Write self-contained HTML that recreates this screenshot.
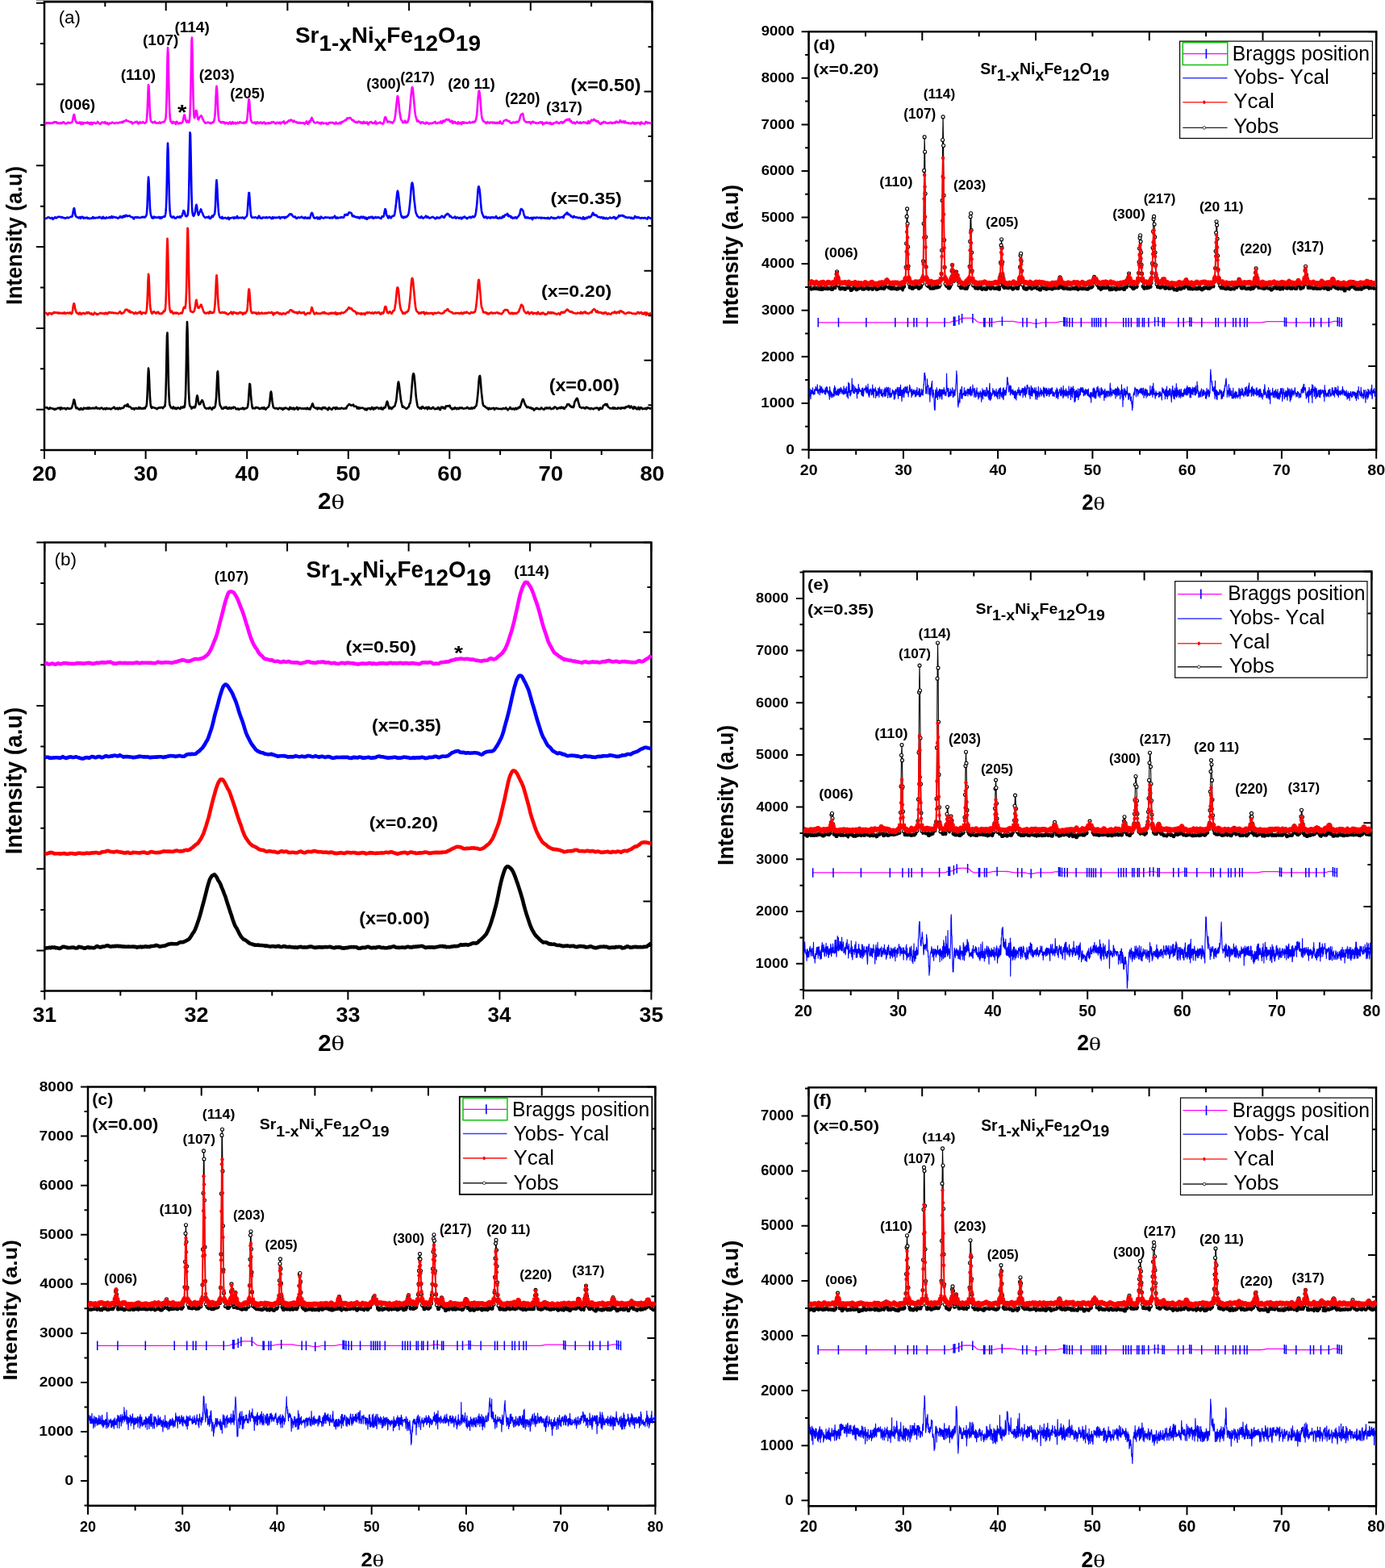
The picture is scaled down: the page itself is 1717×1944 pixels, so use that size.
<!DOCTYPE html>
<html><head><meta charset="utf-8"><title>XRD</title><style>html,body{margin:0;padding:0;background:#fff;overflow:hidden}svg{display:block}</style></head><body>
<svg width="1717" height="1944" viewBox="0 0 1717 1944">
<rect width="1717" height="1944" fill="#fff"/>
<path fill="none" stroke="#000" stroke-width="2.0" d="M45 3.7H55M50 54.1H55M45 104.5H55M50 154.9H55M45 205.3H55M50 255.7H55M45 306.1H55M50 356.5H55M45 406.9H55M50 457.3H55M45 507.7H55M50 558.1H55M55 557.9V568.9M117.8 557.9V563.9M180.6 557.9V568.9M243.4 557.9V563.9M306.2 557.9V568.9M369 557.9V563.9M431.8 557.9V568.9M494.5 557.9V563.9M557.3 557.9V568.9M620.1 557.9V563.9M682.9 557.9V568.9M745.7 557.9V563.9M808.5 557.9V568.9M55 2.3V13.3M130.3 2.3V8.3M205.7 2.3V13.3M281.1 2.3V8.3M356.4 2.3V13.3M431.8 2.3V8.3M507.1 2.3V13.3M582.5 2.3V8.3M657.8 2.3V13.3M733.1 2.3V8.3M808.5 2.3V13.3M798.5 2.3H808.5M803.5 57.9H808.5M798.5 113.4H808.5M803.5 169H808.5M798.5 224.5H808.5M803.5 280.1H808.5M798.5 335.7H808.5M803.5 391.2H808.5M798.5 446.8H808.5M803.5 502.3H808.5M798.5 557.9H808.5"/>
<path fill="none" stroke="#000" stroke-width="2.5" stroke-linecap="square" d="M55 2.3H808.5V557.9H55Z"/>
<rect x="45" y="0" width="764" height="1.2" fill="#9a9a9a"/>
<path fill="none" stroke="#ff00ff" stroke-width="2.6" stroke-linejoin="round" d="M56 152.9l.5.7.5-.2.5-.9.5-.5.5.3.5.3.5.2.5-.4.5-.3.5.7.5.3.5-.3.5-.3.5-.1.5.5.5.1.5-.4.5-.1.5.1.5-.9.5-.2.5.6.5-.4.5-.7.5.3.5.3.5-.4.5.1.5 1 .5.6.5-.5.5-.3.5.6.5.2.5-.2.5.3.5.2.5-.8.5-.4.5.5.5.5.5-.2.5-.9.5-.4.5-.2.5 0 .5.9.5.4.5 0 .5.7.5.2.5-.3.5-.1.5-.4.5-.6.5.5.5-.2.5-.7.5.3.5.5.5.1.5-.3.5-.1.5-.1.5-.3.5-.1.5-.6.5-1.8.5-2.5.5-2.4.5-2.1.5-.3.5 2.2.5 3.4.5 2 .5.7.5 1.3.5.8.5-.5.5.1.5.4.5-.3.5.6.5.1.5-1 .5-.4.5.2.5 1 .5 1.4.5-.5.5-1.7.5 0 .5 1.3.5.6.5-.8.5-.7.5.2.5.1.5-.4.5 0 .5.5.5.1.5-.3.5-.5.5-.4.5.7.5.8.5-.7.5-.3.5 1 .5.8.5.1.5-.9.5-1.2.5.1.5 1.7.5.5.5-1.5.5-.6.5.4.5-.3.5-.1.5.2.5.6.5.4.5-.1.5-.2.5-.3.5-.7.5-1 .5.4.5 1 .5.2.5.3.5.5.5.3.5 0 .5-.3.5-.8.5-.7.5-.1.5 0 .5-.2.5.3.5.5.5.2.5-.7.5-.6.5.7.5 1 .5.4.5-.4.5-.8.5.3.5 1.2.5.4.5.3.5-.3.5-1.3.5-.1.5.4.5.1.5-.1.5-.2.5-.6.5-.6.5.1.5.3.5.2.5.2.5.5.5.3.5-.3.5-.2.5-.3.5-.3.5-.1.5.2.5.3.5.2.5-.4.5-.3.5.3.5-.3.5-.4.5.2.5.2.5 0 .5-.4.5-.6.5.5.5.7.5-.6.5-1 .5-.4.5.1.5.2.5-.7.5-.1.5-.2.5-.8.5.5.5.7.5 0 .5.1.5.3.5.1.5.1.5.3.5.2.5.1.5.4.5-.2.5-.2.5 1.2.5 1.1.5-.4.5-.6.5 0 .5-.2.5-.1.5-.4.5-.6.5.4.5.1.5-.4.5-.4.5 0 .5.8.5 1.4.5.5.5-.4.5-.2.5-1 .5-.7.5.7.5.5.5-.2.5.2.5 0 .5-1 .5-.4.5.5.5.3.5.2.5.8.5.1.5-.8.5-.2.5 0 .5-1.1.5-3.3.5-7.4.5-11.7.5-14 .5-9.4.5 1.9.5 11.1.5 13.5.5 9.7.5 5.9.5 3 .5.7.5.5.5.1.5 0 .5.9.5-.2.5-.5.5.3.5-.4.5-.8.5.6.5 1 .5.3.5-.2.5 0 .5 0 .5.1.5.3.5-.1.5-.2.5-.3.5-.8.5.4.5 1 .5-.3.5-.5.5-.1.5-.2.5-.1.5-.2.5-.4.5-.1.5.3.5-.8.5-1.3.5-.6.5-2.1.5-7.1.5-15.7.5-24 .5-26.6.5-14 .5 8.5.5 22.5.5 24.2.5 17.5.5 10.5.5 5.6.5 2.5.5.9.5-.2.5.9.5 1 .5-1.2.5-.8.5.6.5.5.5.4.5-.4.5-.4.5 1.1.5 1.3.5-1.2.5-2 .5.2.5.7.5.5.5.5.5.7.5 0 .5-.5.5-.5.5-.2.5.4.5.4.5-.5.5-.5.5 0 .5-1.1.5-2.2.5-2.6.5-2.2.5-1.6.5.5.5 3 .5 2.6.5 1.4.5 1.3.5.5.5-.9.5-1.1.5.5.5 1.1.5.5.5-.4.5-2.6.5-6.4.5-11.9.5-21.4.5-31.2.5-27.1.5-4.1.5 17.2.5 27.7.5 26.4.5 17.3.5 8.4.5 2.7.5-.9.5-2.8.5-3.3.5-2.2.5-.1.5 1.6.5 3.7.5 3.8.5 1.8.5.4.5-.6.5-1.6.5-1.2.5-.4.5-.3.5-.5.5-.4.5.7.5 2.1.5 1.2.5.2.5 1.2.5 1.4.5.6.5.5.5.9.5.7.5-.2.5-.2.5-.3.5-.2.5.2.5-.2.5-.4.5.3.5.3.5.3.5-.3.5 0 .5.9.5.3.5-.2.5-.5.5-.8.5-.5.5.2.5.3.5-1 .5-1.6.5-2.1.5-4.5.5-8.2.5-11.8.5-11.3.5-4.5.5 3.2.5 9 .5 12.4.5 9.7.5 5.2.5 3.2.5 1 .5.2.5.1.5.4.5 1.1.5.1.5-.8.5-.4.5-.2.5.8.5.3.5-.7.5.1.5 1 .5.8.5-.1.5-1 .5-.3.5.4.5-.1.5.2.5 1 .5.3.5-.8.5-.4.5-.4.5-.7.5.1.5.9.5 1.3.5-.2.5-.9.5-1 .5-.5.5 1.4.5.8.5-.7.5.2.5-.2.5-.6.5.9.5.6.5-.6.5-.3.5-.2.5-.7.5.6.5.4.5-.5.5.3.5-.7.5-.8.5.4.5.4.5.1.5.1.5.4.5-.1.5-.2.5-.2.5.3.5.6.5-.3.5-1 .5-.1.5.9.5 0 .5-1.1.5-1.5.5-3.2.5-5.1.5-6.8.5-6.9.5-4.5.5 1 .5 6 .5 7.5.5 6.3.5 4.2.5 1.9.5 1 .5.7.5.4.5-.1.5-.1.5.4.5-.3.5-.6.5.1.5 1 .5.9.5 0 .5-.8.5-1.2.5-.2.5.3.5.4.5.8.5 0 .5-.2.5-.2.5-.7.5-.3.5.4.5.7.5.4.5.3.5-.4.5-1 .5 0 .5.2.5-.5.5.5.5 1.2.5.5.5-.3.5-.7.5-.1.5.3.5-.3.5.3.5.3.5-.8.5-.4.5.4.5.5.5 0 .5-.1.5-.5.5-.9.5.1.5.5.5-.4.5-.5.5 0 .5.4.5.3.5.1.5.9.5.6.5-.2.5 0 .5-.6.5-.8.5-.1.5.3.5.2.5.2.5.6.5-.5.5-.9.5 1.1.5.6.5-.6.5-.5.5-.5.5-.2.5.1.5 0 .5-.9.5-.3.5 2 .5 1 .5-.7.5-.4.5-.2.5-.4.5.5.5-.3.5-1.1.5-.3.5-.5.5-.6.5.9.5-.1.5-1.2.5 0 .5-.3.5-.2.5.7.5 0 .5.4.5 1 .5.6.5-.6.5-1.1.5.4.5 1.2.5.2.5-.1.5 0 .5 0 .5.6.5.7.5-.4.5-.2.5.6.5.1.5-.7.5 0 .5.5.5.4.5-.1.5-.4.5 0 .5.1.5.1.5-.2.5-.3.5.3.5 1 .5.4.5-.8.5-.1.5-.1.5-1.6.5-.7.5.8.5 1.5.5 1.1.5-.2.5-.6.5-1.2.5-1.8.5.1.5 1.1.5-1.1.5-2 .5-1.4.5-.8.5 1.3.5 1.6.5.3.5 1 .5 1.3.5.5.5.1.5.1.5.4.5 0 .5-.6.5-.1.5-.1.5-.4.5.3.5.7.5 0 .5.1.5.6.5-.6.5-.3.5 1.3.5.3.5-1.2.5-.6.5.1.5-.1.5.6.5.8.5-.2.5-.4.5 0 .5 0 .5.4.5 0 .5-.6.5.6.5.9.5-.7.5-.3.5.5.5-.8.5-.7.5.2.5-.3.5.1.5.4.5-.2.5-.4.5-.1.5.5.5.5.5-.6.5.3.5.8.5-.1.5.3.5.1.5-1.3.5-.6.5.8.5.7.5 0 .5-.1.5.4.5-.3.5-.6.5.3.5-.2.5-.8.5.5.5 1 .5-.7.5-1.5.5.1.5.3.5-.4.5-.7.5-.2.5.2.5-.5.5-.7.5-.4.5-.2.5.3.5-.6.5-1.2.5-.8.5.3.5.4.5-.3.5-.4.5-.3.5.1.5-.1.5.2.5 1.1.5.1.5.4.5 1.3.5.3.5-.1.5-.3.5.2.5 1.3.5.8.5 0 .5.2.5-.4.5 0 .5.8.5.4.5-.1.5-.6.5-.8.5-.3.5.2.5.2.5.3.5.7.5-.5.5.3.5 1.2.5-.7.5-.5.5 1.3.5 0 .5-1.4.5-.7.5.8.5.9.5-.3.5-.5.5.7.5.2.5-.9.5-.4.5.7.5 1.6.5.6.5-.9.5-.6.5-.7.5-.7.5.1.5-.2.5-.3.5.5.5.6.5.7.5.2.5-.5.5-.4.5.3.5.4.5-.1.5-1.3.5-1 .5 1.5.5 1.7.5-.4.5-.6.5.3.5.1.5-.4.5-.4.5.1.5-.1.5-.6.5-.1.5.8.5.7.5 0 .5-.2.5.5.5.4.5-.8.5-.6.5-1.1.5-2.7.5-2.5.5-.9.5.2.5.8.5 1.6.5 1.4.5 1.2.5 1.3.5-.2.5-.6.5 0 .5-.2.5.2.5.6.5.3.5.1.5-.5.5.3.5.8.5.4.5-.5.5-.9.5-.8.5-.6.5-1.3.5-2.4.5-3.1.5-4 .5-5.1.5-4.8.5-4.6.5-4.2.5-1.5.5 1.7.5 3.7.5 4.8.5 5.4.5 4.4.5 3.2.5 2.9.5 2.3.5 1.4.5.5.5.5.5 1.3.5 1 .5 0 .5-.1.5-.1.5-1.3.5-.9.5.6.5 1 .5 1 .5-.2.5-.9.5.5.5-.3.5-1.9.5-1.5.5-2.1.5-4.2.5-5.1.5-5.6.5-6.1.5-5.6.5-5.2.5-4 .5-2 .5.7.5 3.5.5 4.9.5 5.6.5 5.7.5 5.7.5 4.8.5 3.7.5 2.2.5 1.2.5 1.9.5 2 .5.6.5-.9.5-.3.5.8.5.8.5 0 .5.3.5 1 .5.6.5-.6.5-.7.5.1.5-.2.5-.1.5.8.5.1.5 0 .5.8.5.2.5 0 .5.1.5-.8.5-1 .5.3.5.6.5-.4.5.1.5.7.5.7.5.1.5-.6.5-.4.5.2.5-.1.5 0 .5.4.5-.4.5-.4.5.4.5-.1.5-.5.5-.6.5 0 .5-.1.5-.5.5.6.5 1.4.5-.1.5-.1.5.2.5-.3.5-.5.5-.4.5.1.5.4.5.2.5-.3.5-1.2.5-.5.5.8.5 1.2.5.2.5-.9.5-1.7.5-.6.5.8.5.4.5-.2.5-.1.5-.9.5-1.2.5-.3.5.1.5-.2.5.4.5.5.5-.5.5-.4.5.1.5.8.5 1.3.5.6.5.2.5.4.5-.2.5-1.4.5.4.5 2.6.5.5.5-1.3.5-1.1.5.6.5.5.5-.9.5.6.5 1.2.5.1.5-.1.5.4.5.2.5-1.4.5-.7.5 1.2.5.7.5-.2.5-.2.5-.8.5-.1.5 1.4.5.8.5-.6.5-1.3.5-1 .5.1.5.7.5.7.5-.3.5-.7.5.3.5.4.5-.1.5-.1.5.1.5.3.5 0 .5-.4.5-.2.5.2.5-.6.5-.6.5.7.5.7.5.1.5-.3.5-.3.5.1.5-.2.5-.8.5.1.5.6.5-.7.5-.2.5.4.5-.4.5-.9.5-1.4.5-2.5.5-3.3.5-4.9.5-7.1.5-7 .5-6 .5-4.4.5-.7.5 1.9.5 3.4.5 5.6.5 7.2.5 6.6.5 5.4.5 3.4.5 1.7.5 1.3.5 1.1.5.2.5 0 .5.6.5.4.5 0 .5.6.5.9.5.2.5-.6.5-.9.5-.4.5.5.5.4.5-.1.5.2.5.6.5-.4.5-.8.5-.1.5.3.5 0 .5-.2.5.4.5.6.5-.4.5-.6.5.1.5.6.5.6.5 0 .5-.8.5-.2.5.9.5.2.5-.3.5-.4.5-.6.5.2.5.7.5.3.5-1.2.5-1.3.5.8.5 1.4.5.4.5.3.5.3.5-.4.5-.8.5-1.3.5-1.3.5.1.5-.2.5-.7.5 0 .5-.1.5-.4.5.1.5.5.5.5.5.5.5.1.5-.3.5.2.5.2.5.8.5 1 .5.1.5-.1.5.5.5.2.5-.5.5-.3.5-.5.5.1.5.3.5-.1.5.5.5 0 .5-.7.5 0 .5-.3.5-.6.5.2.5.6.5 0 .5-.5.5-.6.5-.9.5-1.1.5-1.7.5-2.2.5-1.5.5-1 .5-.3.5-.2.5-.5.5-.1.5 1.3.5 3 .5 2.8.5 1.4.5.7.5.3.5.4.5.6.5.1.5-.2.5.3.5-.1.5 0 .5.2.5-.1.5-.4.5.1.5.2.5.8.5 1 .5-.7.5-.9.5-.2.5-.6.5-.3.5 1 .5.5.5-.5.5 0 .5.1.5.4.5.6.5.2.5-.3.5-.2.5.2.5-.1.5.2.5.1.5-.7.5-.3.5.3.5-.4.5-.4.5.5.5.7.5-.6.5-.6.5 1.5.5 1.6.5-.5.5-1.3.5-.1.5.5.5.1.5-.7.5-.4.5.7.5-.1.5-.9.5.2.5.6.5.2.5.3.5.2.5-.3.5-.8.5-.3.5 1 .5 1.2.5 0 .5-1 .5-.2.5.9.5.1.5-.6.5-.5.5-.4.5 0 .5-.2.5-.1.5.2.5-.7.5-.7.5.6.5.9.5 0 .5-.1.5.5.5.4.5-.3.5-.7.5-.1.5-.2.5-.6.5-.2.5.3.5.8.5.7.5-.7.5-.9.5.2.5.1.5-1.1.5-.9.5-.4.5-.2.5.2.5-.4.5-.9.5.4.5.7.5-.5.5-.3.5-.5.5-.1.5 1.7.5 1.4.5-.5.5-.3.5 1 .5 1.1.5.6.5.1.5-.4.5-.5.5-.1.5.8.5.6.5.3.5-.2.5-.7.5-.5.5-.7.5-.3.5.8.5.4.5-.1.5.5.5.3.5-.4.5-.8.5-.2.5 1.1.5.4.5-.5.5-.4.5 0 .5.1.5-.6.5-.2.5.5.5-.2.5 0 .5.5.5-.2.5-.1.5.9.5.5.5 0 .5-.3.5-1.8.5-1 .5 1.4.5 1.4.5-.5.5-1.2.5-.4.5-.6.5-1.2.5-.4.5.6.5.3.5-.4.5-.1.5-.8.5-.4.5 1 .5 0 .5.6.5.8.5-.7.5 0 .5 1.2.5.1.5-.6.5.1.5 1.1.5.8.5.1.5.6.5.8.5.2.5-.1.5-.8.5-.9.5.6.5.2.5-.8.5-.8.5-.5.5.5.5.4.5-.2.5-.1.5.6.5.5.5-.1.5.2.5.4.5-.2.5-.4.5-.3.5.2.5.3.5-.2.5-.5.5-.3.5.2.5.6.5.7.5-.2.5-.8.5.2.5.1.5 0 .5-.6.5-.2.5 1 .5-.2.5-1.3.5-.6.5.3.5.1.5.4.5.8.5 0 .5-.5.5.1.5-.3.5-1.6.5-.7.5.9.5 1 .5.6.5-.1.5-.2.5-.3.5-.7.5.1.5.9.5 1 .5-.9.5-1 .5 1.1.5.6.5 0 .5.1.5.2.5.4.5-.4.5-.1.5.7.5 0 .5-.3.5 0 .5.2.5.5.5-.2.5-.4.5-.3.5-.8.5-.1.5.8.5.7.5.4.5-.7.5-.7.5.6.5.7.5 0 .5-.8.5-.4.5.4.5 0 .5-.4.5-.2.5.3.5.3.5.8.5.8.5-.9.5-1.4.5-.5.5.5.5.8.5.2.5-.1.5.1.5.2.5.4.5.1.5-.6.5-.9.5-1 .5-.1.5.4.5.3.5.9.5.4.5-.6.5-.5.5.2.5.2.5 0 .5.4.5.2.5.1.5 0"/>
<path fill="none" stroke="#0000ff" stroke-width="2.6" stroke-linejoin="round" d="M56 270.1l.5.5.5.4.5-.3.5-.2.5-.4.5-.5.5-.2.5 0 .5.2.5-.1.5.4.5.6.5.1.5.1.5 0 .5-.3.5-.5.5.8.5 1.1.5-.3.5-.6.5-.2.5-.5.5-.9.5 0 .5.9.5.3.5-.6.5-.3.5.1.5-.3.5-.6.5 0 .5.2.5-.3.5 0 .5.3.5.2.5.5.5 0 .5-.2.5-.4.5.3.5.7.5.1.5-.3.5.2.5.1.5.3.5.3.5-.5.5-.1.5 0 .5-.6.5-.2.5.6.5.2.5-.2.5-.1.5-.3.5-.2.5-.3.5-.4.5 0 .5-.2.5.2.5-.3.5-2 .5-2.8.5-2.8.5-2.3.5-.3.5 2.4.5 3.7.5 2.6.5 1 .5.6.5.5.5.1.5.1.5.6.5.3.5-.4.5.6.5-.2.5-1.1.5.6.5 1.3.5-.5.5-1.3.5-.3.5 0 .5 0 .5.9.5 1.1.5-.4.5-.7.5.1.5.6.5-.2.5-.2.5.2.5-.6.5 0 .5 1 .5.3.5-.6.5 0 .5.6.5.1.5 0 .5-.1.5-.4.5.1.5 0 .5 0 .5-.4.5-1.2.5.2.5 1.4.5-.2.5-.6.5.4.5.3.5-.4.5 0 .5-.1.5-.2.5.3.5.1.5-.7.5.1.5.2.5-.9.5-.1.5 1 .5.2.5-.1.5-.2.5.5.5.8.5-1 .5-1 .5-.2.5.9.5 1 .5-.2.5-.4.5.2.5.5.5-.7.5-.7.5.5.5.2.5.1.5 0 .5-.1.5-.3.5-.8.5 0 .5 1 .5.2.5-.3.5-.8.5-.9.5.8.5 1.1.5-.4.5-.7.5-.2.5.2.5.4.5.2.5 0 .5-.3.5 0 .5.5.5.2.5.3.5.5.5-.3.5-.7.5 0 .5.1.5-.9.5-.8.5.6.5.6.5 0 .5.4.5-.6.5-1 .5.7.5.5.5-1.3.5-.8.5.8.5.6.5-.7.5-1 .5-.2.5.4.5.8.5.2.5-.4.5-.1.5 0 .5 0 .5-.3.5.3.5.7.5.3.5.5.5 0 .5 0 .5.2.5 0 .5.5.5 1.3.5.2.5-1.4.5-.5.5 0 .5-.3.5.2.5-.1.5.5.5.1.5-.9.5.4.5.4.5-.3.5.4.5.1.5 0 .5-.1.5-.4.5.1.5-.2.5-.5.5.2.5.4.5-.1.5-.6.5-.1.5.7.5.2.5-.5.5-.6.5-.8.5-.9.5-2.6.5-7.3.5-13.3.5-15.9.5-8.2.5 4.2.5 10.7.5 12.8.5 10.8.5 5.8.5 2.3.5 1.6.5 1.9.5.6.5-1 .5.2.5 1.2.5-.4.5-1.5.5.3.5.5.5-.5.5.4.5.6.5-.1.5-.4.5-.1.5.1.5.3.5-.1.5-.8.5.2.5 1.2.5.5.5-.7.5-.9.5.2.5 1 .5-.5.5-1 .5-.1.5.1.5-.5.5-.2.5.6.5-.5.5-2.1.5-3.3.5-6.5.5-14.5.5-24.8.5-27.3.5-12.2.5 8.7.5 20.6.5 23.4.5 18.4.5 10.9.5 5.3.5 2.8.5 1.1.5-.4.5.2.5 1.3.5-.2.5-.8.5-.3.5 0 .5.8.5.8.5.5.5.1.5-.2.5-.3.5-.8.5-.4.5-.1.5-.3.5.2.5.5.5.3.5-.6.5-.8.5.9.5.4.5-1.3.5-.3.5-.2.5-1.3.5-1.5.5-2 .5-1.9.5.3.5 1 .5 1.2.5 2.3.5 1.8.5.4.5.2.5-.1.5-.5.5-.6.5-2.3.5-6 .5-12.8.5-24.4.5-33 .5-24.2.5 1.7.5 21.5.5 28.6.5 25 .5 15.2.5 6.9.5 2.8.5 1.1.5.6.5-.4.5-1.1.5-1.6.5-2.7.5-3.5.5-3.4.5-1.3.5 1.9.5 3.9.5 3.2.5 2.4.5 1.5.5-.9.5-1.8.5-.9.5-.8.5-1.7.5-1.2.5.7.5 2 .5 1.3.5.6.5 1.6.5 1.5.5.7.5.5.5.7.5.7.5.2.5.1.5-.4.5-.4.5-.1.5.1.5.5.5.3.5-1.2.5-.5.5 1.3.5 1.2.5.2.5-.1.5-.5.5-1 .5-.9.5-.9.5.7.5.5.5-1.3.5-1 .5-.2.5-.7.5-3.1.5-7.4.5-12.5.5-13.4.5-5.8.5 4.8.5 9.6.5 10.1.5 9 .5 6.3.5 3.3.5 1.7.5 1.1.5.5.5 0 .5.6.5.2.5-1.4.5-.3.5 1.3.5.8.5-.3.5-.3.5-.2.5-.1.5-.2.5.3.5.2.5.2.5.5.5-.3.5-.7.5-.3.5-.3.5 1.3.5 1.2.5-.8.5-.8.5 0 .5 0 .5-.2.5 0 .5-.3.5-.2.5.3.5-.5.5.1.5 1.2.5-.6.5-.8.5.8.5.2.5-.1.5-.1.5-1.3.5-.9.5 1.2.5 1.2.5 0 .5-.6.5 0 .5.3.5-.2.5-.1.5 0 .5.1.5.4.5-.4.5-.3.5-.1.5 0 .5.7.5.7.5.1.5-.7.5-.6.5-.3.5-.8.5-.2.5-.5.5-3 .5-6.2.5-7.4.5-6.9.5-5.4.5 0 .5 6.1.5 8.7.5 7.4.5 4.5.5 2.6.5 1 .5.5.5.2.5-.3.5-.1.5-.2.5.1.5.3.5-.2.5-.2.5 0 .5.1.5.4.5.5.5-.1.5.2.5-.4.5-1.7.5-.7.5.4.5 1.2.5 1.1.5.1.5-.4.5 0 .5.7.5-.2.5-1 .5-.2.5.4.5-.1.5-.1.5.4.5-.1.5 0 .5.3.5-.8.5-.3.5.8.5.3.5-.3.5-.1.5-.1.5-.5.5-.1.5.5.5-.1.5.3.5.5.5.7.5.1.5-1.4.5-.5.5 1 .5.5.5-.9.5-.4.5.5.5-.2.5.1.5.4.5-.5.5-.1.5.4.5 0 .5-.2.5-.4.5-.1.5-.5.5.4.5 1.4.5.3.5-.6.5-.7.5-.1.5-.2.5-.2.5.5.5-.1.5-.4.5 0 .5 1 .5.4.5-.7.5-.9.5.2.5.5.5-.4.5-.4.5-.6.5-.4.5-.2.5-1.1.5-.2.5-.4.5-.7.5.5.5.4.5-.5.5-.1.5.9.5.9.5.5.5.7.5.4.5.2.5.1.5-.6.5 0 .5.9.5.8.5.6.5-.1.5-.6.5-.4.5-.2.5-.2.5.3.5.4.5-.3.5-.2.5.1.5-.1.5-.6.5-.3.5.7.5.5.5.2.5-.4.5 0 .5 1.1.5 0 .5-1.2.5-.4.5.7.5.4.5-.3.5.4.5.3.5-.8.5-.2.5.8.5-.1.5 0 .5.4.5-1.2.5-1.9.5-1.6.5-1.7.5-.5.5.3.5 1 .5 1.7.5 1.7.5 1.1.5.6.5.2.5 0 .5-.3.5-.3.5.2.5-.1.5-.7.5 1.3.5.8.5-1.1.5-.4.5-.3.5.6.5 1.3.5-.4.5-1.5.5-1 .5.4.5.9.5.1.5 0 .5.3.5.2.5 0 .5-.7.5-.3.5.1.5-.4.5.5.5.2.5-.4.5 0 .5.1.5.2.5-.3.5 0 .5.5.5.3.5.2.5-.4.5-.5.5.7.5 0 .5-.7.5.3.5.5.5-.9.5-.3.5.2.5-.8.5-.9.5.7.5 1.4.5.8.5-.1.5-.6.5-.4.5.7.5.3.5-.4.5 0 .5-.2.5 0 .5-.3.5-.2.5.5.5-.4.5-.4.5.2.5.3.5 0 .5 0 .5.1.5-.7.5-1.7.5-1.2.5.4.5.2.5-.8.5-.2.5.5.5.5.5 0 .5-1.2.5-1.3.5-.7.5-.2.5.5.5.2.5-.4.5.3.5.3.5.7.5 1.9.5 1.4.5-.3.5-.3.5-.1.5.5.5 1 .5-.2.5-.2.5.4.5.3.5.2.5-.2.5-.4.5.6.5.6.5-.8.5.1.5 1.1.5.2.5-.8.5-1 .5 0 .5-.1.5 0 .5 1.2.5.2.5-1.2.5-.4.5.6.5.1.5.4.5 1.3.5-.2.5-1.1.5.5.5 1.5.5 0 .5-1.3.5-.1.5.1.5-1 .5.2.5.7.5-.5.5-.7.5-.3.5.5.5.5.5-.6.5-.5.5 1 .5 1.1.5-.5.5-.6.5.2.5.3.5-.6.5-.6.5.5.5.6.5-.2.5-.3.5.3.5-.5.5-.3.5.8.5.1.5-.2.5.3.5.6.5.3.5-.1.5-1 .5-1.5.5-.2.5.6.5-.1.5-.3.5-1.6.5-3.1.5-2.8.5-1.7.5.4.5 2.2.5 3.2.5 2.1.5.5.5 1 .5 1.6.5.2.5-1.3.5-1.3.5.4.5.8.5.6.5.7.5-.3.5-.9.5-.8.5-.4.5 0 .5 0 .5-.1.5-.4.5-1 .5-2.4.5-3.7.5-3.8.5-4 .5-5 .5-5.4.5-4 .5-1.4.5 1.7.5 3.5.5 4.2.5 5.1.5 5.3.5 3.9.5 2.8.5 2.4.5 1.9.5 1.7.5.3.5-1 .5.4.5 1.3.5-.2.5-.8.5-.5.5.1.5.6.5-.4.5-.4.5.4.5-.6.5-.9.5-.2.5-.9.5-1.8.5-2.6.5-3.7.5-4.6.5-5.2.5-5.9.5-6.4.5-5.8.5-3.1.5-.7.5 1.1.5 2.9.5 4.6.5 6.7.5 6 .5 4 .5 4.1.5 4.2.5 3.2.5 1.4.5.7.5 1.7.5.7.5.2.5.8.5.4.5.4.5 0 .5-.2.5.6.5-.1.5-1.1.5-.7.5.7.5.7.5.5.5.5.5-.3.5-.4.5-.2.5-.5.5 0 .5-.6.5-1 .5.6.5 1.3.5.2.5-.6.5-.4.5.5.5.9.5-.2.5.1.5.5.5-.4.5-.2.5 0 .5-.6.5 0 .5-.2.5-.3.5.4.5.5.5.3.5.1.5.3.5.8.5.2.5-.5.5-.5.5-.9.5-.2.5.6.5.4.5-.5.5 0 .5.7.5-.7.5-.1.5.3.5-.9.5-.7.5-.5.5-.2.5.3.5 1 .5.4.5-.1.5.5.5-.3.5-1.3.5-1 .5-.7.5-.2.5.1.5-.6.5-.9.5.1.5.4.5.3.5.5.5.9.5 1.3.5 0 .5-.7.5.6.5.9.5.2.5.4.5.3.5-.1.5-.1.5.1.5-.3.5-.9.5-.3.5.9.5 1.2.5 0 .5-.4.5-.3.5-.5.5.1.5.5.5.3.5.4.5-.3.5-.5.5-.2.5 0 .5.6.5 1.1.5-.1.5-1.4.5 0 .5.2.5-.8.5-.2.5-.4.5-.2.5 1 .5.4.5-.2.5.2.5.7.5.6.5-.4.5-.7.5-.3.5-.1.5-.2.5-.3.5-.4.5.2.5.8.5.4.5-.5.5-.5.5-.6.5-.4.5.7.5.4.5 0 .5-.2.5-.8.5-1 .5-1.6.5-2.4.5-3.5.5-4.2.5-5.5.5-7.2.5-6.6.5-4.3.5-.9.5 1.6.5 2.1.5 4.2.5 6.4.5 6.2.5 5.5.5 4.3.5 2.4.5 1.4.5 1.1.5 1.3.5 1 .5 1 .5.2.5-.9.5 0 .5.6.5-.1.5-.7.5.9.5 1 .5-.4.5-.4.5-.4.5-.1.5.7.5.2.5-.1.5.4.5-.6.5-.8.5.3.5.3.5-.1.5-.4.5.2.5.7.5-.1.5-.4.5 0 .5.2.5-.6.5-1 .5.4.5 1.1.5.9.5 0 .5-.3.5.4.5-.1.5-.6.5-.5.5.2.5.6.5-.4.5-.2.5.7.5-.5.5-1.6.5-.5.5.6.5.8.5-.3.5-1.7.5-.7.5.2.5-.2.5-.3.5.1.5-.8.5-.7.5 1.1.5 2 .5.3.5-1.1.5.2.5.5.5-.1.5 1.6.5.3.5-1 .5.7.5 1.1.5.3.5-.3.5-.6.5.3.5.4.5-.3.5-.7.5-.4.5.5.5.8.5.3.5-.7.5-1 .5-.3.5-.1.5-1.1.5-1 .5-.1.5-1.4.5-3.2.5-1.9.5-.8.5-.1.5.8.5.4.5.5.5 1 .5 2.1.5 2.4.5 1 .5 1.1.5 1.7.5.1.5-.8.5-.2.5.7.5.5.5-.5.5-.4.5.4.5.6.5.1.5.1.5-.2.5-.4.5.5.5-.1.5-.6.5 1.3.5 1.1.5-1.1.5-1.1.5-.4.5.2.5.3.5.2.5-.4.5-.2.5.6.5-.3.5-.5.5.1.5.1.5.3.5.1.5 0 .5-.1.5-.2.5-.1.5 0 .5.8.5.1.5-.8.5 0 .5.4.5-.1.5.2.5.2.5-.4.5-.1.5.6.5.2.5-.4.5-.2.5.2.5.6.5-.1.5-.9.5-.2.5.4.5.7.5.3.5-.6.5 0 .5-.1.5-1 .5-.3.5.4.5.4.5.1.5.3.5.4.5-.7.5 0 .5.8.5-.1.5-.4.5.1.5.2.5-.2.5-.3.5-.5.5-.4.5-.5.5-.1.5.7.5.8.5-.1.5-.4.5-.3.5-.1.5-.1.5 0 .5 0 .5-.5.5.9.5.5.5-1.6.5-1.4.5-.7.5-.5.5-.3.5.1.5-.7.5-1.2.5-.3.5.4.5 1.2.5 1 .5-.2.5-.3.5.7.5.4.5.1.5 1.3.5.3.5-.4.5.7.5 0 .5.6.5.5.5-1.2.5-.7.5.4.5.5.5.5.5.1.5-.1.5.1.5 0 .5.1.5.4.5-.2.5.2.5.4.5-.4.5-.1.5 0 .5.3.5.5.5.4.5-.2.5-.1.5.8.5-.7.5-1.6.5.4.5 1.8.5.2.5-1 .5.2.5.1.5-.7.5-.5.5.3.5.3.5-.6.5-.5.5 0 .5-.7.5.2.5 1 .5-.3.5-.7.5-.1.5-.2.5-1.4.5-1.2.5-.6.5-1.4.5.5.5 2.1.5.3.5-.8.5.1.5.8.5.4.5-.4.5-.1.5.8.5.9.5.4.5.3.5.2.5-.3.5 0 .5 0 .5.3.5.8.5-.4.5-.5.5.1.5.2.5.7.5.7.5-.4.5-.9.5.5.5.9.5-.2.5.3.5-.2.5-.9.5.5.5.6.5.1.5.2.5-.6.5-.4.5-.1.5-.2.5-.5.5-.1.5.8.5.1.5-.2.5.2.5-.2.5-.1.5-.5.5-.7.5.6.5.7.5-.9.5.3.5 1.5.5.5.5-.7.5-.8.5-.3.5.1.5-.3.5-1.1.5-1 .5-.5.5.4.5.7.5-.4.5-.5.5.2.5.1.5 0 .5-.7.5.3.5 1.2.5-.1.5-.4.5.2.5.4.5.9.5.2.5-.3.5.1.5.5.5.1.5-.4.5.3.5.2.5-.6.5.2.5.2.5-.3.5.4.5.7.5-.3.5-.6.5.2.5.6.5.6.5-.1.5.1.5-.4.5-1.6.5-1.1.5.5.5.6.5-.2.5.6.5.5.5-.8.5-.1.5.8.5 0 .5-.5.5.5.5.6.5-.2.5.2.5.3.5-.3.5-.6.5.1.5.2.5 0 .5.1.5.3.5-.2.5-.5.5 0 .5.4.5.4.5.2.5-.1.5.4.5.4.5-.9.5-1.5.5-.1.5.8.5.1.5 0 .5.4.5.6.5-.3.5-1"/>
<path fill="none" stroke="#ff0000" stroke-width="2.6" stroke-linejoin="round" d="M56 388.6l.5-.6.5-.2.5.6.5.3.5.7.5 1 .5-.1.5-.9.5-1.2.5-.1.5.7.5-.1.5-.4.5 0 .5.8.5.7.5-.9.5-.6.5.3.5-.2.5-1 .5-.5.5.7.5.4.5-.3.5-.3.5.1.5.4.5-.1.5-.5.5.5.5.7.5-.4.5-.6.5.3.5.8.5-.2.5-.5.5.3.5.2.5.2.5 0 .5-.7.5-.2.5.6.5.4.5-.8.5-.6.5.4.5 1.1.5.2.5-.7.5-.3.5.1.5-.1.5-.3.5.2.5.5.5 0 .5-.3.5-.6.5-.1.5.5.5 1 .5.3.5-.6.5-1 .5-2.6.5-3.6.5-3.3.5-1.8.5.2.5 2.2.5 3.1.5 2.2.5 1.5.5 1.4.5.9.5.5.5.2.5-.3.5.4.5.9.5-.1.5-1.1.5-.6.5.3.5.7.5 1 .5.2.5-.9.5-.7.5 0 .5 0 .5-.4.5.1.5.8.5.4.5-.1.5-.5.5 0 .5-.2.5-1.2.5.2.5 1.1.5-.3.5-1 .5 0 .5.3.5.8.5.8.5.1.5.2.5-.7.5-.3.5 1 .5.5.5.2.5.2.5-.3.5-1 .5-1.4.5.1.5.9.5.3.5-.1.5 0 .5.8.5.5.5-.4.5-.4.5 0 .5 0 .5-.5.5-.4.5.1.5-.3.5-.4.5.4.5.5.5-.2.5-.1.5.4.5 0 .5-.4.5.3.5.6.5-.4.5-1 .5-.2.5.2.5.7.5.8.5-.9.5-.5.5.5.5-.8.5-.7.5.4.5.3.5-.3.5-.3.5.3.5.7.5-.1.5-.4.5-.2.5.4.5.4.5-.2.5-.2.5.4.5.1.5-.2.5-.1.5.2.5.2.5.1.5.2.5.1.5-.2.5-.5.5-.5.5-.4.5-.9.5-.1.5 1.1.5 1 .5.7.5 0 .5-.5.5-.7.5 0 .5.2.5-.6.5-.7.5-.9.5-1 .5-.9.5-.1.5.4.5-.2.5-.2.5.2.5.4.5 1.2.5.8.5-.5.5-.8.5.6.5 1.7.5 0 .5-.4.5.3.5-.4.5.1.5.6.5-.1.5.6.5 1 .5-.3.5-.4.5-.5.5-.7.5.4.5.9.5.3.5-.3.5-.2.5.1.5-.6.5-.6.5.5.5.2.5-1 .5-.7.5.8.5 1.9.5.6.5-1.3.5-.5.5.6.5-.1.5-.5.5-.1.5.2.5.4.5.5.5.1.5-.7.5-1.7.5-3.2.5-7.5.5-12.7.5-14.4.5-8.8.5 2.3.5 10.5.5 13.6.5 10.7.5 5.6.5 2.5.5 1.6.5 1.8.5.4.5-.6.5-.4.5-.8.5-.8.5.1.5.8.5.4.5.1.5.8.5.3.5-.8.5-.8.5.4.5.2.5-.9.5.2.5 1.7.5.2.5-.4.5.6.5.1.5-.6.5-.2.5.4.5 0 .5-.8.5-.5.5-.7.5-1.2.5.3.5.1.5-.9.5-2.5.5-6.7.5-15.3.5-25.3.5-27.2.5-12.4.5 9.1.5 21.8.5 23.8.5 18.6.5 10.3.5 3.9.5 2.3.5 1.6.5-.1.5-1.2.5-.3.5 1.4.5 1.1.5.7.5.5.5-.7.5-.7.5-.2.5.1.5.5.5.4.5-.3.5-.7.5.3.5.5.5-.3.5.5.5.7.5-.4.5-.2.5.1.5-.4.5-.6.5.1.5.4.5.2.5-.8.5-1.8.5-2.1.5-1.6.5-1.2.5-.2.5.9.5.3.5-2.1.5-5.7.5-11.9.5-23 .5-32.4.5-24.1.5 1.3.5 20.6.5 27.7.5 24.1.5 16 .5 8.7.5 3.9.5 1.1.5-.2.5.1.5.8.5.2.5-.1.5-.1.5-.4.5-.6.5-1.1.5-1.9.5-2.8.5-3.6.5-3.5.5-1.2.5 2.5.5 3.3.5 2.6.5 1.5.5.2.5-.2.5-.2.5-1 .5-1 .5-.9.5-.9.5.1.5 1.3.5 1.9.5 1.3.5 1.4.5 1.4.5 1.3.5 1 .5.1.5.8.5.2.5-.7.5.4.5.4.5-.4.5-.5.5-.1.5-.1.5.5.5.7.5-1 .5-1.4.5-.1.5 1 .5.8.5-.6.5-.3.5.9.5.2.5-.6.5-.3.5.1.5-1.6.5-3.5.5-4.7.5-7.9.5-11.2.5-11.3.5-6 .5 4 .5 10.6.5 10.9.5 8.7.5 5.9.5 3.2.5 2.2.5 1 .5 0 .5.3.5 0 .5-.2.5-.4.5-.5.5.2.5.6.5.3.5-.4.5-.4.5-.1.5.6.5.8.5-.1.5-.3.5.7.5.6.5.1.5.2.5-.1.5-.5.5-.3.5-.3.5-.4.5 0 .5-.4.5-1 .5.6.5 1.5.5.6.5-.1.5-1.3.5-1.2.5.7.5.5.5-.2.5 0 .5-.3.5.5.5.9.5-.1.5-.8.5.2.5.7.5 0 .5-.7.5-.6.5-.2.5-.4.5.2.5 1 .5.1.5-.6.5.1.5 1.2.5.8.5-.4.5-.9.5-.8.5.2.5.7.5.2.5-.9.5-.9.5-.4.5-.6.5-1.9.5-5.1.5-7.9.5-7.9.5-4.7.5.5.5 4.8.5 7.7.5 7.9.5 4.9.5 2.2.5 1.3.5.4.5-.1.5 0 .5-.3.5-.6.5.1.5.5.5.4.5 0 .5-.5.5-.2.5 1.1.5.8.5-.3.5-.5.5-.5.5-.7.5.6.5 1.1.5-.4.5-.4.5.3.5.2.5-.4.5-.8.5.2.5.7.5.3.5 0 .5-.3.5-.1.5.5.5-.3.5-.9.5 0 .5.5.5.5.5 0 .5-.6.5-.3.5-.4.5-.1.5.5.5.1.5-.1.5 0 .5.2.5-.4.5-.7.5.1.5.9.5 1 .5 1.1.5.4.5-1.3.5-1.1.5.5.5.4.5-.5.5-.6.5.2.5 0 .5-.8.5.5.5.4.5-.6.5.3.5.9.5.6.5-.4.5-.5.5.3.5.3.5.8.5.1.5-.9.5-.2.5-.4.5-.3.5.7.5.2.5.1.5.3.5 0 .5-.5.5-.9.5-.3.5-.2.5-.5.5.1.5.4.5-.2.5-.7.5-1.2.5-.8.5-.2.5-.2.5.2.5.1.5.8.5 1.1.5 0 .5-.7.5.4.5 1.1.5.2.5 0 .5.1.5-.4.5.7.5.4.5-1.1.5.5.5 1.1.5-.4.5-.7.5-.6.5-.5.5.5.5.9.5.2.5.1.5.2.5-.4.5-.6.5.3.5.3.5-.1.5-.7.5-.1.5 1.3.5 1.3.5.5.5-.2.5-.3.5-.6.5-.6.5-.3.5-.3.5.2.5-.1.5 0 .5.8.5.1.5-.9.5-.9.5-1.5.5-2.7.5-1.8.5.8.5 2.2.5 1.3.5.9.5 1.7.5 1 .5.5.5-.2.5-.9.5-.3.5-.4.5-.1.5.5.5.9.5.1.5-.6.5.1.5 0 .5 0 .5.3.5.1.5 0 .5-.6.5-.4.5.2.5-.7.5-.2.5.7.5.3.5-.6.5-.8.5.4.5 1.2.5.1.5-.5.5.3.5.5.5 0 .5-.2.5.3.5.1.5.4.5-.4.5-1 .5 0 .5.7.5-.1.5-.9.5.1.5.9.5-.2.5-.9.5 0 .5.4.5-.1.5.5.5.5.5-1.1.5-.7.5 1.4.5 1.2.5 0 .5-1 .5-.7.5.7.5.4.5-.3.5-.5.5-.4.5.5.5.7.5-.5.5-1 .5-.3.5.5.5.1.5.1.5.2.5-.3.5-.7.5-.4.5-.1.5-.1.5-.4.5-1 .5-.7.5.2.5-.5.5-1.1.5-.4.5-.9.5-.9.5.9.5.6.5-.6.5.2.5.6.5-.3.5.1.5 1.1.5 1.1.5.4.5-.1.5.3.5.6.5.1.5-.2.5.6.5.9.5 1.1.5 1 .5-.6.5-1.1.5.2.5.5.5.2.5.1.5-.1.5-.1.5.7.5.4.5-1 .5-.4.5.8.5.5.5 0 .5-.2.5-.7.5-.2.5.5.5.5.5.6.5-.8.5-1.2.5.1.5-.5.5-.5.5.9.5.3.5-.5.5-.5.5.1.5.2.5-.2.5.5.5.5.5 0 .5.1.5-.4.5-.7.5.1.5.9.5.6.5-.4.5-.4.5-.4.5-.7.5.1.5.6.5.3.5 0 .5-.3.5-.4.5.3.5.1.5-.8.5 0 .5 1.2.5 1 .5.3.5.2.5-.4.5-1 .5-.7.5.1.5.8.5.1.5-.9.5-1.4.5-2.3.5-2.5.5-1.5.5 0 .5.5.5 1.8.5 2.8.5 2.2.5.4.5.2.5.4.5-.6.5-1.1.5-.4.5.1.5.7.5.6.5.9.5.4.5-1 .5-.7.5-.9.5-1.2.5 0 .5 0 .5-1 .5-2.6.5-3.1.5-3.2.5-5 .5-5.9.5-4.9.5-2.8.5-.3.5 1.2.5 2.7.5 5.1.5 5.4.5 4.8.5 3.8.5 2.6.5 2 .5.9.5.6.5 1.2.5 1.6.5.6.5-.5.5-.6.5 0 .5.9.5.3.5-.8.5-.8.5-.5.5.3.5 0 .5-1 .5-.3.5-.1.5-1.4.5-2.4.5-3.8.5-4.4.5-4.9.5-6.1.5-6.6.5-6.3.5-4 .5-.9.5.5.5 2.9.5 5.3.5 5.2.5 5.4.5 6 .5 5.3.5 4.1.5 3.1.5 1.9.5 1 .5.7.5.3.5.2.5.6.5.9.5.6.5-.5.5-.7.5.2.5.5.5-.1.5-1 .5-.3.5.5.5.4.5-.3.5-.9.5 0 .5 1.5.5 1.3.5-.1.5-.8.5-.4.5-.7.5.1.5 1.2.5.2.5-.8.5.1.5.5.5-.1.5-.4.5.1.5-.1.5-.4.5.2.5.5.5-.6.5.1.5 1.3.5.4.5-.8.5-.4.5-.5.5-.5.5.5.5.4.5 0 .5-.1.5-.3.5-.3.5-.3.5.3.5-.1.5-.4.5.5.5.3.5.2.5.2.5 0 .5.3.5 0 .5-.3.5-.1.5-.6.5 0 .5.3.5-.7.5-1.4.5-.7.5.1.5.1.5-.3.5-.5.5-.7.5-.7.5-.3.5.8.5 1.3.5.5.5.2.5.3.5.2.5.4.5.3.5.1.5 0 .5-.1.5.9.5.7.5-.2.5.1.5.1.5 0 .5.2.5-.4.5-.6.5.3.5.3.5-.2.5-.1.5 0 .5.2.5-.2.5.1.5.8.5 0 .5-.8.5-.1.5-.2.5-.5.5 1.3.5.5.5-.8.5.4.5.2.5-1 .5-1 .5.3.5.6.5 0 .5 0 .5-.7.5-.7.5.6.5.7.5 0 .5.1.5.2.5.7.5.2.5-.4.5.1.5-.6.5-1.1.5.1.5.4.5 0 .5.4.5 0 .5-.8.5-.2.5.2.5-.3.5-.9.5-1.9.5-2.6.5-3.6.5-4.8.5-5.5.5-6.7.5-7.1.5-4.9.5-2.1.5 1.3.5 5.1.5 5.8.5 5.4.5 6.7.5 6.1.5 3.4.5 1.3.5 1 .5 2 .5 2.2.5.3.5-.4.5.6.5 0 .5-.4.5.1.5.8.5.5.5-.7.5.1.5 1.3.5-.1.5-.5.5.8.5-.4.5-.8.5.2.5-.3.5-.2.5-.6.5-.1.5 1.2.5.3.5-.3.5 0 .5-.2.5-.4.5 0 .5.5.5.1.5-.4.5-.2.5-.2.5-.3.5.1.5.6.5.5.5-.5.5-.2.5.6.5.4.5-.1.5.2.5.4.5-.6.5.1.5.2.5-1.1.5-.5.5-.7.5-1.4.5-.2.5-.1.5-1 .5.1.5.4.5-.2.5-.1.5-.1.5.2.5.6.5.9.5 1 .5.9.5.9.5-.1.5.2.5.5.5-.8.5-.7.5 0 .5.1.5.8.5.7.5-.4.5-.8.5 0 .5.7.5.1.5-.8.5 0 .5.5.5-.1.5-.2.5-.5.5-.8.5-.2.5-.2.5-1.4.5-1.5.5-1.3.5-.8.5-1.3.5-2.2.5-.5.5.8.5.3.5.4.5 1.3.5 2.5.5 2.1.5.9.5.5.5.7.5.6.5.5.5.2.5-.3.5-.6.5-.7.5-.3.5 1.1.5 1 .5.4.5.3.5-1 .5-.7.5 0 .5.1.5-.2.5-.4.5.9.5 1.2.5-.1.5-.6.5-.6.5.2.5.5.5-.3.5-.3.5.2.5.4.5.7.5-.3.5-1.6.5-.6.5.9.5.9.5.6.5-.1.5-.1.5.5.5-.8.5-.9.5.8.5.4.5-.8.5-.7.5.4.5.5.5.2.5.6.5.6.5.2.5-.4.5-.4.5.3.5-.2.5-.4.5-.7.5-1.3.5-.1.5.9.5.4.5.4.5 0 .5-1.2.5-.2.5 1.1.5.4.5-.4.5-.6.5-.3.5.4.5.4.5.6.5.2.5-.4.5 0 .5.3.5.5.5.4.5-.3.5-.2.5-.3.5-.5.5-.1.5.6.5.6.5.6.5-.5.5-1.4.5-.9.5-.4.5-.2.5.4.5.9.5-.1.5-1.1.5.1.5.5.5 0 .5-.8.5-1.1.5-.5.5-.1.5-.4.5-.9.5.1.5.7.5.1.5.4.5.9.5.5.5.2.5 0 .5.2.5-.4.5-.3.5.7.5.8.5-.2.5.2.5.7.5-.2.5 0 .5.3.5-.1.5.4.5.2.5 0 .5 0 .5-.8.5-.3.5.2.5.1.5.3.5 0 .5 0 .5.4.5-.7.5-1.2.5.6.5 1.1.5.1.5-.7.5-.3.5.7.5-.1.5-1.2.5-.2.5.1.5-.4.5 1 .5.8.5-.3.5-.2.5.1.5.5.5.6.5 0 .5-.4.5-.2.5-.5.5-.4.5-.1.5-.7.5.1.5.6.5-1.1.5-1.5.5-.4.5-.3.5-.6.5-.2.5.2.5.3.5.9.5 1.1.5 1.1.5.2.5-1.3.5-.4.5.7.5 1 .5.8.5-.2.5-.5.5-.1.5.3.5.4.5-.1.5-.3.5.6.5.7.5-.3.5-.4.5.7.5.5.5-.8.5-1 .5-.2.5.5.5-.3.5.2.5 1.2.5.6.5 0 .5.2.5-.6.5-.7.5.5.5.1.5.3.5.4.5 0 .5-.1.5-.7.5-.8.5-.2.5-.2.5-.2.5.4.5.3.5-.7.5-1.1.5.3.5 1.2.5.4.5.2.5-.3.5-.7.5-.6.5-.2.5.5.5.6.5.4.5-1.1.5-1.4.5-.1.5 0 .5-.1.5.9.5.4.5-.3.5.6.5.2.5-.3.5 1.2.5.6.5-.1.5.2.5 0 .5.1.5-.4.5-.6.5.2.5 0 .5-.4.5-.4.5-.1.5.6.5.3.5-.5.5.1.5 0 .5 0 .5.6.5.2.5.4.5-.1.5-.2.5.1.5.4.5 0 .5-.6.5.3.5.5.5-.1.5 0 .5-.6.5-1.1.5-.4.5-.1.5.1.5.7.5.9.5-.2.5-.7.5-.3.5-.1.5-.3.5.8.5 1.4.5-.4.5-.7.5.8.5.4.5-.9.5-.6.5-.6.5.3.5 2.2.5.8.5-2 .5-.9.5 1.4.5.5.5-.1.5-.1.5-.6.5 0 .5.1.5-.2.5-.1.5 0 .5.1"/>
<path fill="none" stroke="#000000" stroke-width="2.6" stroke-linejoin="round" d="M56 505.9l.5-.6.5.2.5-.2.5-.3.5.4.5.9.5 0 .5.1.5.8.5-.1.5-1.2.5-.6.5.8.5.2.5 0 .5.2.5-.3.5.2.5.6.5-.2.5-.2.5.8.5.6.5-.2.5-.8.5-.2.5.4.5-.2.5-.4.5-.3.5-.3.5-.3.5.2.5.4.5-.4.5-.4.5 1 .5 1.2.5-.6.5-1.7.5.1.5 1.1.5.1.5-.3.5-.1.5-.2.5 0 .5.4.5-.4.5.3.5 1.1.5-.1.5-.7.5-.5.5-.4.5 0 .5.6.5.5.5-.3.5 0 .5.2.5-.3.5-.2.5.2.5-.2.5-.7.5-1.7.5-1.9.5-1.4.5-2.5.5-2.6.5 0 .5 1.8.5 2.5.5 3.1.5 2.3.5 1.1.5-.2.5-.7.5.4.5.6.5.7.5.3.5-.4.5.3.5.6.5-1.1.5-.8.5.2.5.2.5 1 .5.5.5-.2.5-.2.5-1 .5-.9.5.2.5.7.5.1.5-.2.5-.5.5 0 .5.7.5.3.5-.5.5-1 .5.4.5 1 .5-.7.5-.7.5.6.5.5.5-.1.5.2.5-.2.5-.5.5-.1.5-.1.5.5.5.5.5-.5.5-.5.5.1.5.5.5-.4.5-1.2.5.1.5 1.3.5.4.5-.1.5.1.5-.3.5-.1.5.4.5.4.5-.1.5-.6.5-.4.5.1.5-.3.5.1.5.6.5.5.5.5.5 0 .5-.5.5-.5.5-.1.5.5.5.7.5-.5.5-1 .5.1.5.6.5-.3.5.1.5.5.5-.1.5-.5.5.1.5.4.5.4.5.2.5-.7.5-.2.5-.1.5-.6.5 0 .5-.3.5-.6.5-.3.5.6.5 1.4.5.5.5-.2.5 0 .5-.4.5-.8.5.1.5.9.5.6.5-.3.5-.9.5-.6.5.2.5 1 .5.3.5-.4.5-.5.5-.4.5.2.5.1.5-.4.5 0 .5-.6.5-1.3.5-.8.5.1.5-.2.5-.2.5.6.5.4.5-.9.5-1.6.5.1.5 2 .5 1.1.5-.3.5.1.5.1.5.4.5.7.5.2.5.8.5.6.5-.1.5-.2.5-.5.5.2.5.8.5.6.5-1 .5-.5.5.3.5-.6.5-.1.5.5.5.5.5 0 .5-.1.5-.6.5-1.1.5.2.5 1.5.5-.2.5-1 .5.4.5.3.5 0 .5.7.5-.4.5-.4.5.6.5-.6.5-.5.5.5.5.4.5-.5.5-1.3.5-.7.5-.5.5-3.6.5-8.1.5-11.9.5-14.4.5-8.9.5 3.2.5 10.5.5 12.7.5 10.2.5 6.5.5 3.7.5 1.7.5.7.5-.3.5-.8.5.4.5.3.5-.2.5.2.5.2.5.3.5.2.5-.2.5.1.5.6.5.5.5 0 .5-.8.5-.6.5.1.5-.3.5-.3.5.4.5.1.5-.3.5-.3.5 0 .5 0 .5.2.5.8.5 0 .5-.8.5-.8.5-.3.5-.1.5-1 .5-4.4.5-10.8.5-19.9.5-28.2.5-23.5.5-3.8.5 15.4.5 25.4.5 23.1.5 14.5.5 7.9.5 3.5.5.7.5 1.2.5 1.3.5-.2.5.2.5.6.5.4.5-.8.5-1.3.5.7.5 1 .5.2.5.5.5-.6.5-.7.5 1 .5.5.5-.7.5-.5.5-.4.5 0 .5.6.5.3.5 0 .5.5.5.1.5-1.6.5-.8.5.9.5 0 .5-.3.5.5.5-.9.5-.8.5.5.5.6.5-1.2.5-4.7.5-8.6.5-16.9.5-28.6.5-31.2.5-14.7.5 10 .5 25.9.5 29 .5 20.7.5 11.2.5 5.5.5 2 .5.4.5.4.5 1.4.5 1.1.5-.9.5-1 .5.1.5.5.5-.1.5-1.1.5.1.5 1 .5-.6.5-1.8.5-3.2.5-4.2.5-3.5.5-1.6.5 1.4.5 3.5.5 2.9.5 2.2.5 1 .5-.5.5.1.5-.4.5-1.8.5-1 .5-.7.5-1 .5.5.5 1.3.5 1.1.5 2 .5 2 .5 1.2.5 1.1.5.5.5.2.5.5.5.1.5-.3.5 0 .5 0 .5-.3.5.5.5.2.5-1 .5-.6.5.2.5.6.5.5.5.7.5.7.5-.3.5-1.1.5-1.1.5-.2.5.7.5.1.5-.8.5-.7.5-1.9.5-3.7.5-5.3.5-9.1.5-12.7.5-10.1.5-1.2.5 7.3.5 11.4.5 10.7.5 7.4.5 3.9.5 1.7.5.9.5.6.5 1.1.5 1.2.5.4.5-.3.5-.2.5 0 .5-.9.5-.7.5.7.5.1.5-.7.5-.3.5-.2.5 1.1.5 1 .5 0 .5.3.5-.3.5-1.2.5-.2.5 1.2.5.1.5-1 .5.4.5.7.5-.3.5-.6.5-.7.5.4.5.7.5-.7.5-.7.5.3.5.2.5.1.5.7.5 1.1.5.2.5-.3.5.3.5-.3.5-.5.5.5.5.8.5 0 .5-.7.5-.4.5.1.5-.1.5-.2.5.5.5 0 .5-1 .5-.5.5.3.5.9.5.7.5-.3.5-.8.5-.1.5.3.5-.2.5-.3.5-.2.5-.5.5-1 .5-2.7.5-5.2.5-7.2.5-8 .5-5.3.5.4.5 5.8.5 7.4.5 5.8.5 4.7.5 3.9.5 2.1.5.4.5-.2.5-.4.5 0 .5.5.5.2.5-.3.5-.8.5-.6.5.3.5.3.5.1.5.2.5-.3.5.4.5.8.5.3.5.1.5-.1.5-.8.5-.1.5.4.5-.4.5-.6.5.2.5 1 .5.2.5-1.3.5-.4.5.9.5.8.5.7.5.2.5-.9.5-.8.5-.2.5-.5.5-.6.5 0 .5-.4.5-1.7.5-2.1.5-3.3.5-5.7.5-4.7.5-1.3.5 2 .5 4.7.5 4.7.5 3.7.5 2.8.5 1.6.5.7.5.1.5.3.5.4.5-.3.5-.1.5.2.5-.4.5.5.5.7.5.1.5-.1.5-.7.5-.5.5 0 .5 0 .5-.1.5.4.5.6.5 0 .5-.7.5.7.5 1.2.5-.4.5-.8.5-.9.5.1.5.6.5-.8.5-.4.5.4.5.1.5.2.5.6.5.3.5-.2.5.2.5.7.5-.2.5-1.4.5-1.2.5.7.5 1 .5-.4.5-.5.5.7.5.8.5-.4.5-.8.5-.4.5.8.5 1.3.5-.5.5-.8.5.2.5 0 .5-1 .5-.8.5.8.5 1.5.5.7.5-1 .5-1 .5 0 .5-.1.5.1.5.5.5.1.5 0 .5.4.5-.1.5-.4.5-.1.5.4.5.3.5-.2.5-.4.5.1.5-.1.5.2.5.8.5 0 .5-1.1.5-.6.5.9.5.5.5.2.5-.1.5-.8.5.5.5.6.5-1.2.5-1.5.5-.8.5-1.2.5-1.6.5-.8.5 1.1.5 2.1.5 1.2.5.2.5.4.5.3.5.1.5.6.5-.2.5-.5.5.9.5.8.5-.8.5-1 .5.4.5.4.5-.5.5.3.5.8.5-.5.5-.2.5 1 .5.5.5-1 .5-1.4.5-.3.5.3.5 0 .5.8.5 0 .5-1 .5.5.5.8.5-.1.5.3.5.5.5.8.5.5.5-1.3.5-1.4.5-.5.5.4.5.9.5.4.5-.1.5.3.5.6.5.1.5-.7.5-.9.5-.6.5-.3.5.3.5.3.5-.4.5.7.5 1.1.5-.9.5-1.3.5.1.5 1 .5.6.5 0 .5.1.5-.5.5-.4.5.4.5.5.5.1.5-.6.5-.6.5-.1.5.3.5.2.5.2.5.3.5.2.5-.1.5-.4.5.1.5-.3.5-.3.5.6.5-.5.5-1.4.5-1.1.5-.6.5-.3.5-.6.5-.7.5-.3.5.3.5.6.5.2.5.4.5.2.5-.3.5 0 .5-.1.5-.4.5-.2.5 1 .5 1.2.5 0 .5-.2.5.1.5.1.5-.1.5.6.5 1.4.5.6.5-.9.5-.6.5 1.1.5.7.5-1 .5-.4.5.7.5.2.5-.4.5 0 .5 0 .5-.3.5.1.5.5.5-.1.5.2.5.7.5.6.5.4.5-.6.5-.7.5.7.5 1.1.5-.6.5-1.1.5-.4.5.1.5.1.5-.4.5-.1.5.9.5.6.5 0 .5-.4.5-1.2.5-1 .5.6.5.9.5.7.5.7.5-1 .5-1.2.5.2.5.6.5.3.5-.7.5-1 .5.2.5.1.5-.3.5.6.5.8.5.4.5-.4.5-.5.5.1.5.5.5.1.5-1.3.5.2.5 1.9.5.1.5-.4.5.1.5-1.3.5-.8.5.5.5.1.5-.5.5-1.1.5-1.7.5-1.7.5-2.1.5-1 .5 1.2.5 2.1.5 2.1.5 2.2.5 1.4.5-.9.5-.9.5.3.5.6.5 1 .5.5.5-.5.5-1.1.5-.7.5 0 .5-.6.5-.5.5 0 .5-.7.5-2 .5-1.7.5-1.5.5-3.8.5-4.9.5-4.7.5-5.2.5-4.5.5-1.4.5 2 .5 3.4.5 4.4.5 4.5.5 3.7.5 4.2.5 3.1.5 1.9.5 2.4.5 1.6.5-.2.5-.5.5.6.5.7.5.1.5.3.5.5.5.3.5.2.5.3.5-.7.5-.7.5 0 .5-.7.5-.3.5-.8.5-2.4.5-1.2.5-.2.5-2.8.5-4.7.5-5.2.5-6.3.5-6.6.5-5.8.5-4 .5-1.4.5.5.5 2.5.5 4.5.5 5.2.5 6.1.5 6.7.5 4.8.5 3.4.5 3.3.5 2.7.5 1.5.5.6.5.3.5.2.5.8.5.4.5-.6.5-.7.5.6.5.7.5-.9.5-1.7.5.1.5 1.2.5.3.5.3.5.5.5 0 .5-.7.5-.2.5.5.5-.2.5-1 .5.8.5 1.7.5-.5.5-1.4.5-.7.5.3.5.9.5.7.5 0 .5-.4.5.5.5.2.5-.6.5-.8.5-.6.5 0 .5.5.5.8.5.6.5.4.5-.1.5-.1.5-.1.5-.7.5 0 .5.7.5-.7.5-1.2.5.1.5.7.5 1.2.5.7.5.4.5-.3.5-1.8.5-1.3.5.5.5.2.5-.9.5.7.5.9.5-.4.5-.5.5.4.5 1.1.5-.3.5-2 .5-1 .5.3.5.1.5-.4.5-.2.5.1.5.4.5.1.5-.7.5-.4.5 1.3.5 1.6.5.3.5.1.5.7.5.7.5 0 .5-1.1.5-.1.5.8.5-.1.5-1 .5-.7.5.3.5.4.5.6.5.7.5-.4.5-1.1.5 0 .5.9.5.5.5-.3.5-.7.5-.7.5 0 .5.4.5.4.5-.2.5-.6.5.1.5.5.5.4.5.5.5-.2.5-.2.5-.1.5-.3.5.2.5 0 .5 0 .5-.5.5-.9.5 0 .5.9.5.3.5-.1.5.8.5-.5.5-.3.5.8.5 0 .5-.9.5-.5.5 1 .5.3.5-.7.5-.4.5-.2.5.5.5.2.5-.7.5-1 .5-.7.5 0 .5-.9.5-2.5.5-3.8.5-4.5.5-4.8.5-6.2.5-7.3.5-5.2.5-2.1.5-.5.5 3.1.5 6.2.5 6.8.5 5.4.5 4.2.5 4.5.5 4 .5 2.1.5.9.5.4.5-.1.5.3.5.7.5.6.5.1.5.4.5.4.5-.3.5.5.5.9.5.5.5-.5.5-1.2.5.4.5.8.5.1.5-.5.5-.2.5.4.5-.4.5-.4.5.1.5-.2.5-.1.5 1.2.5 1 .5-.7.5-1 .5-.1.5-.1.5-.2.5.5.5.3.5-.1.5 0 .5 0 .5.3.5.2.5-.2.5-.1.5 0 .5.1.5.2.5 0 .5.1.5-.3.5-.8.5-.1.5.6.5.2.5-.2.5.1.5-.4.5-.8.5.1.5.9.5.6.5.8.5.4.5-.6.5-.5.5-.3.5-.5.5-1.1.5-.4.5 1.3.5.8.5-.4.5.1.5.6.5-.1.5-.5.5-.3.5.5.5.7.5 0 .5-1 .5-.5.5-.3.5.6.5 1 .5-.8.5-.8.5.2.5.2.5-.8.5-.8.5.5.5.2.5-1 .5-1.4.5-1.8.5-1.6.5-1.5.5-1.6.5-1.2.5-.3.5.8.5 1.4.5 1.5.5 1.7.5 1.3.5.6.5.8.5.9.5.7.5.6.5-.4.5-.3.5.1.5.3.5.6.5.1.5.3.5-.1.5-.7.5.5.5 1.1.5.3.5-.5.5-.3.5.8.5.8.5.8.5-.4.5-.9.5-.1.5-.6.5-.6.5.9.5-.2.5-.9.5.4.5.6.5.4.5-.2.5 0 .5.2.5 0 .5 0 .5-.9.5-.9.5.3.5.7.5.3.5.5.5.3.5 0 .5.1.5-.3.5-.9.5-.8.5.2.5.6.5-.4.5-.6.5.1.5.6.5.3.5-.4.5-.2.5-.1.5-.6.5.7.5 1.1.5.2.5 0 .5-.2.5-.2.5-.3.5-.2.5.5.5-.3.5-1.2.5-.6.5-.1.5.2.5.4.5.4.5.7.5.9.5-.1.5-1 .5-.1.5.3.5-.3.5-.7.5 0 .5.9.5.1.5-.9.5-.6.5.5.5.7.5-.4.5-.5.5.6.5.9.5.4.5-.4.5-1 .5-.6.5-.3.5-.4.5-.9.5-1.5.5-.7.5.2.5.2.5-.4.5.2.5 1.5.5.5.5-.5.5.7.5 1 .5.2.5-.1.5-.5.5.2.5.8.5-.1.5-1.7.5-3 .5-2.1.5-.9.5-.6.5-1 .5-1 .5-.7.5-.2.5.9.5 1.9.5 2.1.5 1.4.5 1.8.5 2 .5.9.5.1.5.1.5.4.5.6.5-.1.5-.5.5-.2.5 0 .5.1.5.6.5.4.5-.3.5.3.5.1.5-1.3.5-.4.5.7.5-.2.5 0 .5.8.5.3.5-.4.5.1.5.7.5.5.5 0 .5-.9.5-.4.5.5.5.2.5 0 .5.3.5.5.5-.5.5-.4.5-.2.5-.1.5-.2.5-.3.5.2.5-.3.5 0 .5.5.5-.3.5.3.5 1.3.5.8.5-.7.5-1.2.5-.8.5.2.5.9.5.3.5-.1.5-.3.5-.9.5-1.5.5-1.3.5-.4.5-.1.5-.2.5-.7.5-.5.5.6.5.8.5-.7.5-.6.5 1.2.5 1.5.5.9.5.4.5.3.5.1.5.6.5.4.5-.2.5 0 .5.3.5 0 .5-.1.5-.5.5-.7.5.6.5 1 .5-.2.5-1 .5 0 .5.8.5.3.5-.1.5-.1.5.1.5 0 .5-1 .5-.1.5.7.5.1.5-.1.5-.5.5.2.5.9.5-.6.5-.9.5.3.5.4.5 0 .5-.2.5-.4.5.2.5.7.5 0 .5-.6.5-1.2.5-.1.5.6.5-.5.5-.5.5.3.5 0 .5-.6.5-.6.5.8.5 1.5.5.2.5-1.1.5-.7.5-.3.5.8.5.8.5.5.5.9.5.2.5-1.2.5-1.2.5.7.5 1.1.5-.6.5-.7.5 1 .5 1.3.5.2.5-.3.5.1.5-.6.5-1.7.5.5.5 2.1.5.1.5-.9.5-.9.5-.7.5.5.5.3.5.3.5 1 .5.1.5-.5.5.1.5-.2.5-.3.5.6.5.3.5-1.1.5 0 .5 1.1.5-.4.5-1.4.5-.1.5.5.5-.1.5 0 .5.3.5.5.5-.1.5-.4.5.4.5.1"/>
<text x="73.7" y="135.5" font-family="'Liberation Sans',Arial,sans-serif" font-weight="bold" font-size="18.83" textLength="44.5" lengthAdjust="spacingAndGlyphs" fill="#000">(006)</text>
<text x="149.8" y="99" font-family="'Liberation Sans',Arial,sans-serif" font-weight="bold" font-size="18.83" textLength="43.2" lengthAdjust="spacingAndGlyphs" fill="#000">(110)</text>
<text x="177" y="55.8" font-family="'Liberation Sans',Arial,sans-serif" font-weight="bold" font-size="18.94" textLength="44.4" lengthAdjust="spacingAndGlyphs" fill="#000">(107)</text>
<text x="216.4" y="39.5" font-family="'Liberation Sans',Arial,sans-serif" font-weight="bold" font-size="17.66" textLength="43.4" lengthAdjust="spacingAndGlyphs" fill="#000">(114)</text>
<text x="246.8" y="99" font-family="'Liberation Sans',Arial,sans-serif" font-weight="bold" font-size="18.83" textLength="44.0" lengthAdjust="spacingAndGlyphs" fill="#000">(203)</text>
<text x="285.2" y="121.9" font-family="'Liberation Sans',Arial,sans-serif" font-weight="bold" font-size="18.40" textLength="42.8" lengthAdjust="spacingAndGlyphs" fill="#000">(205)</text>
<text x="454.3" y="110" font-family="'Liberation Sans',Arial,sans-serif" font-weight="bold" font-size="19.15" textLength="42.5" lengthAdjust="spacingAndGlyphs" fill="#000">(300)</text>
<text x="496.3" y="102" font-family="'Liberation Sans',Arial,sans-serif" font-weight="bold" font-size="19.15" textLength="42.5" lengthAdjust="spacingAndGlyphs" fill="#000">(217)</text>
<text x="555.2" y="110" font-family="'Liberation Sans',Arial,sans-serif" font-weight="bold" font-size="19.15" textLength="58.6" lengthAdjust="spacingAndGlyphs" fill="#000">(20 11)</text>
<text x="626" y="129.4" font-family="'Liberation Sans',Arial,sans-serif" font-weight="bold" font-size="19.79" textLength="43.5" lengthAdjust="spacingAndGlyphs" fill="#000">(220)</text>
<text x="677" y="138.6" font-family="'Liberation Sans',Arial,sans-serif" font-weight="bold" font-size="19.26" textLength="44.8" lengthAdjust="spacingAndGlyphs" fill="#000">(317)</text>
<text x="220" y="147.6" font-family="'Liberation Sans',Arial,sans-serif" font-weight="bold" font-size="26.05" textLength="11.4" lengthAdjust="spacingAndGlyphs" fill="#000">*</text>
<text x="707.5" y="113.1" font-family="'Liberation Sans',Arial,sans-serif" font-weight="bold" font-size="22.02" textLength="87.1" lengthAdjust="spacingAndGlyphs" fill="#000">(x=0.50)</text>
<text x="682.6" y="252.9" font-family="'Liberation Sans',Arial,sans-serif" font-weight="bold" font-size="20.53" textLength="88.3" lengthAdjust="spacingAndGlyphs" fill="#000">(x=0.35)</text>
<text x="671.1" y="367.9" font-family="'Liberation Sans',Arial,sans-serif" font-weight="bold" font-size="20.53" textLength="87.2" lengthAdjust="spacingAndGlyphs" fill="#000">(x=0.20)</text>
<text x="680.7" y="484.5" font-family="'Liberation Sans',Arial,sans-serif" font-weight="bold" font-size="21.28" textLength="87.3" lengthAdjust="spacingAndGlyphs" fill="#000">(x=0.00)</text>
<text x="72.7" y="29.2" font-family="'Liberation Sans',Arial,sans-serif" font-weight="normal" font-size="21.70" textLength="27.3" lengthAdjust="spacingAndGlyphs" fill="#000">(a)</text>
<text x="365.9" y="53.3" font-family="'Liberation Sans',Arial,sans-serif" font-weight="bold" font-size="27.86" textLength="230.1" lengthAdjust="spacingAndGlyphs">Sr<tspan dy="9.5">1-x</tspan><tspan dy="-9.5">Ni</tspan><tspan dy="9.5">x</tspan><tspan dy="-9.5">Fe</tspan><tspan dy="9.5">12</tspan><tspan dy="-9.5">O</tspan><tspan dy="9.5">19</tspan></text>
<text x="39.9" y="595.6" font-family="'Liberation Sans',Arial,sans-serif" font-weight="bold" font-size="26.48" textLength="30.4" lengthAdjust="spacingAndGlyphs" fill="#000">20</text>
<text x="165.7" y="595.6" font-family="'Liberation Sans',Arial,sans-serif" font-weight="bold" font-size="26.48" textLength="30.1" lengthAdjust="spacingAndGlyphs" fill="#000">30</text>
<text x="291.6" y="595.6" font-family="'Liberation Sans',Arial,sans-serif" font-weight="bold" font-size="26.48" textLength="29.8" lengthAdjust="spacingAndGlyphs" fill="#000">40</text>
<text x="416.6" y="595.6" font-family="'Liberation Sans',Arial,sans-serif" font-weight="bold" font-size="26.48" textLength="30.4" lengthAdjust="spacingAndGlyphs" fill="#000">50</text>
<text x="542.2" y="595.6" font-family="'Liberation Sans',Arial,sans-serif" font-weight="bold" font-size="26.48" textLength="30.4" lengthAdjust="spacingAndGlyphs" fill="#000">60</text>
<text x="667.5" y="595.6" font-family="'Liberation Sans',Arial,sans-serif" font-weight="bold" font-size="26.48" textLength="30.7" lengthAdjust="spacingAndGlyphs" fill="#000">70</text>
<text x="793.4" y="595.6" font-family="'Liberation Sans',Arial,sans-serif" font-weight="bold" font-size="26.48" textLength="30.4" lengthAdjust="spacingAndGlyphs" fill="#000">80</text>
<text x="394.1" y="631" font-family="'Liberation Sans',Arial,sans-serif" font-weight="bold" font-size="29.14" textLength="16.5" lengthAdjust="spacingAndGlyphs" fill="#000">2</text><text x="410.3" y="630.7" font-family="'Liberation Serif','Times New Roman',serif" font-weight="normal" font-size="25.86" textLength="17.1" lengthAdjust="spacingAndGlyphs" fill="#000">θ</text>
<text transform="translate(26.6,377.9) rotate(-90)" font-family="'Liberation Sans',Arial,sans-serif" font-weight="bold" font-size="28.29" textLength="171.9" lengthAdjust="spacingAndGlyphs">Intensity (a.u)</text>
<path fill="none" stroke="#000" stroke-width="2.0" d="M45.3 672.5H55.3M50.3 723.1H55.3M45.3 773.7H55.3M50.3 824.3H55.3M45.3 874.9H55.3M50.3 925.5H55.3M45.3 976.1H55.3M50.3 1026.7H55.3M45.3 1077.3H55.3M50.3 1127.9H55.3M45.3 1178.5H55.3M50.3 1229.1H55.3M55.3 1228.6V1239.6M149.3 1228.6V1234.6M243.3 1228.6V1239.6M337.3 1228.6V1234.6M431.4 1228.6V1239.6M525.4 1228.6V1234.6M619.4 1228.6V1239.6M713.4 1228.6V1234.6M807.4 1228.6V1239.6M55.3 672.5V683.5M130.5 672.5V678.5M205.7 672.5V683.5M280.9 672.5V678.5M356.1 672.5V683.5M431.4 672.5V678.5M506.6 672.5V683.5M581.8 672.5V678.5M657 672.5V683.5M732.2 672.5V678.5M807.4 672.5V683.5M797.4 672.5H807.4M802.4 728.1H807.4M797.4 783.7H807.4M802.4 839.3H807.4M797.4 894.9H807.4M802.4 950.5H807.4M797.4 1006.2H807.4M802.4 1061.8H807.4M797.4 1117.4H807.4M802.4 1173H807.4M797.4 1228.6H807.4"/>
<path fill="none" stroke="#000" stroke-width="2.5" stroke-linecap="square" d="M55.3 672.5H807.4V1228.6H55.3Z"/>
<path fill="none" stroke="#ff00ff" stroke-width="4.6" stroke-linejoin="round" d="M55.3 822.3l1.5 0 1.5.3 1.5.8 1.5.1 1.5-.3 1.5-.6 1.5.2 1.5.6 1.5.3 1.5-.6 1.5-.7 1.6.4 1.5.4 1.5-.3 1.5-.5 1.5-.4 1.5.3 1.5-.1 1.5.2 1.5.3 1.5.1 1.5.1 1.5-.1 1.5.3 1.5-.4 1.5-.2 1.5-.5 1.5.4 1.5-.3 1.5.3 1.5 0 1.5.3 1.5-.3 1.5-.1 1.5-.3 1.6-.1 1.5.2 1.5-.1 1.5.8 1.5.1 1.5-.3 1.5-.4 1.5-.6 1.5.5 1.5-.2 1.5-.4 1.5-.2 1.5-.2 1.5.7 1.5-.5 1.5.2 1.5-.7 1.5.2 1.5-.4 1.5.8 1.5.3 1.5 1.1 1.5-.2 1.5.1 1.6-.4 1.5-.4 1.5-.2 1.5.2 1.5.1 1.5.2 1.5-.4 1.5.4 1.5-.1 1.5 0 1.5 0 1.5.2 1.5-.2 1.5.2 1.5-.4 1.5-.1 1.5-.6 1.5.7 1.5.2 1.5.1 1.5-.6 1.5.2 1.5-.1 1.5 0 1.6 0 1.5 0 1.5.2 1.5-.2 1.5.2 1.5.1 1.5.3 1.5 0 1.5-.4 1.5-1 1.5 0 1.5.3 1.5.6 1.5-.2 1.5-.1 1.5-.3 1.5-.1 1.5.1 1.5.1 1.5.1 1.5.4 1.5.1 1.5-.7 1.5-.3 1.6-.3 1.5-.2 1.5-.7 1.5-.5 1.5-.2 1.5-.6 1.5-.2 1.5.3 1.5.7 1.5.3 1.5.1 1.5.1 1.5-.5 1.5-.3 1.5-1 1.5-.3 1.5-.6 1.5 0 1.5.2 1.5-.1 1.5-.3 1.5-.4 1.5-.4 1.6-.6 1.5-1.1 1.5-1.1 1.5-1.2 1.5-1.8 1.5-2.2 1.5-2.9 1.5-3.3 1.5-3.6 1.5-3.8 1.5-3.8 1.5-4.2 1.5-5.5 1.5-6.2 1.5-5.7 1.5-5.7 1.5-5.9 1.5-6 1.5-5.7 1.5-4.8 1.5-4.2 1.5-2.8 1.5-.3 1.5-.4 1.6.8 1.5.9 1.5 2.3 1.5 2.4 1.5 3.1 1.5 3.7 1.5 4.1 1.5 3.6 1.5 3.6 1.5 4.4 1.5 4.8 1.5 5 1.5 4.3 1.5 5.4 1.5 5 1.5 4.3 1.5 3.6 1.5 3.6 1.5 2.7 1.5 2.4 1.5 1.9 1.5 3.1 1.5 2 1.5 1.7 1.6 1.1 1.5 1.7 1.5 1.7 1.5.7 1.5-.1 1.5.7 1.5.4 1.5.5 1.5-.4 1.5.7 1.5.8 1.5.3 1.5-.2 1.5 0 1.5.2 1.5.9 1.5 0 1.5-.3 1.5-.8 1.5.6 1.5.3 1.5-.2 1.5-.5 1.5.2 1.6 1.1 1.5-.1 1.5.3 1.5-.1 1.5.1 1.5-.2 1.5.3 1.5.7 1.5.3 1.5-.5 1.5-.3 1.5-.4 1.5-.3 1.5-.7 1.5-.1 1.5-.1 1.5 1.1 1.5 0 1.5.5 1.5-.3 1.5.2 1.5.1 1.5-1 1.5.2 1.6-.1 1.5 0 1.5-.4 1.5.1 1.5.8 1.5.1 1.5-.3 1.5 0 1.5.7 1.5.3 1.5.2 1.5-.4 1.5-.1 1.5.6 1.5.3 1.5.2 1.5-.4 1.5-.5 1.5-.4 1.5.3 1.5.4 1.5 0 1.5-.7 1.5 0 1.6.2 1.5.4 1.5-.1 1.5.2 1.5.2 1.5.3 1.5.2 1.5.4 1.5-.1 1.5-.4 1.5-.4 1.5-.1 1.5.1 1.5.1 1.5.2 1.5-.1 1.5-.7 1.5 0 1.5.3 1.5.7 1.5-.8 1.5.6 1.5 0 1.6.3 1.5-.6 1.5-.2 1.5 0 1.5 0 1.5-.3 1.5.4 1.5.1 1.5.3 1.5-.3 1.5-.7 1.5.1 1.5-.1 1.5.6 1.5-.2 1.5-.2 1.5.4 1.5-.3 1.5.1 1.5-.6 1.5.3 1.5.5 1.5 0 1.5-.5 1.6.1 1.5-.1 1.5.8 1.5-.4 1.5.1 1.5-.5 1.5.1 1.5.5 1.5.1 1.5.1 1.5.4 1.5 0 1.5-.7 1.5-1 1.5-.3 1.5.1 1.5.1 1.5 0 1.5.3 1.5-.6 1.5 0 1.5.4 1.5 1.1 1.5.5 1.6-.5 1.5.2 1.5-.1 1.5-.1 1.5-1 1.5-.3 1.5-.3 1.5 0 1.5-.4 1.5 0 1.5-.2 1.5 0 1.5-.9 1.5-.6 1.5-.4 1.5-.3 1.5-.3 1.5-.8 1.5.1 1.5-.1 1.5-.4 1.5-.1 1.5.1 1.5.3 1.6.1 1.5-.1 1.5-.1 1.5.1 1.5.3 1.5.4 1.5-.2 1.5.1 1.5.3 1.5.5 1.5.3 1.5.2 1.5.4 1.5.2 1.5.2 1.5-.4 1.5-.4 1.5-.2 1.5 0 1.5 0 1.5-1.2 1.5-1 1.5-.2 1.5.4 1.6.8 1.5-.4 1.5-.7 1.5-1.2 1.5-1.6 1.5-.9 1.5-1.6 1.5-1 1.5-2.2 1.5-2.1 1.5-2.6 1.5-3.5 1.5-3.9 1.5-4.7 1.5-4.8 1.5-4.7 1.5-5.6 1.5-5.7 1.5-6.8 1.5-6.5 1.5-6.8 1.5-7.1 1.5-6.2 1.6-5.1 1.5-4.2 1.5-3.2 1.5-2.4 1.5-.1 1.5.3 1.5 2.3 1.5 2.2 1.5 2.7 1.5 3.3 1.5 4.1 1.5 4.6 1.5 4 1.5 4.4 1.5 4.8 1.5 5.3 1.5 5.8 1.5 5.8 1.5 5.1 1.5 4.6 1.5 4.4 1.5 4.6 1.5 4.6 1.5 3.5 1.6 2.7 1.5 2.8 1.5 2.8 1.5 2.5 1.5 1 1.5 1.2 1.5 1 1.5 1.6 1.5.5 1.5 1.3 1.5.7 1.5 1.2 1.5-.2 1.5.3 1.5.6 1.5.2 1.5.4 1.5 0 1.5.5 1.5.3 1.5-.1 1.5.7 1.5.1 1.5.3 1.6.3 1.5.2 1.5.5 1.5-.9 1.5-.3 1.5-.1 1.5.7 1.5.2 1.5.1 1.5-.6 1.5.2 1.5-.6 1.5.5 1.5-.2 1.5.2 1.5-.1 1.5.6 1.5-.2 1.5-.4 1.5-.5 1.5-.2 1.5.3 1.5-.8 1.5-.2 1.6-.6 1.5.6 1.5.6 1.5.5 1.5-.1 1.5-.3 1.5-.3 1.5.3 1.5.6 1.5.2 1.5-.3 1.5-.5 1.5.1 1.5-.2 1.5.5 1.5-.1 1.5.3 1.5.1 1.5.2 1.5.2 1.5-.1 1.5.1 1.5.1 1.5-.7 1.6-.8 1.5-.5 1.5.4 1.5.7 1.5-.4 1.5-.6 1.5-1.5 1.5-.7 1.5-.9 1.5-.9 1.5-1.5 1.5-1.3"/>
<path fill="none" stroke="#0000ff" stroke-width="4.6" stroke-linejoin="round" d="M55.3 939.6l1.5-.9 1.5.1 1.5 0 1.5.8 1.5 0 1.5.1 1.5-.3 1.5.1 1.5-.2 1.5 0 1.5-.1 1.6.5 1.5-.1 1.5-.6 1.5-.9 1.5 1 1.5.4 1.5.5 1.5-.9 1.5-.2 1.5-.6 1.5.3 1.5.4 1.5 0 1.5-.4 1.5-.3 1.5.6 1.5.4 1.5.5 1.5.4 1.5.2 1.5.1 1.5-.8 1.5-.5 1.5-.1 1.6.5 1.5.1 1.5-1 1.5-.6 1.5.1 1.5.7 1.5.3 1.5-.4 1.5-.8 1.5.1 1.5.3 1.5.8 1.5-.3 1.5-.6 1.5-1 1.5.1 1.5.5 1.5.1 1.5-.3 1.5-.4 1.5.1 1.5-.7 1.5-.1 1.5.4 1.6.4 1.5-.1 1.5-1.1 1.5.9 1.5.5 1.5 1 1.5-.3 1.5-.3 1.5.1 1.5.1 1.5.2 1.5.1 1.5.2 1.5.6 1.5-.4 1.5 0 1.5-.6 1.5.1 1.5-.8 1.5.3 1.5.1 1.5.4 1.5 0 1.5-.1 1.6.2 1.5-.2 1.5.6 1.5.2 1.5-.2 1.5 0 1.5-.4 1.5.3 1.5-.4 1.5.2 1.5-.4 1.5.1 1.5 0 1.5.3 1.5.4 1.5-.6 1.5.1 1.5-.8 1.5-.1 1.5-.4 1.5-.1 1.5.1 1.5 0 1.5.3 1.6.4 1.5-.4 1.5-.1 1.5-.5 1.5.4 1.5.3 1.5.2 1.5-.2 1.5-.8 1.5-1.3 1.5-.1 1.5-.5 1.5.4 1.5-.5 1.5.1 1.5.1 1.5-.3 1.5-.5 1.5-1.5 1.5-1.1 1.5-1.2 1.5-1.8 1.5-1.1 1.6-2.4 1.5-2.2 1.5-2.8 1.5-2.3 1.5-3.4 1.5-4.7 1.5-4.2 1.5-4.8 1.5-5.8 1.5-6.8 1.5-5.4 1.5-5.3 1.5-5.6 1.5-5.9 1.5-5.2 1.5-4.6 1.5-4.2 1.5-2.2 1.5-1.2 1.5.6 1.5 1.4 1.5 2.3 1.5 2.4 1.5 2.3 1.6 3.1 1.5 3.7 1.5 3.4 1.5 3.9 1.5 4.6 1.5 5.3 1.5 4.5 1.5 4.2 1.5 3.9 1.5 4.7 1.5 5 1.5 4.7 1.5 3.7 1.5 2.8 1.5 3 1.5 2.9 1.5 2.4 1.5 1.9 1.5 2 1.5 2.1 1.5 1.3 1.5.8 1.5.8 1.5.5 1.6.6 1.5.1 1.5.9 1.5.5 1.5.2 1.5.4 1.5-.1 1.5 0 1.5-.5 1.5.8 1.5.1 1.5.9 1.5.2 1.5.8 1.5 0 1.5-.3 1.5-.1 1.5 0 1.5-.2 1.5.5 1.5 0 1.5.9 1.5-.1 1.5.2 1.6-.4 1.5.3 1.5-.2 1.5-.4 1.5-.7 1.5.5 1.5.4 1.5.3 1.5-.3 1.5-.4 1.5.3 1.5.4 1.5 0 1.5-.9 1.5-.3 1.5 0 1.5.4 1.5.4 1.5.3 1.5-.2 1.5-.7 1.5.3 1.5.5 1.5.6 1.6-.4 1.5-.4 1.5-.1 1.5.6 1.5.5 1.5-.3 1.5-.5 1.5-.1 1.5.5 1.5.5 1.5.8 1.5.1 1.5-.4 1.5-.5 1.5-.1 1.5.1 1.5 0 1.5 0 1.5-.2 1.5.1 1.5-.1 1.5.1 1.5 0 1.5 0 1.6.8 1.5 0 1.5.2 1.5-.8 1.5-.2 1.5.2 1.5 0 1.5.4 1.5-.9 1.5.2 1.5.1 1.5.7 1.5-.1 1.5.1 1.5-.4 1.5-.2 1.5-.3 1.5.6 1.5.4 1.5-.1 1.5-.2 1.5 0 1.5-.4 1.6-.9 1.5-.4 1.5-.1 1.5.7 1.5-.1 1.5.2 1.5.3 1.5.4 1.5.2 1.5.4 1.5-.2 1.5-.1 1.5-.1 1.5-.2 1.5-.4 1.5 0 1.5.5 1.5.6 1.5-.2 1.5.2 1.5-.4 1.5-.2 1.5-.6 1.5.2 1.6.1 1.5.2 1.5.1 1.5.8 1.5-.2 1.5 0 1.5-.6 1.5.7 1.5-.5 1.5 0 1.5-.1 1.5.2 1.5-.5 1.5-.2 1.5.3 1.5.4 1.5.6 1.5-.4 1.5-.1 1.5-.9 1.5.3 1.5-.1 1.5-.1 1.5-.7 1.6-.3 1.5.2 1.5.8 1.5.4 1.5-.6 1.5-.6 1.5-.4 1.5.2 1.5-.1 1.5-.1 1.5-.3 1.5-.7 1.5-1.5 1.5-.9 1.5-1.2 1.5-.3 1.5-.7 1.5-.5 1.5-.3 1.5-.2 1.5 1.3 1.5.6 1.5 0 1.5 0 1.6.2 1.5.6 1.5-.3 1.5 0 1.5.1 1.5.3 1.5-.3 1.5 0 1.5-.3 1.5.1 1.5.2 1.5.3 1.5.4 1.5.9 1.5.4 1.5-.3 1.5-1.6 1.5-.7 1.5-.6 1.5-.4 1.5-.1 1.5-.3 1.5 0 1.5-.2 1.6-.9 1.5-1.5 1.5-2.5 1.5-2.1 1.5-2.6 1.5-3 1.5-2.8 1.5-3.5 1.5-4.6 1.5-5.6 1.5-5.5 1.5-5.4 1.5-5.7 1.5-6.1 1.5-6.5 1.5-7 1.5-6.4 1.5-6.4 1.5-5 1.5-5.1 1.5-2.8 1.5-2.4 1.5-.3 1.6.6 1.5 2 1.5 3.2 1.5 2.7 1.5 3.1 1.5 3.2 1.5 3.8 1.5 5.2 1.5 5.2 1.5 5.5 1.5 4.7 1.5 5 1.5 5.5 1.5 5.2 1.5 4.8 1.5 4.6 1.5 4.9 1.5 4.2 1.5 3.2 1.5 2.4 1.5 3.3 1.5 2.5 1.5 2.3 1.5 1.2 1.6 1.3 1.5 2.3 1.5 1.6 1.5.8 1.5.9 1.5.8 1.5.7 1.5-.9 1.5.3 1.5.5 1.5 1.1 1.5-.2 1.5.8 1.5.7 1.5.6 1.5-.2 1.5-.3 1.5.1 1.5-.2 1.5.4 1.5-.2 1.5.7 1.5-.3 1.5.5 1.6.3 1.5.7 1.5-.3 1.5-.5 1.5-.6 1.5 0 1.5.6 1.5-.2 1.5.2 1.5.1 1.5.6 1.5 0 1.5.2 1.5.1 1.5-.6 1.5-.3 1.5-.3 1.5.3 1.5-.4 1.5-.2 1.5-.1 1.5 0 1.5 0 1.5-.1 1.6-.4 1.5-.5 1.5.2 1.5.2 1.5.6 1.5 0 1.5.6 1.5 0 1.5.1 1.5-.7 1.5-.1 1.5-.8 1.5.1 1.5-.2 1.5-.2 1.5-1.1 1.5 0 1.5 0 1.5.4 1.5-1.1 1.5-.8 1.5-.6 1.5-.5 1.5-.4 1.6-.8 1.5-1.1 1.5-.9 1.5-.8 1.5-.3 1.5-1.1 1.5-.2 1.5 0 1.5.4 1.5.3 1.5.2 1.5.5"/>
<path fill="none" stroke="#ff0000" stroke-width="4.6" stroke-linejoin="round" d="M55.3 1058.5l1.5-.1 1.5 0 1.5-.6 1.5-.5 1.5-.4 1.5.2 1.5.4 1.5.9 1.5-.2 1.5.1 1.5-.1 1.6.1 1.5.5 1.5-.6 1.5 0 1.5-.3 1.5.5 1.5.2 1.5.1 1.5-.2 1.5-.5 1.5 0 1.5 0 1.5.5 1.5.1 1.5 0 1.5-.6 1.5-.4 1.5.1 1.5.2 1.5.4 1.5-.2 1.5.1 1.5-.5 1.5-.1 1.6.3 1.5 0 1.5-.1 1.5-.6 1.5.3 1.5-.4 1.5-.1 1.5 0 1.5.7 1.5 0 1.5-.2 1.5-1.2 1.5.1 1.5-.4 1.5 0 1.5-.9 1.5-.4 1.5.4 1.5.7 1.5.2 1.5.2 1.5.2 1.5-.3 1.5-.3 1.6-.3 1.5.8 1.5 0 1.5.5 1.5-.2 1.5.9 1.5-.2 1.5.1 1.5-.7 1.5.2 1.5.8 1.5 0 1.5-.3 1.5-.7 1.5.3 1.5 0 1.5.3 1.5 0 1.5.3 1.5-.4 1.5-.4 1.5-.1 1.5-.2 1.5.6 1.6.5 1.5.2 1.5-.4 1.5-1.1 1.5-.2 1.5.1 1.5.6 1.5.2 1.5.1 1.5-.1 1.5-.2 1.5.1 1.5-.6 1.5-.3 1.5-.8 1.5.3 1.5 0 1.5.1 1.5-.1 1.5.1 1.5.2 1.5.1 1.5-.1 1.5-.6 1.6-.5 1.5-.2 1.5.4 1.5.3 1.5.2 1.5-.2 1.5 0 1.5-.8 1.5-.3 1.5-.4 1.5.5 1.5-.6 1.5-.7 1.5-1.3 1.5-.9 1.5-1.4 1.5-1.2 1.5-1.3 1.5-.8 1.5-2 1.5-2.1 1.5-2.4 1.5-3 1.6-3.3 1.5-4.7 1.5-4.3 1.5-5 1.5-4.9 1.5-5.9 1.5-6.4 1.5-6 1.5-5.9 1.5-5.3 1.5-5.5 1.5-4.5 1.5-3.9 1.5-2.8 1.5-1.9 1.5 0 1.5.7 1.5 2.1 1.5 2.7 1.5 3.1 1.5 3.1 1.5 2.4 1.5 3.7 1.5 4.5 1.6 4.6 1.5 4.5 1.5 4.3 1.5 5.1 1.5 4.6 1.5 4.4 1.5 4.4 1.5 3.8 1.5 4.8 1.5 4 1.5 3.6 1.5 2.5 1.5 2.2 1.5 2.2 1.5 1.8 1.5 1.5 1.5 1.3 1.5.7 1.5.7 1.5.7 1.5 1.1 1.5.8 1.5 1.2 1.5.3 1.6.4 1.5-.1 1.5.6 1.5.9 1.5.4 1.5-.3 1.5-.4 1.5.1 1.5.4 1.5.4 1.5-.2 1.5.5 1.5.3 1.5.5 1.5-.3 1.5-.9 1.5-.6 1.5.1 1.5.8 1.5-.4 1.5-.2 1.5.2 1.5 1.2 1.5 0 1.6-.1 1.5-.2 1.5.1 1.5.2 1.5.3 1.5-.1 1.5-.6 1.5-.7 1.5-.4 1.5.6 1.5.8 1.5.4 1.5-.3 1.5-.9 1.5-.2 1.5-.1 1.5.2 1.5.1 1.5-.6 1.5-.4 1.5 0 1.5.5 1.5.5 1.5 0 1.6.1 1.5 0 1.5.4 1.5.1 1.5-.1 1.5-.1 1.5.4 1.5.2 1.5-.1 1.5-.5 1.5.2 1.5.5 1.5.7 1.5-.1 1.5.3 1.5-.5 1.5.1 1.5-.6 1.5.3 1.5.4 1.5.1 1.5-.3 1.5-.7 1.5 0 1.6.1 1.5.4 1.5-.2 1.5-.2 1.5 0 1.5.3 1.5.5 1.5.1 1.5 0 1.5-.3 1.5-.1 1.5-.5 1.5.4 1.5.2 1.5.8 1.5-.4 1.5-.2 1.5-.7 1.5.3 1.5-.1 1.5.5 1.5-.1 1.5.2 1.6-.4 1.5.2 1.5-.2 1.5 0 1.5-.2 1.5.2 1.5-.3 1.5-.4 1.5-.1 1.5.4 1.5-.2 1.5-.5 1.5-.2 1.5.6 1.5.6 1.5.5 1.5.2 1.5.7 1.5-.8 1.5-.3 1.5-.4 1.5 0 1.5-.4 1.5-.2 1.6.6 1.5.8 1.5-.6 1.5-.7 1.5-.4 1.5.4 1.5.4 1.5 0 1.5.7 1.5-.1 1.5-.1 1.5-.5 1.5.4 1.5-.4 1.5 0 1.5-.6 1.5-.1 1.5.2 1.5.4 1.5.8 1.5-.3 1.5 0 1.5-.5 1.5.1 1.6-.4 1.5.4 1.5-.5 1.5.6 1.5-.6 1.5.4 1.5-.6 1.5 0 1.5 0 1.5-.3 1.5-.8 1.5-.8 1.5-.5 1.5-1.1 1.5-.6 1.5-.7 1.5-.6 1.5-1 1.5-.4 1.5.2 1.5.2 1.5.1 1.5.9 1.5.8 1.6.3 1.5-.2 1.5-.1 1.5 0 1.5-.2 1.5.1 1.5-.5 1.5.3 1.5-.3 1.5.4 1.5.1 1.5.2 1.5.8 1.5-.1 1.5-.2 1.5-.7 1.5-.5 1.5-1.4 1.5-1.3 1.5-1.2 1.5-1 1.5-1.6 1.5-2.3 1.5-2.1 1.6-3.4 1.5-3.6 1.5-4.1 1.5-3.7 1.5-3.9 1.5-5.2 1.5-6.1 1.5-6.4 1.5-6.6 1.5-6 1.5-7.1 1.5-7.2 1.5-6.9 1.5-5.7 1.5-4.1 1.5-3.1 1.5-1.7 1.5-.1 1.5.8 1.5 1.9 1.5 2.6 1.5 3.1 1.5 3.2 1.6 3 1.5 3.5 1.5 4.2 1.5 5.4 1.5 5.1 1.5 5.5 1.5 5.5 1.5 6.5 1.5 5.5 1.5 4.8 1.5 4.5 1.5 4.4 1.5 4.1 1.5 3.6 1.5 2.9 1.5 3 1.5 2.2 1.5 2.7 1.5 1.4 1.5 1.2 1.5 1 1.5 1.3 1.5 1.4 1.5.8 1.6.9 1.5.7 1.5.7 1.5-.1 1.5.5 1.5-.2 1.5.5 1.5.2 1.5.4 1.5.7 1.5.4 1.5.8 1.5-.1 1.5-.2 1.5-.6 1.5 0 1.5-.2 1.5.1 1.5-.2 1.5-.3 1.5-.8 1.5-.1 1.5 0 1.5 1.2 1.6.2 1.5.1 1.5-.1 1.5.2 1.5.2 1.5-.3 1.5-.5 1.5.1 1.5.6 1.5 0 1.5-.3 1.5-.1 1.5.7 1.5.6 1.5-.6 1.5-.1 1.5.1 1.5.9 1.5.3 1.5-.3 1.5 0 1.5-.4 1.5 0 1.5-.5 1.6.7 1.5.2 1.5.3 1.5-1.1 1.5.4 1.5.1 1.5.1 1.5-.9 1.5.3 1.5.1 1.5.9 1.5-.9 1.5-.7 1.5-.5 1.5 0 1.5.6 1.5-1 1.5-.7 1.5-.5 1.5-.8 1.5-1.3 1.5-.8 1.5-.8 1.5.1 1.6-1.3 1.5-.8 1.5-1.3 1.5-1.3 1.5-.2 1.5-.5 1.5.3 1.5 0 1.5.3 1.5.5 1.5-.1 1.5.4"/>
<path fill="none" stroke="#000000" stroke-width="4.6" stroke-linejoin="round" d="M55.3 1175.2l1.5.4 1.5-.3 1.5 0 1.5-.5 1.5.4 1.5-.8 1.5.3 1.5-.3 1.5.8 1.5-.1 1.5.3 1.6.5 1.5-.2 1.5-1 1.5-.9 1.5-.1 1.5.5 1.5.3 1.5.6 1.5-.1 1.5 0 1.5-.3 1.5-.1 1.5-.1 1.5.8 1.5.2 1.5-.2 1.5-1.5 1.5.3 1.5.2 1.5.5 1.5.4 1.5.5 1.5-.4 1.5-.8 1.6-.2 1.5.8 1.5-.3 1.5.2 1.5.3 1.5-.1 1.5-1.1 1.5-1.1 1.5.5 1.5.7 1.5.3 1.5-.5 1.5-.5 1.5 0 1.5-.4 1.5-.6 1.5-.3 1.5.7 1.5.6 1.5.1 1.5-.5 1.5.3 1.5-.5 1.5.2 1.6-.4 1.5.5 1.5-.3 1.5.5 1.5 0 1.5.2 1.5 0 1.5.1 1.5 0 1.5-.2 1.5.3 1.5-.1 1.5.1 1.5-.3 1.5.4 1.5 0 1.5.7 1.5-.6 1.5.2 1.5-.7 1.5.9 1.5-.7 1.5.3 1.5-.8 1.6.7 1.5-.3 1.5.4 1.5-.5 1.5-.5 1.5 0 1.5-.1 1.5-.4 1.5-.6 1.5.3 1.5.8 1.5.6 1.5-.4 1.5-.3 1.5-.2 1.5-.1 1.5-.6 1.5-.7 1.5-.7 1.5-.1 1.5-.4 1.5 0 1.5.1 1.5 0 1.6.1 1.5 0 1.5-.6 1.5-1 1.5-.6 1.5-.1 1.5.1 1.5-.6 1.5-.7 1.5-.8 1.5-.7 1.5-.9 1.5-2 1.5-2.4 1.5-2.6 1.5-1.9 1.5-3 1.5-3.6 1.5-4.4 1.5-4.3 1.5-4.9 1.5-5.3 1.5-5.9 1.6-5.6 1.5-5.8 1.5-6 1.5-6 1.5-5.3 1.5-4.7 1.5-2.8 1.5-2.2 1.5-.6 1.5-.9 1.5 1.6 1.5 2.2 1.5 3.4 1.5 2.1 1.5 2.9 1.5 3.9 1.5 3.5 1.5 4.2 1.5 3.7 1.5 4.9 1.5 4.7 1.5 4.4 1.5 4.9 1.5 4.2 1.6 5.2 1.5 4.1 1.5 3.9 1.5 2.2 1.5 2.8 1.5 3.1 1.5 2.7 1.5 2.6 1.5 1.7 1.5 1.7 1.5.3 1.5 1 1.5 1 1.5 1.4 1.5 1 1.5.6 1.5.4 1.5.5 1.5.6 1.5 0 1.5.1 1.5-.2 1.5.5 1.5 0 1.6 0 1.5.2 1.5.1 1.5.7 1.5-.5 1.5.5 1.5.2 1.5.4 1.5-.3 1.5-.2 1.5.1 1.5.4 1.5-.2 1.5-.3 1.5-.2 1.5.8 1.5.3 1.5-.2 1.5-.8 1.5.2 1.5.7 1.5.1 1.5.1 1.5-.3 1.6.4 1.5 0 1.5.3 1.5.1 1.5-.2 1.5.5 1.5-.6 1.5-.2 1.5-.4 1.5.5 1.5.3 1.5-.2 1.5.2 1.5-.1 1.5-.2 1.5-.5 1.5-.1 1.5-.1 1.5.7 1.5.4 1.5.4 1.5-.5 1.5.2 1.5-.6 1.6.3 1.5-.1 1.5.3 1.5-.4 1.5-.1 1.5 0 1.5.1 1.5-.2 1.5-.1 1.5.2 1.5.6 1.5.3 1.5.3 1.5-.9 1.5.1 1.5-.3 1.5.2 1.5.2 1.5.8 1.5 0 1.5.2 1.5-.6 1.5.3 1.5-.5 1.6-.4 1.5-.2 1.5-.1 1.5.2 1.5-.3 1.5.3 1.5 0 1.5.9 1.5.5 1.5.1 1.5-.7 1.5-.3 1.5.1 1.5.1 1.5-.5 1.5-.8 1.5.1 1.5.8 1.5.5 1.5.1 1.5-.5 1.5.2 1.5.2 1.6-.8 1.5-.2 1.5-.1 1.5.6 1.5.4 1.5-.2 1.5.3 1.5.1 1.5.1 1.5-.3 1.5-.6 1.5.3 1.5-.7 1.5-.4 1.5-.3 1.5.9 1.5.6 1.5-.1 1.5.2 1.5-.2 1.5.1 1.5-.4 1.5.4 1.5.1 1.6-.6 1.5-.6 1.5.1 1.5.7 1.5-.2 1.5.1 1.5-.7 1.5.3 1.5-.5 1.5.2 1.5-.5 1.5.1 1.5-.3 1.5-.2 1.5.6 1.5.8 1.5.8 1.5-.5 1.5 0 1.5-.2 1.5.2 1.5-.2 1.5.1 1.5.3 1.6-.4 1.5-.2 1.5-.4 1.5-.3 1.5-.4 1.5.2 1.5-.3 1.5.7 1.5-.3 1.5.9 1.5-.2 1.5 0 1.5.1 1.5-.3 1.5-.3 1.5-.3 1.5-.3 1.5.3 1.5-.2 1.5-.1 1.5-.9 1.5-.9 1.5.6 1.5-.3 1.6.1 1.5-.5 1.5.4 1.5.2 1.5-.5 1.5-.5 1.5-.7 1.5-.6 1.5-.1 1.5.2 1.5 0 1.5-.9 1.5-1.8 1.5-1.1 1.5-1.2 1.5-1.5 1.5-1.4 1.5-1.9 1.5-1.5 1.5-3.2 1.5-3.2 1.5-3.7 1.5-4.3 1.5-4.8 1.6-5.2 1.5-5.8 1.5-5.5 1.5-6.7 1.5-7 1.5-7.7 1.5-6.6 1.5-5.9 1.5-5 1.5-4.5 1.5-3.2 1.5-1.6 1.5.1 1.5.8 1.5 1.4 1.5 1.5 1.5 2.5 1.5 3.3 1.5 3.9 1.5 4.4 1.5 4 1.5 4.8 1.5 4.6 1.6 5.3 1.5 5.2 1.5 6.2 1.5 5.5 1.5 5 1.5 4.6 1.5 4.5 1.5 4.6 1.5 3.6 1.5 3.3 1.5 2.5 1.5 2.6 1.5 1.9 1.5 1.4 1.5 1.6 1.5 1.4 1.5 1.6 1.5.9 1.5 1.2 1.5-.2 1.5.1 1.5.5 1.5.8 1.5.8 1.6-.2 1.5.6 1.5 0 1.5-.2 1.5.6 1.5.6 1.5.2 1.5-.1 1.5.1 1.5.7 1.5.2 1.5.2 1.5-.5 1.5.1 1.5-.3 1.5.5 1.5.4 1.5-.5 1.5.2 1.5-.4 1.5.9 1.5.4 1.5.1 1.5-.7 1.6-.3 1.5.1 1.5.2 1.5.1 1.5.2 1.5.8 1.5-.1 1.5 0 1.5-.8 1.5-.2 1.5.5 1.5.6 1.5.6 1.5.1 1.5 0 1.5-.6 1.5-.4 1.5-.2 1.5-.2 1.5.1 1.5-.3 1.5.5 1.5-.3 1.5.5 1.6.9 1.5-.2 1.5-.2 1.5-.2 1.5.1 1.5 0 1.5-.7 1.5.4 1.5-.4 1.5.1 1.5.1 1.5 1.3 1.5-.2 1.5-.3 1.5-.7 1.5-.8 1.5.2 1.5.5 1.5.7 1.5-.1 1.5-.6 1.5 0 1.5-.4 1.5.5 1.6-.2 1.5.2 1.5-.1 1.5.1 1.5-.1 1.5-.2 1.5-.2 1.5.1 1.5-1.1 1.5-1.2 1.5-1.1 1.5-1.1"/>
<text x="265.7" y="721.4" font-family="'Liberation Sans',Arial,sans-serif" font-weight="bold" font-size="18.83" textLength="42.4" lengthAdjust="spacingAndGlyphs" fill="#000">(107)</text>
<text x="637.2" y="713.7" font-family="'Liberation Sans',Arial,sans-serif" font-weight="bold" font-size="18.19" textLength="43.6" lengthAdjust="spacingAndGlyphs" fill="#000">(114)</text>
<text x="428.6" y="808.6" font-family="'Liberation Sans',Arial,sans-serif" font-weight="bold" font-size="20.53" textLength="87.4" lengthAdjust="spacingAndGlyphs" fill="#000">(x=0.50)</text>
<text x="461.1" y="906.7" font-family="'Liberation Sans',Arial,sans-serif" font-weight="bold" font-size="21.28" textLength="85.9" lengthAdjust="spacingAndGlyphs" fill="#000">(x=0.35)</text>
<text x="457.7" y="1026.9" font-family="'Liberation Sans',Arial,sans-serif" font-weight="bold" font-size="21.06" textLength="85.5" lengthAdjust="spacingAndGlyphs" fill="#000">(x=0.20)</text>
<text x="445.2" y="1146.3" font-family="'Liberation Sans',Arial,sans-serif" font-weight="bold" font-size="21.28" textLength="87.5" lengthAdjust="spacingAndGlyphs" fill="#000">(x=0.00)</text>
<text x="563" y="818" font-family="'Liberation Sans',Arial,sans-serif" font-weight="bold" font-size="23.95" textLength="11.0" lengthAdjust="spacingAndGlyphs" fill="#000">*</text>
<text x="67.6" y="700.7" font-family="'Liberation Sans',Arial,sans-serif" font-weight="normal" font-size="21.17" textLength="27.5" lengthAdjust="spacingAndGlyphs" fill="#000">(b)</text>
<text x="379.5" y="715.9" font-family="'Liberation Sans',Arial,sans-serif" font-weight="bold" font-size="28.86" textLength="229.2" lengthAdjust="spacingAndGlyphs">Sr<tspan dy="9.7">1-x</tspan><tspan dy="-9.7">Ni</tspan><tspan dy="9.7">x</tspan><tspan dy="-9.7">Fe</tspan><tspan dy="9.7">12</tspan><tspan dy="-9.7">O</tspan><tspan dy="9.7">19</tspan></text>
<text x="40.5" y="1266.8" font-family="'Liberation Sans',Arial,sans-serif" font-weight="bold" font-size="26.48" textLength="29.7" lengthAdjust="spacingAndGlyphs" fill="#000">31</text>
<text x="228.5" y="1266.8" font-family="'Liberation Sans',Arial,sans-serif" font-weight="bold" font-size="26.48" textLength="30.0" lengthAdjust="spacingAndGlyphs" fill="#000">32</text>
<text x="416.6" y="1266.8" font-family="'Liberation Sans',Arial,sans-serif" font-weight="bold" font-size="26.48" textLength="30.0" lengthAdjust="spacingAndGlyphs" fill="#000">33</text>
<text x="604.6" y="1266.8" font-family="'Liberation Sans',Arial,sans-serif" font-weight="bold" font-size="26.48" textLength="28.9" lengthAdjust="spacingAndGlyphs" fill="#000">34</text>
<text x="792.6" y="1266.8" font-family="'Liberation Sans',Arial,sans-serif" font-weight="bold" font-size="26.48" textLength="29.7" lengthAdjust="spacingAndGlyphs" fill="#000">35</text>
<text x="394.2" y="1302.7" font-family="'Liberation Sans',Arial,sans-serif" font-weight="bold" font-size="29.29" textLength="16.4" lengthAdjust="spacingAndGlyphs" fill="#000">2</text><text x="410.3" y="1302.4" font-family="'Liberation Serif','Times New Roman',serif" font-weight="normal" font-size="25.99" textLength="17.0" lengthAdjust="spacingAndGlyphs" fill="#000">θ</text>
<text transform="translate(26.6,1059.3) rotate(-90)" font-family="'Liberation Sans',Arial,sans-serif" font-weight="bold" font-size="29.14" textLength="182.4" lengthAdjust="spacingAndGlyphs">Intensity (a.u)</text>
<defs><marker id="mo" markerUnits="userSpaceOnUse" markerWidth="8" markerHeight="8" refX="4" refY="4" overflow="visible"><circle cx="4" cy="4" r="2.0" fill="#fff" stroke="#000" stroke-width="1.1"/></marker><marker id="mr" markerUnits="userSpaceOnUse" markerWidth="8" markerHeight="8" refX="4" refY="4" overflow="visible"><circle cx="4" cy="4" r="2.2" fill="#ff0000"/></marker></defs>
<path fill="none" stroke="#000" stroke-width="2.0" d="M104.5 1866.6H109M100 1836.1H109M104.5 1805.6H109M100 1775H109M104.5 1744.5H109M100 1713.9H109M104.5 1683.4H109M100 1652.9H109M104.5 1622.3H109M100 1591.8H109M104.5 1561.3H109M100 1530.7H109M104.5 1500.2H109M100 1469.7H109M104.5 1439.1H109M100 1408.6H109M104.5 1378H109M100 1347.5H109M109 1866.8V1877.8M167.6 1866.8V1872.8M226.2 1866.8V1877.8M284.9 1866.8V1872.8M343.5 1866.8V1877.8M402.1 1866.8V1872.8M460.7 1866.8V1877.8M519.3 1866.8V1872.8M577.9 1866.8V1877.8M636.5 1866.8V1872.8M695.2 1866.8V1877.8M753.8 1866.8V1872.8M812.4 1866.8V1877.8M109 1347.5V1358.5M179.3 1347.5V1353.5M249.7 1347.5V1358.5M320 1347.5V1353.5M390.4 1347.5V1358.5M460.7 1347.5V1353.5M531 1347.5V1358.5M601.4 1347.5V1353.5M671.7 1347.5V1358.5M742.1 1347.5V1353.5M812.4 1347.5V1358.5M802.4 1347.5H812.4M807.4 1399.4H812.4M802.4 1451.4H812.4M807.4 1503.3H812.4M802.4 1555.2H812.4M807.4 1607.2H812.4M802.4 1659.1H812.4M807.4 1711H812.4M802.4 1762.9H812.4M807.4 1814.9H812.4M802.4 1866.8H812.4"/>
<path fill="none" stroke="#000" stroke-width="2.5" stroke-linecap="square" d="M109 1347.5H812.4V1866.8H109Z"/>
<clipPath id="cb1"><rect x="109" y="1619.5" width="703.4" height="12"/></clipPath>
<clipPath id="rcb1"><rect x="109" y="1608.8" width="703.4" height="16"/></clipPath>
<path fill="none" stroke="#000" stroke-width="1.1" stroke-linejoin="round" d="M109.5 1623.6l.5.1.5-.8.5.1.5 0 .5.4.5-.2.5 0 .5.4.5-.3.5.1.5-.5.5-.1.5-.5.5.7.5.1.5.1.5-.7.5-.2.5.2.5.2.5.8.5.5.5-1.2.5-1.6.5-.6.5 1.1.5 1.1.5.2.5 1.3.5-.7.5-.3.5 0 .5.8.5.5.5-1.2.5-1.2.5-.2.5.3.5.2.5-.4.5-.1.5.1.5.3.5.1.5.5.5-.2.5.2.5.4.5.4.5-.7.5-.1.5-.4.5.9.5-1 .5.7.5-.4.5-.1.5-.7.5 0 .5.7.5-.4.5-.7.5-.2.5-.1.5-.7.5-3.5.5-8 .5-8 .5-1.7.5 5.4.5 6.5.5 5.7.5 3.6.5 2.3.5-.1.5-.7.5-.4.5 0 .5 1.2.5.2.5-.6.5-1 .5.4.5 1.2.5.3.5-.5.5-.1.5.6.5.4.5-.1.5-.2.5-.6.5.4.5-1.1.5.1.5-.5.5.4.5.2.5-.3.5 1.1.5-.2.5.7.5.1.5.3.5-.8.5-1.3.5.6.5.4.5.4.5-.8.5 0 .5.8.5-.1.5.1.5-.8.5.3.5-.6.5.7.5.5.5-.2.5-1.6.5-.4.5 2 .5.8.5-1 .5-1 .5.1.5.4.5-.5.5.7.5.1.5.3.5-.4.5-.2.5-.3.5-.4.5.4.5-.4.5 0 .5.7.5.5.5.5.5-.4.5-.2.5-.1.5 0 .5.3.5-.5.5.2.5-.4.5.1.5-.9.5.1.5 1.3.5-.1.5.3.5-1.9.5.6.5.3.5 1 .5-.3.5-.4.5.5.5.6.5.9.5-.2.5-.7.5-1 .5-.2.5.4.5 0 .5.2.5-.9.5.4.5-.4.5.3.5-.1.5.9.5.8.5-.2.5-1.2.5 1.2.5.4.5-.2.5-1.8.5-.5.5-.2.5.3.5-.6.5.3.5-2.1.5-5 .5-3.2.5-.5.5 4.8.5 3.3.5 3.2.5-.1.5 1.2.5.9.5 0 .5-.7.5-1.3.5.5.5-.8.5 1.3.5-.5.5.5.5-.7.5.2.5 0 .5-.5.5.2.5-.4.5 0 .5 0 .5.4.5.2.5 0 .5.5.5-.2.5 0 .5-.7.5-.1.5-.6.5.5.5-.3.5.1.5-.1.5.7.5 0 .5-1.3.5-.2.5 0 .5-.2.5-.5.5-2.2.5-5.5.5-16.6.5-31.5.5-35 .5-10.6.5 20.8.5 30.4.5 26.5.5 14.5.5 6.4.5 3.1.5.4.5.5.5.3.5 0 .5.5.5-.2.5 0 .5-.2.5.5.5.3.5-.4.5.1.5-.8.5-.1.5-.3.5.2.5.5.5 0 .5 1.1.5-.6.5-.3.5-.3.5-.9.5 1.8.5-.7.5.7.5-1.3.5.1.5-.9.5-.6.5-.2.5-.4.5-2.4.5-5.7.5-18.2.5-44 .5-69.7.5-52.3.5 10.1.5 51 .5 58.1.5 42.2.5 20.3.5 8.3.5 2.1.5 1.2.5-.1.5.8.5 1.1.5.5.5-.5.5-.8.5.1.5 0 .5.2.5.2.5 1.1.5-.1.5.4.5-.3.5-.1.5.5.5-.8.5-.3.5-.9.5.2.5-.4.5.1.5-.8.5 1.2.5-.2.5.3.5-1.4.5-.5.5-.3.5-.8.5-1.3.5-1.8.5-4.5.5-14.6.5-41.5.5-75 .5-72.5.5-7.1.5 51.6.5 67.9.5 54.4.5 29 .5 10.2.5 3.7.5.2.5 2.3.5-.2.5.7.5.2.5 1.1.5.5.5-.4.5-.5.5.4.5.3.5-.8.5-.7.5-2.2.5-5.1.5-11.4.5-9.6.5-.9.5 8.1.5 8.9.5 8.1.5 3.7.5.6.5-2.2.5-5.6.5-6.3.5-3.8.5 1.9.5 5.5.5 5.9.5 5.5.5.6.5 0 .5-.1.5.3.5-.3.5-.4.5 1.3.5.3.5 0 .5-.4.5 1.1.5-.3.5.4.5-1.2.5-.1.5-.6.5 1 .5.4.5-.4.5-.3.5.1.5.2.5-.6.5-.6.5-1 .5-.1.5-.2.5-.4.5-1.6.5-7.2.5-17.4.5-32.5.5-30.1.5-4.5.5 21.9.5 28.8.5 24.5.5 13.1.5 4.1.5.4.5.5.5.2.5 1.3.5-.8.5 1.3.5.7.5.3.5 0 .5-.3.5.3.5-.4.5-.1.5.4.5.2.5-.1.5.2.5-.4.5.3.5-.3.5 1.1.5-.4.5.7.5-.7.5.2.5-1.2.5.2.5.1.5-.2.5-.8.5-.3.5.2.5 1.1.5.9.5.8.5-.4.5-.9.5-.4.5.3.5 1.3.5.4.5-.6.5-1 .5-.7.5-.3.5-.1.5.3.5 1.3.5.1.5.6.5-.1.5 0 .5.1.5-.6.5-.2.5-.8.5-.4.5 0 .5-.4.5-.1.5.1.5-.8.5-1.1.5-4.4.5-9.3.5-18.9.5-20.8.5-5.8.5 12 .5 18.2.5 15.8.5 9.1.5 4.6.5 1.7.5 1.5.5-.3.5.5.5-.5.5 0 .5-.8.5-1.2.5.2.5 1 .5.8.5 0 .5-.7.5.1.5-1.1.5.3.5-.2.5.3.5 1 .5-.7.5.2.5-1.7.5 1.2.5.1.5.9.5-.2.5.5.5-1 .5-.6.5.7.5 0 .5-.2.5-1 .5 1 .5.4.5.4.5-1.2.5 0 .5-1.1.5-3.6.5-8.6.5-14.7.5-14.1.5-1.4.5 10.3.5 13.6.5 9.8.5 4.3.5 2.7.5 1.4.5 1.3.5.6.5-.2.5.1.5.8.5 1.3.5.3.5-.9.5-.1.5-1 .5.4.5-.5.5 1 .5-.1.5-.5.5-.5.5.4.5 0 .5-.3.5-1 .5-.2.5.8.5 1 .5 1.2.5-.4.5-.7.5-.3.5-.4.5.4.5.4.5.9.5-.7.5-.5.5-.6.5 1.2.5 0 .5-.8.5-.7.5.8.5 1.3.5.3.5-1 .5-1.3.5-1.3.5-.7.5 1 .5 1 .5 1 .5-.1.5.3.5-.5.5-.2.5 0 .5-.3.5-1 .5-1 .5.5.5-.2.5.4.5-.2.5.8.5-.6.5 0 .5.4.5 1.4.5.4.5-.5.5-1.1.5.2.5 1.7.5.6.5-.2.5 0 .5-.2.5-.3.5-1.7.5-.2.5 1.2.5 0 .5.2.5-1.8.5.8.5.3.5.6.5.1.5-.4.5-.6.5-2.4.5-5 .5-5.4.5-1.8.5 2.6.5 5 .5 4 .5 3.8.5 1.4.5.4.5-1.5.5 0 .5-.8.5 0 .5-.3.5.5.5 0 .5-.7.5.8.5.3.5.4.5 0 .5-.1.5.4.5-.7.5-.7.5-1.4.5-.5.5.5.5 1.4.5.9.5-.1.5-1 .5-.4.5.1.5.3.5-.5.5 0 .5.8.5-.4.5.1.5-1.5.5 1.2.5-.3.5 0 .5 0 .5 1.3.5 1 .5.6.5-1 .5-1.1.5-.3.5-.2.5.3.5.2.5.3.5.5.5 0 .5-.6.5.6.5-.9.5.7.5-.9.5 1.2.5-.1.5 1.3.5-1.2.5-.4.5-.3.5-1 .5-.3.5.1.5 1.6.5 1 .5-.7.5 0 .5-.9.5-.5.5-1.2.5-.1.5.3.5.2.5-1.9.5-1.5.5-1.2.5.3.5-1.4.5-2.6.5-3.8.5-.7.5-1.3.5 2 .5 1 .5 2.8.5 1.3.5 1.7.5 1.3.5 2.1.5 1.1.5 1.6.5.8.5 1.2.5-.3.5.1.5-1.2.5-.2.5-.8.5 0 .5.9.5.8.5 1.2.5-.5.5-.3.5-.9.5-.6.5.1.5.4.5.1.5 0 .5-1 .5.5.5-.6.5.6.5-.4.5.8.5.5.5 1.1.5-.4.5-.9.5-.8.5-.6.5.8.5.8.5.8.5-.5.5-.8.5-.1.5-.4.5.2.5 0 .5.5.5-.3.5 0 .5-.2.5-.2.5.3.5.5.5 1.3.5-.9.5-1 .5-.4.5 1 .5.5.5-1.2.5-.5.5-.5.5.5.5-1 .5.7.5-.9.5 1 .5.8.5.9.5.5.5-1.1.5-.3.5-1.2.5.8.5.3.5 1.4.5-1.4.5-1.2.5-3.8.5-4.5.5-5.1.5-1.7.5 2.4.5 3.7.5 5.5.5 3 .5 1.6.5-.4.5-1.1.5-.5.5.5.5 1.5.5.9.5-1 .5.1.5.7.5-.2.5-.4.5-1.2.5.6.5-.3.5-.3.5-1.5.5-1.9.5-4.5.5-8 .5-13.4.5-16.3.5-15.1.5-5.7.5 6.5.5 14.4.5 16 .5 13 .5 8.7.5 4.8.5 1.9.5.2.5.7.5.8.5 1.1.5-.9.5-.4.5-.7.5.7.5-.1.5-.1.5.7.5-.1.5.9.5-.4.5.5.5 0 .5-1.3.5-1 .5-2.2.5-.5.5-1.8.5-2.8.5-7.3.5-13.9.5-18.9.5-21.4.5-16 .5-4.9.5 7.4.5 18.3.5 19.3.5 17.7.5 11.2.5 8.3.5 4.8.5 1.6.5 1.4.5.3.5 1.5.5.1.5-.5.5-1.2.5-1.5.5-.4.5-2.5.5-4 .5-3.7.5 1.3.5 4.1.5 3.7.5 2.3.5.7.5 1.1.5.2.5.8.5.8.5.6.5-1.2.5.5.5-.2.5.1.5-1.3.5-.4.5 1.4.5.3.5.2.5-2.1.5.3.5-.6.5.6.5-.1.5.1.5 1 .5.3.5-.5.5-.5.5-1.3.5.8.5.6.5.1.5.9.5-.6.5.1.5-1 .5.6.5-.1.5.1.5-1.1.5 1.3.5 0 .5.5.5-.1.5-.7.5 0 .5.4.5.6.5.8.5-.8.5-.3.5-.9.5-.1.5.1.5-.6.5-1.4.5-2.9.5-3.7.5-3.1.5 1.1.5 2 .5 3.8.5 2.4.5 1.6.5.2.5.6.5 1.1.5.4.5.1.5.2.5-.4.5-1.5.5-.8.5.2.5.8.5.7.5.3.5.2.5.6.5-.9.5.5.5-1.2.5.1.5-.2.5 0 .5.8.5-.9.5.3.5-.8.5.4.5-.2.5-.1.5.4.5-.4.5.1.5.1.5 1.1.5.8.5-.3.5.7.5-1 .5-.5.5-1.7.5 1.1.5.5.5 1 .5 0 .5-.2.5-1 .5-1 .5 1.2.5.9.5.7.5-1.3.5-.6.5-.5.5 0 .5-1.2.5.1.5-.1.5 1.2.5 0 .5.5.5-.4.5 0 .5-2.2.5-1.4.5-1.6.5-4.4.5-10.4.5-18.9.5-23.2.5-18.5.5-4.2.5 12.3.5 20.1.5 20.3.5 15.3.5 8.5.5 4.8.5 1.1.5 2.2.5.2.5.8.5-.9.5.1.5-.2.5-.1.5.7.5.7.5.5.5-.7.5-.7.5.6.5.2.5.6.5-.6.5.9.5-.9.5-.6.5-1 .5.6.5-1 .5.2.5-1.3.5 1.4.5.3.5 1.7.5-.7.5.2.5-.7.5 0 .5-1 .5 0 .5.7.5.9.5-.6.5-.4.5 0 .5 1.2.5.5.5-1.3.5.4.5-1.2.5.5.5-.9.5-.9.5-3.5.5-2.5.5-.2.5 2.3.5 3.2.5 2.2.5 1.1.5-1 .5.2.5.5.5.3.5-.3.5.5.5.5.5.1.5-1.3.5-.4.5 0 .5 1.2.5.1.5 1 .5-1.2.5.1.5-.4.5.3.5-.2.5-.5.5.3.5-.4.5-.1.5-.3.5.7.5.4.5-.2.5 0 .5-.4.5.6.5-.1.5.7.5-1.1.5.2.5-3 .5-4.6.5-9 .5-6.6.5.2.5 5.6.5 7.3.5 5.4.5 2.9.5.8.5.6.5 1 .5-.4.5.3.5-.2.5.5.5-.2.5-.7.5.3.5.1.5.5.5-.7.5-.6.5-2.1.5-2.5.5-2.7.5-.4.5 2.1.5 2.4.5 3 .5.8.5-.4.5-.3.5.1.5.4.5.1.5.2.5.8.5-.5.5 0 .5-.1.5 1 .5-.4.5-.1.5-.7.5-.5.5-.8.5.9.5-.1.5 1.1.5-1.5.5.5.5-1.2.5-.1.5.8.5.3.5.8.5-.3.5 1.7.5-.5.5.5.5-.6.5.1.5-1.5.5.3.5-.5.5.6.5-.3.5 1.2.5-.2.5-.4.5-.7.5 1 .5 1.3.5-.8.5-.1.5-2.7.5.9.5-1 .5 2.4.5.1.5.2.5-1.3.5-.4.5.5.5.2.5.6.5.7.5.4.5-1 .5-1.5.5-.8.5 1.2.5.6.5 0 .5-.4.5-.6.5-.2.5.2.5.5.5.3.5-.1.5-.2.5-.2.5-.5.5.4.5-.4.5-2.5.5-4.5.5-4.3.5.4.5 2.2.5 3.8.5 2.3.5 2.8.5.8.5 1.2.5-.1.5-.5.5-1 .5-.1.5.4.5 1.3.5.3.5-1.9.5-4.4.5-8.9.5-10.1.5-4.9.5 4.7.5 8.1.5 8.2.5 4 .5 2.1.5.3.5.9.5.6.5-.3.5.1.5.1.5-.1.5-1 .5-.6.5.4.5.7.5.9.5.3.5.2.5-.1.5.4.5.6.5.7.5-.2.5 0 .5-1 .5-1.2.5-.9.5.3.5.7.5.4.5.2.5-.5.5.6.5-.4.5.3.5-.5.5-.1.5 1.2.5-.8.5.2.5-.6.5 1.1.5-.2.5.2.5-.9.5-.5.5-.6.5-.2.5-.5.5.2.5 1.1.5 1.5.5-.7.5-.3.5-.9.5 1.1.5.3.5.8.5-1.9.5 0 .5.2.5 1 .5-1.7.5-4.5.5-6 .5-3 .5 1.9.5 4.4.5 3.6.5 3.3.5.5.5.6.5-1 .5 1.2.5.8.5.9.5-.1.5-1.4.5.4.5-.1.5.7.5-1.1.5-.4.5.3.5.1.5 0 .5-1.5.5-.1.5.4.5 1.5.5 0 .5 0 .5.2.5-.1.5.5.5-1.5.5-.4.5-1.2.5-.3.5.1.5 1.1.5 1.8.5.6.5.2.5-.5.5-.4.5-.8.5-.4.5-.1.5-2.9.5-2.8.5-3.7.5 1.1.5 1.1.5 3 .5 2 .5 2.4.5.1.5.9.5-.1.5.4.5-.2.5-.2.5.8.5.6.5.3.5-.8.5-1.4.5 0 .5.4.5-.2.5-.7.5.2.5 1.6.5-1 .5.1.5-1.3.5 1.7.5 0 .5.2.5-.9.5-1.2.5-1 .5 1.1.5.6.5.6.5-.9.5-.8.5-.5.5-1.6.5-2.6.5-4 .5.5.5 1.8.5 3.1.5 1 .5 1.1.5 1.4.5.2.5-.2.5-.1.5 1.6.5.4.5.4.5-1 .5 1.7.5-1.1.5.5.5-1.3"/>
<path fill="none" stroke="none" stroke-width="0" stroke-linejoin="round" d="M109.5 1623.6l3-.4 3-.4 3-.5 3-1.1 3 2.4 3-1.4 3-.1 3 1.3 3-.9 3 .2 3-5.6.5-8 .5-8 .5-1.7.5 5.4.5 6.5.5 5.7 1 5.9 1.5-1.2 3 .2 3 1.9 2.5-1.6 3 1 3-1.2 3 1.4 2.5-1.1 2.5-1 3 1.3 3 0 3 0 3 .3 3-1.2 1.5 1.3 1-1.6 2.5 1.2 3 .1 3-.1 3 1.3.5-1.2 3-1.1 2.5-7.1 1-3.7.5 4.8 1 6.5 3 0 3 .3 3-.5 3 .9 2-1.4 3 .9 1-1.5 2.5-8.4.5-16.6.5-31.5.5-35 .5-10.6.5 20.8.5 30.4.5 26.5.5 14.5.5 6.4 1.5 4 3 .4 3-.4 3 .9 1.5-1.5 1 1.1 3-2.2 1.5-8.5.5-18.2.5-44 .5-69.7.5-52.3.5 10.1.5 51 .5 58.1.5 42.2.5 20.3.5 8.3 1.5 3.2 2.5 1.1 3 1.5 3-.6 1.5-1.1 3-.8 2.5-4.7.5-4.5.5-14.6.5-41.5.5-75 .5-72.5.5-7.1.5 51.6.5 67.9.5 54.4.5 29 .5 10.2 1.5 6.2 3 1.9 3-3.5.5-5.1.5-11.4.5-9.6 1 7.2.5 8.9.5 8.1 1 4.3 1-7.8.5-6.3.5-3.8 1 7.4.5 5.9.5 5.5 3 .1 2 1.2 3-.7 3 1 3-2.9 1-8.8.5-17.4.5-32.5.5-30.1.5-4.5.5 21.9.5 28.8.5 24.5.5 13.1.5 4.1 2.5 1.6 2.5 2 3 .3 3 .5 2-1 2.5-1 3 1.7 3 0 1.5-1.1 3 2.2 3-1.9 3-6.7.5-9.3.5-18.9.5-20.8.5-5.8.5 12 .5 18.2.5 15.8.5 9.1.5 4.6 1.5 2.9 2.5-2 2.5 1.3 3 .4 1.5-2.2 2 2 1.5-1.1 3 .9 2.5-5.5.5-8.6.5-14.7.5-14.1.5-1.4.5 10.3.5 13.6.5 9.8.5 4.3 1 4.1 1.5 1.7 3 1.5 1.5-1.1 3 .3 1.5-1.5 3 1.6 3 .1 3-.1 3-2.7 2 2.9 3-1.7 3 .3 3 1.1.5-1.1 3 2.1 1.5-2.2 1 1.2 1-1.6 3 .8 1-7.4.5-5.4.5-1.8 1 7.6 1 7.8 3-.5 3 .6 3-.7 1-1.9 3 1.3 3 .3 1-1.4 3 3.2 2.5-2 3 .7 3 .6 3-1.9 2 2 2.5-2.7 2.5-4.1 2-7.5 1-2 1.5 5.8 1.5 4.3 1.5 4.8 1.5 1.7 2.5-2.1 3 1.2 3-1 3 1.4 2.5-1.6 3 1 3 0 3 .8 1-1.4 3-.2.5-1 3 3 1.5-2.6 3-3.9.5-4.5.5-5.1.5-1.7 1 6.1.5 5.5 1 4.6 1.5-2 2 1.9 2.5-1 3-7.9.5-8 .5-13.4.5-16.3.5-15.1.5-5.7.5 6.5.5 14.4.5 16 .5 13 .5 8.7.5 4.8 2.5 4.7 1.5-2 2.5 1.1 3-1.3 1.5-4.5 1-10.1.5-13.9.5-18.9.5-21.4.5-16 .5-4.9.5 7.4.5 18.3.5 19.3.5 17.7.5 11.2.5 8.3.5 4.8 2 4.8 3-6 1-7.7 1 5.4 1 6 3 4.2.5-1.2 2.5-1.3 3-.5 3 1.4 1-1.8 2.5 1.8 3-1.4 2.5 1 3 .7 3-5.8 1-6.8 1.5 6.9 1 4 3 2.6 1.5-2.7 3 2.8 1.5-1.6 3 .1 3-.7 2.5 1.8 2-2.5 3 1.4 3-.1 1.5-1.7 3 1.3 2-5.2.5-4.4.5-10.4.5-18.9.5-23.2.5-18.5.5-4.2.5 12.3.5 20.1.5 20.3.5 15.3.5 8.5.5 4.8 2 4.3 2-1.1 3 1.1 3-.4 1.5-1.4 1-1.1 2 2.7 2-1.5 3 .6 3 .1 1.5-5.3 1-2.7 1 5.5 1.5 2.3 3 1.7 1.5-1.6 2.5 1.1 3-.4 3 .1 3-.3 1.5-7.4.5-9 .5-6.6 1 5.8.5 7.3.5 5.4 1.5 4.3 3 1 3-1.1 1-4.6 1-3.1 1 4.5 2 3.1 3 1.1 3-.3 1-1.3 3-.3 2.5 1.5 1 1.2 2-1.5 3 1.1 1-1.1 2.5-1.3 3 1.3 3 2 1.5-3.3 3 .6 3 .5 2.5-7.5.5-4.3 1.5 6.4 1 5.1 3 .3 2.5-4.3.5-8.9.5-10.1.5-4.9.5 4.7.5 8.1.5 8.2.5 4 2.5 3.6 2.5-1.5 3 2.4 2 1.5 2-3.1 2.5 1.1 3 1.1 1.5-1.2 3-.9 3 1.4 1-1.2 3 .5 1.5-5.2.5-6 .5-3 1 6.3 1 6.9 3 3 1-1.5 3-.2 2-1.5 2 1.9 3-2.5 3 3.5 3-5.1 1-6.5 1.5 5.2 1 4.4 3 .9 3-.5 3 .3 1-1.2 3-1.2 3 .1 1-4.2.5-4 1.5 5.4 3 3.4 2 1.4 2-.2" marker-mid="url(#mo)"/>
<path fill="none" stroke="#000" stroke-width="3.0" stroke-linejoin="round" d="M109.5 1624l.5.1.5-.8.5.1.5 0 .5.4.5-.2.5 0 .5.4.5-.3.5.1.5-.5.5-.1.5-.5.5.7.5.1.5.1.5-.7.5-.2.5.2.5.2.5.8.5.5.5-1.2.5-1.6.5-.6.5 1.1.5 1.1.5.2.5 1.3.5-.7.5-.3.5 0 .5.8.5.5.5-1.2.5-1.2.5-.2.5.3.5.2.5-.4.5-.1.5.1.5.3.5.1.5.5.5-.2.5.2.5.4.5.4.5-.7.5-.1.5-.4.5.9.5-1 .5.7.5-.4.5-.1.5-.7.5 0 .5.7.5-.4.5-.7.5-.2.5-.1.5-.7.5-3.5.5-8 .5-8 .5-1.7.5 5.4.5 6.5.5 5.7.5 3.6.5 2.3.5-.1.5-.7.5-.4.5 0 .5 1.2.5.2.5-.6.5-1 .5.4.5 1.2.5.3.5-.5.5-.1.5.6.5.4.5-.1.5-.2.5-.6.5.4.5-1.1.5.1.5-.5.5.4.5.2.5-.3.5 1.1.5-.2.5.7.5.1.5.3.5-.8.5-1.3.5.6.5.4.5.4.5-.8.5 0 .5.8.5-.1.5.1.5-.8.5.3.5-.6.5.7.5.5.5-.2.5-1.6.5-.4.5 2 .5.8.5-1 .5-1 .5.1.5.4.5-.5.5.7.5.1.5.3.5-.4.5-.2.5-.3.5-.4.5.4.5-.4.5 0 .5.7.5.5.5.5.5-.4.5-.2.5-.1.5 0 .5.3.5-.5.5.2.5-.4.5.1.5-.9.5.1.5 1.3.5-.1.5.3.5-1.9.5.6.5.3.5 1 .5-.3.5-.4.5.5.5.6.5.9.5-.2.5-.7.5-1 .5-.2.5.4.5 0 .5.2.5-.9.5.4.5-.4.5.3.5-.1.5.9.5.8.5-.2.5-1.2.5 1.2.5.4.5-.2.5-1.8.5-.5.5-.2.5.3.5-.6.5.3.5-2.1.5-5 .5-3.2.5-.5.5 4.8.5 3.3.5 3.2.5-.1.5 1.2.5.9.5 0 .5-.7.5-1.3.5.5.5-.8.5 1.3.5-.5.5.5.5-.7.5.2.5 0 .5-.5.5.2.5-.4.5 0 .5 0 .5.4.5.2.5 0 .5.5.5-.2.5 0 .5-.7.5-.1.5-.6.5.5.5-.3.5.1.5-.1.5.7.5 0 .5-1.3.5-.2.5 0 .5-.2.5-.5.5-2.2.5-5.5.5-16.6.5-31.5.5-35 .5-10.6.5 20.8.5 30.4.5 26.5.5 14.5.5 6.4.5 3.1.5.4.5.5.5.3.5 0 .5.5.5-.2.5 0 .5-.2.5.5.5.3.5-.4.5.1.5-.8.5-.1.5-.3.5.2.5.5.5 0 .5 1.1.5-.6.5-.3.5-.3.5-.9.5 1.8.5-.7.5.7.5-1.3.5.1.5-.9.5-.6.5-.2.5-.4.5-2.4.5-5.7.5-18.2.5-44 .5-69.7.5-52.3.5 10.1.5 51 .5 58.1.5 42.2.5 20.3.5 8.3.5 2.1.5 1.2.5-.1.5.8.5 1.1.5.5.5-.5.5-.8.5.1.5 0 .5.2.5.2.5 1.1.5-.1.5.4.5-.3.5-.1.5.5.5-.8.5-.3.5-.9.5.2.5-.4.5.1.5-.8.5 1.2.5-.2.5.3.5-1.4.5-.5.5-.3.5-.8.5-1.3.5-1.8.5-4.5.5-14.6.5-41.5.5-75 .5-72.5.5-7.1.5 51.6.5 67.9.5 54.4.5 29 .5 10.2.5 3.7.5.2.5 2.3.5-.2.5.7.5.2.5 1.1.5.5.5-.4.5-.5.5.4.5.3.5-.8.5-.7.5-2.2.5-5.1.5-11.4.5-9.6.5-.9.5 8.1.5 8.9.5 8.1.5 3.7.5.6.5-2.2.5-5.6.5-6.3.5-3.8.5 1.9.5 5.5.5 5.9.5 5.5.5.6.5 0 .5-.1.5.3.5-.3.5-.4.5 1.3.5.3.5 0 .5-.4.5 1.1.5-.3.5.4.5-1.2.5-.1.5-.6.5 1 .5.4.5-.4.5-.3.5.1.5.2.5-.6.5-.6.5-1 .5-.1.5-.2.5-.4.5-1.6.5-7.2.5-17.4.5-32.5.5-30.1.5-4.5.5 21.9.5 28.8.5 24.5.5 13.1.5 4.1.5.4.5.5.5.2.5 1.3.5-.8.5 1.3.5.7.5.3.5 0 .5-.3.5.3.5-.4.5-.1.5.4.5.2.5-.1.5.2.5-.4.5.3.5-.3.5 1.1.5-.4.5.7.5-.7.5.2.5-1.2.5.2.5.1.5-.2.5-.8.5-.3.5.2.5 1.1.5.9.5.8.5-.4.5-.9.5-.4.5.3.5 1.3.5.4.5-.6.5-1 .5-.7.5-.3.5-.1.5.3.5 1.3.5.1.5.6.5-.1.5 0 .5.1.5-.6.5-.2.5-.8.5-.4.5 0 .5-.4.5-.1.5.1.5-.8.5-1.1.5-4.4.5-9.3.5-18.9.5-20.8.5-5.8.5 12 .5 18.2.5 15.8.5 9.1.5 4.6.5 1.7.5 1.5.5-.3.5.5.5-.5.5 0 .5-.8.5-1.2.5.2.5 1 .5.8.5 0 .5-.7.5.1.5-1.1.5.3.5-.2.5.3.5 1 .5-.7.5.2.5-1.7.5 1.2.5.1.5.9.5-.2.5.5.5-1 .5-.6.5.7.5 0 .5-.2.5-1 .5 1 .5.4.5.4.5-1.2.5 0 .5-1.1.5-3.6.5-8.6.5-14.7.5-14.1.5-1.4.5 10.3.5 13.6.5 9.8.5 4.3.5 2.7.5 1.4.5 1.3.5.6.5-.2.5.1.5.8.5 1.3.5.3.5-.9.5-.1.5-1 .5.4.5-.5.5 1 .5-.1.5-.5.5-.5.5.4.5 0 .5-.3.5-1 .5-.2.5.8.5 1 .5 1.2.5-.4.5-.7.5-.3.5-.4.5.4.5.4.5.9.5-.7.5-.5.5-.6.5 1.2.5 0 .5-.8.5-.7.5.8.5 1.3.5.3.5-1 .5-1.3.5-1.3.5-.7.5 1 .5 1 .5 1 .5-.1.5.3.5-.5.5-.2.5 0 .5-.3.5-1 .5-1 .5.5.5-.2.5.4.5-.2.5.8.5-.6.5 0 .5.4.5 1.4.5.4.5-.5.5-1.1.5.2.5 1.7.5.6.5-.2.5 0 .5-.2.5-.3.5-1.7.5-.2.5 1.2.5 0 .5.2.5-1.8.5.8.5.3.5.6.5.1.5-.4.5-.6.5-2.4.5-5 .5-5.4.5-1.8.5 2.6.5 5 .5 4 .5 3.8.5 1.4.5.4.5-1.5.5 0 .5-.8.5 0 .5-.3.5.5.5 0 .5-.7.5.8.5.3.5.4.5 0 .5-.1.5.4.5-.7.5-.7.5-1.4.5-.5.5.5.5 1.4.5.9.5-.1.5-1 .5-.4.5.1.5.3.5-.5.5 0 .5.8.5-.4.5.1.5-1.5.5 1.2.5-.3.5 0 .5 0 .5 1.3.5 1 .5.6.5-1 .5-1.1.5-.3.5-.2.5.3.5.2.5.3.5.5.5 0 .5-.6.5.6.5-.9.5.7.5-.9.5 1.2.5-.1.5 1.3.5-1.2.5-.4.5-.3.5-1 .5-.3.5.1.5 1.6.5 1 .5-.7.5 0 .5-.9.5-.5.5-1.2.5-.1.5.3.5.2.5-1.9.5-1.5.5-1.2.5.3.5-1.4.5-2.6.5-3.8.5-.7.5-1.3.5 2 .5 1 .5 2.8.5 1.3.5 1.7.5 1.3.5 2.1.5 1.1.5 1.6.5.8.5 1.2.5-.3.5.1.5-1.2.5-.2.5-.8.5 0 .5.9.5.8.5 1.2.5-.5.5-.3.5-.9.5-.6.5.1.5.4.5.1.5 0 .5-1 .5.5.5-.6.5.6.5-.4.5.8.5.5.5 1.1.5-.4.5-.9.5-.8.5-.6.5.8.5.8.5.8.5-.5.5-.8.5-.1.5-.4.5.2.5 0 .5.5.5-.3.5 0 .5-.2.5-.2.5.3.5.5.5 1.3.5-.9.5-1 .5-.4.5 1 .5.5.5-1.2.5-.5.5-.5.5.5.5-1 .5.7.5-.9.5 1 .5.8.5.9.5.5.5-1.1.5-.3.5-1.2.5.8.5.3.5 1.4.5-1.4.5-1.2.5-3.8.5-4.5.5-5.1.5-1.7.5 2.4.5 3.7.5 5.5.5 3 .5 1.6.5-.4.5-1.1.5-.5.5.5.5 1.5.5.9.5-1 .5.1.5.7.5-.2.5-.4.5-1.2.5.6.5-.3.5-.3.5-1.5.5-1.9.5-4.5.5-8 .5-13.4.5-16.3.5-15.1.5-5.7.5 6.5.5 14.4.5 16 .5 13 .5 8.7.5 4.8.5 1.9.5.2.5.7.5.8.5 1.1.5-.9.5-.4.5-.7.5.7.5-.1.5-.1.5.7.5-.1.5.9.5-.4.5.5.5 0 .5-1.3.5-1 .5-2.2.5-.5.5-1.8.5-2.8.5-7.3.5-13.9.5-18.9.5-21.4.5-16 .5-4.9.5 7.4.5 18.3.5 19.3.5 17.7.5 11.2.5 8.3.5 4.8.5 1.6.5 1.4.5.3.5 1.5.5.1.5-.5.5-1.2.5-1.5.5-.4.5-2.5.5-4 .5-3.7.5 1.3.5 4.1.5 3.7.5 2.3.5.7.5 1.1.5.2.5.8.5.8.5.6.5-1.2.5.5.5-.2.5.1.5-1.3.5-.4.5 1.4.5.3.5.2.5-2.1.5.3.5-.6.5.6.5-.1.5.1.5 1 .5.3.5-.5.5-.5.5-1.3.5.8.5.6.5.1.5.9.5-.6.5.1.5-1 .5.6.5-.1.5.1.5-1.1.5 1.3.5 0 .5.5.5-.1.5-.7.5 0 .5.4.5.6.5.8.5-.8.5-.3.5-.9.5-.1.5.1.5-.6.5-1.4.5-2.9.5-3.7.5-3.1.5 1.1.5 2 .5 3.8.5 2.4.5 1.6.5.2.5.6.5 1.1.5.4.5.1.5.2.5-.4.5-1.5.5-.8.5.2.5.8.5.7.5.3.5.2.5.6.5-.9.5.5.5-1.2.5.1.5-.2.5 0 .5.8.5-.9.5.3.5-.8.5.4.5-.2.5-.1.5.4.5-.4.5.1.5.1.5 1.1.5.8.5-.3.5.7.5-1 .5-.5.5-1.7.5 1.1.5.5.5 1 .5 0 .5-.2.5-1 .5-1 .5 1.2.5.9.5.7.5-1.3.5-.6.5-.5.5 0 .5-1.2.5.1.5-.1.5 1.2.5 0 .5.5.5-.4.5 0 .5-2.2.5-1.4.5-1.6.5-4.4.5-10.4.5-18.9.5-23.2.5-18.5.5-4.2.5 12.3.5 20.1.5 20.3.5 15.3.5 8.5.5 4.8.5 1.1.5 2.2.5.2.5.8.5-.9.5.1.5-.2.5-.1.5.7.5.7.5.5.5-.7.5-.7.5.6.5.2.5.6.5-.6.5.9.5-.9.5-.6.5-1 .5.6.5-1 .5.2.5-1.3.5 1.4.5.3.5 1.7.5-.7.5.2.5-.7.5 0 .5-1 .5 0 .5.7.5.9.5-.6.5-.4.5 0 .5 1.2.5.5.5-1.3.5.4.5-1.2.5.5.5-.9.5-.9.5-3.5.5-2.5.5-.2.5 2.3.5 3.2.5 2.2.5 1.1.5-1 .5.2.5.5.5.3.5-.3.5.5.5.5.5.1.5-1.3.5-.4.5 0 .5 1.2.5.1.5 1 .5-1.2.5.1.5-.4.5.3.5-.2.5-.5.5.3.5-.4.5-.1.5-.3.5.7.5.4.5-.2.5 0 .5-.4.5.6.5-.1.5.7.5-1.1.5.2.5-3 .5-4.6.5-9 .5-6.6.5.2.5 5.6.5 7.3.5 5.4.5 2.9.5.8.5.6.5 1 .5-.4.5.3.5-.2.5.5.5-.2.5-.7.5.3.5.1.5.5.5-.7.5-.6.5-2.1.5-2.5.5-2.7.5-.4.5 2.1.5 2.4.5 3 .5.8.5-.4.5-.3.5.1.5.4.5.1.5.2.5.8.5-.5.5 0 .5-.1.5 1 .5-.4.5-.1.5-.7.5-.5.5-.8.5.9.5-.1.5 1.1.5-1.5.5.5.5-1.2.5-.1.5.8.5.3.5.8.5-.3.5 1.7.5-.5.5.5.5-.6.5.1.5-1.5.5.3.5-.5.5.6.5-.3.5 1.2.5-.2.5-.4.5-.7.5 1 .5 1.3.5-.8.5-.1.5-2.7.5.9.5-1 .5 2.4.5.1.5.2.5-1.3.5-.4.5.5.5.2.5.6.5.7.5.4.5-1 .5-1.5.5-.8.5 1.2.5.6.5 0 .5-.4.5-.6.5-.2.5.2.5.5.5.3.5-.1.5-.2.5-.2.5-.5.5.4.5-.4.5-2.5.5-4.5.5-4.3.5.4.5 2.2.5 3.8.5 2.3.5 2.8.5.8.5 1.2.5-.1.5-.5.5-1 .5-.1.5.4.5 1.3.5.3.5-1.9.5-4.4.5-8.9.5-10.1.5-4.9.5 4.7.5 8.1.5 8.2.5 4 .5 2.1.5.3.5.9.5.6.5-.3.5.1.5.1.5-.1.5-1 .5-.6.5.4.5.7.5.9.5.3.5.2.5-.1.5.4.5.6.5.7.5-.2.5 0 .5-1 .5-1.2.5-.9.5.3.5.7.5.4.5.2.5-.5.5.6.5-.4.5.3.5-.5.5-.1.5 1.2.5-.8.5.2.5-.6.5 1.1.5-.2.5.2.5-.9.5-.5.5-.6.5-.2.5-.5.5.2.5 1.1.5 1.5.5-.7.5-.3.5-.9.5 1.1.5.3.5.8.5-1.9.5 0 .5.2.5 1 .5-1.7.5-4.5.5-6 .5-3 .5 1.9.5 4.4.5 3.6.5 3.3.5.5.5.6.5-1 .5 1.2.5.8.5.9.5-.1.5-1.4.5.4.5-.1.5.7.5-1.1.5-.4.5.3.5.1.5 0 .5-1.5.5-.1.5.4.5 1.5.5 0 .5 0 .5.2.5-.1.5.5.5-1.5.5-.4.5-1.2.5-.3.5.1.5 1.1.5 1.8.5.6.5.2.5-.5.5-.4.5-.8.5-.4.5-.1.5-2.9.5-2.8.5-3.7.5 1.1.5 1.1.5 3 .5 2 .5 2.4.5.1.5.9.5-.1.5.4.5-.2.5-.2.5.8.5.6.5.3.5-.8.5-1.4.5 0 .5.4.5-.2.5-.7.5.2.5 1.6.5-1 .5.1.5-1.3.5 1.7.5 0 .5.2.5-.9.5-1.2.5-1 .5 1.1.5.6.5.6.5-.9.5-.8.5-.5.5-1.6.5-2.6.5-4 .5.5.5 1.8.5 3.1.5 1 .5 1.1.5 1.4.5.2.5-.2.5-.1.5 1.6.5.4.5.4.5-1 .5 1.7.5-1.1.5.5.5-1.3" clip-path="url(#cb1)"/>
<path fill="none" stroke="#ff0000" stroke-width="2.0" stroke-linejoin="round" d="M109.5 1616l.5 0 .5 1.3.5.2.5-.5.5.5.5-1.6.5.2.5.8.5-.5.5.3.5.2.5.1.5.3.5-.1.5-.4.5-.6.5-.1.5.2.5.5.5.6.5.5.5.1.5.1.5-.7.5-1.1.5-.3.5-.7.5.7.5-.1.5.2.5-.5.5-.8.5.4.5-.1.5.3.5.5.5.5.5.4.5.4.5-.3.5-.8.5-.1.5.9.5 0 .5-.2.5-.2.5-.3.5-.8.5.7.5.8.5 0 .5 1.3.5.1.5-.4.5-.8.5-.5.5 0 .5-.8.5.5.5-.5.5.1.5.6.5-.3.5.6.5-.7.5-3.5.5-5.7.5-6.4.5-2.2.5 3.4.5 5.5.5 4.5.5 2.1.5.8.5.8.5.3.5.6.5.7.5-.5.5.4.5.3.5-.2.5-.3.5-.8.5-.7.5.8.5 0 .5-.4.5.2.5-.9.5.5.5.5.5.5.5.5.5.4.5 1.2.5.9.5.4.5-.9.5-1.1.5-1 .5.3.5.7.5.7.5-.2.5-.6.5 0 .5-.7.5.4.5.2.5-.3.5.6.5.3.5-.4.5.1.5-.6.5-.9.5.1.5-.2.5 0 .5-.1.5-.6.5-.2.5.2.5-.2.5.4.5 1 .5.4.5.1.5.5.5-.9.5.2.5.1.5-.2.5.8.5-1 .5.8.5-.4.5-.5.5.2.5-.5.5.4.5-.1.5-.3.5.3.5.3.5.5.5 1 .5-.9.5.2.5 0 .5-.7.5.9.5.1.5-.8.5-.3.5-.6.5.6.5.3.5 0 .5.1.5-1.5.5-.3.5.5.5-.9.5.6.5.7.5-.1.5.8.5.3.5-1 .5-.5.5-.4.5-.5.5.7.5.4.5.8.5.4.5.1.5-.3.5-.4.5.2.5-.6.5.2.5-.1.5-.6.5 0 .5-.5.5 1 .5.1.5-.9.5-1.1.5-1.8.5-.2.5 1.7.5 1.1.5.4.5.6.5-.3.5-.7.5.2.5.1.5.4.5.6.5.1.5 0 .5-.9.5-.5.5.1.5-.5.5 1.1.5 1.7.5-.4.5.1.5-.4.5-.6.5-.2.5.7.5.4.5 0 .5.2.5-.1.5-.1.5-.8.5 1 .5-.5.5-.2.5.2.5-.7.5.5.5-.6.5-.6.5-.5.5-1.2.5-.3.5 0 .5-1.2.5-3.4.5-12.9.5-25 .5-28.3.5-7.7.5 17.1.5 24.3.5 21.8.5 11.1.5 3.4.5 1 .5-.6.5.2.5.7.5 1.2.5 1 .5.6.5 0 .5-.7.5-.2.5-.1.5.3.5.4.5 0 .5-.8.5-.6.5-.5.5.7.5.6.5.7.5.9.5-.6.5 0 .5-.5.5-1.1.5-.1.5.5.5.2.5.5.5-.1.5 0 .5-1.1.5-1 .5-1.6.5-4.7.5-15.1.5-35.7.5-56.1.5-42.8.5 10.1.5 41.2.5 46.5.5 32.6.5 15.2.5 5.5.5 2.4.5 1.1.5.2.5.2.5-.1.5 1.4.5 1.9.5.6.5.7.5-.1.5-.4.5.2.5-.9.5-.7.5-1.3.5.2.5.8.5-.5.5.7.5 0 .5.1.5 1.3.5.3.5-.5.5-.7.5-.2.5-.7.5.1.5.6.5-.8.5-.7.5-.6.5-1.2.5-1.6.5-2.8.5-11.9.5-34.3.5-60.5.5-58.5.5-5.7.5 41.6.5 54.8.5 43.3.5 23.1.5 8.5.5 3.9.5.6.5.7.5.5.5-.5.5.2.5.4.5.2.5 0 .5.6.5.3.5.4.5-.3.5-.4.5-2.1.5-4.8.5-8.2.5-6.9.5 0 .5 6.3.5 7.8.5 4.5.5 2 .5.3.5-1.8.5-2.9.5-4.6.5-2.4.5 2.1.5 4.4.5 4.7.5 1.6.5 1 .5.5.5-.4.5-.1.5.7.5.5.5 0 .5.9.5-.5.5-.5.5 0 .5-.1.5.3.5-.6.5.2.5-.8.5-.7.5-.3.5-.2.5-.2.5.6.5.5.5.2.5.1.5-.4.5-.4.5 0 .5-.7.5-1.7.5-5.1.5-14.2.5-24.8.5-24.9.5-2.6.5 16.5.5 23.5.5 19.4.5 10 .5 3.5.5 1.3.5-.1.5 0 .5.3.5.2.5-.6.5.4.5 1.2.5.7.5.4.5-1.1.5 0 .5-.7.5.1.5 1.1.5-.1.5-.8.5 0 .5-.7.5-.3.5.6.5-.2.5.1.5.3.5-.1.5.2.5-.1.5-.2.5-.8.5.2.5-.3.5.1.5.2.5.3.5.5.5-.6.5.7.5-.7.5.6.5.8.5-.4.5.4.5-.8.5.3.5.5.5.1.5-.5.5-.1.5.6.5.1.5.4.5-.3.5-1.2.5-.2.5-.5.5-.1.5.2.5-.5.5.6.5-.8.5 0 .5-.6.5-.3.5-1.2.5-7.1.5-13.4.5-16.9.5-5.1.5 8.7.5 13.1.5 12 .5 6.5.5 2.9.5 1.7.5.2.5-.2.5.3.5-.5.5 0 .5.2.5.6.5 1.1.5-.3.5.7.5-.2.5-1.2.5.5.5.3.5.2.5 1 .5-.5.5-.8.5-.3.5-.5.5.5.5.2.5-.3.5-.4.5.1.5-.9.5.8.5 0 .5-.8.5 1.3.5-1.2.5.3.5.3.5 0 .5.8.5.2.5-.4.5-1.1.5-2.8.5-7.8.5-11.3.5-10.8.5-1 .5 9.2.5 10.8.5 7.5.5 5.1.5 1.7.5.3.5.4.5-.6.5-.5.5-.5.5.5.5.5.5.3.5 0 .5 0 .5 1.2.5-.2.5.5.5.2.5-1.1.5-.3.5-.1.5-.1.5.2.5 1.2.5-.1.5.3.5-.7.5-.8.5.5.5-.3.5.2.5 0 .5-.7.5-.1.5.2.5.7.5-.3.5-.1.5-.1.5-.3.5.3.5.7.5.3.5-.5.5-.5.5 0 .5.1.5.2.5.5.5-.6.5-.8.5.3.5.1.5 0 .5.3.5-.3.5-.2.5.8.5.6.5-.3.5-.4.5-.8.5-.6.5.2.5.6.5.4.5.5.5-.1.5.1.5-.6.5-.2.5.4.5-.1.5-.2.5-.4.5-1 .5.6.5-.1.5.4.5 1.4.5-.3.5 1.1.5-.1.5-.5.5.8.5-.6.5.4.5-.5.5-1.2.5.1.5.2.5-.9.5-2.2.5-3.1.5-3.4.5.6.5 2.9.5 2.4.5 2.3.5 1.1.5.3.5.3.5.1.5-.6.5-.8.5.7.5-.8.5 0 .5.6.5-.6.5.4.5-.5.5.4.5.1.5.2.5 1 .5.2.5.5.5.7.5-.2.5-1.1.5-.4.5-.7.5-.2.5.4.5-.5.5.4.5.3.5-.2.5.6.5-.4.5-.5.5.7.5-.3.5-.1.5.2.5-1.1.5-.2.5 0 .5-.6.5.9.5.3.5 0 .5.5.5.2.5.3.5-.1.5.2.5.1.5-.4.5 0 .5-.5.5-.5.5-.4.5 1.1.5.1.5.3.5.4.5-.5.5 0 .5-.6.5.5.5-.3.5.2.5.6.5-.1.5.3.5.4.5.2.5-.5.5-.2.5-.8.5-1.2.5-.4.5-.8.5.9.5.7.5-.4.5-1 .5-1.6.5-2.7.5-2.2.5-.8.5-1.2.5 1.5.5 1.8.5 2.4.5 2.2.5 1.7.5 1 .5-.1.5-.3.5-.8.5-.3.5 0 .5.6.5 0 .5-.2.5.3.5-.7.5.8.5.4.5-.4.5-.1.5-.1.5-.2.5.1.5.3.5.1.5.3.5-.4.5.2.5.1.5.3.5 1 .5.2.5-.6.5-.7.5 0 .5-.4.5.9.5.8.5-.8.5.5.5-.5.5.3.5.8.5-.4.5.2.5-1.1.5-.4.5.2.5-.1.5.5.5-.3.5-.8.5-.2.5-.5.5.1.5 1.6.5.6.5.3.5-.3.5-1.4.5-.3.5.5.5.4.5.6.5 0 .5-.1.5-.6.5 0 .5.1.5-.1.5.9.5-.5.5-.4.5-1 .5-.2.5.5.5.4.5.1.5-.7.5-.2.5-2.1.5-2.6.5-3.4.5-2 .5 2.6.5 3.3.5 2.6.5 1.4.5.6.5-.3.5.4.5-.3.5-.1.5-1 .5-.5.5 1.4.5-1 .5.3.5.1.5.2.5 1.3.5.4.5.3.5-.7.5-1.3.5-1.1.5-4 .5-6.4.5-10.1.5-12.2.5-11 .5-5.6.5 4 .5 10.1.5 12.1.5 10.4.5 7.1.5 3.3.5 1.7.5 1.4.5.8.5 1 .5.4.5-.3.5-.6.5-.9.5-.2.5.3.5.1.5-.1.5.4.5.4.5.5.5.2.5-.3.5-.9.5-1.1.5-.6.5-.7.5-1.4.5-3.4.5-6.1.5-10.4.5-14.3.5-16 .5-13 .5-4.7.5 5.8.5 13.4.5 15.9.5 14.6.5 10.7.5 6.4.5 2.9.5.9.5.1.5.6.5-.6.5.4.5-.6.5-.4.5 1.5.5-1 .5-1.7.5-1.8.5-1.6.5 1.2.5 3.3.5 1.1.5 1.3.5 1.1.5.1.5.5.5.1.5-.2.5-.5.5.4.5-.2.5-.3.5.8.5-.2.5.1.5-.3.5-.2.5-.8.5-.3.5-.5.5-1 .5.6.5.1.5.7.5.9.5 0 .5-.4.5 0 .5-.2.5-.4.5.3.5-.1.5-.3.5.1.5.2.5.9.5 0 .5.3.5-.7.5-.2.5.2.5-.1.5 1.1.5-.3.5-.4.5.1.5-.6.5-.1.5.6.5.1.5.2.5-.3.5.4.5-1 .5-.4.5-.8.5-1.6.5-1.4.5-1.6.5.2.5 1.2.5 1.1.5 1.4.5.9.5.2.5.5.5-.2.5.6.5.3.5.4.5.2.5-.9.5-.4.5.5.5-.6.5.3.5.4.5-.7.5 0 .5-.6.5.4.5-.2.5 1 .5.8.5-.2.5.6.5-.9.5-.4.5 0 .5-.8.5 1.2.5-.1.5-.3.5.1.5-.5.5-.1.5-.1.5 0 .5.3.5-.3.5.2.5.6.5-.3.5.2.5.2.5.3.5-.1.5.5.5-.5.5-.1.5-.4.5.1.5.2.5-.9.5-.7.5-.3.5-.3.5 1 .5 1 .5-.2.5-.6.5-.6.5-.4.5-.4.5.3.5.1.5-.5.5-1.5.5-3.8.5-9.3.5-15 .5-17.6.5-15.2.5-1.6.5 10.8.5 16 .5 16.2.5 11.3.5 6 .5 2.9.5.9.5-.3.5-.1.5.2.5.6.5.8.5.5.5.9.5.2.5.3.5.1.5-.4.5-.2.5-.6.5.2.5.7.5-.3.5.1.5-.5.5-.6.5-.1.5-.4.5.3.5-.1.5.5.5.6.5-.5.5.6.5-1.1.5-.2.5.9.5-.7.5.8.5-.4.5.1.5-1 .5-.3.5-.5.5-.3.5 1.8.5.9.5 1 .5 0 .5-.9.5-.1.5-.4.5-1.5.5-1.6.5-1.6.5.6.5 1.9.5 2.3.5.7.5-.2.5.2.5-.5.5.6.5-.4.5-.7.5-.1.5-.4.5.4.5-.5.5.6.5.2.5-.4.5 1.1.5-.6.5.2.5.5.5-.7.5-.4.5-.1.5.4.5.5.5.5.5.4.5-.2.5.2.5.1.5-.3.5-.2.5-.6.5-1 .5-.8.5.5.5 0 .5-.1.5-.2.5-3.8.5-6.3.5-5.4.5-.9.5 4.2.5 6.4.5 4.5.5 2.3.5 1 .5.1.5-.4.5 0 .5.6.5-.6.5-.4.5.2.5.2.5.4.5.9.5-.9.5-1.2.5.1.5-.9.5.6.5-.5.5-.5.5 1.3.5 0 .5.3.5.3.5-.4.5-.4.5.7.5 0 .5-.1.5.9.5-.6.5.4.5.1.5 0 .5-.2.5-.6.5.2.5-.7.5.1.5.1.5.3.5.6.5.7.5.1.5-.1.5.3.5-.3.5.1.5-.1.5-1.4.5-.2.5 0 .5.1.5.7.5.4.5-.4.5-.4.5.8.5-.9.5.2.5 0 .5-.7.5.3.5.3.5-.4.5-.5.5.4.5-.7.5.6.5.5.5-.5.5.4.5-.2.5.1.5.1.5 0 .5-.5.5-.3.5-.5.5 0 .5.4.5.9.5 1.3.5 0 .5.5.5-.7.5-1 .5-.9.5.1.5 0 .5-.3.5 1.2.5-.1.5-.5.5 1.1.5-.9.5-.5.5.2.5-.1.5.4.5-.9.5-1.9.5-2.9.5-.2.5 1.1.5 2.2.5 1.9.5.3.5.8.5-.1.5.6.5.5.5-.4.5-.1.5-.5.5-.9.5-.5.5-.9.5-2.9.5-5.9.5-7.2.5-3.9.5 3.1.5 6.1.5 5.7.5 4.2.5 1.3.5 1 .5 1.3.5-.3.5.2.5-.6.5-.8.5-.6.5.2.5.4.5-.8.5 1.3.5-.1.5.8.5.9.5-.9.5.1.5-.5.5.1.5.4.5-.2.5.8.5-.1.5 0 .5-.2.5-.5.5-.8.5 0 .5 0 .5-.1.5.4.5 0 .5.5.5-.1.5.1.5-.7.5-.9.5.5.5.3.5 0 .5 1.5.5-.8.5 0 .5.7.5-.7.5.5.5-.7.5-.2.5-.2.5-.2.5.4.5-.2.5-.2.5.3.5-.3.5.4.5.4.5-.5.5.2.5-.8.5-2.5.5-2.8.5-1 .5.3.5 2.4.5 1.9.5 1.5.5.5.5.4.5.7.5-1.1.5.6.5-.3.5-.9.5.3.5.3.5.1.5.6.5.3.5.3.5-.3.5.2.5-.6.5-1.2.5.2.5 0 .5.4.5.3.5 1 .5-.1.5-.2.5.2.5-.4.5-.4.5.5.5.4.5 0 .5.1.5-1.1.5.1.5-.7.5.1.5.6.5-.6.5.7.5-.8.5-.1.5-1.1.5-1 .5 1 .5-.1.5 1 .5.8.5 0 .5.5.5-.3.5-1 .5.1.5.6.5.4.5.3.5-.1.5-.4.5.5.5.2.5-.9.5.4.5-.4.5.7.5 0 .5-.5.5 0 .5-.9.5 1.2.5.3.5 0 .5.7.5-.8.5-.8.5.1.5-.4.5.7.5-.3.5.5.5.4.5-.7.5-1 .5-2.9.5-1.6.5-.1.5 1.7.5 1.8.5 1 .5.8.5.1.5.6.5.1.5.5.5-.3.5.1.5 0 .5-.6.5 0 .5.3.5 0 .5.2"/>
<path fill="none" stroke="#ff0000" stroke-width="6.0" stroke-linejoin="round" d="M109.5 1616l.5 0 .5 1.3.5.2.5-.5.5.5.5-1.6.5.2.5.8.5-.5.5.3.5.2.5.1.5.3.5-.1.5-.4.5-.6.5-.1.5.2.5.5.5.6.5.5.5.1.5.1.5-.7.5-1.1.5-.3.5-.7.5.7.5-.1.5.2.5-.5.5-.8.5.4.5-.1.5.3.5.5.5.5.5.4.5.4.5-.3.5-.8.5-.1.5.9.5 0 .5-.2.5-.2.5-.3.5-.8.5.7.5.8.5 0 .5 1.3.5.1.5-.4.5-.8.5-.5.5 0 .5-.8.5.5.5-.5.5.1.5.6.5-.3.5.6.5-.7.5-3.5.5-5.7.5-6.4.5-2.2.5 3.4.5 5.5.5 4.5.5 2.1.5.8.5.8.5.3.5.6.5.7.5-.5.5.4.5.3.5-.2.5-.3.5-.8.5-.7.5.8.5 0 .5-.4.5.2.5-.9.5.5.5.5.5.5.5.5.5.4.5 1.2.5.9.5.4.5-.9.5-1.1.5-1 .5.3.5.7.5.7.5-.2.5-.6.5 0 .5-.7.5.4.5.2.5-.3.5.6.5.3.5-.4.5.1.5-.6.5-.9.5.1.5-.2.5 0 .5-.1.5-.6.5-.2.5.2.5-.2.5.4.5 1 .5.4.5.1.5.5.5-.9.5.2.5.1.5-.2.5.8.5-1 .5.8.5-.4.5-.5.5.2.5-.5.5.4.5-.1.5-.3.5.3.5.3.5.5.5 1 .5-.9.5.2.5 0 .5-.7.5.9.5.1.5-.8.5-.3.5-.6.5.6.5.3.5 0 .5.1.5-1.5.5-.3.5.5.5-.9.5.6.5.7.5-.1.5.8.5.3.5-1 .5-.5.5-.4.5-.5.5.7.5.4.5.8.5.4.5.1.5-.3.5-.4.5.2.5-.6.5.2.5-.1.5-.6.5 0 .5-.5.5 1 .5.1.5-.9.5-1.1.5-1.8.5-.2.5 1.7.5 1.1.5.4.5.6.5-.3.5-.7.5.2.5.1.5.4.5.6.5.1.5 0 .5-.9.5-.5.5.1.5-.5.5 1.1.5 1.7.5-.4.5.1.5-.4.5-.6.5-.2.5.7.5.4.5 0 .5.2.5-.1.5-.1.5-.8.5 1 .5-.5.5-.2.5.2.5-.7.5.5.5-.6.5-.6.5-.5.5-1.2.5-.3.5 0 .5-1.2.5-3.4.5-12.9.5-25 .5-28.3.5-7.7.5 17.1.5 24.3.5 21.8.5 11.1.5 3.4.5 1 .5-.6.5.2.5.7.5 1.2.5 1 .5.6.5 0 .5-.7.5-.2.5-.1.5.3.5.4.5 0 .5-.8.5-.6.5-.5.5.7.5.6.5.7.5.9.5-.6.5 0 .5-.5.5-1.1.5-.1.5.5.5.2.5.5.5-.1.5 0 .5-1.1.5-1 .5-1.6.5-4.7.5-15.1.5-35.7.5-56.1.5-42.8.5 10.1.5 41.2.5 46.5.5 32.6.5 15.2.5 5.5.5 2.4.5 1.1.5.2.5.2.5-.1.5 1.4.5 1.9.5.6.5.7.5-.1.5-.4.5.2.5-.9.5-.7.5-1.3.5.2.5.8.5-.5.5.7.5 0 .5.1.5 1.3.5.3.5-.5.5-.7.5-.2.5-.7.5.1.5.6.5-.8.5-.7.5-.6.5-1.2.5-1.6.5-2.8.5-11.9.5-34.3.5-60.5.5-58.5.5-5.7.5 41.6.5 54.8.5 43.3.5 23.1.5 8.5.5 3.9.5.6.5.7.5.5.5-.5.5.2.5.4.5.2.5 0 .5.6.5.3.5.4.5-.3.5-.4.5-2.1.5-4.8.5-8.2.5-6.9.5 0 .5 6.3.5 7.8.5 4.5.5 2 .5.3.5-1.8.5-2.9.5-4.6.5-2.4.5 2.1.5 4.4.5 4.7.5 1.6.5 1 .5.5.5-.4.5-.1.5.7.5.5.5 0 .5.9.5-.5.5-.5.5 0 .5-.1.5.3.5-.6.5.2.5-.8.5-.7.5-.3.5-.2.5-.2.5.6.5.5.5.2.5.1.5-.4.5-.4.5 0 .5-.7.5-1.7.5-5.1.5-14.2.5-24.8.5-24.9.5-2.6.5 16.5.5 23.5.5 19.4.5 10 .5 3.5.5 1.3.5-.1.5 0 .5.3.5.2.5-.6.5.4.5 1.2.5.7.5.4.5-1.1.5 0 .5-.7.5.1.5 1.1.5-.1.5-.8.5 0 .5-.7.5-.3.5.6.5-.2.5.1.5.3.5-.1.5.2.5-.1.5-.2.5-.8.5.2.5-.3.5.1.5.2.5.3.5.5.5-.6.5.7.5-.7.5.6.5.8.5-.4.5.4.5-.8.5.3.5.5.5.1.5-.5.5-.1.5.6.5.1.5.4.5-.3.5-1.2.5-.2.5-.5.5-.1.5.2.5-.5.5.6.5-.8.5 0 .5-.6.5-.3.5-1.2.5-7.1.5-13.4.5-16.9.5-5.1.5 8.7.5 13.1.5 12 .5 6.5.5 2.9.5 1.7.5.2.5-.2.5.3.5-.5.5 0 .5.2.5.6.5 1.1.5-.3.5.7.5-.2.5-1.2.5.5.5.3.5.2.5 1 .5-.5.5-.8.5-.3.5-.5.5.5.5.2.5-.3.5-.4.5.1.5-.9.5.8.5 0 .5-.8.5 1.3.5-1.2.5.3.5.3.5 0 .5.8.5.2.5-.4.5-1.1.5-2.8.5-7.8.5-11.3.5-10.8.5-1 .5 9.2.5 10.8.5 7.5.5 5.1.5 1.7.5.3.5.4.5-.6.5-.5.5-.5.5.5.5.5.5.3.5 0 .5 0 .5 1.2.5-.2.5.5.5.2.5-1.1.5-.3.5-.1.5-.1.5.2.5 1.2.5-.1.5.3.5-.7.5-.8.5.5.5-.3.5.2.5 0 .5-.7.5-.1.5.2.5.7.5-.3.5-.1.5-.1.5-.3.5.3.5.7.5.3.5-.5.5-.5.5 0 .5.1.5.2.5.5.5-.6.5-.8.5.3.5.1.5 0 .5.3.5-.3.5-.2.5.8.5.6.5-.3.5-.4.5-.8.5-.6.5.2.5.6.5.4.5.5.5-.1.5.1.5-.6.5-.2.5.4.5-.1.5-.2.5-.4.5-1 .5.6.5-.1.5.4.5 1.4.5-.3.5 1.1.5-.1.5-.5.5.8.5-.6.5.4.5-.5.5-1.2.5.1.5.2.5-.9.5-2.2.5-3.1.5-3.4.5.6.5 2.9.5 2.4.5 2.3.5 1.1.5.3.5.3.5.1.5-.6.5-.8.5.7.5-.8.5 0 .5.6.5-.6.5.4.5-.5.5.4.5.1.5.2.5 1 .5.2.5.5.5.7.5-.2.5-1.1.5-.4.5-.7.5-.2.5.4.5-.5.5.4.5.3.5-.2.5.6.5-.4.5-.5.5.7.5-.3.5-.1.5.2.5-1.1.5-.2.5 0 .5-.6.5.9.5.3.5 0 .5.5.5.2.5.3.5-.1.5.2.5.1.5-.4.5 0 .5-.5.5-.5.5-.4.5 1.1.5.1.5.3.5.4.5-.5.5 0 .5-.6.5.5.5-.3.5.2.5.6.5-.1.5.3.5.4.5.2.5-.5.5-.2.5-.8.5-1.2.5-.4.5-.8.5.9.5.7.5-.4.5-1 .5-1.6.5-2.7.5-2.2.5-.8.5-1.2.5 1.5.5 1.8.5 2.4.5 2.2.5 1.7.5 1 .5-.1.5-.3.5-.8.5-.3.5 0 .5.6.5 0 .5-.2.5.3.5-.7.5.8.5.4.5-.4.5-.1.5-.1.5-.2.5.1.5.3.5.1.5.3.5-.4.5.2.5.1.5.3.5 1 .5.2.5-.6.5-.7.5 0 .5-.4.5.9.5.8.5-.8.5.5.5-.5.5.3.5.8.5-.4.5.2.5-1.1.5-.4.5.2.5-.1.5.5.5-.3.5-.8.5-.2.5-.5.5.1.5 1.6.5.6.5.3.5-.3.5-1.4.5-.3.5.5.5.4.5.6.5 0 .5-.1.5-.6.5 0 .5.1.5-.1.5.9.5-.5.5-.4.5-1 .5-.2.5.5.5.4.5.1.5-.7.5-.2.5-2.1.5-2.6.5-3.4.5-2 .5 2.6.5 3.3.5 2.6.5 1.4.5.6.5-.3.5.4.5-.3.5-.1.5-1 .5-.5.5 1.4.5-1 .5.3.5.1.5.2.5 1.3.5.4.5.3.5-.7.5-1.3.5-1.1.5-4 .5-6.4.5-10.1.5-12.2.5-11 .5-5.6.5 4 .5 10.1.5 12.1.5 10.4.5 7.1.5 3.3.5 1.7.5 1.4.5.8.5 1 .5.4.5-.3.5-.6.5-.9.5-.2.5.3.5.1.5-.1.5.4.5.4.5.5.5.2.5-.3.5-.9.5-1.1.5-.6.5-.7.5-1.4.5-3.4.5-6.1.5-10.4.5-14.3.5-16 .5-13 .5-4.7.5 5.8.5 13.4.5 15.9.5 14.6.5 10.7.5 6.4.5 2.9.5.9.5.1.5.6.5-.6.5.4.5-.6.5-.4.5 1.5.5-1 .5-1.7.5-1.8.5-1.6.5 1.2.5 3.3.5 1.1.5 1.3.5 1.1.5.1.5.5.5.1.5-.2.5-.5.5.4.5-.2.5-.3.5.8.5-.2.5.1.5-.3.5-.2.5-.8.5-.3.5-.5.5-1 .5.6.5.1.5.7.5.9.5 0 .5-.4.5 0 .5-.2.5-.4.5.3.5-.1.5-.3.5.1.5.2.5.9.5 0 .5.3.5-.7.5-.2.5.2.5-.1.5 1.1.5-.3.5-.4.5.1.5-.6.5-.1.5.6.5.1.5.2.5-.3.5.4.5-1 .5-.4.5-.8.5-1.6.5-1.4.5-1.6.5.2.5 1.2.5 1.1.5 1.4.5.9.5.2.5.5.5-.2.5.6.5.3.5.4.5.2.5-.9.5-.4.5.5.5-.6.5.3.5.4.5-.7.5 0 .5-.6.5.4.5-.2.5 1 .5.8.5-.2.5.6.5-.9.5-.4.5 0 .5-.8.5 1.2.5-.1.5-.3.5.1.5-.5.5-.1.5-.1.5 0 .5.3.5-.3.5.2.5.6.5-.3.5.2.5.2.5.3.5-.1.5.5.5-.5.5-.1.5-.4.5.1.5.2.5-.9.5-.7.5-.3.5-.3.5 1 .5 1 .5-.2.5-.6.5-.6.5-.4.5-.4.5.3.5.1.5-.5.5-1.5.5-3.8.5-9.3.5-15 .5-17.6.5-15.2.5-1.6.5 10.8.5 16 .5 16.2.5 11.3.5 6 .5 2.9.5.9.5-.3.5-.1.5.2.5.6.5.8.5.5.5.9.5.2.5.3.5.1.5-.4.5-.2.5-.6.5.2.5.7.5-.3.5.1.5-.5.5-.6.5-.1.5-.4.5.3.5-.1.5.5.5.6.5-.5.5.6.5-1.1.5-.2.5.9.5-.7.5.8.5-.4.5.1.5-1 .5-.3.5-.5.5-.3.5 1.8.5.9.5 1 .5 0 .5-.9.5-.1.5-.4.5-1.5.5-1.6.5-1.6.5.6.5 1.9.5 2.3.5.7.5-.2.5.2.5-.5.5.6.5-.4.5-.7.5-.1.5-.4.5.4.5-.5.5.6.5.2.5-.4.5 1.1.5-.6.5.2.5.5.5-.7.5-.4.5-.1.5.4.5.5.5.5.5.4.5-.2.5.2.5.1.5-.3.5-.2.5-.6.5-1 .5-.8.5.5.5 0 .5-.1.5-.2.5-3.8.5-6.3.5-5.4.5-.9.5 4.2.5 6.4.5 4.5.5 2.3.5 1 .5.1.5-.4.5 0 .5.6.5-.6.5-.4.5.2.5.2.5.4.5.9.5-.9.5-1.2.5.1.5-.9.5.6.5-.5.5-.5.5 1.3.5 0 .5.3.5.3.5-.4.5-.4.5.7.5 0 .5-.1.5.9.5-.6.5.4.5.1.5 0 .5-.2.5-.6.5.2.5-.7.5.1.5.1.5.3.5.6.5.7.5.1.5-.1.5.3.5-.3.5.1.5-.1.5-1.4.5-.2.5 0 .5.1.5.7.5.4.5-.4.5-.4.5.8.5-.9.5.2.5 0 .5-.7.5.3.5.3.5-.4.5-.5.5.4.5-.7.5.6.5.5.5-.5.5.4.5-.2.5.1.5.1.5 0 .5-.5.5-.3.5-.5.5 0 .5.4.5.9.5 1.3.5 0 .5.5.5-.7.5-1 .5-.9.5.1.5 0 .5-.3.5 1.2.5-.1.5-.5.5 1.1.5-.9.5-.5.5.2.5-.1.5.4.5-.9.5-1.9.5-2.9.5-.2.5 1.1.5 2.2.5 1.9.5.3.5.8.5-.1.5.6.5.5.5-.4.5-.1.5-.5.5-.9.5-.5.5-.9.5-2.9.5-5.9.5-7.2.5-3.9.5 3.1.5 6.1.5 5.7.5 4.2.5 1.3.5 1 .5 1.3.5-.3.5.2.5-.6.5-.8.5-.6.5.2.5.4.5-.8.5 1.3.5-.1.5.8.5.9.5-.9.5.1.5-.5.5.1.5.4.5-.2.5.8.5-.1.5 0 .5-.2.5-.5.5-.8.5 0 .5 0 .5-.1.5.4.5 0 .5.5.5-.1.5.1.5-.7.5-.9.5.5.5.3.5 0 .5 1.5.5-.8.5 0 .5.7.5-.7.5.5.5-.7.5-.2.5-.2.5-.2.5.4.5-.2.5-.2.5.3.5-.3.5.4.5.4.5-.5.5.2.5-.8.5-2.5.5-2.8.5-1 .5.3.5 2.4.5 1.9.5 1.5.5.5.5.4.5.7.5-1.1.5.6.5-.3.5-.9.5.3.5.3.5.1.5.6.5.3.5.3.5-.3.5.2.5-.6.5-1.2.5.2.5 0 .5.4.5.3.5 1 .5-.1.5-.2.5.2.5-.4.5-.4.5.5.5.4.5 0 .5.1.5-1.1.5.1.5-.7.5.1.5.6.5-.6.5.7.5-.8.5-.1.5-1.1.5-1 .5 1 .5-.1.5 1 .5.8.5 0 .5.5.5-.3.5-1 .5.1.5.6.5.4.5.3.5-.1.5-.4.5.5.5.2.5-.9.5.4.5-.4.5.7.5 0 .5-.5.5 0 .5-.9.5 1.2.5.3.5 0 .5.7.5-.8.5-.8.5.1.5-.4.5.7.5-.3.5.5.5.4.5-.7.5-1 .5-2.9.5-1.6.5-.1.5 1.7.5 1.8.5 1 .5.8.5.1.5.6.5.1.5.5.5-.3.5.1.5 0 .5-.6.5 0 .5.3.5 0 .5.2" clip-path="url(#rcb1)"/>
<path fill="none" stroke="none" stroke-width="0" stroke-linejoin="round" d="M109.5 1616l2 1 1-1.1 2 .8 2 .5 1.5-1.1 2 1.8 2-1.6 2-.4 1.5-1.1 2 1.1 2 1 2 0 2-1.5 2 2.8 2-1.6 2-.8 2 1 1-4.2.5-5.7.5-6.4.5-2.2 1 8.9.5 4.5 1.5 3.7 2 1.1 2 .2 1-1.5 2 .6 2 .6 2 3 2-2.6 2 1.5 1.5-1.3 2 .9 2-.6 2-1 2-.7 2 1.6 2-.1 2-.3 2 .1 2-.5 2 2.1 2-1.4 2-.1 2 .3 1.5-1.7 2 .9 2 0 1.5-1.4 2 2.3 2-.4 2-1.1 2 .6 1.5-3.8 2 3 2-.2 2 1.2 1.5-1.4 2 2.4 2-1.3 2 .9 2-.8 2 .5 2-1.4 1.5-2 1.5-4.6.5-12.9.5-25 .5-28.3.5-7.7.5 17.1.5 24.3.5 21.8.5 11.1 1 4.4 2 1.5 2 .9 2 .4 2-1.9 2 2.9 2-2.2 2 1.1 2-2.2 1-6.3.5-15.1.5-35.7.5-56.1.5-42.8.5 10.1.5 41.2.5 46.5.5 32.6.5 15.2.5 5.5 1.5 3.7 2 3.4 2 .8 2-2.7 2 1.2 2 1.7 2-2.1 2-.8 2-6.2.5-11.9.5-34.3.5-60.5.5-58.5.5-5.7.5 41.6.5 54.8.5 43.3.5 23.1.5 8.5.5 3.9 2 1.3 2 .8 2 1 1.5-7.3.5-8.2.5-6.9 1 6.3.5 7.8.5 4.5 2-2.4.5-4.6.5-2.4 1 6.5.5 4.7 2 2.7 2 1.1 2-.1 2-.2 2-2 2 1.1 2-.7 1.5-7.5.5-14.2.5-24.8.5-24.9.5-2.6.5 16.5.5 23.5.5 19.4.5 10 1 4.8 2 .4 2 1.7 2-1.4 2 .3 1.5-1 2 .8 2-.2 2-.8 2 .4 2 1.4 2-.5 2 0 2 .8 2-2 2-.5 2-2.1.5-7.1.5-13.4.5-16.9.5-5.1.5 8.7.5 13.1.5 12 .5 6.5 1 4.6 2-.2 2 1.9 2-1 2 2 2-2.1 2 0 2 0 2-.4 2 1.3 1.5-4.3.5-7.8.5-11.3.5-10.8.5-1 .5 9.2.5 10.8.5 7.5.5 5.1 2 1.8 2 0 2 1.5 2-.6 2-.3 1 1.1 1.5-1.2 2 .4 2 .1 2-.8 2 .8 2-.2 2-.6 2 .1 2 .9 1.5-1.8 2 1.7 2-.8 2-.3 2-.1 1 1.1 2 1.3 2-1.9 2-2.8 1-6.5 1.5 5.9 1.5 3.7 2-1 2 .5 2-.3 2 1.5 2-.1 1.5-1.3 2 .6 2-.5 2 .5 1-1.3 2 .6 2 1 2-.2 2-1.4 2 1.9 1.5-1.1 2 1 2 .8 2-2.7 1-1.2 2 .2 1-4.3 1.5-4.2 1.5 5.7 1 3.9 2-.2 2 .3 2 .2 2-.2 2 .3 2 .2 2 .9 1.5-1.1 2 1.4 2 .2 1.5-1.3 2 .3 1.5-1.5 2 2.6 1.5-2 2 1.5 2-.6 2-.1 1-1.2 2 .3 1.5-4.9 1-5.4 1 5.9 1 4 2 .4 1.5-1.6 2 .8 2 2.2 2-7.1.5-6.4.5-10.1.5-12.2.5-11 .5-5.6.5 4 .5 10.1.5 12.1.5 10.4.5 7.1 1 5 2 3.6 2-2 2 .7 2 .8 2-3.3 1-4.8.5-6.1.5-10.4.5-14.3.5-16 .5-13 .5-4.7.5 5.8.5 13.4.5 15.9.5 14.6.5 10.7.5 6.4 1 3.8 2 .5 2-.5 1-3.5.5-1.6 1 4.5 1.5 3.5 2 .5 2-.6 2 .4 2-1.8.5-1 2 2.3 2-.6 2-.5 2 1.2 2-.4 2 .3 2 0 2 .4 2-3.8 1-3 2 3.9 2 1.4 2 1.5 1-1.3 2 .6 1.5-1.3 2 2 2-.9 2 .3 2-.8 2-.1 2 .7 2 .9 1.5-1 2-1.3 2 1.4 2-1.8 2-.5 1-5.3.5-9.3.5-15 .5-17.6.5-15.2.5-1.6.5 10.8.5 16 .5 16.2.5 11.3.5 6 1 3.8 2 .4 2 2.4 2-.2 2 0 2-1.1 2 .3 2-.4 2 .8 2-1.6 2 1.9 2 0 1.5-3.5.5-1.6 1.5 4.8 2 .2 2-.6 2 .1 2 .3 2-.4 2 1.3 2 .5 2-2.1 2-.4 1-4 .5-6.3.5-5.4 1.5 9.7.5 4.5 2 3 2-.4 2 1.7 1-2.1 2-.7 2 1.1 2 .2 2 .2 2 .3 1.5-1.1 2 1.1 2 1 2-1.7 2 .6 2 .4 2-1.4 2-.3 2 .8 2-.2 2-.7 2 .8 1 1.3 2-2.1 2 1 2-.4 2 0 1.5-5.7 2 5 1.5 1 2 .6 2-2.8 1-8.8.5-7.2.5-3.9 1 9.2.5 5.7.5 4.2 1.5 3.6 2-1.5 2-.8 1 1.2 2 .9 2-.2 2 .5 1-1.3 2 .3 2 .5 1-1.6 2 2.3 2-.8 2-.6 2-.2 2 .8 2-3.6 1-3.8 1.5 4.6 2 3.1.5-1.1 2-.3 2 1.3 2-.4.5-1.2 2 .9 2 .9 2 .1 2-.9 2-.6 2-1.3.5-1 2 2.7 2-.8 2 1.4 2 .2 2-.2 2-1.4 1.5 1.5 2-.8 2 .5 2-4.2 1-1.7 1.5 4.5 2 1.6 2 .3 2-.3.5.2" marker-mid="url(#mr)"/>
<path fill="none" stroke="#ff00ff" stroke-width="1.3" stroke-linejoin="round" d="M120.7 1668.3l1 0 1 0 1 0 1 0 1 0 1 0 1 0 1 0 1 0 1 0 1 0 1 0 1 0 1 0 1 0 1 0 1 0 1 0 1 0 1 0 1 0 1 0 1 0 1 0 1 0 1 0 1 0 1 0 1 0 1 0 1 0 1 0 1 0 1 0 1 0 1 0 1 0 1 0 1 0 1 0 1 0 1 0 1 0 1 0 1 0 1 0 1 0 1 0 1 0 1 0 1 0 1 0 1 0 1 0 1 0 1 0 1 0 1 0 1 0 1 0 1 0 1 0 1 0 1 0 1 0 1 0 1 0 1 0 1 0 1 0 1 0 1 0 1 0 1 0 1 0 1 0 1 0 1 0 1 0 1 0 1 0 1 0 1 0 1 0 1 0 1 0 1 0 1 0 1 0 1 0 1 0 1 0 1 0 1 0 1 0 1 0 1 0 1 0 1 0 1 0 1 0 1 0 1 0 1 0 1 0 1 0 1 0 1 0 1 0 1 0 1 0 1 0 1 0 1 0 1 0 1 0 1 0 1 0 1 0 1 0 1 0 1 0 1 0 1 0 1 0 1 0 1 0 1 0 1 0 1 0 1 0 1 0 1 0 1 0 1 0 1 0 1 0 1 0 1 0 1 0 1 0 1 0 1 0 1 0 1 0 1 0 1 0 1 0 1 0 1 0 1 0 1 0 1 0 1 0 1 0 1 0 1 0 1 0 1 0 1 0 1 0 1 0 1-.1 1-.2 1-.4 1-.4 1-.3 1-.1 1-.1 1-.1 1-.1 1-.2 1-.4 1-.5 1-.5 1-.6 1-.5 1-.4 1-.3 1-.1 1-.1 1-.1 1 0 1 0 1 0 1 0 1 0 1 0 1 .1 1 0 1 .2 1 .2 1 .5 1 .6 1 1 1 .9 1 .8 1 .5 1 .4 1 .1 1 .1 1 .1 1 0 1 0 1 0 1 0 1 0 1 0 1 0 1 0 1 0 1 0 1 0 1 0 1-.1 1 0 1-.1 1-.1 1-.2 1-.2 1-.2 1-.2 1-.1 1-.1 1-.1 1 0 1-.1 1 0 1 0 1 0 1 0 1 0 1 0 1 0 1 0 1 0 1 0 1 0 1 0 1 .1 1 0 1 .1 1 .2 1 .1 1 .2 1 .3 1 .1 1 .2 1 .1 1 0 1 .1 1 0 1 0 1 0 1 0 1 0 1 0 1 0 1 0 1 0 1 0 1 .1 1 .1 1 .2 1 .2 1 .3 1 .1 1 .1 1 .1 1 0 1 0 1-.1 1 0 1-.2 1-.2 1-.2 1-.2 1-.2 1 0 1-.1 1 0 1 0 1 0 1 0 1 0 1 0 1 0 1 0 1 0 1 0 1 0 1 0 1 0 1 0 1-.1 1-.1 1-.2 1-.3 1-.2 1-.1 1-.1 1-.1 1 0 1 .1 1 .1 1 .1 1 .3 1 .2 1 .2 1 .1 1 .1 1 0 1 0 1 0 1 0 1 0 1 0 1 0 1 0 1 0 1 0 1 0 1 0 1 0 1 0 1 0 1 0 1 0 1 0 1 0 1 0 1 0 1 0 1 0 1 0 1 0 1 0 1 0 1 0 1 0 1 0 1 0 1 0 1 0 1 0 1 0 1 0 1 0 1 0 1 0 1 0 1 0 1 0 1 0 1 0 1 0 1 0 1 0 1 0 1 0 1 0 1 0 1 0 1 0 1 0 1 0 1 0 1 0 1 0 1 0 1 0 1 0 1 0 1 0 1 0 1 0 1 0 1 0 1 0 1 0 1 0 1 0 1 0 1 0 1 0 1 0 1 0 1 0 1 0 1 0 1 0 1 0 1 0 1 0 1 0 1 0 1 0 1 0 1 0 1 0 1 0 1 0 1 0 1 0 1 0 1 0 1 0 1 0 1 0 1 0 1 0 1-.1 1-.1 1-.1 1-.2 1-.2 1-.1 1-.1 1-.1 1 0 1 .1 1 0 1 .1 1 .2 1 .2 1 .2 1 .1 1 .1 1 0 1 0 1 0 1 0 1 0 1 0 1 0 1 0 1 0 1 0 1 0 1 0 1 0 1 0 1 0 1 0 1 0 1 0 1 0 1 0 1 0 1 0 1 0 1 0 1-.1 1 0 1-.1 1-.2 1-.2 1-.1 1 0 1 0 1 0 1 .1 1 .2 1 .2 1 .1 1 0 1 .1 1 0 1 0 1 0 1 0 1 0 1 0 1 0 1 0 1 0 1 0 1 0 1 0 1 0 1 0 1 0 1 0 1 0 1 0 1 0 1 0 1 0 1 0 1 0 1 0 1 0 1 0 1 0 1 0 1 0 1 0 1 0 1 0 1 0 1 0 1 0 1 0 1 0 1 0 1 0 1 0 1 0 1 0 1 0 1 0 1 0 1 0 1 0 1 0 1 0 1 0 1 0 1 0 1 0 1 0 1 0 1 0 1 0 1 0 1 0 1 0 1 0 1 0 1 0 1 0 1 0 1 0 1 0 1 0 1 0 1 0 1 0 1 0 1 0 1 0 1 0 1 0 1 0 1 0 1 0 1 0 1 0 1 0 1-.1 1 0 1-.2 1-.2 1-.3 1-.2 1-.1 1 0 1-.1 1 0 1 0 1 0 1 0 1 0 1 0 1 0 1 0 1 0 1 0 1 0 1 0 1 0 1 0 1 0 1 0 1 0 1 .1 1 .1 1 .1 1 .3 1 .2 1 .2 1 .1 1 .1 1 0 1 0 1 0 1 0 1 0 1 0 1 0 1 0 1 0 1 0 1 0 1 0 1 0 1 0 1 0 1 0 1 0 1 0 1 0 1 0 1 0 1 0 1 0 1 0 1 0 1 0 1 0 1 0 1 0 1 0 1 0 1 0 1 0 1 0 1 0 1 0 1 0 1 0 1 0 1 0 1 0 1 0 1 0 1 0 1 0 1 0 1 0 1 0 1 0 1-.1 1 0 1-.2 1-.3 1-.3 1-.3 1-.1 1-.1 1 0 1 0 1 .2 1 .2 1 .3 1 .3 1 .2 1 .1 1 .1"/>
<path stroke="#0000ff" stroke-width="1.5" fill="none" d="M120.7 1662.5v11.5M145.9 1662.5v11.5M180.3 1662.5v11.5M216.2 1662.5v11.5M231.7 1662.5v11.5M239.4 1662.5v11.5M242.9 1662.5v11.5M255.8 1662.5v11.5M277.3 1662.5v11.5M288.6 1661v11.5M290.2 1660.9v11.5M295.2 1659.5v11.5M298.9 1657.6v11.5M312.3 1657.4v11.5M326.1 1662.5v11.5M327.3 1662.5v11.5M333.2 1662.5v11.5M335.8 1662.5v11.5M348.7 1661.1v11.5M374.2 1662.5v11.5M379.5 1662.6v11.5M390.8 1663.7v11.5M402.9 1662.6v11.5M425.1 1661.5v11.5M426.7 1661.7v11.5M429 1662.2v11.5M432.2 1662.5v11.5M435.7 1662.5v11.5M446.6 1662.5v11.5M460.1 1662.5v11.5M462.9 1662.5v11.5M465.5 1662.5v11.5M468.1 1662.5v11.5M470.9 1662.5v11.5M477.3 1662.5v11.5M499 1662.5v11.5M502.2 1662.5v11.5M505.4 1662.5v11.5M508.6 1662.5v11.5M516.2 1662.5v11.5M518.4 1662.5v11.5M522.7 1662.5v11.5M524.8 1662.5v11.5M530.2 1662.5v11.5M537.8 1661.7v11.5M542.2 1661.6v11.5M547.6 1662.4v11.5M549.7 1662.5v11.5M567 1662.5v11.5M573.5 1662.5v11.5M581.1 1661.8v11.5M583.2 1662.1v11.5M596.1 1662.5v11.5M613.5 1662.5v11.5M616.6 1662.5v11.5M625.3 1662.5v11.5M635 1662.5v11.5M638.3 1662.5v11.5M643.6 1662.5v11.5M649 1662.5v11.5M652.4 1662.5v11.5M698.7 1661.7v11.5M700.8 1662.2v11.5M713.2 1662.5v11.5M730.9 1662.5v11.5M734.9 1662.5v11.5M743.9 1662.5v11.5M753.7 1662.5v11.5M764.5 1661.5v11.5M766.7 1662.1v11.5M769.5 1662.5v11.5"/>
<path fill="none" stroke="#0000ff" stroke-width="1.15" stroke-linejoin="round" d="M109.5 1758.6l.3 2.3.3-.3.3-2.4.3-3.5.3 6.3.3-1.1.3-.5.3 5.4.3-9.2.3 1.4.3 4.8.3 2.9.3-.9.3.6.3-12 .3 11.7.3-.4.3 1 .3-5.6.3 4.8.3 6.8.3-2.6.3-5.5.3-6.7.3 5.6.3 2.4.3-.7.3 5.8.3-8.6.3-3.4.3 1.6.3 5.7.3-5.7.3-.9.3.8.3 8.6.3-3.9.3-2.3.3 5 .3-.7.3-6.6.3 7.6.3-2 .3-9.5.3 3.8.3 6.1.3 1 .3-3.3.3-3.2.3 5.5.3-8.8.3 9.7.3-2.5.3.5.3-2.5.3 6.6.3-13.3.3 5.8.3 5.8.3-5.2.3 9.2.3-2 .3-7.1.3 7.6.3-4.9.3 2.5.3-4.6.3-.2.3 5.1.3-2.4.3-3.8.3-.6.3 6.6.3 4.8.3-11 .3 6.1.3-14.9.3 6.7.3 8.5.3 3.9.3-6 .3 2.1.3-1.2.3 3.4.3-8.6.3 7.1.3-4.3.3-1 .3 2.5.3-1.2.3-2.4.3 1.8.3-3.2.3 10.3.3-3.3.3-5 .3 8.6.3-1.4.3-3.3.3-4.1.3 3 .3 1 .3 3.2.3-6.7.3-1.8.3 11.6.3-4.1.3-4.5.3-4.9.3 5.8.3 2.8.3-1.5.3-.1.3-3 .3 4.7.3-7.4.3 1 .3.4.3-.5.3 10.2.3-15.7.3 7.7.3-4.8.3-1.1.3 5.7.3-6.9.3 5.9.3 9.8.3-10.2.3 2 .3-5.8.3 5.3.3-8.3.3 6.4.3-1.4.3 9.2.3-9.8.3-1.2.3-1 .3-2.5.3 7.9.3 2.7.3-7.8.3 4.3.3-4.4.3 3.2.3.3.3-14.9.3 10 .3 7.6.3-11.7.3 8.2.3-1.2.3-2.4.3 4.2.3.9.3.8.3-13 .3 17.5.3-9 .3 6.8.3-4.9.3-2.1.3 2.1.3 13.8.3-6.9.3-7.9.3 2.3.3 4.1.3-2.8.3-2 .3-1.1.3-3.7.3 7.5.3 1.1.3 4.8.3-11.4.3 4.9.3-2.7.3 5.8.3-4.9.3-2 .3-4.6.3 10.6.3-2 .3 4 .3-6.8.3 13.1.3-13.9.3 5.7.3-.1.3 2.8.3-5.2.3-2.7.3-.6.3 7.7.3-2.4.3.5.3-5.1.3 4.6.3-.3.3 1.9.3-8.4.3 2.9.3 10.3.3-8.8.3 1.5.3-1.1.3-4.6.3 1.7.3 5.8.3-4.4.3 11 .3-14.9.3-2 .3 7 .3-3.6.3 10.8.3-7 .3 3.9.3-8 .3 9 .3-.3.3 2.7.3-4.4.3 1.4.3-1.6.3 3.1.3-5.8.3 4.4.3-4.8.3 5.3.3-4 .3-1.5.3-.1.3 9.2.3-12.7.3-.2.3 8.9.3-6.6.3-.4.3 2.2.3 11.6.3-12.8.3-.5.3 1.9.3 2.8.3 1.3.3-8 .3 7.8.3 6.7.3-15.9.3 9.9.3.3.3-2.1.3-1.1.3-9.4.3 15.1.3-6.1.3.2.3 6.1.3-15.4.3 9.1.3 3.1.3.6.3-.6.3 5.8.3-7.5.3 2.8.3-.9.3-9.3.3 2.9.3 11.9.3-9.7.3.9.3-5.4.3 2.3.3-2.1.3 3 .3 5.4.3-6 .3.9.3 8.6.3-3.7.3 0 .3 1.9.3-6.3.3.9.3-6.8.3 11.7.3-3.8.3.9.3-4.9.3 7.7.3.2.3-1.8.3-7.9.3 3.4.3 3.7.3-3.5.3 5.2.3 2.8.3-7.4.3 2.4.3-2 .3 6.9.3-1.1.3 7.7.3-11 .3-4.1.3 5.4.3-2.5.3 2.1.3 4.7.3-6.6.3 3.7.3-11.8.3 13.4.3-4 .3-1.1.3-1.3.3 8.4.3-7.6.3 7 .3-7.7.3 2 .3 1.4.3 7.1.3-7.2.3-.3.3-1.3.3-.7.3-1.2.3 9.9.3-1.5.3-8.9.3 3.7.3-5.7.3 8.6.3-1.5.3-2.3.3-3.9.3 6.5.3-.6.3-3 .3 4.1.3-9 .3 2.9.3-1.9.3 4.3.3 6.2.3-6.6.3 4.7.3-5.4.3-1.6.3 6 .3-1.8.3 3.6.3-2 .3-7.5.3-7.3.3 11 .3-5.5.3-1.1.3-.3.3 3.6.3 2 .3.4.3 8.6.3-13.7.3 4.8.3-4.9.3.5.3 4.1.3 1.3.3-7.1.3 10 .3-8.5.3 7.9.3-4.3.3 4 .3-1.8.3-3.7.3 3.3.3-7.5.3.2.3 3.9.3 7.4.3-9 .3.7.3 10 .3-7.2.3 0 .3-4.5.3 4.6.3 2.3.3-2.5.3 3.5.3-2.2.3 3.2.3-1.1.3-4 .3 4.3.3 3.8.3-6.5.3-6.5.3 6.1.3-2.3.3 12.9.3-7.9.3-7.5.3 3.8.3 7.1.3-10.9.3 2.6.3 1.7.3-.6.3-1.7.3 2.8.3-6.4.3 3.4.3 0 .3 1.4.3.1.3 1.3.3-1.4.3-.5.3 3.6.3 2.2.3.3.3-8.7.3 5.6.3 2.3.3-4.1.3 3.1.3-3 .3 2.8.3-8.3.3 8.3.3-4.2.3-.8.3 2.1.3 5.6.3-.5.3-2.7.3 2.8.3-5.4.3-3.8.3-2.6.3 7.7.3-.7.3 1.2.3-.1.3 5 .3-8.4.3.5.3 10.9.3-5.4.3-4 .3-7.5.3 5.1.3 2.1.3 1.3.3 1.2.3-1.6.3 5.8.3-9.9.3 3.6.3-2.5.3 5.4.3-4.4.3-1.1.3-7.3.3 9.4.3-18.7.3-10.7.3.9.3.1.3 9.7.3 6.5.3 3.4.3 1.8.3-.2.3 9.8.3-3.5.3-18.9.3 10.9.3-4.8.3 1.8.3 9.2.3-10.4.3 2.6.3 16.6.3-10.4.3 2.5.3 7.1.3-6.3.3 2.5.3 1.3.3 5.2.3-12.8.3 2.7.3 1 .3 6.3.3-15.1.3 2.3.3-3.8.3 3.8.3 10.6.3-3.5.3 14.5.3-10.4.3 4.9.3.7.3-6.2.3 4.5.3 12.9.3-4.8.3.8.3-3.2.3-6.9.3 4.5.3-3.8.3-3.6.3 1.1.3-6.2.3 7.2.3-7.1.3 10.5.3-9.3.3.6.3 7.6.3-2.5.3-7 .3 6.4.3-2.9.3.2.3 2.4.3 0 .3 2 .3 0 .3-3.1.3-1.3.3 6.9.3-9.5.3 11.6.3 1.2.3 0 .3-9.9.3 9.7.3-3.9.3-.6.3 9.2.3-13.2.3 2 .3-7.7.3-4.1.3 10.5.3.6.3 1.6.3-1.7.3-9.8.3 10.1.3 2.8.3 2.2.3-11.1.3.6.3.8.3.2.3-4.1.3 3.4.3 9.4.3-11.3.3-3.5.3 6.7.3-.8.3 4.5.3-5.8.3 2.1.3-2.5.3-1 .3 5.8.3-1.7.3-.9.3 2.2.3-5.9.3 3.9.3.6.3 4.1.3-12.9.3 6.5.3 3.1.3-4.1.3 2.7.3 2.4.3-.9.3-9.2.3 2.1.3-6.7.3 14.3.3-1.8.3 4.9.3-5.5.3-6.4.3 6.7.3-16.5.3-3.6.3-9.1.3 2.3.3 6.4.3 4.3.3 8.4.3 11.1.3 4.9.3 11.6.3-1.1.3 1 .3-.4.3-19.5.3-2 .3 3.3.3-.5.3-3.3.3-5.7.3 17.9.3-10 .3-5.3.3-5.2.3 16 .3-4.9.3-.9.3-4 .3 3.9.3-1.3.3-9.1.3 21.8.3-9.4.3-3.2.3-2.4.3 1.4.3 13.1.3-8.7.3-7 .3 9.2.3-1.4.3-.1.3-3.4.3.1.3 1.6.3-1.8.3-5.3.3 2.1.3 4.3.3-6.7.3 6.2.3-.6.3 4.4.3-2.6.3-2.2.3.2.3 3 .3 2 .3-9.3.3-2.2.3 2.9.3-7.3.3 6 .3 6.3.3-.1.3 1.6.3-6.9.3-.3.3-3.9.3.2.3 3.4.3 3 .3-1.7.3-9.6.3 11.1.3-1.2.3-1.5.3 3.6.3 3.6.3-2.6.3-3.3.3 17.3.3-17 .3 4.9.3 3.7.3-8.9.3 6 .3-6.1.3.7.3-.3.3 10.4.3-13.1.3 8.1.3-2.1.3-8.7.3 15.7.3-10 .3 1.4.3 1.8.3-4.8.3.5.3 3.4.3-3.2.3 4.3.3 5.3.3-9.8.3-2.2.3 6 .3 2.3.3 1.2.3-7.2.3-5.8.3 13.9.3-.6.3 3.4.3-10.5.3 6.4.3 2.1.3-11.9.3 12.3.3 1.6.3-3.2.3-.5.3.4.3-4.1.3-5 .3 2 .3 3.3.3-2.5.3 7.8.3-6.2.3 1.4.3-7 .3 11 .3-6.4.3 9.2.3-13.8.3 8.4.3-3.3.3 0 .3 8.9.3-3.1.3-7.7.3 9.4.3-8.7.3 6.2.3-10.6.3 6.1.3.3.3-.3.3-5.3.3-1.4.3 8 .3 2.8.3-2.3.3-1.4.3-4.9.3 5.2.3-1.3.3-.5.3 3.7.3-.1.3 1.2.3-3.3.3-2.8.3 2.9.3-.2.3-5.5.3 5 .3-5.4.3-1.3.3 5.1.3.9.3 5.7.3-4.5.3 3.3.3 4.2.3-5.9.3 1 .3-4.6.3 6.6.3-3.5.3.2.3-4.5.3.8.3 1.2.3 3.3.3 4.3.3-11.6.3 4.8.3.5.3 10.8.3-10.1.3-1.5.3 5.6.3-7.9.3 6.8.3-8.9.3 15.9.3-8.7.3-4.2.3-1.3.3 5.1.3.7.3-3.4.3 8 .3-6.4.3.7.3-.3.3 2.3.3-10.6.3-2.5.3-3.8.3-2.5.3-11.4.3 13.8.3-2 .3 2.1.3 7.2.3-5.2.3 6.4.3 3.9.3 4 .3-6.8.3 1.1.3-3.7.3 4.5.3-4.8.3 5.2.3-2.2.3-1.4.3 1.2.3 2.3.3 8.4.3 9 .3-13.7.3-2.4.3 5.8.3-.1.3-4 .3 10.2.3-4.4.3.5.3-4 .3.1.3 3.5.3-9.6.3 2.2.3 4.3.3-6.4.3 12.7.3-9.7.3.7.3 3.2.3 5.2.3-6.3.3-2.8.3-.9.3 4.9.3-3.3.3 12.3.3-5 .3-18.7.3 9.4.3 5.1.3 8.3.3-18.4.3 6.5.3 7 .3-8.1.3 3.5.3-2.3.3 5 .3-7.2.3 4.7.3-6.1.3 10.5.3-1.6.3-2.6.3.3.3-.1.3-1.4.3 1.9.3.8.3-1.8.3-2.2.3.8.3-.4.3 3.6.3-1.3.3 7.4.3-8.9.3.7.3-3.2.3 3.4.3-2.3.3-1.6.3 4 .3 5.9.3-10.2.3.7.3 2.5.3 1.3.3 4.7.3-8.3.3 2.4.3-3 .3-.3.3 1.8.3-2.9.3 7 .3 2.8.3-6.4.3-.7.3 8.1.3-6.3.3 6.6.3-18.4.3 11.2.3-3.6.3 2.3.3 5.8.3 1.1.3-5.2.3 4.5.3-8.5.3 6.2.3-1.4.3-6.3.3 11 .3-6.9.3 4.2.3-5.1.3 4 .3 1.9.3-3 .3-1.9.3 4.7.3-1.9.3-2.6.3 1.7.3-.6.3-1.1.3 5 .3 3.1.3-9.7.3 1.7.3-3.2.3-1.7.3 10.5.3-7.2.3 4.1.3-7 .3 3.2.3 4.4.3 0 .3-.8.3.6.3-.5.3 3.1.3 3.1.3-4.5.3-2.9.3-4.2.3 2.4.3.6.3 7.6.3-12.8.3 3 .3-1 .3 7.7.3-6.8.3-5.3.3-1.2.3 10.2.3-8.3.3 11.6.3-.1.3-9.1.3 3.4.3 1.4.3-6.4.3 1.2.3 2.8.3 2.8.3 1.3.3-9.2.3 8.7.3-1.5.3-2.5.3 1 .3 6.4.3 2.4.3-8.5.3 1.1.3-5.6.3 4.8.3 4.1.3-3.3.3 1.8.3-1.8.3.9.3 2.6.3.5.3-10.6.3 7.4.3-11.3.3 12.4.3-2.5.3-.3.3 9.1.3-5.1.3 3.6.3-2.6.3 4.9.3-7.9.3-.3.3.8.3 10.4.3-12.3.3 1.9.3 5.9.3-1.8.3-5.9.3 9.4.3-5.3.3 3.8.3-3 .3.8.3-6.2.3 9.1.3-9 .3 3.6.3 4.3.3-6.2.3 2 .3-.5.3.3.3 1.8.3-8.9.3 3.8.3 11 .3-17 .3 5.5.3 6 .3-11.5.3 4.2.3 0 .3 9.9.3-10 .3 5.8.3-5.1.3 2.5.3-5 .3-1.5.3 4.2.3-3.8.3 5.3.3 1.2.3 1.3.3 4.7.3-.3.3-10.3.3 2 .3 9.7.3-7.8.3-1.4.3 5.7.3-7.1.3 6.4.3-5.2.3 6.8.3-6.1.3 4.2.3 1 .3 2 .3-10.3.3 1.7.3-4.4.3-1 .3 5.4.3 2.1.3 4.5.3-7.2.3 9.6.3-7.6.3 2.7.3-4.8.3-4.3.3 11.9.3-7.9.3 5.8.3-6.4.3 4.1.3-3.3.3-.9.3 1.2.3 3.6.3-7.9.3.9.3 8.5.3-7.6.3 3.8.3-6.4.3 4.8.3 5.5.3-4.5.3.8.3-2.5.3 2.1.3-7.6.3.5.3 8.7.3-8.9.3 13 .3-2.1.3-8.6.3-4.1.3-.8.3 11.5.3-1.8.3 6 .3-3.8.3 4.3.3-2.6.3-7.2.3 2.9.3-2.7.3 2.3.3-.6.3 1.1.3 6.9.3-8.2.3-2.7.3 2.1.3.7.3 0 .3 1.8.3-.8.3 6.4.3-.9.3-6.7.3 7.8.3 2.1.3-5.3.3-3.3.3 5.9.3-1.8.3 1.7.3-5.8.3 13.6.3-9.1.3 3 .3-4.6.3 3.4.3-9.9.3 3.9.3-5 .3 14.8.3-9.5.3-1 .3 11.6.3-6.8.3.9.3 4.7.3-2.4.3-.9.3.9.3-11.3.3 13.3.3-.1.3 2.1.3-16.9.3 5.2.3 1.2.3 9.7.3-5 .3 5.2.3-6 .3-4.6.3-2.7.3 3.2.3 8.2.3-9.8.3-4.1.3 8.9.3 4.8.3 4.3.3-5 .3-1.3.3-11.9.3 6.1.3-.2.3 2.4.3-4.4.3 7.2.3 1.4.3-4.8.3-2.1.3 2.2.3.7.3 1.8.3-7.2.3 9.8.3-5.8.3-.7.3 3.5.3-5.7.3 7.1.3 5.9.3-7 .3-.9.3-2.2.3 8.8.3-1.7.3-11.4.3 10.9.3-6.4.3-2.1.3 4 .3-2.1.3 7.4.3-10.2.3 0 .3 1.7.3 3.4.3 3.3.3-6.9.3 1.5.3-3.6.3 5.7.3-3.3.3 13.4.3-1.4.3-12 .3 4.2.3 1.2.3-4.6.3 1.3.3 4.3.3-3.6.3-.4.3 1 .3 5.4.3-6.3.3 2.6.3-.6.3 2.2.3-4.1.3-.8.3-.6.3 4 .3-.2.3-1.8.3 2.3.3 9.1.3-6.5.3-11.1.3 13.2.3-5 .3-4.8.3 9.9.3-6.1.3 4.6.3-7 .3 6.8.3-5.4.3 5 .3-.8.3-8.8.3 6.4.3.3.3-2.3.3-7.4.3 9.1.3-2.7.3 6.4.3-10.2.3 8.3.3-3.3.3 10.1.3-14.9.3 7.9.3-6.4.3-1.6.3 8.4.3-2.6.3 1.9.3-11.1.3 1.9.3 10.6.3-9.5.3 9.3.3 1.6.3-7.8.3.8.3.1.3-1.1.3.7.3-.1.3 2.5.3-3.2.3-.7.3 1 .3-.9.3 1.9.3 3 .3 6.8.3-14.8.3 1 .3 6.2.3.5.3.8.3 8.9.3-14.6.3 7.7.3-3.9.3 4.8.3 3.9.3-8 .3 9.9.3-8.4.3-1.1.3-3.1.3 4.8.3 1.9.3 10 .3-5.2.3 12.4.3 6.3.3-4.3.3 1.6.3-11.1.3-.8.3-8.3.3 6.9.3-12.9.3-1 .3 2.6.3-4.2.3 1.3.3 2.3.3 2.4.3-6.3.3 2.6.3-1.1.3 4.3.3.6.3-1.8.3-.2.3 15.2.3-19.9.3 10.7.3-4.6.3-9.1.3 7.2.3-6.5.3 5.4.3-7.8.3 10.7.3-6.2.3 10.2.3-10.1.3 3.4.3-6.3.3 5.6.3.9.3 1.7.3 8.2.3-3.3.3-3.7.3-4.6.3-.3.3-.3.3-2.5.3 6.5.3-2.8.3 2.5.3-3.1.3 2.4.3 5.7.3-6.4.3 2.4.3-7.2.3 2.8.3-.8.3 4 .3-1.3.3-4.1.3 4.2.3-.7.3-6.7.3 6.4.3 4.8.3-8.9.3 7.8.3-1.6.3-2.2.3 1.1.3-5 .3 5.9.3-8.7.3 1.3.3 7.3.3-6.9.3 13.1.3-6.9.3 2 .3.1.3-6.2.3 1.8.3 1.4.3-2.1.3 6.7.3-1.6.3-3.4.3 4.4.3-4.9.3 2.7.3-2.6.3-2.1.3-2.7.3.9.3 3.3.3 1.5.3-10.9.3 6.9.3 4.4.3-3.1.3-4.5.3.8.3 11.5.3-13.5.3 5.7.3 4.9.3-11.6.3 11.3.3-9.4.3 10.5.3 6.8.3-22.6.3 11.2.3 1.5.3-3.7.3 4.8.3-5.3.3.2.3-.8.3 3.2.3 2.3.3 2.2.3-4.9.3-4.1.3 2.9.3-.1.3.8.3 4.4.3-2.9.3.8.3-.5.3 0 .3-1.8.3 5.1.3-3.5.3-.3.3-4 .3 1.4.3.6.3 5.2.3-9.6.3 10.4.3-2 .3-3.9.3-.8.3 5.9.3-1.4.3-9.4.3 5.5.3-.5.3 3.7.3-2.3.3 4.3.3-3.9.3 1.2.3 6.6.3-6.5.3-.9.3 2 .3-5.4.3-1.1.3 6.1.3-2.4.3-4.2.3 9.6.3-.9.3-2 .3-3.5.3 1.7.3-1.8.3 6.2.3-9.4.3 7.6.3-1.2.3-4.9.3 7.1.3-3.9.3 9.3.3-2.9.3-5.2.3-1.3.3-1.1.3.1.3 4.4.3-7.2.3 10.3.3-1 .3-3.6.3 3.3.3 6.7.3-8.5.3 5.8.3-8.6.3-1 .3 6.7.3-12.1.3 11.8.3-3.4.3-2 .3 2.2.3 0 .3 5.1.3-1.8.3-2.6.3-1.8.3-3.5.3 4.9.3-24.2.3 27.4.3-4.4.3-7 .3 9.5.3-5.9.3 1.5.3-5.7.3 4.2.3 4.2.3-1.1.3 1.5.3-4.1.3 5.4.3-8.5.3 3.9.3-8 .3 10.1.3-.7.3 1.7.3 3.3.3 2.9.3-10.3.3 4 .3-7.2.3 15.6.3-1.9.3-3.7.3 3.1.3-1.5.3-5.9.3 5.9.3 1.8.3-1.7.3-4.1.3-1 .3 11.6.3-9.1.3.8.3-8.3.3 8.5.3-1.7.3-4.4.3 9.2.3-5.6.3 2.7.3-.9.3-4.9.3 4.6.3 4.5.3-10.8.3.2.3.6.3 7 .3-5.2.3 2.9.3 3.5.3-9.5.3 10.8.3-6.1.3-.7.3 7.7.3-4.5.3-7.4.3 5.4.3-2.9.3 4.1.3-3.1.3.5.3 5.3.3-11.1.3 8.7.3-2.5.3 2.5.3-11.5.3 5.7.3 2 .3 8.3.3-12.3.3.4.3 3.7.3 3.7.3-5.7.3 2.5.3-7.4.3 14.2.3-8.3.3 2.3.3 10.8.3-13.6.3-3.2.3 1.1.3 11.3.3-8 .3-2.8.3 3.1.3.1.3 9.2.3-6.3.3-1.5.3.6.3-5.3.3-2.3.3 6.9.3.4.3-1.4.3.3.3 1.5.3-7.7.3 3.4.3-2.5.3-4.3.3 9.6.3-5 .3-.5.3-4.2.3-13.3.3 3.4.3-8.6.3 3.6.3 7.4.3-3.2.3 4.2.3 6.4.3 5.1.3.4.3-22.5.3 24.6.3-7.3.3 5.1.3-6.7.3 2.7.3 6.2.3-8 .3 11.8.3-4.9.3 3.9.3.4.3-3.1.3 7.8.3 4.3.3-7.4.3-9.9.3 7.8.3-1.4.3 4.5.3-4 .3 8.7.3-6 .3-1 .3-4 .3-2.3.3 3.4.3 1.5.3 1.3.3-.8.3-2 .3 1.5.3-1.8.3-2.4.3.7.3 5.5.3 1.2.3-4.3.3.7.3 2.8.3-2.6.3 13.9.3-12.7.3-2.9.3-5.1.3 8.6.3 3.1.3-4.5.3 4.8.3-9.4.3-.3.3-3.3.3-6 .3-6.6.3.1.3-4.4.3 12.9.3-.7.3 3.9.3 1.5.3 8.9.3-6.5.3 11.7.3-2.6.3-7.3.3 2.1.3 3.5.3 2.5.3-8.5.3 1 .3 12.7.3-7 .3-.2.3 4.2.3-6.3.3-3.7.3-4.7.3 11.2.3-8.4.3 8 .3-11.4.3 6.1.3 2.1.3-4.6.3 3.4.3-.9.3 4 .3-6.1.3 4.5.3 6 .3.2.3 1.9.3-6.1.3-3.2.3 3.2.3 1.9.3-2.1.3 5.3.3-8.9.3 1.8.3-5.5.3 4.3.3 6.9.3-4.7.3 3 .3-1.5.3 2 .3-7.8.3 5.8.3.7.3 2 .3 1.1.3-7.9.3-3.9.3 2.6.3 8.5.3-9.6.3-1.7.3.3.3-.1.3 8.6.3-6 .3.6.3 7.5.3-.8.3-.4.3-6.8.3-4 .3 8.6.3 6.1.3-10.6.3 1.9.3-12.2.3 21.2.3-7.8.3-15 .3 15.6.3-2.4.3 5.4.3 6.4.3-12.2.3 4.3.3-2.4.3-1.5.3 4.3.3 4.1.3-4.7.3-3.8.3 4.2.3-.8.3 2.5.3-5.6.3 2.6.3 6.3.3-6.7.3 3.7.3-4.2.3.3.3-3.3.3 15.4.3-6.8.3.3.3-.1.3-9 .3.8.3 2.3.3-6.1.3 3 .3 6.9.3-12.5.3 5.3.3 3.1.3-.3.3.5.3-2.8.3 6.9.3-13.9.3 11.6.3-8 .3 3.5.3 2.5.3 7.1.3-10.9.3-2.5.3 10 .3-4.4.3.1.3 2.3.3 1.3.3-3.2.3-9.5.3 8.4.3 1.3.3-4.8.3.6.3 6.8.3-1.8.3-4.6.3 6 .3-1.7.3-5.9.3 4.1.3-4.3.3 2.1.3 4.8.3-6.2.3.1.3 7.2.3-5.8.3 3 .3-.3.3.1.3 2.5.3-3.2.3-1.7.3 1.9.3 7.5.3-.6.3-4.5.3 5.7.3-2.1.3-7.8.3 10.9.3 4.9.3-10.1.3-8 .3 13 .3-3.3.3-2.8.3-8.3.3 8.3.3-.5.3.3.3-.4.3 5.6.3-5.9.3 3.7.3-9.6.3 3.7.3 4 .3-3.5.3 4.3.3-.4.3 1.2.3-2.1.3 4.1.3-8.3.3 4.2.3 8.3.3-8.6.3 15.9.3-12.8.3-2.9.3 1.2.3 6.2.3-7.8.3-3.1.3 6.5.3.7.3.5.3-10.2.3 10.4.3-3.7.3-1.3.3-.6.3 4.2.3-2.5.3-.3.3 8.6.3-8.4.3-4.7.3 1.2.3.7.3-3.9.3 10.9.3 3.1.3-11.1.3 6.1.3-7.2.3 0 .3-4.6.3 6.9.3 5.5.3.3.3-3.3.3-3.4.3 6.2.3 2 .3-10.7.3 4.8.3-1.5.3-2.7.3-2.4.3 1.3.3 4.2.3.5.3-.6.3 5 .3-8.1.3-2.5.3.1.3 6.4.3-3.9.3-4.7.3 10.7.3 1.9.3-4.9.3 5.2.3-11.4.3.4.3 6.2.3.2.3-1.4.3.3.3-1.5.3 8.5.3-9.4.3 3.2.3 5 .3-8.6.3 4.7.3-1.2.3 3.2.3-12.8.3 7.4.3-.8.3 7.8.3-4.6.3-2.2.3 6 .3-1 .3 1.6.3.1.3-1 .3-5.5.3 3.8.3.3.3.1.3.2.3-.8.3-2.3.3 1.6.3-3.8.3.6.3 6.9.3-4.1.3 1.6.3-2.6.3-4.3.3 5.2.3 8.6.3-7.1.3-2.5.3 5.7.3-5.1.3-.8.3-4.1.3-.7.3 8.7.3-1.2.3-.3.3 2.8.3-5.2.3 1.9.3-4.1.3-.4.3-.1.3 6.8.3-1.7.3-8 .3 2.6.3 1.9.3-4.3.3 5.2.3-6.1.3 1.9.3-.2.3-6.4.3.8.3 3.8.3 9 .3-2.4.3-.2.3-7.4.3 4.2.3 2.8.3 1.3.3-7.5.3 3.9.3.4.3 8.7.3-8 .3-1.1.3 6.9.3-5 .3 5.8.3-8.2.3 11.9.3-8.3.3.6.3-1.7.3.9.3.3.3-1.7.3 6.8.3-14.9.3 4.5.3 3.3.3.7.3 6.3.3-4.1.3-2.1.3-2.8.3 11.5.3-4.4.3 7 .3-17 .3 13.2.3-7.1.3-3.1.3 4.1.3-.3.3-1.7.3-4.8.3 4.9.3-3.7.3 5.5.3-6.2.3 6.4.3-2.6.3 5.8.3-7.8.3-2.4.3 0 .3 6.8.3 15.5.3-22.2.3 3.3.3 9.1.3-3.1.3 2.7.3-3.9.3.6.3-1.8.3-4.8.3 5.6.3-5.1.3 7 .3-14.2.3 2.6.3 8.2.3 1.5.3 7.3.3-11.4.3 6 .3-10.6.3 17.9.3-21 .3 17.8.3-7.9.3-6 .3 5 .3 6.1.3-4.6.3-3.1.3 4.5.3-.4.3 4.2.3-.9.3-4.6.3-1.1.3 3 .3-1.1.3 1.7.3-5.1.3 4.8.3-4.1.3 6 .3-1.6.3-2 .3-5.8.3 11.6.3-8.2.3 1.6.3 1.7.3 1.8.3-3.7.3.2.3-3.4.3 10.8.3-6.6.3.4.3-6.9.3 6.2.3 6.2.3.6.3-8.9.3 4.6.3 2 .3-9.2.3 2 .3 7.5.3 6.4.3-15.6.3 1.4.3 9.6.3-9.2.3 5.7.3-6.7.3 9.6.3-3.4.3 4 .3-10 .3 2 .3-2.7.3-7.1.3 6.2.3 6.6.3-5 .3 4.1.3-2.8.3 4.7.3 1.8.3.4.3.4.3-4.4.3 3.1.3-4 .3-2.4.3-1.9.3 4.8.3 1.4.3 5.8.3-8.8.3 7.9.3-12.4.3 6.4.3 9.9.3-11.1.3-2.3.3-.2.3 13.5.3-4 .3-7.7.3.1.3-8.6.3 9.8.3 7.1.3-14.5.3 17.3.3-6.7.3 3.7.3-9.3.3 3.8.3 4.7.3-3.6.3.8.3-4.4.3.7.3-1.8.3 2.6.3-.2.3-.9.3-7.8.3 2.6.3 5.6.3 5.1.3-8.7.3 1.6.3 2 .3 4.5.3 3.3.3-6 .3-1.4.3-3.7.3 5.3.3-3 .3 1.6.3-9.3.3 13.1.3-6.2.3-5.1.3 7 .3-4.9.3 7.1.3 3.4.3-3.1.3-3.2.3-2.7.3 1.6.3 11.5.3-4.7.3-8.7.3.1.3 5.8.3-1.5.3-.2.3 2.4.3-7.2.3.8.3 7.2.3-3 .3-2.5.3.7.3 3.4.3.1.3-5.1.3-2 .3 8.1.3-8.3.3 13.7.3-13.1.3 2.5.3 6.8.3 1.1.3-5.6.3-11.4.3 10.8.3-8.1.3 6.7.3 5.9.3-.6.3-2.9.3.3.3 1.8.3-4.1.3.2.3 6.5.3-3 .3 2.9.3-3.5.3-.4.3 2.1.3-.7.3 4.3.3-4.7.3-4.3.3.6.3-2.2.3 4.6.3-4.2.3-9.1.3 14.9.3 3.9.3-13.4.3 10.5.3-3.2.3-5.2.3 1.3.3 1.8.3 10.4.3-8.4.3 5.6.3-9 .3 6.8.3-1 .3-5.9.3.4.3 4.3.3-8.5.3 6.8.3-11.8.3 12 .3 1.8.3 1 .3-1.3.3-3.9.3-.3.3-1.4.3.8.3.8.3-.6.3 3 .3-3.5.3-3.6"/>
<text x="129.1" y="1590.6" font-family="'Liberation Sans',Arial,sans-serif" font-weight="bold" font-size="16.38" textLength="40.9" lengthAdjust="spacingAndGlyphs" fill="#000">(006)</text>
<text x="197.4" y="1505.4" font-family="'Liberation Sans',Arial,sans-serif" font-weight="bold" font-size="16.60" textLength="40.7" lengthAdjust="spacingAndGlyphs" fill="#000">(110)</text>
<text x="288.9" y="1512.1" font-family="'Liberation Sans',Arial,sans-serif" font-weight="bold" font-size="17.13" textLength="39.2" lengthAdjust="spacingAndGlyphs" fill="#000">(203)</text>
<text x="328.4" y="1548.7" font-family="'Liberation Sans',Arial,sans-serif" font-weight="bold" font-size="17.23" textLength="40.5" lengthAdjust="spacingAndGlyphs" fill="#000">(205)</text>
<text x="486.9" y="1541" font-family="'Liberation Sans',Arial,sans-serif" font-weight="bold" font-size="16.81" textLength="39.2" lengthAdjust="spacingAndGlyphs" fill="#000">(300)</text>
<text x="544.9" y="1529.8" font-family="'Liberation Sans',Arial,sans-serif" font-weight="bold" font-size="17.77" textLength="39.9" lengthAdjust="spacingAndGlyphs" fill="#000">(217)</text>
<text x="603.3" y="1529.9" font-family="'Liberation Sans',Arial,sans-serif" font-weight="bold" font-size="17.02" textLength="54.2" lengthAdjust="spacingAndGlyphs" fill="#000">(20 11)</text>
<text x="644.2" y="1585.9" font-family="'Liberation Sans',Arial,sans-serif" font-weight="bold" font-size="17.13" textLength="39.9" lengthAdjust="spacingAndGlyphs" fill="#000">(220)</text>
<text x="709.2" y="1580.5" font-family="'Liberation Sans',Arial,sans-serif" font-weight="bold" font-size="16.91" textLength="40.2" lengthAdjust="spacingAndGlyphs" fill="#000">(317)</text>
<text x="250.7" y="1387" font-family="'Liberation Sans',Arial,sans-serif" font-weight="bold" font-size="15.85" textLength="40.8" lengthAdjust="spacingAndGlyphs" fill="#000">(114)</text>
<text x="226.6" y="1418.2" font-family="'Liberation Sans',Arial,sans-serif" font-weight="bold" font-size="16.70" textLength="40.4" lengthAdjust="spacingAndGlyphs" fill="#000">(107)</text>
<text x="114.3" y="1369.6" font-family="'Liberation Sans',Arial,sans-serif" font-weight="bold" font-size="19.57" textLength="25.9" lengthAdjust="spacingAndGlyphs" fill="#000">(c)</text>
<text x="114.2" y="1400.6" font-family="'Liberation Sans',Arial,sans-serif" font-weight="bold" font-size="20.11" textLength="82.2" lengthAdjust="spacingAndGlyphs" fill="#000">(x=0.00)</text>
<text x="321.7" y="1399.6" font-family="'Liberation Sans',Arial,sans-serif" font-weight="bold" font-size="17.86" textLength="160.9" lengthAdjust="spacingAndGlyphs">Sr<tspan dy="8.9">1-x</tspan><tspan dy="-8.9">Ni</tspan><tspan dy="8.9">x</tspan><tspan dy="-8.9">Fe</tspan><tspan dy="8.9">12</tspan><tspan dy="-8.9">O</tspan><tspan dy="8.9">19</tspan></text>
<text x="80.2" y="1841.1" font-family="'Liberation Sans',Arial,sans-serif" font-weight="bold" font-size="16.34" textLength="10.9" lengthAdjust="spacingAndGlyphs" fill="#000">0</text>
<text x="48.2" y="1780.1" font-family="'Liberation Sans',Arial,sans-serif" font-weight="bold" font-size="16.34" textLength="42.9" lengthAdjust="spacingAndGlyphs" fill="#000">1000</text>
<text x="48.8" y="1719" font-family="'Liberation Sans',Arial,sans-serif" font-weight="bold" font-size="16.34" textLength="42.3" lengthAdjust="spacingAndGlyphs" fill="#000">2000</text>
<text x="49" y="1657.9" font-family="'Liberation Sans',Arial,sans-serif" font-weight="bold" font-size="16.34" textLength="42.1" lengthAdjust="spacingAndGlyphs" fill="#000">3000</text>
<text x="49.2" y="1596.8" font-family="'Liberation Sans',Arial,sans-serif" font-weight="bold" font-size="16.34" textLength="41.9" lengthAdjust="spacingAndGlyphs" fill="#000">4000</text>
<text x="48.8" y="1535.8" font-family="'Liberation Sans',Arial,sans-serif" font-weight="bold" font-size="16.34" textLength="42.3" lengthAdjust="spacingAndGlyphs" fill="#000">5000</text>
<text x="48.8" y="1474.7" font-family="'Liberation Sans',Arial,sans-serif" font-weight="bold" font-size="16.34" textLength="42.3" lengthAdjust="spacingAndGlyphs" fill="#000">6000</text>
<text x="48.6" y="1413.6" font-family="'Liberation Sans',Arial,sans-serif" font-weight="bold" font-size="16.34" textLength="42.5" lengthAdjust="spacingAndGlyphs" fill="#000">7000</text>
<text x="48.8" y="1352.5" font-family="'Liberation Sans',Arial,sans-serif" font-weight="bold" font-size="16.34" textLength="42.3" lengthAdjust="spacingAndGlyphs" fill="#000">8000</text>
<text x="99.1" y="1898.8" font-family="'Liberation Sans',Arial,sans-serif" font-weight="bold" font-size="17.89" textLength="20.0" lengthAdjust="spacingAndGlyphs" fill="#000">20</text>
<text x="216.5" y="1898.8" font-family="'Liberation Sans',Arial,sans-serif" font-weight="bold" font-size="17.89" textLength="19.8" lengthAdjust="spacingAndGlyphs" fill="#000">30</text>
<text x="333.9" y="1898.8" font-family="'Liberation Sans',Arial,sans-serif" font-weight="bold" font-size="17.89" textLength="19.6" lengthAdjust="spacingAndGlyphs" fill="#000">40</text>
<text x="450.8" y="1898.8" font-family="'Liberation Sans',Arial,sans-serif" font-weight="bold" font-size="17.89" textLength="20.0" lengthAdjust="spacingAndGlyphs" fill="#000">50</text>
<text x="568" y="1898.8" font-family="'Liberation Sans',Arial,sans-serif" font-weight="bold" font-size="17.89" textLength="20.0" lengthAdjust="spacingAndGlyphs" fill="#000">60</text>
<text x="685" y="1898.8" font-family="'Liberation Sans',Arial,sans-serif" font-weight="bold" font-size="17.89" textLength="20.2" lengthAdjust="spacingAndGlyphs" fill="#000">70</text>
<text x="802.5" y="1898.8" font-family="'Liberation Sans',Arial,sans-serif" font-weight="bold" font-size="17.89" textLength="20.0" lengthAdjust="spacingAndGlyphs" fill="#000">80</text>
<text x="447.4" y="1941.9" font-family="'Liberation Sans',Arial,sans-serif" font-weight="bold" font-size="23.86" textLength="14.2" lengthAdjust="spacingAndGlyphs" fill="#000">2</text><text x="461.4" y="1941.7" font-family="'Liberation Serif','Times New Roman',serif" font-weight="normal" font-size="21.17" textLength="14.7" lengthAdjust="spacingAndGlyphs" fill="#000">θ</text>
<text transform="translate(20.8,1711.6) rotate(-90)" font-family="'Liberation Sans',Arial,sans-serif" font-weight="bold" font-size="24.00" textLength="174.6" lengthAdjust="spacingAndGlyphs">Intensity (a.u)</text>
<rect x="569.8" y="1359.7" width="238.5" height="121.1" fill="#fff" stroke="#000" stroke-width="1.8"/>
<rect x="574" y="1361.5" width="54.9" height="27.3" fill="none" stroke="#00c000" stroke-width="1.4"/>
<path stroke="#ff00ff" stroke-width="1.3" d="M574 1375.3H628.5"/>
<path stroke="#0000ff" stroke-width="1.6" d="M602.8 1369.3v12"/>
<path stroke="#3a3aff" stroke-width="1.5" d="M574 1405.4H628.5"/>
<path stroke="#ff3030" stroke-width="1.6" d="M574 1435.9H628.5"/>
<ellipse cx="600.2" cy="1435.9" rx="1.6" ry="2.2" fill="#ff0000"/>
<path stroke="#222" stroke-width="1.4" d="M574 1466.7H628.5"/>
<circle cx="600.2" cy="1466.7" r="1.8" fill="#fff" stroke="#222" stroke-width="0.9"/>
<text x="634.9" y="1383.9" font-family="'Liberation Sans',Arial,sans-serif" font-weight="normal" font-size="24.86" textLength="170.4" lengthAdjust="spacingAndGlyphs" fill="#000">Braggs position</text>
<text x="636.4" y="1413.9" font-family="'Liberation Sans',Arial,sans-serif" font-weight="normal" font-size="24.86" textLength="118.6" lengthAdjust="spacingAndGlyphs" fill="#000">Yobs- Ycal</text>
<text x="636.4" y="1444.2" font-family="'Liberation Sans',Arial,sans-serif" font-weight="normal" font-size="24.86" textLength="50.6" lengthAdjust="spacingAndGlyphs" fill="#000">Ycal</text>
<text x="636.4" y="1474.8" font-family="'Liberation Sans',Arial,sans-serif" font-weight="normal" font-size="24.86" textLength="56.3" lengthAdjust="spacingAndGlyphs" fill="#000">Yobs</text>
<path fill="none" stroke="#000" stroke-width="2.0" d="M993.6 557.5H1002.6M998.1 528.7H1002.6M993.6 499.9H1002.6M998.1 471.1H1002.6M993.6 442.3H1002.6M998.1 413.5H1002.6M993.6 384.7H1002.6M998.1 355.9H1002.6M993.6 327.1H1002.6M998.1 298.4H1002.6M993.6 269.6H1002.6M998.1 240.8H1002.6M993.6 212H1002.6M998.1 183.2H1002.6M993.6 154.4H1002.6M998.1 125.6H1002.6M993.6 96.8H1002.6M998.1 68H1002.6M993.6 39.2H1002.6M1002.6 557.8V568.8M1061.2 557.8V563.8M1119.9 557.8V568.8M1178.5 557.8V563.8M1237.1 557.8V568.8M1295.8 557.8V563.8M1354.4 557.8V568.8M1413 557.8V563.8M1471.7 557.8V568.8M1530.3 557.8V563.8M1588.9 557.8V568.8M1647.6 557.8V563.8M1706.2 557.8V568.8M1002.6 39.2V50.2M1073 39.2V45.2M1143.3 39.2V50.2M1213.7 39.2V45.2M1284 39.2V50.2M1354.4 39.2V45.2M1424.8 39.2V50.2M1495.1 39.2V45.2M1565.5 39.2V50.2M1635.8 39.2V45.2M1706.2 39.2V50.2M1696.2 39.2H1706.2M1701.2 91.1H1706.2M1696.2 142.9H1706.2M1701.2 194.8H1706.2M1696.2 246.6H1706.2M1701.2 298.5H1706.2M1696.2 350.4H1706.2M1701.2 402.2H1706.2M1696.2 454.1H1706.2M1701.2 505.9H1706.2M1696.2 557.8H1706.2"/>
<path fill="none" stroke="#000" stroke-width="2.5" stroke-linecap="square" d="M1002.6 39.2H1706.2V557.8H1002.6Z"/>
<clipPath id="cb2"><rect x="1002.6" y="354" width="703.6" height="12"/></clipPath>
<clipPath id="rcb2"><rect x="1002.6" y="343.2" width="703.6" height="16"/></clipPath>
<path fill="none" stroke="#000" stroke-width="1.1" stroke-linejoin="round" d="M1003.1 357.3l.5-.2.5-1.3.5 1.2.5.7.5 1.1.5-.5.5-.4.5-.2.5.1.5-.3.5.2.5-.9.5.4.5.1.5.6.5-.5.5.1.5-.7.5.7.5.1.5.6.5-.3.5-.6.5.3.5.8.5-.3.5-1.3.5-1.8.5 1.3.5.9.5 1.3.5-.1.5.1.5-.4.5-.5.5.4.5-.7.5-.2.5-.3.5 1.5.5-.2.5-.7.5-1.1.5.8.5.4.5 1 .5-1.4.5.6.5-.1.5.2.5-.5.5.1.5.7.5.5.5.5.5.1.5-.7.5-1.6.5.2.5 0 .5.2.5-.4.5.3.5-.7.5-1.4.5-3.8.5-4.2.5-7.1.5-3.3.5 1.2.5 5.6.5 5.9.5 4.3.5 1.9.5 0 .5 1.2.5 1 .5.7.5-1 .5-.5.5.3.5.1.5 0 .5-.5.5-.4.5.5.5.6.5.1.5.6.5-.9.5.5.5-1.1.5.2.5-.1.5.2.5-.2.5-.4.5-.1.5-.5.5.2.5.6.5 1.3.5.4.5 1.1.5-.3.5-.6.5-.3.5-.6.5.7.5-1.4.5.7.5-1.5.5.9.5-.2.5.5.5.3.5.5.5.5.5-1.2.5-.4.5-.1.5.7.5.4.5-.2.5-.6.5-.7.5-.3.5-.1.5.3.5 1 .5.9.5-.3.5-.1.5-.9.5 1.5.5-.3.5.4.5-1.5.5-.4.5-.1.5.3.5.6.5-.9.5.5.5-.6.5 1.6.5-.5.5 1 .5-1.5.5.3.5-1 .5.5.5-.2.5.3.5.3.5.4.5.5.5-.2.5-1 .5-.8.5 0 .5-.4.5.8.5-.1.5 1 .5.1.5.4.5.3.5-1 .5-.2.5.1.5 0 .5.4.5.1.5-.6.5-.5.5-.8.5 1.5.5.3.5.1.5-1 .5-.4.5.4.5 1.2.5.3.5-.1.5-.5.5-1.6.5-.5.5-1.7.5-2.6.5-3.9.5-.4.5 3.4.5 3.6.5 1.6.5 1.1.5-.5.5 1 .5-1 .5 1.5.5-.7.5 1 .5-.3.5-.4.5-1.7.5-.3.5 1.5.5 1.1.5.2.5-.8.5.3.5.2.5.2.5-.9.5.4.5.6.5-.2.5.5.5-.3.5.4.5-2.1.5-.1.5.5.5.7.5-1.3.5.2.5 0 .5.6.5.8.5 1.2.5.6.5-1.8.5-.9.5-1.9.5-.2.5-1.4.5-1.1.5-6.2.5-14.8.5-29.6.5-33.3.5-9.5.5 18.4.5 28.7.5 24.1.5 14.8.5 7.1.5 2.9.5 1.2.5-.5.5.1.5-.5.5.1.5 1.3.5.9.5.3.5-1.3.5-.4.5-.3.5.6.5-.6.5.5.5-.7.5.3.5-.5.5-.3.5-.2.5.2.5.6.5.5.5 1 .5.4.5-.3.5-.6.5-1 .5.5.5-.6.5-1 .5-1.3.5-2 .5-6.9.5-20.5.5-46.6.5-65.9.5-41.5.5 18.3.5 51.8.5 53.8.5 36.9.5 16 .5 6.4.5.8.5 1.3.5-.5.5-.6.5-.2.5 1.2.5 1.9.5.8.5 0 .5-1.1.5.5.5.5.5.2.5-.8.5-1.1.5 1 .5.2.5.4.5-.5.5 0 .5-.2.5-.9.5-.9.5-.7.5.7.5 1.7.5-.2.5-.3.5-1.1.5 0 .5-.4.5-1.3.5.3.5-1.8.5-2.5.5-10.1.5-29.1.5-61.7.5-75.1.5-28.6.5 35.6.5 61.8.5 55.3.5 33.8.5 14.8.5 5.6.5 2.8.5.4.5.1.5-1.3.5 1 .5.7.5 1.4.5-.2.5.8.5.2.5-.6.5-.9.5-.9.5-3 .5-6.1.5-10.5.5-7.2.5.3.5 6.9.5 7.3.5 5.3.5.9.5-1 .5-3.3.5-3.1.5-2.6.5-2.1.5.7.5.6.5 3 .5 3.2.5 4.3.5 3.9.5.9.5 1.1.5.5.5 1.8.5.1.5.3.5-1 .5 0 .5-.5.5.9.5-.4.5-.2.5 0 .5 1.3.5.6.5-.2.5-1.1.5.3.5 0 .5.9.5-.6.5-1 .5-1.6.5-1.4.5-2 .5-5.2.5-16.1.5-30.9.5-30.6.5-4.2.5 20.8.5 27.8.5 22.6.5 12.5.5 3.8.5 1.7.5 1.2.5.1.5.5.5.4.5 1.2.5-.1.5-.4.5-.1.5-.2.5.9.5-.3.5.3.5-.5.5.4.5-.4.5-.7.5-.1.5.2.5.9.5 0 .5 1.5.5-.4.5.5.5-1.6.5.1.5.6.5-.2.5.9.5-.1.5-.2.5-.2.5-.9.5 1.9.5-.7.5-.1.5-2.4.5-.4.5.2.5.4.5 0 .5 0 .5.4.5 1.3.5-.5.5-.2.5-1.2.5.1.5-.4.5.1.5 1.1.5.5.5.2.5-.1.5.2.5.1.5-.1.5-.6.5.4.5-.1.5.1.5-1 .5.4.5 0 .5 1.7.5-2 .5-2.7.5-10.7.5-17.5.5-21.3.5-7.4.5 10.6.5 17.5.5 16.4.5 9.7.5 4.4.5 1.7.5.4.5-.4.5-.8.5-.4.5 0 .5 1 .5.2.5-.3.5 0 .5-.2.5.3.5-.4.5.6.5-.8.5-.4.5-.2.5 1 .5.2.5-.4.5.9.5.2.5.6.5-.3.5 0 .5-.1.5-.7.5-.1.5-.8.5.7.5 0 .5.3.5-1.1.5 1 .5.5.5.3.5-1.5.5-2 .5-2.4.5-6.9.5-13.9.5-14.3.5-2.6.5 9.3.5 12.3.5 10.3.5 6.5.5 2.7.5.2.5 1 .5.4.5 1.6.5 0 .5-.2.5-.4.5-.2.5.5.5-.2.5-.7.5-.3.5-.3.5 0 .5-1 .5.4.5-.2.5.7.5 0 .5.7.5 1.2.5.1.5-.8.5-.9.5-.4.5.9.5-.4.5-.1.5-.4.5 0 .5-.5.5-.1.5.3.5 1.5.5.2.5-.2.5-.3.5.4.5 1 .5 0 .5-.3.5-.1.5.5.5-.3.5-.5.5-1.6.5 0 .5-.5.5.7.5 0 .5.3.5.1.5.5.5.2.5-.3.5-.9.5.5.5 1 .5.5.5-.4.5-1.5.5-.5.5-.4.5 1.5.5.2.5-.3.5.1.5-.4.5.7.5-.5.5.8.5-.2.5 1 .5-.4.5-.3.5-1.4.5.2.5-.5.5.9.5.4.5-.2.5-1.2.5.1.5 1.1.5-.5.5-.3.5-.2.5.5.5-1.1.5-4.3.5-4.1.5-3.5.5 2.8.5 4.2.5 3.8.5 1.2.5.4.5.4.5.6.5-.9.5 1 .5 0 .5-.1.5-1.1.5-.3.5.8.5 0 .5.1.5.2.5-.1.5.9.5.3.5.1.5-.6.5-.6.5.7.5.3.5 0 .5-.5.5.2.5.2.5-.3.5-.4.5-.3.5 0 .5.3.5.2.5.4.5-.4.5-.7.5.9.5.8.5-.2.5-1.3.5.5.5 1.3.5.5.5-.4.5-1.5.5 0 .5-.2.5-.2.5-.4.5 0 .5 1.5.5.1.5-.3.5.3.5.1.5-.9.5-.8.5 0 .5 1.3.5.1.5-.2.5.5.5-.3.5.6.5-.9.5.7.5-.2.5-.1.5-.4.5-.8.5-.5.5-.1.5.5.5 0 .5-.4.5.3.5 0 .5-1.8.5-2.1.5-3 .5-2.4.5-2 .5-1.9.5.1.5-.5.5 1.9.5 2.6.5 2.7.5 1.9.5 1.2.5 1.4.5.4.5.7.5.1.5.8.5.5.5.6.5.5.5 1 .5-1.2.5-.6.5-1.6.5.9.5-.7.5.3.5.2.5.3.5-.1.5-.2.5-.8.5.6.5.2.5.7.5-.4.5-.2.5-.6.5.3.5-.5.5 1 .5-.4.5 1.5.5.7.5.1.5-1.1.5-.8.5.5.5 1.2.5.5.5-.9.5-.3.5-.5.5.1.5-.6.5.5.5.3.5.6.5.4.5.1.5-1.7.5-1.5.5-.1.5 1.1.5 1.9.5-.1.5 0 .5-.6.5.5.5-.1.5-.2.5-1.1.5-.4.5.4.5-.1.5.9.5-.3.5 1.1.5-.1.5 0 .5-1.5.5-1 .5-.6.5 1.4.5-.1.5-.3.5-1.2.5-.5.5-4.5.5-6.6.5-4.5.5 1.1.5 5.4.5 4.4.5 3.7.5 1.2.5.3.5 1.1.5.4.5 1.3.5-.1.5-.2.5-1 .5-.1.5.4.5-.7.5.2.5-.9.5.8.5-.5.5.2.5-.9.5-2.5.5-5 .5-9.1.5-13.8.5-16.7.5-13 .5-3.2.5 7.8.5 13.5.5 15.3.5 11 .5 8.6.5 3.6.5 3.4.5 2 .5.7.5.3.5-1.2.5.1.5-1.1.5.2.5 1 .5.6.5-1.1.5-1.3.5-.3.5 1.3.5.5.5.1.5-.3.5-.6.5-.7.5-1.8.5-2.9.5-4.2.5-8 .5-12 .5-19 .5-20.4.5-15.3.5-3.2.5 9.6.5 15.9.5 19.1.5 15.5.5 12.4.5 6.8.5 4.5.5 2.3.5 1.6.5-.7.5.3.5.1.5.6.5-.8.5-.1.5.8.5.3.5-.8.5-.3.5-.3.5.3.5-4.4.5-3.1.5-1.7.5 3 .5 3.2.5 2.4.5 2.3.5-.4.5.3.5-.9.5-.4.5-.1.5.2.5 1.1.5.8.5.3.5-.3.5-.5.5-.7.5.1.5-.1.5.8.5-.6.5-1 .5-.1.5.7.5 1.7.5.6.5.6.5-.5.5.1.5-.9.5.2.5-.2.5 1.5.5-.2.5-1.1.5-.7.5-.5.5.6.5-.8.5-.1.5.7.5.5.5.1.5-.6.5-.5.5.6.5-.3.5-.2.5-.6.5-.1.5.4.5-.4.5-.8.5-2.2.5-2.2.5-2.8.5-1.4.5 1.3.5 2.7.5 4.1.5 2.3.5 1 .5-1.1.5-.6.5-.3.5 1.4.5.6.5-.6.5.3.5-1.4.5.5.5-.3.5 1.9.5-.3.5-1.1.5-.8.5.1.5 1.6.5-.7.5-.1.5-.2.5.4.5 1 .5-1.4.5.8.5-.8.5 1.1.5-1.3.5-.5.5-.5.5.6.5 1.5.5.3.5.3.5-.5.5 1.4.5-.8.5.3.5-1.6.5.5.5-.9.5.7.5-.8.5-.4.5-.7.5 0 .5 1 .5.6.5.2.5 0 .5-.8.5.3.5-.4.5 1.2.5 0 .5-.5.5-1.5.5.6.5-.5.5.1.5-.9.5-.6.5-.2.5.3.5.8.5-1.4.5-3.1.5-6.7.5-11.9.5-21.2.5-22.7.5-13.9.5 4.4.5 17 .5 21 .5 17.2.5 10.3.5 5.6.5 2.2.5 1.4.5.5.5 1.3.5 1.2.5-.1.5.1.5 0 .5.6.5-.9.5-1.4.5.5.5 1.3.5 1.2.5-.9.5.3.5.5.5.5.5-.8.5-1.6.5.4.5-.6.5 1.3.5 0 .5.8.5.5.5-.5.5.2.5-.3.5.2.5-.5.5.3.5 0 .5.2.5-.7.5-.2.5 1.2.5.2.5-.2.5-1.7.5-.7.5-.8.5.6.5.6.5.3.5-1.1.5-1 .5-1.9.5-3.6.5-2.8.5.5.5 3.2.5 3.4.5 1.9.5 2 .5-.5.5.8.5-.3.5.4.5-.1.5-.9.5-.6.5-.3.5.3.5 1.1.5.1.5.7.5-.2.5.1.5-.2.5-.4.5-.3.5.9.5-.7.5.2.5-.5.5 1 .5.8.5-.2.5-.9.5-.9.5-1 .5 1.1.5.8.5.4.5-.3.5-1.2.5-1.3.5-2.9.5-6.2.5-8 .5-5.2.5 3.3.5 7.3.5 6.5.5 4.3.5 1.7.5 1.2.5-1.2.5-.5.5.2.5.9.5.6.5 0 .5-.3.5-.2.5-.3.5.9.5-.6.5 0 .5-.2.5 1.1.5.1.5 0 .5-.3.5-.6.5-.1.5-.8.5.2.5.7.5.9.5.1.5-.7.5-.3.5.3.5-.4.5 1.3.5-.4.5 1.8.5-.4.5-.2.5-.7.5-.5.5.4.5.1.5-.4.5-.6.5-.6.5-.4.5.2.5.3.5.8.5.2.5-.3.5.3.5-1.1.5 0 .5-.6.5 1.5.5.5.5.6.5-.5.5.2.5-1 .5.1.5-1.6.5 1.4.5.7.5.8.5-1.3.5-1.8.5-.5.5.5.5 1 .5 0 .5-.3.5-.3.5 1 .5.6.5.2.5-.2.5-.3.5-1 .5.1.5-.1.5 1.5.5-1.1.5.5.5-.7.5 1 .5.2.5-.4.5-.8.5-.1.5.1.5.2.5-.2.5.4.5.9.5-.2.5 0 .5 0 .5.5.5-1.4.5-2.7.5-4.5.5-1.9.5.9.5 2.1.5 2.7.5 1.8.5 1.3.5 1.3.5-.8.5-.1.5-.9.5.5.5.6.5-.4.5.2.5-1.9.5-2.7.5-7 .5-9.7.5-5.1.5 2.8.5 7.7.5 7.3.5 4.1.5 2 .5 1.1.5 1.2.5-.2.5.5.5.3.5.1.5-1 .5 0 .5-.2.5.2.5-.3.5.8.5.4.5.2.5-.3.5-.2.5.8.5-.3.5 0 .5-.9.5.3.5.9.5-.1.5.7.5-1.9.5.6.5.1.5.9.5 0 .5-.6.5.2.5-1.4.5-3 .5-3.6.5-1 .5 1.4.5 2.7.5 1.5.5 1.3.5 1.4.5 1 .5-.1.5 0 .5-1.2.5.1.5-.6.5 1.5.5.6.5.3.5.1.5 0 .5.4.5-1 .5-1.2.5-1 .5.8.5.9.5.4.5-.9.5-2.1.5-4.1.5-4.9.5-.3.5 1.8.5 4.1.5 1.8.5 2.4.5 0 .5 1.6.5-.8.5 1 .5-.8.5.3.5.5.5-.1.5 1.2.5-1.2.5-.1.5-1.8.5.8.5.9.5 1.1.5-.4.5-.9.5 1.1.5.4.5-.4.5-1.3.5-1.7.5 1.7.5 1.1.5 2.1.5-.8.5-1.3.5-1.5.5.3.5-.1.5.6.5-.6.5.2.5.6.5 1.2.5.2.5-.5.5-1.4.5-.8.5-.6.5.6.5-.4.5-1.4.5-3.1.5-1.5.5.3.5 2 .5 1.7.5 2.9.5.9.5.7.5.1.5-.3.5.5.5-1.1.5.4.5-.4.5.3.5.5.5-.4.5-1.4.5 0 .5.7.5 1.6.5-.8.5.6.5.5.5-.4.5-.5.5-1.2.5-.3.5-.5.5.6.5.1.5-.6.5 0 .5-.3.5-1.3.5-4.1.5-2 .5.9.5 2.9.5 2.8.5 2.2.5.6.5-.6.5-1.1.5-.1.5 1.4.5.1.5-.1.5-.7.5 0 .5-.2.5-.1.5.9.5.6.5 0 .5-.3.5-.9.5.7.5-.2"/>
<path fill="none" stroke="none" stroke-width="0" stroke-linejoin="round" d="M1003.1 357.3l1-1.5 3 1.9 3-.4 3 .3 3 .5 1-3.1 2 3.4 3-1.3 3.5.4 3-.2 3 1.2.5-1.6 3-.4 1-5.2.5-4.2.5-7.1.5-3.3 1 6.8.5 5.9.5 4.3 2 4.1 3-.4 3 .9 1.5-1.5 3-.4 3 3.1 2-1.8 2-1.5 3 2.5 1.5-1.7 3-.7 3 1.7 3-1.2 3-.2 1 1.1 2-1.2 3 1.8 2.5-2.4 3 2.5 1-1.2 3-.5 3-.3 3-.3 1.5-4.8 1-4.3 1 7 1.5 2.2 3 1.5 1.5-2.4 2 2 3 .8 3-1.8 3 .7 3-2 2-8.9.5-14.8.5-29.6.5-33.3.5-9.5.5 18.4.5 28.7.5 24.1.5 14.8.5 7.1 1 4.1 3 1.4 2-1.7 3-.4 3 1.8 2-1.5 2.5-4.4.5-6.9.5-20.5.5-46.6.5-65.9.5-41.5.5 18.3.5 51.8.5 53.8.5 36.9.5 16 .5 6.4 3 2 2 1.6 3 .3 3-1 1-1.6 3 .8 1-1.7 2-14.1.5-29.1.5-61.7.5-75.1.5-28.6.5 35.6.5 61.8.5 55.3.5 33.8.5 14.8.5 5.6 2 2 2 2.9 3-4.4.5-6.1.5-10.5.5-7.2 1 7.2.5 7.3.5 5.3 2-6.5 1-4.7 1.5 4.3 1 7.5 1 4.8 3 2.8 3-.2 3 .9 3-5.7.5-5.2.5-16.1.5-30.9.5-30.6.5-4.2.5 20.8.5 27.8.5 22.6.5 12.5 1 5.5 3 3.3 3 .2 2.5-1.3 1.5 1.1 1 1.1 1-1.1 3 1.1 1-1.1 2.5-1.7 3 2.3 1.5-1.9 3 1.6 3-.1 3 1.1 1-4.7.5-10.7.5-17.5.5-21.3.5-7.4.5 10.6.5 17.5.5 16.4.5 9.7.5 4.4 3 .5 3 1 2.5-1.2 3 2.5 3-2 3 1.4 2-5.6.5-6.9.5-13.9.5-14.3.5-2.6.5 9.3.5 12.3.5 10.3.5 6.5 2 4.3 3 1.3 2-1.5 3-.1 3-.1 3-.5 3 1.4 3 1.5 1.5-2.4 3 .6 3 1 2.5-2.3 1.5 1.4 3 .5 2-1.1 3-.4 3 .7 1-5.4.5-4.1.5-3.5 1 7 1 5 3 1.5 1.5-1.5 3 1.9 3 .2 3-.8 3 .2 3 0 3-.3 3 .7 2.5-1.3 1.5 1.2 3 .4 2.5-1.9 3-1.4 1-5.1 1-4.4.5-1.9 2 4.1 1 4.6 3 4.6 3 .8.5-1.6 3 .9 1-1 3 .3 3 2.6 1.5-1.8 3 .5 3 1.3 2-3.2 2.5 2.3 2.5-1.3 3 1.9 2-3.1 3-5.2.5-6.6.5-4.5 1 6.5.5 4.4 1 4.9 3 2.8 1-1.1 2-1 3-7.9.5-9.1.5-13.8.5-16.7.5-13 .5-3.2.5 7.8.5 13.5.5 15.3.5 11 .5 8.6 1 7 2 1.8 3-.3 1-1.6 3 .3 1-4.7.5-4.2.5-8 .5-12 .5-19 .5-20.4.5-15.3.5-3.2.5 9.6.5 15.9.5 19.1.5 15.5.5 12.4.5 6.8.5 4.5 1.5 3.2 3 .9 2-1.1 1-4.1 1-4.8 1 6.2 1 4.7 2.5-1.5 3 1.6 3-1.5 3 3 3 .5 1.5-2.3 3 1 1-1.1 3-.2 2-5.6 1-4.2 1 4 .5 4.1 2.5 1.3 1.5 1.4 1-1.1 3-.1 3 1.1 3-.6 1-1 2.5 2.2 3-1.1 2-1.2 3 1 3-.9 3-1.5 2.5-10.1.5-11.9.5-21.2.5-22.7.5-13.9.5 4.4.5 17 .5 21 .5 17.2.5 10.3.5 5.6 1.5 4.1 1.5 2.4 2.5-1.6 2 2.1 2.5-1.1 2 1.1 3 .9 3-.9 3-2 3-2.5 1-6.4 1.5 7.1 1.5 3.4 3-.7 3 1.7 3-.6 3 .4 1-1.9 3-.5 1-9.1.5-8 .5-5.2 1 10.6.5 6.5.5 4.3 2 1.2 3 1.2 3 .9 3-1.7 3 .9 3 2.2 1.5-1.4 3-1.5 2.5 1.2 2-1.4 2 2.1 2-2.3 3-.7 3 1.9 3-.6 3 1.1 2-1.1 3 1.2 3-8.1.5-1.9 1.5 5.7 1.5 4.4 1.5-1.8 3-3.7.5-7 .5-9.7.5-5.1 1 10.5.5 7.3.5 4.1 1.5 4.3 3-.3 3 1.1 3-.9 1.5 1.1 1-1.2 3 1.2 1-4.4 1-4.6 1 4.1 1.5 4.2 3-.8 2.5 2.5 2-2.8 3-5 .5-4.9 1.5 5.6 1 4.2 3 1.3 3-1.5 2.5 1.5 2.5-1.9 1.5 4.9 1.5-3.6 3 1 3-1.9 2-4.3.5-1.5 2 6.9 2 1.4 3 .2 1.5-1.8 1.5 1.5 3-1.3 3-.7 1-5.4.5-2 1.5 6.6 2.5 1 3 .5 3 .2 1 .5" marker-mid="url(#mo)"/>
<path fill="none" stroke="#000" stroke-width="3.0" stroke-linejoin="round" d="M1003.1 357.7l.5-.2.5-1.3.5 1.2.5.7.5 1.1.5-.5.5-.4.5-.2.5.1.5-.3.5.2.5-.9.5.4.5.1.5.6.5-.5.5.1.5-.7.5.7.5.1.5.6.5-.3.5-.6.5.3.5.8.5-.3.5-1.3.5-1.8.5 1.3.5.9.5 1.3.5-.1.5.1.5-.4.5-.5.5.4.5-.7.5-.2.5-.3.5 1.5.5-.2.5-.7.5-1.1.5.8.5.4.5 1 .5-1.4.5.6.5-.1.5.2.5-.5.5.1.5.7.5.5.5.5.5.1.5-.7.5-1.6.5.2.5 0 .5.2.5-.4.5.3.5-.7.5-1.4.5-3.8.5-4.2.5-7.1.5-3.3.5 1.2.5 5.6.5 5.9.5 4.3.5 1.9.5 0 .5 1.2.5 1 .5.7.5-1 .5-.5.5.3.5.1.5 0 .5-.5.5-.4.5.5.5.6.5.1.5.6.5-.9.5.5.5-1.1.5.2.5-.1.5.2.5-.2.5-.4.5-.1.5-.5.5.2.5.6.5 1.3.5.4.5 1.1.5-.3.5-.6.5-.3.5-.6.5.7.5-1.4.5.7.5-1.5.5.9.5-.2.5.5.5.3.5.5.5.5.5-1.2.5-.4.5-.1.5.7.5.4.5-.2.5-.6.5-.7.5-.3.5-.1.5.3.5 1 .5.9.5-.3.5-.1.5-.9.5 1.5.5-.3.5.4.5-1.5.5-.4.5-.1.5.3.5.6.5-.9.5.5.5-.6.5 1.6.5-.5.5 1 .5-1.5.5.3.5-1 .5.5.5-.2.5.3.5.3.5.4.5.5.5-.2.5-1 .5-.8.5 0 .5-.4.5.8.5-.1.5 1 .5.1.5.4.5.3.5-1 .5-.2.5.1.5 0 .5.4.5.1.5-.6.5-.5.5-.8.5 1.5.5.3.5.1.5-1 .5-.4.5.4.5 1.2.5.3.5-.1.5-.5.5-1.6.5-.5.5-1.7.5-2.6.5-3.9.5-.4.5 3.4.5 3.6.5 1.6.5 1.1.5-.5.5 1 .5-1 .5 1.5.5-.7.5 1 .5-.3.5-.4.5-1.7.5-.3.5 1.5.5 1.1.5.2.5-.8.5.3.5.2.5.2.5-.9.5.4.5.6.5-.2.5.5.5-.3.5.4.5-2.1.5-.1.5.5.5.7.5-1.3.5.2.5 0 .5.6.5.8.5 1.2.5.6.5-1.8.5-.9.5-1.9.5-.2.5-1.4.5-1.1.5-6.2.5-14.8.5-29.6.5-33.3.5-9.5.5 18.4.5 28.7.5 24.1.5 14.8.5 7.1.5 2.9.5 1.2.5-.5.5.1.5-.5.5.1.5 1.3.5.9.5.3.5-1.3.5-.4.5-.3.5.6.5-.6.5.5.5-.7.5.3.5-.5.5-.3.5-.2.5.2.5.6.5.5.5 1 .5.4.5-.3.5-.6.5-1 .5.5.5-.6.5-1 .5-1.3.5-2 .5-6.9.5-20.5.5-46.6.5-65.9.5-41.5.5 18.3.5 51.8.5 53.8.5 36.9.5 16 .5 6.4.5.8.5 1.3.5-.5.5-.6.5-.2.5 1.2.5 1.9.5.8.5 0 .5-1.1.5.5.5.5.5.2.5-.8.5-1.1.5 1 .5.2.5.4.5-.5.5 0 .5-.2.5-.9.5-.9.5-.7.5.7.5 1.7.5-.2.5-.3.5-1.1.5 0 .5-.4.5-1.3.5.3.5-1.8.5-2.5.5-10.1.5-29.1.5-61.7.5-75.1.5-28.6.5 35.6.5 61.8.5 55.3.5 33.8.5 14.8.5 5.6.5 2.8.5.4.5.1.5-1.3.5 1 .5.7.5 1.4.5-.2.5.8.5.2.5-.6.5-.9.5-.9.5-3 .5-6.1.5-10.5.5-7.2.5.3.5 6.9.5 7.3.5 5.3.5.9.5-1 .5-3.3.5-3.1.5-2.6.5-2.1.5.7.5.6.5 3 .5 3.2.5 4.3.5 3.9.5.9.5 1.1.5.5.5 1.8.5.1.5.3.5-1 .5 0 .5-.5.5.9.5-.4.5-.2.5 0 .5 1.3.5.6.5-.2.5-1.1.5.3.5 0 .5.9.5-.6.5-1 .5-1.6.5-1.4.5-2 .5-5.2.5-16.1.5-30.9.5-30.6.5-4.2.5 20.8.5 27.8.5 22.6.5 12.5.5 3.8.5 1.7.5 1.2.5.1.5.5.5.4.5 1.2.5-.1.5-.4.5-.1.5-.2.5.9.5-.3.5.3.5-.5.5.4.5-.4.5-.7.5-.1.5.2.5.9.5 0 .5 1.5.5-.4.5.5.5-1.6.5.1.5.6.5-.2.5.9.5-.1.5-.2.5-.2.5-.9.5 1.9.5-.7.5-.1.5-2.4.5-.4.5.2.5.4.5 0 .5 0 .5.4.5 1.3.5-.5.5-.2.5-1.2.5.1.5-.4.5.1.5 1.1.5.5.5.2.5-.1.5.2.5.1.5-.1.5-.6.5.4.5-.1.5.1.5-1 .5.4.5 0 .5 1.7.5-2 .5-2.7.5-10.7.5-17.5.5-21.3.5-7.4.5 10.6.5 17.5.5 16.4.5 9.7.5 4.4.5 1.7.5.4.5-.4.5-.8.5-.4.5 0 .5 1 .5.2.5-.3.5 0 .5-.2.5.3.5-.4.5.6.5-.8.5-.4.5-.2.5 1 .5.2.5-.4.5.9.5.2.5.6.5-.3.5 0 .5-.1.5-.7.5-.1.5-.8.5.7.5 0 .5.3.5-1.1.5 1 .5.5.5.3.5-1.5.5-2 .5-2.4.5-6.9.5-13.9.5-14.3.5-2.6.5 9.3.5 12.3.5 10.3.5 6.5.5 2.7.5.2.5 1 .5.4.5 1.6.5 0 .5-.2.5-.4.5-.2.5.5.5-.2.5-.7.5-.3.5-.3.5 0 .5-1 .5.4.5-.2.5.7.5 0 .5.7.5 1.2.5.1.5-.8.5-.9.5-.4.5.9.5-.4.5-.1.5-.4.5 0 .5-.5.5-.1.5.3.5 1.5.5.2.5-.2.5-.3.5.4.5 1 .5 0 .5-.3.5-.1.5.5.5-.3.5-.5.5-1.6.5 0 .5-.5.5.7.5 0 .5.3.5.1.5.5.5.2.5-.3.5-.9.5.5.5 1 .5.5.5-.4.5-1.5.5-.5.5-.4.5 1.5.5.2.5-.3.5.1.5-.4.5.7.5-.5.5.8.5-.2.5 1 .5-.4.5-.3.5-1.4.5.2.5-.5.5.9.5.4.5-.2.5-1.2.5.1.5 1.1.5-.5.5-.3.5-.2.5.5.5-1.1.5-4.3.5-4.1.5-3.5.5 2.8.5 4.2.5 3.8.5 1.2.5.4.5.4.5.6.5-.9.5 1 .5 0 .5-.1.5-1.1.5-.3.5.8.5 0 .5.1.5.2.5-.1.5.9.5.3.5.1.5-.6.5-.6.5.7.5.3.5 0 .5-.5.5.2.5.2.5-.3.5-.4.5-.3.5 0 .5.3.5.2.5.4.5-.4.5-.7.5.9.5.8.5-.2.5-1.3.5.5.5 1.3.5.5.5-.4.5-1.5.5 0 .5-.2.5-.2.5-.4.5 0 .5 1.5.5.1.5-.3.5.3.5.1.5-.9.5-.8.5 0 .5 1.3.5.1.5-.2.5.5.5-.3.5.6.5-.9.5.7.5-.2.5-.1.5-.4.5-.8.5-.5.5-.1.5.5.5 0 .5-.4.5.3.5 0 .5-1.8.5-2.1.5-3 .5-2.4.5-2 .5-1.9.5.1.5-.5.5 1.9.5 2.6.5 2.7.5 1.9.5 1.2.5 1.4.5.4.5.7.5.1.5.8.5.5.5.6.5.5.5 1 .5-1.2.5-.6.5-1.6.5.9.5-.7.5.3.5.2.5.3.5-.1.5-.2.5-.8.5.6.5.2.5.7.5-.4.5-.2.5-.6.5.3.5-.5.5 1 .5-.4.5 1.5.5.7.5.1.5-1.1.5-.8.5.5.5 1.2.5.5.5-.9.5-.3.5-.5.5.1.5-.6.5.5.5.3.5.6.5.4.5.1.5-1.7.5-1.5.5-.1.5 1.1.5 1.9.5-.1.5 0 .5-.6.5.5.5-.1.5-.2.5-1.1.5-.4.5.4.5-.1.5.9.5-.3.5 1.1.5-.1.5 0 .5-1.5.5-1 .5-.6.5 1.4.5-.1.5-.3.5-1.2.5-.5.5-4.5.5-6.6.5-4.5.5 1.1.5 5.4.5 4.4.5 3.7.5 1.2.5.3.5 1.1.5.4.5 1.3.5-.1.5-.2.5-1 .5-.1.5.4.5-.7.5.2.5-.9.5.8.5-.5.5.2.5-.9.5-2.5.5-5 .5-9.1.5-13.8.5-16.7.5-13 .5-3.2.5 7.8.5 13.5.5 15.3.5 11 .5 8.6.5 3.6.5 3.4.5 2 .5.7.5.3.5-1.2.5.1.5-1.1.5.2.5 1 .5.6.5-1.1.5-1.3.5-.3.5 1.3.5.5.5.1.5-.3.5-.6.5-.7.5-1.8.5-2.9.5-4.2.5-8 .5-12 .5-19 .5-20.4.5-15.3.5-3.2.5 9.6.5 15.9.5 19.1.5 15.5.5 12.4.5 6.8.5 4.5.5 2.3.5 1.6.5-.7.5.3.5.1.5.6.5-.8.5-.1.5.8.5.3.5-.8.5-.3.5-.3.5.3.5-4.4.5-3.1.5-1.7.5 3 .5 3.2.5 2.4.5 2.3.5-.4.5.3.5-.9.5-.4.5-.1.5.2.5 1.1.5.8.5.3.5-.3.5-.5.5-.7.5.1.5-.1.5.8.5-.6.5-1 .5-.1.5.7.5 1.7.5.6.5.6.5-.5.5.1.5-.9.5.2.5-.2.5 1.5.5-.2.5-1.1.5-.7.5-.5.5.6.5-.8.5-.1.5.7.5.5.5.1.5-.6.5-.5.5.6.5-.3.5-.2.5-.6.5-.1.5.4.5-.4.5-.8.5-2.2.5-2.2.5-2.8.5-1.4.5 1.3.5 2.7.5 4.1.5 2.3.5 1 .5-1.1.5-.6.5-.3.5 1.4.5.6.5-.6.5.3.5-1.4.5.5.5-.3.5 1.9.5-.3.5-1.1.5-.8.5.1.5 1.6.5-.7.5-.1.5-.2.5.4.5 1 .5-1.4.5.8.5-.8.5 1.1.5-1.3.5-.5.5-.5.5.6.5 1.5.5.3.5.3.5-.5.5 1.4.5-.8.5.3.5-1.6.5.5.5-.9.5.7.5-.8.5-.4.5-.7.5 0 .5 1 .5.6.5.2.5 0 .5-.8.5.3.5-.4.5 1.2.5 0 .5-.5.5-1.5.5.6.5-.5.5.1.5-.9.5-.6.5-.2.5.3.5.8.5-1.4.5-3.1.5-6.7.5-11.9.5-21.2.5-22.7.5-13.9.5 4.4.5 17 .5 21 .5 17.2.5 10.3.5 5.6.5 2.2.5 1.4.5.5.5 1.3.5 1.2.5-.1.5.1.5 0 .5.6.5-.9.5-1.4.5.5.5 1.3.5 1.2.5-.9.5.3.5.5.5.5.5-.8.5-1.6.5.4.5-.6.5 1.3.5 0 .5.8.5.5.5-.5.5.2.5-.3.5.2.5-.5.5.3.5 0 .5.2.5-.7.5-.2.5 1.2.5.2.5-.2.5-1.7.5-.7.5-.8.5.6.5.6.5.3.5-1.1.5-1 .5-1.9.5-3.6.5-2.8.5.5.5 3.2.5 3.4.5 1.9.5 2 .5-.5.5.8.5-.3.5.4.5-.1.5-.9.5-.6.5-.3.5.3.5 1.1.5.1.5.7.5-.2.5.1.5-.2.5-.4.5-.3.5.9.5-.7.5.2.5-.5.5 1 .5.8.5-.2.5-.9.5-.9.5-1 .5 1.1.5.8.5.4.5-.3.5-1.2.5-1.3.5-2.9.5-6.2.5-8 .5-5.2.5 3.3.5 7.3.5 6.5.5 4.3.5 1.7.5 1.2.5-1.2.5-.5.5.2.5.9.5.6.5 0 .5-.3.5-.2.5-.3.5.9.5-.6.5 0 .5-.2.5 1.1.5.1.5 0 .5-.3.5-.6.5-.1.5-.8.5.2.5.7.5.9.5.1.5-.7.5-.3.5.3.5-.4.5 1.3.5-.4.5 1.8.5-.4.5-.2.5-.7.5-.5.5.4.5.1.5-.4.5-.6.5-.6.5-.4.5.2.5.3.5.8.5.2.5-.3.5.3.5-1.1.5 0 .5-.6.5 1.5.5.5.5.6.5-.5.5.2.5-1 .5.1.5-1.6.5 1.4.5.7.5.8.5-1.3.5-1.8.5-.5.5.5.5 1 .5 0 .5-.3.5-.3.5 1 .5.6.5.2.5-.2.5-.3.5-1 .5.1.5-.1.5 1.5.5-1.1.5.5.5-.7.5 1 .5.2.5-.4.5-.8.5-.1.5.1.5.2.5-.2.5.4.5.9.5-.2.5 0 .5 0 .5.5.5-1.4.5-2.7.5-4.5.5-1.9.5.9.5 2.1.5 2.7.5 1.8.5 1.3.5 1.3.5-.8.5-.1.5-.9.5.5.5.6.5-.4.5.2.5-1.9.5-2.7.5-7 .5-9.7.5-5.1.5 2.8.5 7.7.5 7.3.5 4.1.5 2 .5 1.1.5 1.2.5-.2.5.5.5.3.5.1.5-1 .5 0 .5-.2.5.2.5-.3.5.8.5.4.5.2.5-.3.5-.2.5.8.5-.3.5 0 .5-.9.5.3.5.9.5-.1.5.7.5-1.9.5.6.5.1.5.9.5 0 .5-.6.5.2.5-1.4.5-3 .5-3.6.5-1 .5 1.4.5 2.7.5 1.5.5 1.3.5 1.4.5 1 .5-.1.5 0 .5-1.2.5.1.5-.6.5 1.5.5.6.5.3.5.1.5 0 .5.4.5-1 .5-1.2.5-1 .5.8.5.9.5.4.5-.9.5-2.1.5-4.1.5-4.9.5-.3.5 1.8.5 4.1.5 1.8.5 2.4.5 0 .5 1.6.5-.8.5 1 .5-.8.5.3.5.5.5-.1.5 1.2.5-1.2.5-.1.5-1.8.5.8.5.9.5 1.1.5-.4.5-.9.5 1.1.5.4.5-.4.5-1.3.5-1.7.5 1.7.5 1.1.5 2.1.5-.8.5-1.3.5-1.5.5.3.5-.1.5.6.5-.6.5.2.5.6.5 1.2.5.2.5-.5.5-1.4.5-.8.5-.6.5.6.5-.4.5-1.4.5-3.1.5-1.5.5.3.5 2 .5 1.7.5 2.9.5.9.5.7.5.1.5-.3.5.5.5-1.1.5.4.5-.4.5.3.5.5.5-.4.5-1.4.5 0 .5.7.5 1.6.5-.8.5.6.5.5.5-.4.5-.5.5-1.2.5-.3.5-.5.5.6.5.1.5-.6.5 0 .5-.3.5-1.3.5-4.1.5-2 .5.9.5 2.9.5 2.8.5 2.2.5.6.5-.6.5-1.1.5-.1.5 1.4.5.1.5-.1.5-.7.5 0 .5-.2.5-.1.5.9.5.6.5 0 .5-.3.5-.9.5.7.5-.2" clip-path="url(#cb2)"/>
<path fill="none" stroke="#ff0000" stroke-width="2.0" stroke-linejoin="round" d="M1003.1 351.5l.5-.7.5.8.5-1.5.5-.5.5.3.5-.6.5.6.5.5.5.3.5-.4.5.9.5.5.5.3.5 0 .5-1.3.5 0 .5-.3.5-.6.5 1 .5 0 .5 0 .5.3.5.9.5-.4.5.2.5.9.5-1.8.5-.3.5-.2.5.6.5.6.5-.2.5-.5.5-1.2.5.1.5.3.5.5.5 1.2.5.3.5.1.5.6.5-.5.5-.4.5-.9.5-.4.5-.6.5.7.5.3.5-1 .5.3.5-.1.5.3.5.9.5.1.5.2.5.2.5-.1.5-.3.5-1.4.5.4.5.5.5-.2.5.9.5-.6.5-1 .5-1 .5-3 .5-5 .5-3.1.5 1.2.5 3 .5 4 .5 2.8.5 1.4.5.1.5.2.5-.2.5.4.5-.1.5-.1.5.5.5-.7.5.4.5-.1.5-.2.5-.3.5.1.5.2.5-.7.5.6.5-.2.5.2.5.9.5.1.5-.3.5 0 .5-1 .5-.5.5 1.2.5-.1.5 1.3.5.2.5-.7.5-.4.5-.3.5 0 .5.3.5.6.5-.2.5.3.5-.3.5-.2.5-.5.5-1 .5.3.5.8.5.7.5 1.8.5 0 .5-1.2.5-.8.5-.7.5 0 .5.3.5.7.5-.6.5 0 .5 0 .5-.2.5.8.5-.3.5.7.5.5.5-.8.5 1 .5-1.1.5-.5.5.6.5-1.9.5.9.5.5.5-.3.5 1 .5-.3.5-.5.5.4.5-.2.5-.1.5.2.5-.1.5.6.5-.6.5-.9.5-.4.5-.5.5.1.5 1 .5.3.5.2.5 1.1.5-.6.5-.2.5.6.5-.4.5 0 .5.1.5-.3.5.5.5.7.5.4.5-.9.5-.9.5.2.5-.9.5.4.5-.6.5.1.5.3.5.3.5.1.5-1.1.5.8.5-.4.5.4.5.7.5-.5.5-.7.5-.3.5-.4.5-1 .5-.3.5-1 .5-.3.5 1 .5.7.5.7.5.4.5.1.5.3.5.2.5.1.5 0 .5.2.5.3.5-.4.5.4.5-.7.5 0 .5.3.5-.2.5 1.1.5-1 .5.5.5-.1.5-.6.5.9.5-.5.5-.1.5-.2.5.1.5.5.5.2.5.2.5.4.5.5.5-.4.5.1.5-.9.5-.6.5.4.5-.2.5-.7.5-.3.5-.5.5.1.5.8.5-1.2.5-1.1.5-4.1.5-11.1.5-20.8.5-24.5.5-7.1.5 13.8.5 20.9.5 18.2.5 10 .5 3.5.5 1.3.5.8.5.8.5.8.5-.2.5-.3.5.5.5-.2.5.3.5.6.5.2.5-.1.5-.1.5-.9.5-1 .5.4.5-.2.5-.2.5.7.5-.5.5.1.5.8.5-.1.5.3.5-.8.5 0 .5-.6.5-.7.5-.3.5-.1.5-.1.5-.2.5-.4.5-5.1.5-14.9.5-33 .5-47.8.5-29.6.5 14.6.5 37.1.5 37.7.5 25 .5 11.6.5 3.6.5 1.9.5 1.3.5.4.5.1.5.1.5-.4.5-.3.5-.2.5-.7.5.1.5-.1.5.9.5 1.4.5.2.5.5.5-.6.5-1 .5-.2.5-.3.5.4.5.4.5.7.5 0 .5-.8.5-.1.5-1 .5.1.5 1 .5-.5.5 0 .5-.2.5-1.2.5-.3.5-.7.5-2.2.5-6.3.5-21.1.5-44.2.5-55 .5-22.7.5 24.6.5 45.1.5 41.5.5 24.6.5 10.8.5 3.2.5.6.5 1.8.5.2.5.6.5.9.5 1.2.5 0 .5-.2.5-.6.5-.7.5.5.5.1.5 0 .5-2.7.5-4.9.5-8.3.5-6.3.5 1.4.5 5.8.5 6.6.5 4.3.5.7.5-1.2.5-2.7.5-2.6.5-1.5.5-1.4.5.4.5 1.2.5 2.3.5 2.4.5 1.8.5 1.8.5.5.5 1.4.5 1 .5-.2.5.7.5-.3.5.2.5.5.5 0 .5-.2.5.3.5.3.5.8.5-.2.5.2.5-.2.5-1.6.5-.4.5-1.4.5-.8.5 1 .5 0 .5.7.5-.2.5-1.8.5-4.4.5-11.7.5-21.2.5-21.7.5-2.4.5 14.9.5 20.1.5 16.4.5 8.2.5 2.3.5 1.1.5-.6.5 1.3.5.5.5 0 .5.8.5-.5.5-.3.5.6.5.4.5.6.5.1.5-.9.5.3.5-.9.5-.1.5.6.5-.1.5 0 .5.1.5-.2.5-.5.5.2.5.3.5-.2.5 0 .5-.6.5-.3.5-.5.5.4.5 1 .5-.1.5.8.5-.2.5-.3.5.4.5-.1.5-.3.5-.2.5.5.5.1.5.2.5.6.5-.8.5-.2.5.2.5.1.5.5.5-.5.5-.2.5-.5.5-.1.5.3.5-.5.5 0 .5-.6.5-.1.5.4.5.3.5.4.5.8.5-.5.5-.2.5-.2.5-1.1.5-.4.5-2.8.5-6.4.5-12.7.5-14.4.5-4.9.5 7.2.5 12.8.5 11 .5 6.6.5 3.7.5.7.5-.1.5.9.5-.2.5.7.5.6.5-.4.5.1.5-.3.5.3.5-.4.5 0 .5.4.5-.6.5-.4.5.1.5.2.5.3.5-.1.5.1.5.3.5-.7.5-.4.5-.4.5-.7.5.9.5 1.4.5.1.5.2.5-.2.5-.3.5-.1.5-.3.5.1.5 0 .5-.3.5.3.5-1.2.5-2 .5-4.9.5-10.8.5-10 .5-1.5.5 6.5.5 9.3.5 7.3.5 3.4.5 1.3.5 1 .5 0 .5.6.5.2.5.1.5.4.5-.1.5-.7.5.1.5.4.5 0 .5.3.5.4.5.3.5-.6.5.6.5-.4.5-1.5.5 1 .5 0 .5.3.5 1 .5-.4.5-.5.5 0 .5.4.5 0 .5.1.5.1.5-1.3.5.4.5 0 .5-1.1.5 1.1.5-.5.5.4.5 1.4.5-.8.5-.1.5-.3.5-1.3.5.8.5.5.5.4.5 0 .5-.2.5.1.5-1.1.5 1.1.5-.6.5-.1.5.2.5-.1.5 1.2.5 0 .5.5.5.2.5-.8.5 0 .5.3.5-.4.5.8.5.5.5.4.5-.1.5-.2.5-.8.5-.4.5.7.5.5.5-.2.5-.4.5-.4.5-1.2.5.7.5.3.5-.5.5.1.5-.6.5-.1.5.7.5.3.5 1.5.5-.7.5-.8.5.1.5-1.6.5.5.5-.2.5-1.8.5-2.2.5-1.6.5.4.5 2.1.5 2.4.5.8.5.1.5-.1.5-.1.5.2.5.9.5.2.5.3.5.2.5-.7.5.3.5-.2.5-.4.5.1.5.8.5-1.5.5.7.5.2.5-1.1.5 1.2.5-.6.5.9.5-.2.5 0 .5.5.5-.8.5.1.5 0 .5-.8.5.3.5-.4.5-.8.5.9.5-.1.5.5.5.8.5 0 .5-.7.5-1 .5.3.5-.2.5.7.5 1.7.5.2.5-.4.5-.3.5-.5.5-.3.5 0 .5-.6.5-.5.5-.5.5.1.5.8.5.4.5 1.2.5-.2.5.6.5-.8.5-.6.5.4.5.2.5 0 .5-.1.5-.4.5-.8.5 0 .5-.5.5-.6.5 0 .5-.2.5 1.3.5.9.5-.8.5.1.5-.6.5-.4.5.4.5-1.4.5-1.8.5-1.2.5-1.4.5-.2.5.4.5.4.5 1 .5 1.4.5 1.4.5.4.5.3.5.8.5-.6.5.7.5.2.5.1.5.1.5.3.5.4.5-.5.5.2.5-.5.5-.5.5-.3.5.7.5.3.5.9.5 0 .5-1.3.5-.8.5-.3.5.9.5.1.5 1 .5-.4.5-.8.5.7.5-.2.5.1.5.4.5-.3.5-.8.5-.1.5-.6.5.6.5.2.5.7.5 0 .5.3.5 0 .5-.8.5.7.5-.2.5.3.5.3.5.6.5-.1.5-.5.5 0 .5-.1.5-.1.5.9.5.9.5-.9.5 0 .5-.6.5-.8.5.4.5-.7.5.3.5.1.5.2.5.3.5-.6.5.1.5-.9.5.3.5.7.5-.5.5.4.5-.5.5-1.4.5-.3.5-1 .5.1.5-.3.5-2.1.5-3 .5-2.2.5 1.2.5 2.8.5 3.3.5 2.3.5 1.1.5.6.5-.1.5-.9.5-.6.5-.2.5 0 .5.1.5 1.4.5-.1.5.2.5-.2.5-.4.5-.1.5.4.5-.3.5-.9.5-1 .5-4.2.5-5.9.5-10.2.5-12.5.5-9.8.5-2.6.5 6.3.5 10.5.5 11.4.5 8.1.5 4.8.5 2.5.5.8.5.9.5-.1.5.6.5.8.5.1.5 0 .5-.3.5-.6.5.5.5.2.5.4.5.5.5-.2.5.3.5-.2.5-.8.5-1.3.5-1.1.5-.7.5-.9.5-2.4.5-5.9.5-9 .5-13.8.5-14.8.5-11.1.5-3.6.5 6.4.5 12.2.5 13.9.5 12.7.5 8 .5 5 .5 3 .5 1 .5 1.5.5.7.5.2.5-.1.5.2.5-.2.5-.7.5.3.5-.8.5.4.5 1.5.5-.3.5.3.5-2.3.5-2.4.5-.6.5.7.5 2.1.5 1.5.5.8.5.1.5-.2.5-.7.5.2.5.2.5.6.5.9.5.3.5-.6.5.3.5.3.5 0 .5.7.5 0 .5-1.2.5-.6.5.2.5.3.5.8.5 0 .5-.4.5-.3.5.7.5.5.5-.2.5-.1.5-.6.5.6.5.5.5-.2.5-.2.5-1.5.5-.6.5-.2.5-.3.5.5.5.5.5.6.5.9.5 0 .5-.2.5-1.1.5-.4.5.1.5-.2.5.5.5-.5.5-.2.5-.4.5-.9.5-1.5.5.8.5.5.5.4.5 1.6.5-.8.5 1.2.5.3.5-.3.5.6.5-.2.5-.2.5.1.5-.5.5-.6.5 1.1.5.7.5.5.5.6.5-.7.5-.1.5-.5.5-.8.5.7.5-1.1.5 0 .5.1.5-1.3.5.5.5 0 .5.5.5.3.5.4.5.1.5.2.5-.5.5-.5.5-.3.5-.1.5.4.5 0 .5-.2.5-.7.5-.1.5.6.5 0 .5-.5.5.5.5-.6.5.6.5 1.2.5-.2.5 0 .5-.5.5-.2.5-.2.5.2.5.7.5-.3.5.1.5-.4.5-.3.5.4.5.8.5.5.5-.3.5-.2.5-1.3.5-.3.5-.4.5-.2.5-1 .5-5.5.5-9.9.5-15.1.5-17.3.5-9.3.5 3.3.5 11.9.5 16 .5 13.4.5 7.7.5 3.9.5 1.7.5-.1.5.6.5-.1.5.3.5-.5.5.1.5.1.5-.2.5 1.1.5-.2.5.7.5.7.5.4.5.6.5-.2.5-.5.5-.8.5-.6.5.4.5.3.5.3.5.2.5 0 .5-.4.5.8.5-.3.5-.1.5.3.5-.5.5.4.5-.1.5-1.2.5.1.5.4.5-.1.5 1.4.5-.7.5-.5.5 0 .5-.6.5 1 .5.2.5-.4.5.4.5-.2.5-.7.5-.3.5-1.5.5-1.4.5-.2.5 1.2.5 1.2.5.8.5 1 .5-.2.5-.3.5-.2.5-.1.5-.3.5-.1.5-.2.5-.2.5.7.5.3.5.4.5 0 .5-.5.5-.7.5.6.5-.2.5-.4.5.8.5-.6.5.1.5 0 .5-.7.5.5.5.1.5.4.5 1.2.5-.8.5-.4.5.5.5-.7.5.8.5-.5.5-.6.5-2.4.5-4.3.5-5.3.5-4 .5 1.8.5 4.4.5 5.5.5 3.2.5 1.7.5 0 .5-.3.5-.3.5 1.6.5.1.5.6.5.4.5-1.9.5-.5.5-.9.5-.3.5.4.5.2.5 1.1.5 1.2.5-.7.5.7.5-.5.5-.9.5.6.5.2.5-.2.5-.4.5.6.5-.6.5.5.5.1.5-1.4.5.2.5-.2.5.6.5.9.5-.4.5-.1.5-.9.5.2.5-.1.5-.6.5.2.5-.7.5 1.1.5-.3.5.6.5.1.5-.2.5-.1.5-.1.5.7.5.5.5.1.5-.4.5-.3.5-.4.5.1.5.7.5-.3.5-1 .5-.2.5-.3.5.7.5.3.5-.2.5-.3.5 0 .5.4.5 1 .5.8.5-.9.5-.8.5.8.5-.3.5.4.5.3.5-2 .5.1.5-.8.5-.6.5 1 .5.3.5.7.5.9.5-.1.5-.5.5-.5.5.7.5-.2.5 0 .5-.1.5-.2.5.6.5.6.5.5.5-.3.5-.3.5-.9.5.7.5-1.4.5-.8.5-.9.5-.6.5 1.4.5 1.1.5.1.5.6.5-.3.5.5.5.2.5-.5.5.2.5-.3.5-.1.5 0 .5-.4.5-.7.5-1.9.5-4.7.5-6.8.5-3.9.5 2.1.5 5.3.5 5.6.5 2.9.5 1.8.5.1.5.3.5-.4.5 0 .5.6.5-.5.5 1.1.5-.3.5.3.5.6.5-.7.5.1.5-1.3.5-.4.5.8.5.4.5.7.5 0 .5-.2.5-.5.5.1.5.6.5 0 .5.6.5-.4.5-.7.5.1.5.4.5.7.5.9.5-.3.5-.6.5-1.8.5-1 .5-.9.5.5.5 1.4.5.7.5 1.2.5-.6.5-.4.5-.4.5.4.5.5.5.1.5-.3.5-.9.5-.4.5.2.5 0 .5.3.5-.5.5.6.5.3.5.6.5.8.5-.8.5-.2.5-.9.5-1.4.5-2.1.5-1.2.5-.1.5 1.4.5 2.2.5.4.5 1 .5.1.5.3.5.3.5-.5.5.1.5-.4.5-.3.5-.4.5.5.5 1.1.5.2.5.8.5-.2.5-1.3.5.7.5-.2.5.5.5.3.5-.5.5-.5.5-.6.5.6.5-1 .5.5.5.7.5-.3.5 1.3.5-.3.5-.1.5.1.5-.4.5.8.5-.6.5-1.5.5 0 .5-.7.5-.2.5.8.5-.2.5-.7.5.8.5-.1.5.8.5.1.5-.6.5-.3.5-.2.5.1.5.3.5 1.1.5 0 .5.1.5-.6.5 0 .5.1.5 1 .5.3.5-.4.5.3.5-.8.5.3.5-.1.5-1.3.5-.2.5-.1.5.2.5.7.5.4.5-.4.5 0 .5-.3.5-.5.5 0 .5.6.5-.3.5.8.5 0 .5-.9.5-.7.5-1.1.5.5.5-.1.5.8.5.7.5.4.5.4.5.1.5-.3.5-1 .5-.4.5.3.5.6.5.9.5.2.5-.8.5.2.5-.1.5.3.5.1.5-.8.5.2.5-.2"/>
<path fill="none" stroke="#ff0000" stroke-width="6.0" stroke-linejoin="round" d="M1003.1 351.5l.5-.7.5.8.5-1.5.5-.5.5.3.5-.6.5.6.5.5.5.3.5-.4.5.9.5.5.5.3.5 0 .5-1.3.5 0 .5-.3.5-.6.5 1 .5 0 .5 0 .5.3.5.9.5-.4.5.2.5.9.5-1.8.5-.3.5-.2.5.6.5.6.5-.2.5-.5.5-1.2.5.1.5.3.5.5.5 1.2.5.3.5.1.5.6.5-.5.5-.4.5-.9.5-.4.5-.6.5.7.5.3.5-1 .5.3.5-.1.5.3.5.9.5.1.5.2.5.2.5-.1.5-.3.5-1.4.5.4.5.5.5-.2.5.9.5-.6.5-1 .5-1 .5-3 .5-5 .5-3.1.5 1.2.5 3 .5 4 .5 2.8.5 1.4.5.1.5.2.5-.2.5.4.5-.1.5-.1.5.5.5-.7.5.4.5-.1.5-.2.5-.3.5.1.5.2.5-.7.5.6.5-.2.5.2.5.9.5.1.5-.3.5 0 .5-1 .5-.5.5 1.2.5-.1.5 1.3.5.2.5-.7.5-.4.5-.3.5 0 .5.3.5.6.5-.2.5.3.5-.3.5-.2.5-.5.5-1 .5.3.5.8.5.7.5 1.8.5 0 .5-1.2.5-.8.5-.7.5 0 .5.3.5.7.5-.6.5 0 .5 0 .5-.2.5.8.5-.3.5.7.5.5.5-.8.5 1 .5-1.1.5-.5.5.6.5-1.9.5.9.5.5.5-.3.5 1 .5-.3.5-.5.5.4.5-.2.5-.1.5.2.5-.1.5.6.5-.6.5-.9.5-.4.5-.5.5.1.5 1 .5.3.5.2.5 1.1.5-.6.5-.2.5.6.5-.4.5 0 .5.1.5-.3.5.5.5.7.5.4.5-.9.5-.9.5.2.5-.9.5.4.5-.6.5.1.5.3.5.3.5.1.5-1.1.5.8.5-.4.5.4.5.7.5-.5.5-.7.5-.3.5-.4.5-1 .5-.3.5-1 .5-.3.5 1 .5.7.5.7.5.4.5.1.5.3.5.2.5.1.5 0 .5.2.5.3.5-.4.5.4.5-.7.5 0 .5.3.5-.2.5 1.1.5-1 .5.5.5-.1.5-.6.5.9.5-.5.5-.1.5-.2.5.1.5.5.5.2.5.2.5.4.5.5.5-.4.5.1.5-.9.5-.6.5.4.5-.2.5-.7.5-.3.5-.5.5.1.5.8.5-1.2.5-1.1.5-4.1.5-11.1.5-20.8.5-24.5.5-7.1.5 13.8.5 20.9.5 18.2.5 10 .5 3.5.5 1.3.5.8.5.8.5.8.5-.2.5-.3.5.5.5-.2.5.3.5.6.5.2.5-.1.5-.1.5-.9.5-1 .5.4.5-.2.5-.2.5.7.5-.5.5.1.5.8.5-.1.5.3.5-.8.5 0 .5-.6.5-.7.5-.3.5-.1.5-.1.5-.2.5-.4.5-5.1.5-14.9.5-33 .5-47.8.5-29.6.5 14.6.5 37.1.5 37.7.5 25 .5 11.6.5 3.6.5 1.9.5 1.3.5.4.5.1.5.1.5-.4.5-.3.5-.2.5-.7.5.1.5-.1.5.9.5 1.4.5.2.5.5.5-.6.5-1 .5-.2.5-.3.5.4.5.4.5.7.5 0 .5-.8.5-.1.5-1 .5.1.5 1 .5-.5.5 0 .5-.2.5-1.2.5-.3.5-.7.5-2.2.5-6.3.5-21.1.5-44.2.5-55 .5-22.7.5 24.6.5 45.1.5 41.5.5 24.6.5 10.8.5 3.2.5.6.5 1.8.5.2.5.6.5.9.5 1.2.5 0 .5-.2.5-.6.5-.7.5.5.5.1.5 0 .5-2.7.5-4.9.5-8.3.5-6.3.5 1.4.5 5.8.5 6.6.5 4.3.5.7.5-1.2.5-2.7.5-2.6.5-1.5.5-1.4.5.4.5 1.2.5 2.3.5 2.4.5 1.8.5 1.8.5.5.5 1.4.5 1 .5-.2.5.7.5-.3.5.2.5.5.5 0 .5-.2.5.3.5.3.5.8.5-.2.5.2.5-.2.5-1.6.5-.4.5-1.4.5-.8.5 1 .5 0 .5.7.5-.2.5-1.8.5-4.4.5-11.7.5-21.2.5-21.7.5-2.4.5 14.9.5 20.1.5 16.4.5 8.2.5 2.3.5 1.1.5-.6.5 1.3.5.5.5 0 .5.8.5-.5.5-.3.5.6.5.4.5.6.5.1.5-.9.5.3.5-.9.5-.1.5.6.5-.1.5 0 .5.1.5-.2.5-.5.5.2.5.3.5-.2.5 0 .5-.6.5-.3.5-.5.5.4.5 1 .5-.1.5.8.5-.2.5-.3.5.4.5-.1.5-.3.5-.2.5.5.5.1.5.2.5.6.5-.8.5-.2.5.2.5.1.5.5.5-.5.5-.2.5-.5.5-.1.5.3.5-.5.5 0 .5-.6.5-.1.5.4.5.3.5.4.5.8.5-.5.5-.2.5-.2.5-1.1.5-.4.5-2.8.5-6.4.5-12.7.5-14.4.5-4.9.5 7.2.5 12.8.5 11 .5 6.6.5 3.7.5.7.5-.1.5.9.5-.2.5.7.5.6.5-.4.5.1.5-.3.5.3.5-.4.5 0 .5.4.5-.6.5-.4.5.1.5.2.5.3.5-.1.5.1.5.3.5-.7.5-.4.5-.4.5-.7.5.9.5 1.4.5.1.5.2.5-.2.5-.3.5-.1.5-.3.5.1.5 0 .5-.3.5.3.5-1.2.5-2 .5-4.9.5-10.8.5-10 .5-1.5.5 6.5.5 9.3.5 7.3.5 3.4.5 1.3.5 1 .5 0 .5.6.5.2.5.1.5.4.5-.1.5-.7.5.1.5.4.5 0 .5.3.5.4.5.3.5-.6.5.6.5-.4.5-1.5.5 1 .5 0 .5.3.5 1 .5-.4.5-.5.5 0 .5.4.5 0 .5.1.5.1.5-1.3.5.4.5 0 .5-1.1.5 1.1.5-.5.5.4.5 1.4.5-.8.5-.1.5-.3.5-1.3.5.8.5.5.5.4.5 0 .5-.2.5.1.5-1.1.5 1.1.5-.6.5-.1.5.2.5-.1.5 1.2.5 0 .5.5.5.2.5-.8.5 0 .5.3.5-.4.5.8.5.5.5.4.5-.1.5-.2.5-.8.5-.4.5.7.5.5.5-.2.5-.4.5-.4.5-1.2.5.7.5.3.5-.5.5.1.5-.6.5-.1.5.7.5.3.5 1.5.5-.7.5-.8.5.1.5-1.6.5.5.5-.2.5-1.8.5-2.2.5-1.6.5.4.5 2.1.5 2.4.5.8.5.1.5-.1.5-.1.5.2.5.9.5.2.5.3.5.2.5-.7.5.3.5-.2.5-.4.5.1.5.8.5-1.5.5.7.5.2.5-1.1.5 1.2.5-.6.5.9.5-.2.5 0 .5.5.5-.8.5.1.5 0 .5-.8.5.3.5-.4.5-.8.5.9.5-.1.5.5.5.8.5 0 .5-.7.5-1 .5.3.5-.2.5.7.5 1.7.5.2.5-.4.5-.3.5-.5.5-.3.5 0 .5-.6.5-.5.5-.5.5.1.5.8.5.4.5 1.2.5-.2.5.6.5-.8.5-.6.5.4.5.2.5 0 .5-.1.5-.4.5-.8.5 0 .5-.5.5-.6.5 0 .5-.2.5 1.3.5.9.5-.8.5.1.5-.6.5-.4.5.4.5-1.4.5-1.8.5-1.2.5-1.4.5-.2.5.4.5.4.5 1 .5 1.4.5 1.4.5.4.5.3.5.8.5-.6.5.7.5.2.5.1.5.1.5.3.5.4.5-.5.5.2.5-.5.5-.5.5-.3.5.7.5.3.5.9.5 0 .5-1.3.5-.8.5-.3.5.9.5.1.5 1 .5-.4.5-.8.5.7.5-.2.5.1.5.4.5-.3.5-.8.5-.1.5-.6.5.6.5.2.5.7.5 0 .5.3.5 0 .5-.8.5.7.5-.2.5.3.5.3.5.6.5-.1.5-.5.5 0 .5-.1.5-.1.5.9.5.9.5-.9.5 0 .5-.6.5-.8.5.4.5-.7.5.3.5.1.5.2.5.3.5-.6.5.1.5-.9.5.3.5.7.5-.5.5.4.5-.5.5-1.4.5-.3.5-1 .5.1.5-.3.5-2.1.5-3 .5-2.2.5 1.2.5 2.8.5 3.3.5 2.3.5 1.1.5.6.5-.1.5-.9.5-.6.5-.2.5 0 .5.1.5 1.4.5-.1.5.2.5-.2.5-.4.5-.1.5.4.5-.3.5-.9.5-1 .5-4.2.5-5.9.5-10.2.5-12.5.5-9.8.5-2.6.5 6.3.5 10.5.5 11.4.5 8.1.5 4.8.5 2.5.5.8.5.9.5-.1.5.6.5.8.5.1.5 0 .5-.3.5-.6.5.5.5.2.5.4.5.5.5-.2.5.3.5-.2.5-.8.5-1.3.5-1.1.5-.7.5-.9.5-2.4.5-5.9.5-9 .5-13.8.5-14.8.5-11.1.5-3.6.5 6.4.5 12.2.5 13.9.5 12.7.5 8 .5 5 .5 3 .5 1 .5 1.5.5.7.5.2.5-.1.5.2.5-.2.5-.7.5.3.5-.8.5.4.5 1.5.5-.3.5.3.5-2.3.5-2.4.5-.6.5.7.5 2.1.5 1.5.5.8.5.1.5-.2.5-.7.5.2.5.2.5.6.5.9.5.3.5-.6.5.3.5.3.5 0 .5.7.5 0 .5-1.2.5-.6.5.2.5.3.5.8.5 0 .5-.4.5-.3.5.7.5.5.5-.2.5-.1.5-.6.5.6.5.5.5-.2.5-.2.5-1.5.5-.6.5-.2.5-.3.5.5.5.5.5.6.5.9.5 0 .5-.2.5-1.1.5-.4.5.1.5-.2.5.5.5-.5.5-.2.5-.4.5-.9.5-1.5.5.8.5.5.5.4.5 1.6.5-.8.5 1.2.5.3.5-.3.5.6.5-.2.5-.2.5.1.5-.5.5-.6.5 1.1.5.7.5.5.5.6.5-.7.5-.1.5-.5.5-.8.5.7.5-1.1.5 0 .5.1.5-1.3.5.5.5 0 .5.5.5.3.5.4.5.1.5.2.5-.5.5-.5.5-.3.5-.1.5.4.5 0 .5-.2.5-.7.5-.1.5.6.5 0 .5-.5.5.5.5-.6.5.6.5 1.2.5-.2.5 0 .5-.5.5-.2.5-.2.5.2.5.7.5-.3.5.1.5-.4.5-.3.5.4.5.8.5.5.5-.3.5-.2.5-1.3.5-.3.5-.4.5-.2.5-1 .5-5.5.5-9.9.5-15.1.5-17.3.5-9.3.5 3.3.5 11.9.5 16 .5 13.4.5 7.7.5 3.9.5 1.7.5-.1.5.6.5-.1.5.3.5-.5.5.1.5.1.5-.2.5 1.1.5-.2.5.7.5.7.5.4.5.6.5-.2.5-.5.5-.8.5-.6.5.4.5.3.5.3.5.2.5 0 .5-.4.5.8.5-.3.5-.1.5.3.5-.5.5.4.5-.1.5-1.2.5.1.5.4.5-.1.5 1.4.5-.7.5-.5.5 0 .5-.6.5 1 .5.2.5-.4.5.4.5-.2.5-.7.5-.3.5-1.5.5-1.4.5-.2.5 1.2.5 1.2.5.8.5 1 .5-.2.5-.3.5-.2.5-.1.5-.3.5-.1.5-.2.5-.2.5.7.5.3.5.4.5 0 .5-.5.5-.7.5.6.5-.2.5-.4.5.8.5-.6.5.1.5 0 .5-.7.5.5.5.1.5.4.5 1.2.5-.8.5-.4.5.5.5-.7.5.8.5-.5.5-.6.5-2.4.5-4.3.5-5.3.5-4 .5 1.8.5 4.4.5 5.5.5 3.2.5 1.7.5 0 .5-.3.5-.3.5 1.6.5.1.5.6.5.4.5-1.9.5-.5.5-.9.5-.3.5.4.5.2.5 1.1.5 1.2.5-.7.5.7.5-.5.5-.9.5.6.5.2.5-.2.5-.4.5.6.5-.6.5.5.5.1.5-1.4.5.2.5-.2.5.6.5.9.5-.4.5-.1.5-.9.5.2.5-.1.5-.6.5.2.5-.7.5 1.1.5-.3.5.6.5.1.5-.2.5-.1.5-.1.5.7.5.5.5.1.5-.4.5-.3.5-.4.5.1.5.7.5-.3.5-1 .5-.2.5-.3.5.7.5.3.5-.2.5-.3.5 0 .5.4.5 1 .5.8.5-.9.5-.8.5.8.5-.3.5.4.5.3.5-2 .5.1.5-.8.5-.6.5 1 .5.3.5.7.5.9.5-.1.5-.5.5-.5.5.7.5-.2.5 0 .5-.1.5-.2.5.6.5.6.5.5.5-.3.5-.3.5-.9.5.7.5-1.4.5-.8.5-.9.5-.6.5 1.4.5 1.1.5.1.5.6.5-.3.5.5.5.2.5-.5.5.2.5-.3.5-.1.5 0 .5-.4.5-.7.5-1.9.5-4.7.5-6.8.5-3.9.5 2.1.5 5.3.5 5.6.5 2.9.5 1.8.5.1.5.3.5-.4.5 0 .5.6.5-.5.5 1.1.5-.3.5.3.5.6.5-.7.5.1.5-1.3.5-.4.5.8.5.4.5.7.5 0 .5-.2.5-.5.5.1.5.6.5 0 .5.6.5-.4.5-.7.5.1.5.4.5.7.5.9.5-.3.5-.6.5-1.8.5-1 .5-.9.5.5.5 1.4.5.7.5 1.2.5-.6.5-.4.5-.4.5.4.5.5.5.1.5-.3.5-.9.5-.4.5.2.5 0 .5.3.5-.5.5.6.5.3.5.6.5.8.5-.8.5-.2.5-.9.5-1.4.5-2.1.5-1.2.5-.1.5 1.4.5 2.2.5.4.5 1 .5.1.5.3.5.3.5-.5.5.1.5-.4.5-.3.5-.4.5.5.5 1.1.5.2.5.8.5-.2.5-1.3.5.7.5-.2.5.5.5.3.5-.5.5-.5.5-.6.5.6.5-1 .5.5.5.7.5-.3.5 1.3.5-.3.5-.1.5.1.5-.4.5.8.5-.6.5-1.5.5 0 .5-.7.5-.2.5.8.5-.2.5-.7.5.8.5-.1.5.8.5.1.5-.6.5-.3.5-.2.5.1.5.3.5 1.1.5 0 .5.1.5-.6.5 0 .5.1.5 1 .5.3.5-.4.5.3.5-.8.5.3.5-.1.5-1.3.5-.2.5-.1.5.2.5.7.5.4.5-.4.5 0 .5-.3.5-.5.5 0 .5.6.5-.3.5.8.5 0 .5-.9.5-.7.5-1.1.5.5.5-.1.5.8.5.7.5.4.5.4.5.1.5-.3.5-1 .5-.4.5.3.5.6.5.9.5.2.5-.8.5.2.5-.1.5.3.5.1.5-.8.5.2.5-.2" clip-path="url(#rcb2)"/>
<path fill="none" stroke="none" stroke-width="0" stroke-linejoin="round" d="M1003.1 351.5l2-1.9 2 .8 2 1.3 1.5-1 2 .1 2 1.2 2-1.1 2 .7 1.5-1.9 2 2.1 2 .5 2-2.3 2 .3 2 1.2 2 0 .5-1.4 2 1.6 2-5.6.5-5 .5-3.1 1 4.2.5 4 1 4.2 2 .5 2-.4 2-.2 2 .2 2 1 2-1.8 1 1.1 2 .4 2 .6 2-.4 1-1.5 2 3.6 2-2.7 2 .4 2 .6 2 .1 2 0 .5-1.9 1.5 1.1 2 .6 2-.2 2-1.3 2 .9 2 .5 2 .3 2 1.3 1-1.8 2-.9 2 .8.5-1.1 2 1.5 2-1.9 2-2.6 2 2.8 2 .7 2 .1 2 0 2 .4 2-.3 2 .3 2 1.3 2-1.8 2-.8 2-.8 1-5.2.5-11.1.5-20.8.5-24.5.5-7.1.5 13.8.5 20.9.5 18.2.5 10 1 4.8 2 2.2 2 .3 2 .6 1-1.9 2 .7 2 .3 2-1.1 2-1.2 1.5-5.7.5-14.9.5-33 .5-47.8.5-29.6.5 14.6.5 37.1.5 37.7.5 25 .5 11.6.5 3.6 1.5 3.6 2-.5 2-.9 2 3 2-2.1 2 1.5 1.5-1.9 2 .6 2-2.4 1-8.5.5-21.1.5-44.2.5-55 .5-22.7.5 24.6.5 45.1.5 41.5.5 24.6.5 10.8 1 3.8 2 3.5 2 .4 2-.1 1-7.6.5-8.3.5-6.3 1 7.2.5 6.6.5 4.3 2-5.8 1-2.9 1.5 3.9 1 4.2 1.5 3.7 2 1.2 2 .5 2 1.2 2-2 1-2.2 2 1.5 1-6.2.5-11.7.5-21.2.5-21.7.5-2.4.5 14.9.5 20.1.5 16.4.5 8.2 1.5 2.8 2 2.6 2 .2 2 .1 1-1 2 .6 2-.2 2-1.1 2 .8 2 .7 2-.1 2 .1 2 .6 2-1.3 2-.8 2 1 2-.1 1.5-4.3.5-6.4.5-12.7.5-14.4.5-4.9.5 7.2.5 12.8.5 11 .5 6.6.5 3.7 2 1.3 2 1 2-.4 2-.5 2 .5 2-1.2 2 1.7 2-.4 2-.5 2-7.8.5-10.8.5-10 .5-1.5.5 6.5.5 9.3.5 7.3 1 4.7 2 1.8 2-.3 2 .8 2 .7 1-1.9 2 2.3 2-.5 2-1.1 2 .4 2 .5 1.5-1.7 2 1.7 1.5-1.2 2 .6 1.5 1.1 2-.1 2 1.2 2-.7 2 .6 1.5-2 2 .6 2 .3 2 .1.5-1.6 2-3.7.5-1.6 1.5 4.9 2 .7 2 1.6 2-.4 2-1 2 1 2 .1 2-.2 2-1.7 2 2.1 1.5-1.7 2 2.5 2-1 2-1.4 2 .8 1 1 2-.4 2-.3 2-1.9 2 2 2-1.7 2-4 1-1.6 2 3.2 2 2.9 2 .4 2 .3 2-1.1 2 1.9 1.5-2.4 2 1.6 2-.2 2-.8 2 .9 2-.5 2 1.1 2 0 2 1.6 2-2.3 2 .1 2 0 2-.4 2-1.8 2-3.3 1-5.2 1 4 1 5.6 2 .7 2-.7 1 1.3 2-.5 2-1.8.5-4.2.5-5.9.5-10.2.5-12.5.5-9.8.5-2.6.5 6.3.5 10.5.5 11.4.5 8.1.5 4.8 1.5 4.2 2 1.4 2-.4 2 .9 2-2 2-5.1.5-5.9.5-9 .5-13.8.5-14.8.5-11.1.5-3.6.5 6.4.5 12.2.5 13.9.5 12.7.5 8 .5 5 1 4 2 2.3 2-.4 2 .8 1.5-4.4 2 3.7 2 0 2 1.9 2 .3 2-.5 2 .7 2 0 2-.4 2 .7 2-2.6 2 2.5 2-1.7 2-.1 2-3 2 3.3 2 .4 2 .3 1-1.1 2 2.9 2-2.1 2-.3.5-1.3 2 1.3 2 .2 2-.5 2-1 2 .6 2 1 2-.9 2 .7 2 .5 2-1.3 2-1.9.5-5.5.5-9.9.5-15.1.5-17.3.5-9.3 1 15.2.5 16 .5 13.4.5 7.7.5 3.9 1 1.6 2 .3 2 1.1 2 1.6 2-.9 2 .4 2 .6 2-.6 2-.8 2 1 1.5-1.1 2 1.2 2-2.7 1-1.6 2 4.2 2-.8 2-.8 2 1.4 1-1.2 2 .8 2-1.2 2 2.2 1-1.2 2 .1 1.5-7.3.5-5.3.5-4 1 6.2.5 5.5 1 4.9 2 1 2-.8 1.5-1.7 2 2.9 2-1.4 2 .2 2 .6.5-1.4 2 1.5 1.5-1.4 2-.3 2 .7 2-.3 2 .9 2 .1 2-1.8 2 .5 2 2.2 1-1.7 2 1.2.5-2 1.5-1.3 2 2.9 1.5-1.1 2 .4 2 1.5 1.5-1.5 2-2.4 2 2 2 1 2-.7 2-3 .5-4.7.5-6.8.5-3.9 1 7.4.5 5.6 1 4.7 2 0 2 .9 2 .3 1-1.7 2 1.9 2 0 2-.5 2 2.1 2-3.7 2 1.7 2-.2 2 .7 1-1.3 2 0 2 2.3 2-3.3 1.5-3.4 1 3.6 2 1.8 2-.5 2 .9 2-.5 2 1.3 1.5-1.6 2 .8 2 .6 2-.1.5-1.5 2-.1 2-.2 2 0 2 1.3 2-.5 2 1 2-.3 1.5-1.6 2 .9 2-.8 2 1.1 1.5-2.7 2 1.9 2 .6 1-1.4 2 2 2-.4 2-.7" marker-mid="url(#mr)"/>
<path fill="none" stroke="#ff00ff" stroke-width="1.3" stroke-linejoin="round" d="M1014.3 399.8l1 0 1 0 1 0 1 0 1 0 1 0 1 0 1 0 1 0 1 0 1 0 1 0 1 0 1 0 1 0 1 0 1 0 1 0 1 0 1 0 1 0 1 0 1 0 1 0 1 0 1 0 1 0 1 0 1 0 1 0 1 0 1 0 1 0 1 0 1 0 1 0 1 0 1 0 1 0 1 0 1 0 1 0 1 0 1 0 1 0 1 0 1 0 1 0 1 0 1 0 1 0 1 0 1 0 1 0 1 0 1 0 1 0 1 0 1 0 1 0 1 0 1 0 1 0 1 0 1 0 1 0 1 0 1 0 1 0 1 0 1 0 1 0 1 0 1 0 1 0 1 0 1 0 1 0 1 0 1 0 1 0 1 0 1 0 1 0 1 0 1 0 1 0 1 0 1 0 1 0 1 0 1 0 1 0 1 0 1 0 1 0 1 0 1 0 1 0 1 0 1 0 1 0 1 0 1 0 1 0 1 0 1 0 1 0 1 0 1 0 1 0 1 0 1 0 1 0 1 0 1 0 1 0 1 0 1 0 1 0 1 0 1 0 1 0 1 0 1 0 1 0 1 0 1 0 1 0 1 0 1 0 1 0 1 0 1 0 1 0 1 0 1 0 1 0 1 0 1 0 1 0 1 0 1 0 1 0 1 0 1 0 1 0 1 0 1 0 1 0 1 0 1 0 1 0 1 0 1 0 1 0 1 0 1 0 1 0 1 0 1 0 1 0 1-.1 1-.2 1-.4 1-.4 1-.3 1-.1 1-.1 1-.1 1-.1 1-.2 1-.4 1-.4 1-.6 1-.5 1-.6 1-.4 1-.3 1-.1 1-.1 1-.1 1 0 1 0 1 0 1 0 1 0 1 0 1 .1 1 0 1 .2 1 .2 1 .4 1 .7 1 .9 1 1 1 .8 1 .5 1 .3 1 .2 1 .1 1 .1 1 0 1 0 1 0 1 0 1 0 1 0 1 0 1 0 1 0 1 0 1 0 1 0 1-.1 1 0 1-.1 1-.1 1-.2 1-.2 1-.2 1-.2 1-.1 1-.1 1-.1 1 0 1-.1 1 0 1 0 1 0 1 0 1 0 1 0 1 0 1 0 1 0 1 0 1 0 1 0 1 .1 1 0 1 .1 1 .2 1 .1 1 .2 1 .2 1 .2 1 .2 1 .1 1 0 1 0 1 .1 1 0 1 0 1 0 1 0 1 0 1 0 1 0 1 0 1 0 1 .1 1 .1 1 .2 1 .2 1 .2 1 .2 1 .1 1 .1 1 0 1 0 1-.1 1 0 1-.1 1-.3 1-.2 1-.2 1-.2 1 0 1-.1 1 0 1 0 1 0 1 0 1 0 1 0 1 0 1 0 1 0 1 0 1 0 1 0 1 0 1 0 1-.1 1-.1 1-.2 1-.2 1-.3 1-.1 1-.1 1-.1 1 0 1 .1 1 .1 1 .1 1 .2 1 .3 1 .2 1 .1 1 .1 1 0 1 0 1 0 1 0 1 0 1 0 1 0 1 0 1 0 1 0 1 0 1 0 1 0 1 0 1 0 1 0 1 0 1 0 1 0 1 0 1 0 1 0 1 0 1 0 1 0 1 0 1 0 1 0 1 0 1 0 1 0 1 0 1 0 1 0 1 0 1 0 1 0 1 0 1 0 1 0 1 0 1 0 1 0 1 0 1 0 1 0 1 0 1 0 1 0 1 0 1 0 1 0 1 0 1 0 1 0 1 0 1 0 1 0 1 0 1 0 1 0 1 0 1 0 1 0 1 0 1 0 1 0 1 0 1 0 1 0 1 0 1 0 1 0 1 0 1 0 1 0 1 0 1 0 1 0 1 0 1 0 1 0 1 0 1 0 1 0 1 0 1 0 1 0 1 0 1 0 1 0 1 0 1 0 1 0 1 0 1 0 1 0 1 0 1 0 1 0 1-.1 1 0 1-.2 1-.2 1-.2 1-.1 1-.1 1-.1 1 0 1 .1 1 0 1 .1 1 .2 1 .2 1 .2 1 .1 1 .1 1 0 1 0 1 0 1 0 1 0 1 0 1 0 1 0 1 0 1 0 1 0 1 0 1 0 1 0 1 0 1 0 1 0 1 0 1 0 1 0 1 0 1 0 1 0 1 0 1-.1 1 0 1-.1 1-.2 1-.1 1-.2 1 0 1 0 1 0 1 .1 1 .2 1 .1 1 .2 1 0 1 .1 1 0 1 0 1 0 1 0 1 0 1 0 1 0 1 0 1 0 1 0 1 0 1 0 1 0 1 0 1 0 1 0 1 0 1 0 1 0 1 0 1 0 1 0 1 0 1 0 1 0 1 0 1 0 1 0 1 0 1 0 1 0 1 0 1 0 1 0 1 0 1 0 1 0 1 0 1 0 1 0 1 0 1 0 1 0 1 0 1 0 1 0 1 0 1 0 1 0 1 0 1 0 1 0 1 0 1 0 1 0 1 0 1 0 1 0 1 0 1 0 1 0 1 0 1 0 1 0 1 0 1 0 1 0 1 0 1 0 1 0 1 0 1 0 1 0 1 0 1 0 1 0 1 0 1 0 1 0 1 0 1 0 1 0 1-.1 1 0 1-.2 1-.2 1-.2 1-.2 1-.2 1 0 1-.1 1 0 1 0 1 0 1 0 1 0 1 0 1 0 1 0 1 0 1 0 1 0 1 0 1 0 1 0 1 0 1 0 1 0 1 .1 1 0 1 .2 1 .2 1 .3 1 .2 1 .1 1 .1 1 0 1 0 1 0 1 0 1 0 1 0 1 0 1 0 1 0 1 0 1 0 1 0 1 0 1 0 1 0 1 0 1 0 1 0 1 0 1 0 1 0 1 0 1 0 1 0 1 0 1 0 1 0 1 0 1 0 1 0 1 0 1 0 1 0 1 0 1 0 1 0 1 0 1 0 1 0 1 0 1 0 1 0 1 0 1 0 1 0 1 0 1 0 1 0 1 0 1-.1 1 0 1-.2 1-.2 1-.3 1-.3 1-.2 1-.1 1 0 1 0 1 .1 1 .3 1 .3 1 .3 1 .2 1 .1 1 .1"/>
<path stroke="#0000ff" stroke-width="1.5" fill="none" d="M1014.3 394.1v11.5M1039.5 394.1v11.5M1073.9 394.1v11.5M1109.8 394.1v11.5M1125.4 394.1v11.5M1133 394.1v11.5M1136.5 394.1v11.5M1149.4 394v11.5M1171 394v11.5M1182.3 392.5v11.5M1183.9 392.4v11.5M1188.8 391v11.5M1192.6 389.1v11.5M1205.9 388.9v11.5M1219.8 394v11.5M1221 394v11.5M1226.8 394v11.5M1229.5 394v11.5M1242.4 392.6v11.5M1267.9 394v11.5M1273.1 394.1v11.5M1284.5 395.2v11.5M1296.6 394.1v11.5M1318.8 393v11.5M1320.4 393.2v11.5M1322.7 393.7v11.5M1325.9 394v11.5M1329.4 394v11.5M1340.3 394v11.5M1353.8 394v11.5M1356.6 394v11.5M1359.2 394.1v11.5M1361.8 394.1v11.5M1364.6 394.1v11.5M1371.1 394.1v11.5M1392.7 394.1v11.5M1395.9 394v11.5M1399.1 394v11.5M1402.4 394v11.5M1409.9 394v11.5M1412.1 394v11.5M1416.4 394v11.5M1418.5 394v11.5M1423.9 394v11.5M1431.6 393.2v11.5M1435.9 393.1v11.5M1441.3 393.9v11.5M1443.4 394v11.5M1460.8 394v11.5M1467.2 394v11.5M1474.8 393.3v11.5M1476.9 393.6v11.5M1489.8 394v11.5M1507.2 394v11.5M1510.4 394v11.5M1519 394.1v11.5M1528.8 394.1v11.5M1532.1 394v11.5M1537.3 394v11.5M1542.7 394v11.5M1546.1 394v11.5M1592.5 393.2v11.5M1594.6 393.7v11.5M1607 394v11.5M1624.7 394v11.5M1628.7 394v11.5M1637.7 394v11.5M1647.4 394v11.5M1658.2 393v11.5M1660.5 393.6v11.5M1663.3 394v11.5"/>
<path fill="none" stroke="#0000ff" stroke-width="1.15" stroke-linejoin="round" d="M1003.1 488.8l.3-6.6.3 4.8.3-5.2.3 8.9.3-2.2.3 6.1.3-3.2.3-8 .3 3 .3-2.6.3 2.1.3 2.6.3-2.8.3.1.3-5.1.3 7.2.3-2.1.3 2.3.3 1.3.3-3.7.3 2.2.3-5.1.3 5.8.3-3.9.3-2.1.3 1.1.3-4.4.3 2.9.3-1.4.3 3.7.3-.1.3-2.2.3 1.8.3-7.3.3 8.2.3 2.1.3.7.3.5.3-5.2.3.7.3-1.2.3.2.3 2 .3 4.9.3-11.5.3 5.1.3 3 .3-4.8.3 5.4.3-6.6.3 4 .3-4.8.3 6.9.3-3.9.3 5 .3-3.2.3-2 .3 1.7.3 2.2.3-.6.3-.9.3-.2.3.9.3 3.1.3-5.4.3 4 .3-6.3.3 8.5.3-1.9.3-2.8.3.3.3-5.4.3 6.4.3-1.1.3-4.4.3 3.6.3 3.6.3-1.1.3.8.3-2.7.3 5.5.3-3.2.3 3.2.3 5.3.3-15.8.3 5.7.3 1.8.3-2.8.3 7 .3-5.5.3 7.3.3-3.4.3-.9.3-1.8.3 3.3.3-1.7.3 4.3.3-3.7.3 2.6.3-2.5.3-.5.3-7 .3 6.2.3 3.2.3-12.9.3 4.3.3 4.1.3 1.7.3-7.7.3 7.3.3 2.4.3-4.6.3 1.7.3 1 .3-4 .3 5.1.3-.9.3-6.3.3 6.6.3 1.5.3-7.4.3 7 .3-4.3.3-4 .3 1.1.3.2.3 5.1.3-4.4.3.2.3-3.2.3 4.8.3-5 .3 2.1.3 4.9.3.2.3-4.8.3 1.9.3 1.7.3-1.9.3 4.1.3.2.3-5.6.3-4.4.3 4.1.3 5.6.3-.7.3.1.3-.2.3-6.2.3 3.2.3 3.1.3-2.9.3 1.9.3-6.8.3-.7.3 12.3.3-5 .3-.9.3 3.4.3 2.6.3 2.2.3-20 .3 10.3.3 2.1.3-10.9.3.1.3 6.1.3 8.2.3-3.4.3 4.6.3-7.1.3 3.1.3 2.1.3-3.8.3-1.8.3-.1.3-14.4.3 15.5.3-7.9.3 3.9.3 6.2.3-.8.3-8.8.3 9.6.3.6.3-1.8.3 2.2.3-.1.3-8.7.3 5.9.3-.3.3-3.1.3 4.1.3-3.2.3 2.5.3-2.8.3 7.1.3 4.5.3-11.2.3 2 .3.1.3 3.9.3-4.2.3-8 .3 11 .3-3.2.3-3.4.3 3.2.3-1 .3 2.6.3-2.1.3.2.3 1.5.3.5.3-.9.3 4.4.3-3.9.3-3.7.3 9.2.3-5.9.3 5.7.3-9.8.3 6.3.3 4.5.3-1.8.3-4.5.3-2.6.3-.3.3 1.4.3-2.6.3 1.2.3-.9.3-.3.3 4.4.3-7.5.3 7.4.3 2.1.3-6.8.3-.1.3 3.5.3-.5.3 3.5.3-11 .3 7.6.3 6.1.3-4.9.3 6.1.3 1.5.3-10.2.3 7.6.3-3.5.3-2.3.3-.5.3.6.3-2.5.3 2.8.3 4.1.3 1.3.3-6 .3 3.7.3.4.3-10.9.3 11.9.3-7.2.3.7.3 7.4.3 3 .3-10.8.3.9.3.1.3 1.6.3.5.3-1.6.3-3.3.3 13 .3-8.7.3-.9.3 6.4.3-4.7.3 5.4.3-1 .3.8.3-5.1.3 4 .3-8.2.3 1.2.3 5.1.3-1.5.3 6.3.3-6.5.3-6.1.3 7 .3-1 .3 1.8.3-4.8.3 1.5.3 3.1.3 3.2.3-1.1.3 1.3.3-8.3.3 4.9.3 1.8.3 3 .3-2.6.3-2.1.3.5.3.1.3-5 .3 5.5.3 2.6.3-.6.3-9.8.3 6.7.3-5.8.3 9.7.3-1.9.3.8.3-5.3.3-5.1.3 3.2.3 2.2.3-4.5.3 1.8.3 10.6.3-11.7.3 7.3.3-8.8.3 7.6.3 1.9.3-1.6.3 3 .3 2.1.3-11.9.3 5.9.3 1.1.3 1.7.3 2.7.3-4.8.3 3.6.3-.2.3-4.1.3 1.4.3-5.3.3 4 .3-.6.3-1 .3-1.2.3 5.5.3-3.9.3 9.2.3-3.5.3-2.2.3-5.2.3 9.9.3-7 .3-.3.3-4.5.3 6.3.3-1.6.3-2.7.3-.7.3 1.3.3-4.6.3 2.9.3 7.3.3-7.6.3 11.3.3-13.8.3 9.3.3.2.3.7.3-2 .3-8.4.3 10.3.3 0 .3-4 .3-9.3.3 13.1.3-7.4.3 2 .3 6 .3 6.5.3-9.9.3-3.9.3 8.8.3-2.4.3-5 .3-2.8.3 5 .3-6.2.3 11.6.3-5 .3-3.2.3 3.2.3-7.9.3 6.1.3-2.8.3-3.5.3 4 .3 3.5.3-6.6.3 4.7.3-4.4.3 6 .3-7.9.3 9.2.3-.3.3.7.3 3.6.3-6.4.3-.5.3 1.6.3-4.1.3-5.4.3 2.2.3.2.3 5.6.3-3.2.3 1.5.3 3.6.3-1.4.3 6.9.3-7.2.3-3.4.3 8.4.3-6 .3 1.3.3 3.7.3-3.4.3 1.9.3-4.9.3 1.2.3 3.9.3-4.2.3.3.3 1.3.3 6.4.3-.5.3-4.7.3-.4.3-3 .3 7.7.3-3.5.3 1.7.3-8.9.3 8.4.3-2.2.3 2.1.3 1.3.3-3.6.3-1.4.3 4 .3-7.4.3 10.3.3-4 .3-5.5.3 8.9.3-1.3.3 2.1.3-1.9.3-2.2.3-2 .3-3.9.3 7.3.3-.2.3-3.4.3 3.6.3-5.9.3 6.8.3-4.6.3-.4.3-8.8.3 1.3.3-7 .3-8.4.3 1.9.3-1.9.3 8.6.3-5 .3 6.3.3 15.8.3-7.7.3 3.6.3-4.2.3 1.4.3 7.2.3-18.6.3 9.7.3-1.4.3 1.2.3-1.5.3.9.3 10.2.3-2 .3-5.5.3 5.4.3-4.6.3 16.1.3-9.6.3-8.4.3 10 .3-2.6.3-3.7.3-3.2.3-5.4.3 1.3.3-4.3.3 16.1.3 4.6.3-4.5.3 1.2.3-6.6.3 5.2.3-1.1.3 4.8.3 10.5.3 5.5.3-6.4.3 6.8.3-10.1.3-15 .3 3.1.3 6.8.3-5 .3 3.2.3-10.8.3 11.8.3-9.3.3 5.9.3 6.5.3-7.7.3-1.3.3 4 .3-5.8.3-.5.3 7.3.3-9.3.3.7.3 11.3.3-11.2.3 6.1.3 2.6.3-4.5.3-4 .3 6.8.3-6.8.3 11.6.3.1.3-12.1.3 6.1.3-5.1.3 4.4.3-2.4.3-2.7.3 5.7.3-8.4.3 7 .3-1.8.3-2.2.3 6.7.3-3 .3-1 .3.7.3-.5.3 4.5.3-4.4.3-23.4.3 12.1.3 7.9.3-1 .3 3.5.3-4 .3 2.3.3 8.1.3-10.5.3 8.3.3-3.4.3 5.5.3-2.1.3-3.4.3 4.1.3-3.1.3-5.2.3 6.1.3 2.6.3-4.8.3 1.2.3-2.8.3 2.8.3-2 .3-4.7.3 5 .3 6.9.3-3.1.3 2.9.3-5.7.3-1.3.3-2.3.3 4.6.3 3.3.3-.7.3-.7.3-5.5.3.3.3-8.2.3-1.3.3-8 .3-6.9.3 6.7.3-1.1.3 19.9.3.9.3 7.8.3 8.5.3 2.3.3-7.6.3 4.3.3-2.8.3-4.6.3-1.8.3-4.9.3 11.6.3-15.1.3-1.1.3 4.9.3.3.3-4.1.3 9.9.3-12.4.3-2.2.3 6.8.3 8.3.3-3.7.3-1.6.3-1 .3 1.5.3-1.2.3-1.3.3-.7.3-5.6.3 9.7.3-5.4.3 3.1.3.6.3 2.3.3-7 .3 6.2.3.1.3-3.6.3.4.3.6.3-4.4.3 1.9.3-2.8.3 8.7.3-7.8.3-1 .3 4.5.3 1.6.3-3.9.3-1.9.3 5.4.3 1.6.3-9.3.3 9.2.3-10.3.3 11.5.3-8.5.3.8.3 2.9.3 1.9.3 2.4.3-2.7.3-2.5.3-7.9.3 4.3.3 2.4.3-2.1.3 5.1.3-2.6.3 8 .3-7.2.3-3.7.3 3.5.3-.6.3 5.6.3 2.6.3-1.3.3.5.3-6.3.3-1.8.3-2.8.3 7.2.3-1.5.3 2.2.3 3 .3-3.4.3 6.7.3-9.2.3 5.7.3-2.7.3 4.2.3-3.8.3-2 .3 1.2.3-2.6.3-1 .3 7.1.3-5.2.3 6.6.3 5 .3-11 .3 4.9.3-3.2.3-7.2.3 7.1.3 5.9.3-10 .3 3.9.3 0 .3-5.1.3 6.3.3-1.5.3 2.7.3-1.7.3-5.7.3 6 .3 1.9.3-4.1.3 3.3.3 0 .3-10.5.3 10.6.3-10 .3 3.3.3 3.9.3-3.1.3.4.3 7.4.3-8.3.3 8.5.3 2.6.3-1.7.3-14.5.3-4 .3 13.2.3 8 .3-8.6.3-1.5.3 1.6.3 6.9.3-1.5.3-4.9.3-.6.3 2.6.3-1.9.3-2 .3-5.1.3 6.9.3-3 .3 1.3.3-.2.3-2.6.3 5.4.3 2.3.3-2.3.3-4.4.3 3.3.3 2 .3-2.9.3 3.1.3-8.2.3 4.1.3 5.8.3-1.8.3-4.2.3 1 .3 7.5.3-4.1.3-6.5.3 3.9.3-2.7.3-.8.3-2.5.3 6.9.3 5.6.3-5.4.3-7.6.3 7.3.3-7.9.3 6.5.3 3.4.3 1.6.3-5.2.3.6.3-.7.3-.7.3 6.9.3-9.7.3-2.3.3 12.6.3 1.8.3-14.8.3 9.5.3.4.3-4.8.3-2.2.3 4 .3-1.9.3 4.2.3-6.2.3 5.7.3-8.6.3 6.1.3-6.1.3-3 .3-9.1.3-1.2.3 1.7.3 7.4.3-3 .3 3 .3 5.3.3 4 .3-1.6.3-.3.3-5.5.3 1.7.3-2.8.3 12.4.3-8.4.3 3.7.3-6.4.3 6.1.3 3.1.3-4.8.3 2.1.3 1 .3 2.5.3.4.3-6.5.3 6.4.3-.3.3.3.3-4.3.3 3.1.3 5.3.3-1 .3-6.8.3 8.8.3-8.1.3-1.9.3 7.3.3-2.9.3 7.4.3-9.5.3 1.2.3 2 .3-1.7.3-5 .3 3.7.3 0 .3.2.3-.2.3-6.4.3 9.5.3-5.5.3 1.3.3-2.1.3 1.9.3 4.4.3 1 .3-3.6.3-.9.3-2.6.3.9.3 2.2.3-1.7.3-3.5.3 3.9.3-4.2.3 11.5.3-7.1.3-3.6.3 3.9.3-4.5.3 1.7.3 6.9.3-1 .3-9.5.3-.3.3 2.1.3 10.8.3-8.3.3.6.3-2.8.3 6.8.3-1.2.3-10 .3 3.5.3-3.5.3 2.8.3 1.4.3-1.7.3 3.1.3 5.4.3 1.4.3-3.8.3 2.5.3-8.1.3 11 .3 3.2.3-9.3.3 2.9.3 1.2.3-11.1.3 12.4.3-2.3.3-8.1.3 5.3.3 5.8.3-2.4.3-7.6.3 3.3.3-.6.3 2.9.3-3.4.3 2.8.3-.7.3-4.9.3 7.2.3-.4.3-3.3.3 8.9.3 2 .3-14.6.3 6.9.3 2.7.3-3 .3-2 .3 10.2.3-9.8.3 1.7.3-1.9.3 7 .3-12.9.3 4.8.3 1.8.3 3.1.3.3.3 2.5.3-3.9.3-2.4.3 2.6.3-7.2.3 5.1.3.3.3 2.7.3 2 .3-7.5.3 1.9.3 2.1.3.1.3-1.3.3 2.9.3-3.9.3-5.6.3 11.4.3-9.8.3 11 .3-5.2.3.1.3-6.6.3 6.4.3-2.3.3-2.8.3 5.3.3 1.1.3 2.1.3-9.5.3 1.4.3 8.3.3-2.9.3.9.3-4.9.3 3.2.3 1.7.3-7.3.3 2.1.3 3.7.3 4.4.3-7.1.3 4.2.3-5.8.3-1.2.3 6.9.3-6.2.3 3.7.3-2.5.3 4.2.3-6.5.3-.3.3-.4.3 4.7.3 5.6.3-1.5.3-2.1.3-1.4.3 5.1.3-5 .3 4.4.3 1.2.3-2.5.3-1.2.3-.1.3-1.8.3 1.8.3-4.1.3.5.3 9 .3-6.3.3-6 .3 11.2.3.2.3-3.4.3-6 .3 11.6.3-3.2.3.5.3-5.5.3 2.3.3-2.7.3.2.3-3.7.3 1.6.3 1.5.3 1.4.3 3.6.3-1.7.3-8.6.3 10.8.3-9.4.3 7.3.3-2.4.3 1.1.3-1.8.3-2 .3 9.9.3-15.3.3 5.6.3 7.8.3-4.6.3 0 .3-2.8.3-.7.3 6.4.3-3 .3 2.1.3 1.9.3-9.2.3 2.4.3 1.3.3 3.6.3 1.8.3-6.4.3 2.6.3 0 .3.3.3 5.9.3-8.3.3 3.3.3-9.6.3 8 .3 1 .3 2.2.3-4.4.3-.4.3-2.8.3 2.6.3 10.5.3-15.6.3.5.3 6.8.3-3.9.3 8.1.3-10.1.3 11.8.3-7.8.3-4.4.3-2 .3 5.3.3 1 .3 3.7.3-6.3.3 16 .3-8.4.3-3.5.3-1.2.3 12 .3-13 .3 5.5.3 2.9.3-9.5.3 5.6.3-3.9.3 7.1.3 0 .3-3.7.3-1.8.3-4.8.3 13.8.3-3.7.3-2.9.3 3.2.3-5.9.3-4.3.3 8.3.3-7.5.3 1.4.3 4.9.3-8.9.3 5.7.3-1.2.3-3.5.3-.2.3 3.8.3 0 .3 1.5.3-6 .3 6.1.3-5.1.3 2 .3 7.5.3-6.2.3.7.3-1.6.3 2.9.3 3.3.3-4.7.3 4.1.3-7.2.3 6.6.3-2.3.3.6.3-3.6.3 1.1.3 3.7.3-5.2.3 7.3.3-4.3.3 3.5.3-5.8.3-1.7.3 8.9.3.5.3-2.5.3 3.1.3-2.5.3 2.7.3-1.5.3-4.2.3 7.7.3-7.5.3 12.1.3-9.2.3-3.2.3 2.9.3 1 .3.2.3 1.2.3-4.4.3-5.8.3 4.3.3 4.2.3 2.4.3-11.6.3 7.1.3 3.8.3-9.3.3 11.4.3-9.5.3 2.5.3-1.7.3 8.4.3-3.7.3-2.6.3-2 .3-5 .3 5.2.3-1.4.3 1.8.3-7 .3 11.6.3-1.5.3 2.8.3-7.8.3 2.4.3-4.7.3 8.3.3-4.1.3 7.2.3-3.5.3.2.3-1 .3-7.8.3 8.5.3-8.8.3 7.7.3.9.3-6.7.3 1.9.3 1.9.3 1.7.3.3.3-.8.3-3.6.3 4 .3 8.5.3-11.6.3 7.9.3-10.6.3 2.2.3 7.8.3-1.9.3 2.8.3-3.6.3-4.7.3 2.4.3-2 .3 5.5.3-1.3.3 2.5.3-7.2.3 1.5.3-.7.3-.5.3.9.3 5.5.3-4.7.3 3.6.3-3.3.3-7.5.3-4.5.3 11.2.3 5.6.3-4.2.3-5.8.3 5.8.3-1.6.3 3.5.3.9.3-2.2.3-3.2.3-1.8.3 2.3.3 1 .3 1.3.3-2.9.3-1.2.3 4 .3 1.5.3-.8.3-6.3.3 2.9.3 9.1.3-12.2.3 3 .3 4.3.3-6.8.3 2.8.3 6.2.3-1.3.3-10.4.3 8.9.3-3.5.3-4.1.3 9.3.3-6.3.3 1.7.3-3.1.3 6.5.3.2.3-.8.3 6.2.3-6.8.3-3.9.3 3.2.3-.3.3 1.5.3-11.7.3 11.8.3 4.4.3-4.5.3-5.4.3 21.2.3-14.9.3 4.9.3 1.4.3-9.7.3-4.4.3 6.5.3 1.4.3-3.5.3-3.7.3 8.4.3-6.4.3 8.1.3-7.4.3 3.6.3-2.9.3 3 .3.6.3-9.6.3 6 .3 1.4.3.4.3 2.7.3 5.2.3-7.2.3 6.8.3-3.5.3-1.2.3-2.9.3 2.3.3-1.4.3 5.4.3 3.4.3-3.4.3 1.8.3-3.6.3 9 .3-4.1.3 6.1.3 5.8.3-4.6.3 1.5.3-6.5.3-6.3.3-4.6.3.5.3-1.4.3-1.5.3 4 .3-6.6.3-2.9.3.7.3 1.4.3.2.3 2.7.3 6.8.3-9.6.3.6.3 1.3.3-1.8.3.6.3 5.3.3 2.6.3-7.8.3 2 .3 3.3.3-2.1.3-1.6.3 2.1.3-1.9.3-2.7.3 4.7.3-4.1.3.3.3 3.1.3-5.3.3 6.9.3-4.7.3-1.5.3 5.5.3.1.3 1.2.3 1.3.3-8.5.3 2.9.3-3.2.3 1.4.3 10.8.3-6.5.3-.4.3.8.3-3.2.3 6.4.3-8.3.3 6.2.3-4.7.3-.7.3 10.5.3-9.1.3 4.3.3-4.9.3.2.3 7.4.3-2.8.3-1.3.3 1.6.3.5.3.9.3-1.3.3.6.3-1.5.3-1 .3 3.8.3-12.3.3 11 .3-2.6.3.5.3-1.6.3-1.9.3 5.1.3-6.5.3-3.5.3 3.4.3 10 .3-5.7.3 0 .3-11.5.3 11.6.3 2.4.3-6.9.3 4.5.3.7.3 1.3.3 1.9.3 3.6.3-7.2.3.3.3-2.8.3 6.1.3-3.7.3 2.1.3 1 .3-2.7.3-.1.3 1.1.3.4.3-.2.3-1 .3.4.3 4.7.3-7.1.3 2.8.3-.6.3 3.9.3-5.7.3 1.1.3-1 .3 4.7.3-.2.3-.8.3-1.4.3 7.6.3-7.4.3-8 .3 1.6.3 0 .3 3.9.3-3.6.3 5.1.3-5.1.3 5.1.3-1.7.3 4 .3-1.7.3-3.3.3 9.9.3-11.2.3 2.1.3-3.2.3 8.8.3-.2.3-3.4.3-8.6.3 12 .3 3.6.3-9.9.3 5.4.3 1.4.3-2.8.3-4.6.3 2.4.3-.9.3 4.5.3-8.6.3 8.5.3-1.2.3-6.4.3 1.9.3 5.6.3 2.9.3-1.9.3 7.6.3-9.8.3-5.6.3 4.8.3-6.5.3-3.1.3 12.7.3-7.5.3.4.3 10.1.3-9.2.3 0 .3 6.1.3 4 .3-13.8.3 2.6.3 1.8.3 5.1.3-2.4.3 3.3.3-15.9.3 11.7.3 5.5.3-12.3.3 10.7.3-7.3.3 4.2.3-4.6.3 6 .3.2.3-3.9.3 7.2.3-9.6.3 7.3.3-7.8.3 8.5.3-.5.3-5.8.3 8.4.3-6.2.3-5.1.3 4.1.3 4.2.3-3.4.3 3.4.3 1.4.3-2.1.3-1.5.3-1.3.3.8.3 3.7.3-7.9.3 1.6.3 3.6.3-7.1.3 7.5.3-3.5.3 1.7.3-4.3.3 1.6.3 5.1.3-8.7.3 8.5.3.3.3-3.9.3-7.6.3 3.1.3 5.5.3 2.4.3-8.8.3 6.7.3-.5.3-6.2.3 6 .3-3.2.3-3.1.3 12.5.3-9.3.3-2.5.3-.1.3 12.1.3-3.4.3-1.5.3-5.2.3 4.4.3-1.2.3 2.2.3-8.3.3 8.5.3 1.2.3-6.9.3-.7.3 3.2.3-5.1.3 3.6.3-.4.3 6.1.3-8.7.3 2.8.3 6.5.3-11.7.3 10.3.3-5.4.3 3.9.3-2.4.3 2.8.3-14.6.3 10.2.3-5.6.3 7.3.3-1.1.3 3.1.3 5.9.3-4.5.3-.3.3.9.3-3.6.3 6.8.3-2.7.3-2.3.3 4.6.3-6.3.3-.6.3-1.2.3-1.8.3 1 .3 9 .3-5.7.3 1.9.3 2.8.3-3.6.3-3.9.3.1.3 1.7.3 5 .3-5.1.3-.5.3 4.2.3-1.7.3.2.3.9.3 5.9.3-8 .3-.5.3 8.7.3-9.8.3-3 .3 9.9.3-5.4.3 2 .3 0 .3-4.6.3 6 .3-6.3.3 8.1.3 1 .3-6.9.3 5.7.3-5.5.3 2.2.3-12 .3-13.1.3-4.4.3 9.5.3-2.5.3 8.2.3-1.5.3 5.6.3-4.4.3 10.4.3 1.5.3-5.8.3 5.2.3-3.9.3 4.5.3-2.3.3-.5.3 6 .3-8.6.3 14.8.3-12.3.3-10 .3 18 .3-5.3.3 6.6.3-7.7.3 10.9.3-1.2.3-9 .3 11.3.3-9.3.3 1.7.3-2.3.3 3 .3.7.3-2.3.3 1.7.3-.6.3 1.2.3-6.4.3 3.2.3-3.2.3 4.3.3.3.3-.4.3-2 .3 9.6.3-10.6.3 5.7.3-3.5.3 7.6.3-.8.3-2.9.3 1.1.3-5.9.3-.6.3 6.4.3-2.7.3-6.7.3 4.3.3-6 .3-2.8.3 2.5.3-3.1.3-4.1.3-2.2.3-1.4.3 5.5.3 3.2.3 1.6.3 13.1.3-8.2.3 2.9.3-3.2.3 2.7.3 1.2.3 2.2.3-13.6.3 15.6.3-2.1.3-.4.3-5.7.3-2.7.3 2.6.3 6.5.3-.2.3-2.3.3 2.9.3-6 .3-.3.3 9.4.3-.4.3-.8.3 1.4.3-4.2.3-8.7.3 7.6.3 5.1.3-4.6.3 3.5.3-.1.3-5.6.3 5.4.3-1.6.3-5.8.3 9.1.3-8.1.3 5.7.3.2.3-5 .3-.9.3 5.2.3-1 .3 3.5.3-3.7.3 1.1.3-1.2.3 2 .3-7.3.3-3.2.3 9 .3-2.8.3-2.3.3 9 .3-12 .3 4.4.3 4.3.3-4.4.3-.8.3 3.3.3-2.7.3-5.2.3 1.3.3 7.5.3-.1.3-7.1.3 5.1.3 1.3.3-.1.3 2.9.3-1.6.3-3.9.3-1 .3 3.3.3-6.6.3-1.8.3 9 .3 1 .3-1.9.3-1.5.3-7.6.3.9.3 2.5.3 8.6.3-7 .3 2 .3-3.6.3 7.8.3-12.6.3 13 .3-6.4.3-9.8.3 10.3.3 2 .3-.3.3-.5.3-2.8.3.3.3 1.4.3-2.5.3 8.9.3-11.3.3 4.9.3-1.8.3-4.3.3 10.8.3-4.4.3-2.7.3-.7.3 2.3.3 6.6.3-4.4.3-4.1.3 4.2.3-2.9.3 4.3.3-.1.3.9.3-1.5.3-1 .3-5.2.3 5.9.3 3.4.3-9.7.3 8.9.3-5.5.3 0 .3.3.3 5.2.3-2.3.3.6.3-4.8.3 9.2.3-9.6.3 8.7.3-.2.3-1.9.3-7.4.3 4.8.3-2.8.3 8.8.3-3.4.3-.8.3-.9.3-.1.3 3.3.3 4 .3-4.9.3 2.1.3-2.4.3-.9.3-6 .3 2.9.3-1.2.3 4.9.3-12.7.3 2.6.3 5.8.3 3.7.3-3 .3.8.3 3.6.3 2.4.3.9.3-3.9.3 1.7.3-4.9.3-2.2.3 5.6.3 3.7.3-3.6.3-9.3.3 11.3.3 3 .3-4.2.3-3.4.3-2.4.3-1.3.3 17 .3-13.9.3.6.3 0 .3.2.3 2.4.3-2.6.3 2.5.3-3.1.3-1.6.3-3.9.3 6.5.3 4.7.3-2.1.3 2.2.3-5.2.3-2 .3.4.3-1.3.3 7.2.3 1.8.3-7.5.3 4 .3-7.1.3 6.6.3 2.2.3-6.1.3 7.5.3-6.2.3 2.6.3 4.9.3-11.7.3 7.5.3-2.7.3 6.8.3-5.8.3-.5.3 2.3.3 4.9.3-8.5.3-1.3.3.4.3 6.5.3-10.6.3 2.7.3 2.2.3-4.5.3 6.5.3-2.5.3-4.8.3 16.3.3-4.7.3-4.4.3-1.4.3-.8.3-4.3.3 2.6.3 4.9.3.4.3 4.6.3-5.7.3-2.4.3 5.8.3-1 .3-7 .3 1.9.3 5.6.3-6 .3 3 .3-3.6.3 7.6.3 3.6.3-15.5.3 3.6.3 6.5.3-1.5.3-.7.3-5.2.3-1.6.3 5.4.3 5.1.3-.1.3 5.6.3-14.9.3 7.1.3-.4.3 6 .3-10.4.3 7.7.3-11.2.3 10 .3-7.4.3-.3.3 5.1.3-3.5.3 2.9.3-1.5.3-2.6.3 5.8.3-4 .3-1.6.3 0 .3-4.1.3 2 .3 6.1.3-.7.3-1.4.3 5.5.3-4.5.3 0 .3 1.7.3-.8.3 3.3.3-6.4.3 2.5.3-.3.3-1.5.3 1 .3 4 .3 2.5.3-5.5.3-.2.3.6.3 2.8.3-2.3.3 3.7.3.4.3-3.2.3-6.9.3.2.3-.2.3-.7.3 5.2.3-6.7.3 4.1.3-4 .3-2.2.3 8 .3-10.2.3 10.3.3-10.3.3 7.7.3-1 .3-.1.3-1.1.3-1.6.3 2.4.3 7 .3-.8.3 5.2.3-3.8.3-1.8.3-1.3.3-1.2.3 6.2.3-6.4.3.1.3-1.4.3 4.4.3 10.2.3-13.4.3-5.3.3 3.5.3 6.2.3-4.5.3-.1.3 4.1.3-2.8.3-3.6.3 4.8.3-5.6.3 3.4.3 6.8.3-15.7.3 22.6.3-20.6.3 7.7.3-8.9.3 7.1.3-1.7.3.6.3-1.2.3 9.1.3-1.6.3-9.7.3-.7.3 6.4.3-4.4.3 12.8.3-1.7.3-2.9.3-8.4.3 3.8.3 6.8.3-7.4.3 6.5.3-2.6.3 3.3.3-3.7.3-.2.3-4.3.3 4.7.3-2.4.3 6.1.3-8.3.3 8.7.3.5.3-1.6.3-8.4.3.7.3 5.4.3-.3.3-1.9.3.5.3-3.4.3.1.3-.3.3 1.9.3 1.9.3-1.2.3-2.2.3 7.7.3-3.3.3-4.7.3 13.8.3-20 .3 12.3.3-1.4.3-3.1.3-1.5.3 3.7.3 4.4.3-.4.3-1.5.3-1.8.3-.8.3 3.2.3-3.6.3.3.3 3.9.3-7.2.3 3.6.3-1.5.3-3.1.3 8.9.3-9 .3 1.6.3-2.3.3 4.9.3.3.3 3.7.3-.3.3-.1.3-2.2.3-.5.3-4.7.3-2.9.3 8.5.3-7.4.3 5.8.3 2.8.3-5.9.3 5.4.3-5 .3.3.3 2.7.3 4.4.3-11.7.3 5.8.3-3.6.3 3.9.3.9.3-7.1.3 1.6.3 7.2.3-1.6.3-4 .3 3.2.3 3.4.3 0 .3-11.4.3 5.6.3 8.2.3-7.5.3-.2.3 2.3.3.9.3 1.3.3-.6.3-4.6.3 4.7.3 1.2.3-2.4.3-1 .3-1.7.3 3.5.3-5 .3 3.1.3.9.3-8 .3 9.9.3-6.9.3 2.2.3-.1.3 1.7.3.5.3 3.4.3-6.1.3 2.6.3 3.3.3-3.6.3-.5.3 3.5.3 2 .3-.4.3-7 .3 5.5.3-.8.3 6.4.3-6.6.3-.8.3 6.1.3-8.2.3 7.4.3-.5.3-4.8.3 1.3.3 1.6.3 6 .3-7.2.3-2.3.3 4 .3-2.1.3-3.7.3 3.2.3 1.4.3 3.1.3-2.8.3-.2.3-3.9.3 6 .3-6.2.3-.1.3 1 .3-1.2.3 3.1.3 2.1.3-2.4.3-1.9.3 2.5.3-2.8.3 5.9.3 1.6.3-6 .3-.6.3 4.8.3 4.7.3-9 .3 5.9.3-3.2.3-6 .3 3.1.3 1.6.3-3 .3 8.9.3-15.6.3 6.8.3 0 .3-.8.3.3.3 2.8.3 1.8.3-1.6.3 2.3.3-3 .3-7.8.3 5.6.3 7.3.3-6.8.3.5.3 3.2.3.7.3-2.2.3 3.3.3 2 .3.8.3-5.5.3-5.5.3 1.1.3-.5.3 5.1.3 3.5.3-3.1.3 1.7.3 8 .3-15.8.3 9.5.3-4.9.3-2.2.3.8.3-.1.3 8.4.3-5.6.3 3.3.3-10.3.3 10.6.3-4.1.3 1.8.3-7.1.3 5.5.3-1.6.3-1.4.3.9.3.3.3.8.3-4.3.3 6.2.3-7.8.3 1 .3-2.4.3-3.5.3 17 .3 0 .3-8.4.3.1.3-2.1.3 3.4.3-.2.3-4.3.3 3.8.3-4.9.3 4.2.3 5.3.3-2.1.3-1.8.3-1.8.3 8.5.3-8.2"/>
<text x="1022" y="318.8" font-family="'Liberation Sans',Arial,sans-serif" font-weight="bold" font-size="16.70" textLength="41.7" lengthAdjust="spacingAndGlyphs" fill="#000">(006)</text>
<text x="1090.2" y="230.6" font-family="'Liberation Sans',Arial,sans-serif" font-weight="bold" font-size="16.81" textLength="41.3" lengthAdjust="spacingAndGlyphs" fill="#000">(110)</text>
<text x="1181.9" y="234.9" font-family="'Liberation Sans',Arial,sans-serif" font-weight="bold" font-size="16.70" textLength="40.4" lengthAdjust="spacingAndGlyphs" fill="#000">(203)</text>
<text x="1222.1" y="281.2" font-family="'Liberation Sans',Arial,sans-serif" font-weight="bold" font-size="16.70" textLength="40.4" lengthAdjust="spacingAndGlyphs" fill="#000">(205)</text>
<text x="1379.3" y="271.1" font-family="'Liberation Sans',Arial,sans-serif" font-weight="bold" font-size="16.38" textLength="40.5" lengthAdjust="spacingAndGlyphs" fill="#000">(300)</text>
<text x="1417.7" y="252.2" font-family="'Liberation Sans',Arial,sans-serif" font-weight="bold" font-size="16.28" textLength="39.8" lengthAdjust="spacingAndGlyphs" fill="#000">(217)</text>
<text x="1486.9" y="262" font-family="'Liberation Sans',Arial,sans-serif" font-weight="bold" font-size="16.81" textLength="54.6" lengthAdjust="spacingAndGlyphs" fill="#000">(20 11)</text>
<text x="1537.3" y="313.7" font-family="'Liberation Sans',Arial,sans-serif" font-weight="bold" font-size="16.91" textLength="39.3" lengthAdjust="spacingAndGlyphs" fill="#000">(220)</text>
<text x="1601.5" y="311.5" font-family="'Liberation Sans',Arial,sans-serif" font-weight="bold" font-size="17.55" textLength="39.6" lengthAdjust="spacingAndGlyphs" fill="#000">(317)</text>
<text x="1144.7" y="122.2" font-family="'Liberation Sans',Arial,sans-serif" font-weight="bold" font-size="16.70" textLength="39.5" lengthAdjust="spacingAndGlyphs" fill="#000">(114)</text>
<text x="1120.3" y="146.9" font-family="'Liberation Sans',Arial,sans-serif" font-weight="bold" font-size="18.19" textLength="39.8" lengthAdjust="spacingAndGlyphs" fill="#000">(107)</text>
<text x="1008.2" y="61.5" font-family="'Liberation Sans',Arial,sans-serif" font-weight="bold" font-size="18.51" textLength="27.2" lengthAdjust="spacingAndGlyphs" fill="#000">(d)</text>
<text x="1008.2" y="92.1" font-family="'Liberation Sans',Arial,sans-serif" font-weight="bold" font-size="18.62" textLength="81.3" lengthAdjust="spacingAndGlyphs" fill="#000">(x=0.20)</text>
<text x="1215.3" y="91.7" font-family="'Liberation Sans',Arial,sans-serif" font-weight="bold" font-size="20.14" textLength="160.0" lengthAdjust="spacingAndGlyphs">Sr<tspan dy="8.2">1-x</tspan><tspan dy="-8.2">Ni</tspan><tspan dy="8.2">x</tspan><tspan dy="-8.2">Fe</tspan><tspan dy="8.2">12</tspan><tspan dy="-8.2">O</tspan><tspan dy="8.2">19</tspan></text>
<text x="974.3" y="562.6" font-family="'Liberation Sans',Arial,sans-serif" font-weight="bold" font-size="16.34" textLength="10.7" lengthAdjust="spacingAndGlyphs" fill="#000">0</text>
<text x="943.2" y="505" font-family="'Liberation Sans',Arial,sans-serif" font-weight="bold" font-size="16.34" textLength="41.8" lengthAdjust="spacingAndGlyphs" fill="#000">1000</text>
<text x="943.7" y="447.5" font-family="'Liberation Sans',Arial,sans-serif" font-weight="bold" font-size="16.34" textLength="41.2" lengthAdjust="spacingAndGlyphs" fill="#000">2000</text>
<text x="943.9" y="389.9" font-family="'Liberation Sans',Arial,sans-serif" font-weight="bold" font-size="16.34" textLength="41.0" lengthAdjust="spacingAndGlyphs" fill="#000">3000</text>
<text x="944.1" y="332.3" font-family="'Liberation Sans',Arial,sans-serif" font-weight="bold" font-size="16.34" textLength="40.8" lengthAdjust="spacingAndGlyphs" fill="#000">4000</text>
<text x="943.7" y="274.7" font-family="'Liberation Sans',Arial,sans-serif" font-weight="bold" font-size="16.34" textLength="41.2" lengthAdjust="spacingAndGlyphs" fill="#000">5000</text>
<text x="943.7" y="217.1" font-family="'Liberation Sans',Arial,sans-serif" font-weight="bold" font-size="16.34" textLength="41.2" lengthAdjust="spacingAndGlyphs" fill="#000">6000</text>
<text x="943.6" y="159.5" font-family="'Liberation Sans',Arial,sans-serif" font-weight="bold" font-size="16.34" textLength="41.4" lengthAdjust="spacingAndGlyphs" fill="#000">7000</text>
<text x="943.7" y="101.9" font-family="'Liberation Sans',Arial,sans-serif" font-weight="bold" font-size="16.34" textLength="41.2" lengthAdjust="spacingAndGlyphs" fill="#000">8000</text>
<text x="943.7" y="44.3" font-family="'Liberation Sans',Arial,sans-serif" font-weight="bold" font-size="16.34" textLength="41.2" lengthAdjust="spacingAndGlyphs" fill="#000">9000</text>
<text x="991.7" y="588.9" font-family="'Liberation Sans',Arial,sans-serif" font-weight="bold" font-size="19.15" textLength="21.9" lengthAdjust="spacingAndGlyphs" fill="#000">20</text>
<text x="1109.2" y="588.9" font-family="'Liberation Sans',Arial,sans-serif" font-weight="bold" font-size="19.15" textLength="21.7" lengthAdjust="spacingAndGlyphs" fill="#000">30</text>
<text x="1226.6" y="588.9" font-family="'Liberation Sans',Arial,sans-serif" font-weight="bold" font-size="19.15" textLength="21.5" lengthAdjust="spacingAndGlyphs" fill="#000">40</text>
<text x="1343.5" y="588.9" font-family="'Liberation Sans',Arial,sans-serif" font-weight="bold" font-size="19.15" textLength="21.9" lengthAdjust="spacingAndGlyphs" fill="#000">50</text>
<text x="1460.8" y="588.9" font-family="'Liberation Sans',Arial,sans-serif" font-weight="bold" font-size="19.15" textLength="21.9" lengthAdjust="spacingAndGlyphs" fill="#000">60</text>
<text x="1577.8" y="588.9" font-family="'Liberation Sans',Arial,sans-serif" font-weight="bold" font-size="19.15" textLength="22.1" lengthAdjust="spacingAndGlyphs" fill="#000">70</text>
<text x="1695.3" y="588.9" font-family="'Liberation Sans',Arial,sans-serif" font-weight="bold" font-size="19.15" textLength="21.9" lengthAdjust="spacingAndGlyphs" fill="#000">80</text>
<text x="1341.2" y="632.2" font-family="'Liberation Sans',Arial,sans-serif" font-weight="bold" font-size="26.86" textLength="14.3" lengthAdjust="spacingAndGlyphs" fill="#000">2</text><text x="1355.3" y="632" font-family="'Liberation Serif','Times New Roman',serif" font-weight="normal" font-size="23.83" textLength="14.8" lengthAdjust="spacingAndGlyphs" fill="#000">θ</text>
<text transform="translate(914.5,403) rotate(-90)" font-family="'Liberation Sans',Arial,sans-serif" font-weight="bold" font-size="26.71" textLength="174.2" lengthAdjust="spacingAndGlyphs">Intensity (a.u)</text>
<rect x="1462.6" y="51.1" width="238.8" height="120.4" fill="#fff" stroke="#000" stroke-width="1.2"/>
<rect x="1466.3" y="52.6" width="55.5" height="27.9" fill="none" stroke="#00c000" stroke-width="1.4"/>
<path stroke="#ff00ff" stroke-width="1.3" d="M1466.3 66.6H1521.5"/>
<path stroke="#0000ff" stroke-width="1.6" d="M1495.4 60.6v12"/>
<path stroke="#3a3aff" stroke-width="1.5" d="M1466.3 96.8H1521.5"/>
<path stroke="#ff3030" stroke-width="1.6" d="M1466.3 126.8H1521.5"/>
<ellipse cx="1492.9" cy="126.8" rx="1.6" ry="2.2" fill="#ff0000"/>
<path stroke="#222" stroke-width="1.4" d="M1466.3 158.4H1521.5"/>
<circle cx="1492.9" cy="158.4" r="1.8" fill="#fff" stroke="#222" stroke-width="0.9"/>
<text x="1527.7" y="75.2" font-family="'Liberation Sans',Arial,sans-serif" font-weight="normal" font-size="24.86" textLength="170.4" lengthAdjust="spacingAndGlyphs" fill="#000">Braggs position</text>
<text x="1529.2" y="103.8" font-family="'Liberation Sans',Arial,sans-serif" font-weight="normal" font-size="24.86" textLength="118.6" lengthAdjust="spacingAndGlyphs" fill="#000">Yobs- Ycal</text>
<text x="1529.2" y="133.9" font-family="'Liberation Sans',Arial,sans-serif" font-weight="normal" font-size="24.86" textLength="50.6" lengthAdjust="spacingAndGlyphs" fill="#000">Ycal</text>
<text x="1529.2" y="164.6" font-family="'Liberation Sans',Arial,sans-serif" font-weight="normal" font-size="24.86" textLength="56.3" lengthAdjust="spacingAndGlyphs" fill="#000">Yobs</text>
<path fill="none" stroke="#000" stroke-width="2.0" d="M991.5 1227H996M987 1194.7H996M991.5 1162.4H996M987 1130H996M991.5 1097.7H996M987 1065.3H996M991.5 1033H996M987 1000.6H996M991.5 968.3H996M987 936H996M991.5 903.6H996M987 871.3H996M991.5 838.9H996M987 806.6H996M991.5 774.2H996M987 741.9H996M991.5 709.6H996M996 1228V1239M1054.7 1228V1234M1113.4 1228V1239M1172.1 1228V1234M1230.8 1228V1239M1289.5 1228V1234M1348.2 1228V1239M1406.9 1228V1234M1465.6 1228V1239M1524.3 1228V1234M1583 1228V1239M1641.7 1228V1234M1700.4 1228V1239M996 708.4V719.4M1066.4 708.4V714.4M1136.9 708.4V719.4M1207.3 708.4V714.4M1277.8 708.4V719.4M1348.2 708.4V714.4M1418.6 708.4V719.4M1489.1 708.4V714.4M1559.5 708.4V719.4M1630 708.4V714.4M1700.4 708.4V719.4M1690.4 708.4H1700.4M1695.4 760.4H1700.4M1690.4 812.3H1700.4M1695.4 864.3H1700.4M1690.4 916.2H1700.4M1695.4 968.2H1700.4M1690.4 1020.2H1700.4M1695.4 1072.1H1700.4M1690.4 1124.1H1700.4M1695.4 1176H1700.4M1690.4 1228H1700.4"/>
<path fill="none" stroke="#000" stroke-width="2.5" stroke-linecap="square" d="M996 708.4H1700.4V1228H996Z"/>
<clipPath id="cb3"><rect x="996" y="1031.5" width="704.4" height="12"/></clipPath>
<clipPath id="rcb3"><rect x="996" y="1021" width="704.4" height="16"/></clipPath>
<path fill="none" stroke="#000" stroke-width="1.1" stroke-linejoin="round" d="M996.5 1034.7l.5.2.5-1.3.5 1.1.5-.3.5-.8.5.2.5-.4.5 2.7.5.2.5.3.5-1.8.5-.5.5-.3.5-.1.5.6.5.4.5.7.5-.4.5.2.5.3.5.3.5-.2.5-.9.5 0 .5 1.2.5 0 .5-.4.5-.5.5-.3.5 0 .5-.1.5.8.5.1.5-.1.5-1.7.5.5.5-.8.5.6.5-.4.5.8.5.6.5-.7.5-.3.5.2.5 1.2.5.4.5.1.5-.1.5-.5.5-.6.5-.3.5.4.5.4.5-.7.5-.2.5-1.2.5.8.5.1.5.4.5-.4.5-.8.5 1.1.5-1.1.5-.2.5-.4.5.1.5-4.7.5-8.6.5-9.4.5-1.7.5 6 .5 7 .5 7.2.5 2.5.5 2.9.5.4.5.5.5-1.4.5.9.5.6.5 1.3.5-.3.5-.1.5-.7.5-1 .5-.5.5 1 .5-.3.5.1.5-.9.5.9.5.6.5-.5.5-1 .5-.2.5 1.2.5 1.2.5.1.5-.7.5-.2.5-.3.5.6.5-.6.5.2.5-.4.5.6.5.1.5 1.3.5.5.5.6.5-2.3.5-.9.5-1 .5 1.3.5-1 .5.9.5.2.5.5.5-1 .5-1 .5.7.5.8.5 1.4.5-.1.5.1.5-1 .5 1 .5 0 .5.6.5-1.4.5-.5.5-1.1.5 1.3.5.4.5.3.5-1 .5-.1.5-.2.5-.2.5 0 .5 1.6.5.3.5-.5.5-1.8.5-.6.5.6.5 1 .5.7.5-.1.5-.4.5.1.5-1 .5-.3.5 0 .5.4.5 0 .5-.5.5.2.5.7.5.2.5.1.5 0 .5.5.5.9.5-1.4.5.1.5-1.1.5 1.1.5 0 .5.8.5.4.5-.3.5.2.5-.6.5-.2.5-.4.5-.1.5 1.1.5.1.5 1.4.5-1.1.5-.8.5-1 .5.4.5-.2.5.1.5-.6.5.7.5-1.9.5-2.3.5-4.6.5-1.4.5.8.5 2.6.5 3.1.5 2.4.5 1.3.5.5.5.3.5.1.5-.2.5-.9.5-.9.5.3.5-.8.5 1.2.5-.4.5 1.4.5-.3.5-.5.5-.3.5-.3.5.3.5-.1.5.2.5-.1.5-.4.5 0 .5-1 .5.3.5-.5.5 1.6.5.7.5-.4.5-.6.5-.7.5.4.5.1.5-.2.5-.4.5-.5.5 0 .5.7.5-.7.5.1.5-.2.5-.7.5-2.4.5-6.2.5-16.4.5-32.3.5-38.6.5-12.7.5 19 .5 32.8.5 30.6.5 17.2.5 7.3.5 1.6.5.9.5 1.6.5-.2.5.6.5-.9.5.7.5-.8.5.8.5-.3.5.7.5-1.4.5-.3.5.3.5 1 .5.7.5.3.5-.1.5-.4.5-.3.5-.1.5-.1.5-.1.5.2.5.1.5-.7.5-.5.5.6.5-.2.5-.8.5-1.6.5-.1.5-2.2.5-2.6.5-9.1.5-26.9.5-57.9.5-74.8.5-33.1.5 30.9.5 59.1.5 57 .5 35.7.5 15.8.5 6.6.5 1 .5 1.9.5-.3.5-.6.5-.4.5.3.5.7.5-.2.5.2.5.3.5-.1.5-.5.5.8.5.7.5.8.5.3.5.3.5-1.1.5-1.4.5-.1.5 1 .5.7.5.2.5-.7.5-.1.5-.7.5-.1.5-1.1.5-.8.5-.6.5-.5.5-.6.5-.8.5-2.5.5-7.4.5-28.5.5-63.4.5-85.7.5-44.2.5 31.1.5 67 .5 65.3.5 40.4.5 18.7.5 6.7.5 4.7.5.4.5.5.5.5.5.2.5 1 .5.1.5.7.5 0 .5-.7.5.4.5-.5.5-.1.5-1.1.5-1.8.5-8.5.5-12.7.5-8.8.5 2.7.5 9.5.5 9.4.5 7.3.5 2.2.5-.4.5-5.5.5-7.2.5-6.4.5 0 .5 5.1.5 5.4.5 6.2.5 3.4.5 1.2.5.5.5.2.5 1.1.5-.6.5.8.5-.2.5.3.5-1.1.5-.3.5.5.5.1.5.6.5-.1.5.8.5-.2.5-.3.5-1.7.5-.3.5.3.5.9.5 0 .5-.8.5-.5.5-1.2.5.3.5-1.1.5-3.9.5-14.2.5-28 .5-35.8.5-17.2.5 13.9.5 29.3.5 28.9.5 18.6.5 7.6.5 2.7.5.8.5.5.5-.6.5.7.5-.1.5 1.5.5-1.6.5.3.5-.5.5.9.5-.1.5 0 .5.4.5-.4.5-.5.5.3.5.9.5.2.5-.5.5-.5.5.4.5-.5.5-.8.5-.4.5 0 .5.3.5 0 .5.8.5-.2.5.3.5-1.1.5.8.5-1.2.5.3.5 0 .5.6.5.3.5-.6.5.4.5.4.5.2.5.3.5-.3.5-.3.5-.7.5.9.5.7.5.9.5-.6.5-.6.5-.2.5-.3.5.5.5-.1.5-.2.5-.5.5-.5.5 1.1.5 1.2.5-.1.5-1.2.5-2.8.5-.8.5-2.8.5-8.1.5-18.2.5-24.6.5-10.6.5 9.6.5 19.3.5 18.9.5 11.7.5 4.9.5.6.5.4.5 1 .5.3.5-.3.5.1.5.6.5.6.5.3.5 1 .5.3.5.2.5-.3.5 0 .5 0 .5-1.1.5-.3.5-.3.5 1.5.5-.4.5.2.5-.6.5.8.5-.2.5-.3.5-.7.5-.4.5.2.5-.1.5.3.5.8.5-.2.5-.2.5-1.1.5.4.5-.8.5-.5.5-.8.5-.5.5-4 .5-11 .5-17.9.5-13 .5 3.3.5 13.1.5 14.3.5 9.8.5 4.5.5 1.7.5.3.5.9.5.3.5-.3.5.5.5.9.5.5.5-.3.5-.7.5.6.5-.9.5.7.5-.6.5 1.3.5-.7.5 0 .5-.6.5.4.5-.3.5-.1.5-.7.5-.4.5.9.5.5.5.8.5 0 .5-.8.5 0 .5.3.5.9.5-1 .5-2.6.5-1 .5 1.7.5 1.4.5.4.5-.2.5-.2.5.2.5.1.5.7.5.1.5-.7.5 0 .5-.4.5.9.5 1.1.5-.2.5-1.7.5-1.5.5.5.5 1.7.5.7.5-.6.5-.9.5.1.5-.2.5 1 .5-.8.5 1 .5-.2.5.5.5 0 .5-.8.5-.3.5-.4.5.7.5.4.5-.1.5-.5.5-1 .5 0 .5.7.5-.1.5.8.5-.3.5.3.5-1.2.5-.1.5.5.5-.2.5.4.5.5.5 1 .5-.4.5.3.5.3.5-1.1.5-2.6.5-4.1.5-4.7.5-4.7.5 1.5.5 3.6.5 5.4.5 2.4.5 2.1.5.3.5-.1.5-.1.5.9.5.2.5.5.5-.6.5-.1.5.1.5-.5.5.8.5-1 .5.6.5-1.1.5-.2.5.3.5.7.5.5.5-.8.5.2.5-.8.5-.3.5-.3.5.3.5.2.5 0 .5.4.5.2.5.9.5.6.5.7.5-.9.5-.7.5-1.4.5-.1.5-.8.5.4.5.6.5 1.8.5.8.5-.8.5-.6.5-.9.5.9.5-.3.5.8.5.9.5.5.5.7.5-1.2.5-.6.5-.5.5.8.5-.2.5-.6.5-1.6.5.2.5.4.5.7.5-.2.5-1.2.5.2.5.7.5 1 .5-.1.5-1.1.5.6.5-.2.5.5.5-.6.5-1.1.5-.2.5-.7.5.8.5 0 .5-.9.5-2.7.5-3 .5-2.6.5-1.5.5-2.6.5-2.2.5.2.5 1.9.5 2.9.5 1.3.5 3.2.5.7.5 2.3.5 1.4.5 2.2.5.8.5-1.3.5.9.5-.6.5.8.5-.6.5.2.5.3.5-.7.5.2.5-.5.5.5.5.6.5.5.5.1.5-.5.5-.7.5-.1.5.7.5.2.5.4.5-.5.5-.3.5.2.5-.4.5.4.5.3.5 0 .5 0 .5-1.6.5.3.5-.7.5.6.5 0 .5.8.5 1 .5.4.5.3.5-.9.5-.2.5-.8.5-.8.5.1.5 1.2.5 1.2.5-.3.5 0 .5-.5.5 0 .5-1.5.5-.2.5.2.5 1.6.5.3.5-.4.5-1.3.5 0 .5-.3.5.3.5.5.5 1 .5.2.5-1 .5-1 .5.3.5 1.2.5 0 .5-.6.5-.6.5 1 .5-.1.5-.5.5-1 .5-2.3.5-4.9.5-8 .5-5.4.5 2.1.5 5.5.5 7.1.5 4.2.5 2.5.5.3.5-.2.5.5.5-.1.5.4.5-.2.5.4.5.2.5-.7.5.2.5-1.3.5-.2.5-1.2.5.5.5-.5.5-.2.5-2.3.5-2.5.5-6.3.5-11.9.5-17.3.5-19 .5-10.2.5 1.1.5 11.8.5 17.4.5 16.1.5 11.8.5 5.6.5 2.6.5 2 .5.5.5 1.9.5.6.5-.1.5-1.4.5-.5.5-.1.5.7.5.3.5.5.5-.2.5.2.5 1 .5.8.5-.4.5-.5.5-1.4.5-.3.5-1.7.5-1 .5-4.2.5-6.8.5-12.2.5-16.9.5-22.4.5-21.5.5-12.5.5 2.9.5 14.4.5 21.2.5 20.7.5 17.5.5 11.2.5 5.7.5 1.5.5 1.4.5 2.1.5 1.7.5.7.5-.6.5-.7.5.1.5.3.5 1 .5-1.7.5-1.7.5-4.4.5-3.3.5-1.9.5 2.4.5 3.1.5 4.3.5 2.3.5.8.5-.9.5-.4.5 1.2.5-.3.5.1.5-.4.5 1.5.5.4.5.1.5-.2.5.6.5-.3.5.4.5-.4.5.8.5-1.4.5.4.5-1.4.5-.2.5-.2.5.3.5.9.5-.7.5 1.2.5-.2.5-.1.5-.7.5.5.5.2.5.1.5.6.5.8.5-.2.5-1.3.5-.2.5-.7.5-1.3.5-.6.5.2.5 2.4.5.4.5 0 .5-1.4.5.1.5.1.5.2.5-.4.5.1.5-.9.5-2.6.5-3.3.5-1.4.5.3.5 3.6.5 2.3.5 3.4.5-.7.5.4.5-.4.5.5.5.3.5.2.5-.5.5-.5.5.1.5.8.5-.1.5-.5.5-.4.5-.4.5-.5.5.9.5.3.5.7.5-1.1.5.8.5.9.5.2.5-.4.5-1.2.5 1 .5.2.5-.1.5-.2.5-.3.5.6.5-.5.5-.5.5-.5.5.2.5.3.5-.2.5.7.5-.1.5.2.5-1.4.5.4.5.8.5.4.5.1.5-1.3.5-.3.5-.7.5.7.5.4.5-.8.5 1.5.5-.7.5 1.2.5-1.3.5.8.5-.1.5-2 .5-1.2.5.1.5.7.5-.4.5-2.2.5-.3.5-2.5.5-7.1.5-15.8.5-23.2.5-24.8.5-14 .5 5.1.5 19.7.5 24.2.5 19.3.5 11.7.5 5.9.5 2.5.5.9.5.9.5.5.5 1 .5-.1.5-.2.5.4.5 0 .5.5.5 0 .5-.6.5-1 .5-.3.5 0 .5 1.5.5.3.5.3.5-.4.5.5.5.9.5.1.5-.4.5-.7.5-.2.5 0 .5.1.5.3.5-.9.5-.8.5-1 .5.4.5 1.5.5 1.4.5-.3.5-1.4.5-.2.5.7.5.1.5.2.5-.2.5 1.3.5-.3.5.3.5-.5.5-.7.5-.8.5-1 .5-.5.5-3.1.5-3.2.5-.6.5 2.9.5 4 .5 2.2.5-.2.5-.6.5-.6.5.8.5-.7.5.3.5.1.5.6.5.1.5.5.5.5.5.5.5-.1.5.2.5-.4.5-.7.5.4.5-.4.5-.2.5-.2.5-.2.5.6.5.2.5.4.5-.2.5-.1.5.3.5-.8.5-1.2.5.2.5.9.5-.4.5-1.6.5-.5.5-.6.5-2.6.5-7.4.5-8.6.5-4.7.5 4.4.5 8.3.5 7.2.5 4.7.5 1.4.5 1.3.5-.4.5-1 .5-.6.5.4.5 1.1.5 1.1.5.1.5 0 .5-.8.5-1.1.5-.3.5.5.5.6.5-.8.5-.5.5-.8.5.8.5-.2.5.6.5.1.5.6.5.8.5-.7.5-1.2.5-.2.5 1.3.5 1.8.5-.3.5-.5.5-.6.5-.8.5-.6.5.2.5.4.5 1.2.5-1 .5.1.5-.4.5.4.5-.3.5-1.2.5-.1.5 1.3.5.9.5.6.5-1 .5.2.5-.2.5-.2.5-.6.5 0 .5 1.1.5.2.5.1.5.4.5-.3.5-.9.5-.5.5.6.5.6.5-.4.5-.4.5.3.5-.3.5.6.5-.8.5-.3.5-.3.5.3.5.8.5-.1.5 0 .5-.3.5-.2.5-.5.5-.7.5-.1.5.5.5.6.5.9.5.5.5.8.5.2.5-.4.5-.1.5 0 .5-.1.5-.7.5-.1.5.4.5.3.5-.4.5.2.5-.7.5-.2.5-.8.5-.6.5-3.6.5-3.6.5-2.7.5 1.8.5 2.8.5 2.9.5 1.6.5.7.5 0 .5.4.5 1 .5-.3.5.5.5-1.3.5-.1.5-.8.5.6.5-2.5.5-7.6.5-11 .5-8.2.5 1.7.5 6.9.5 8.7.5 7.1.5 4.1.5.9.5 1.5.5-.2.5.7.5-.7.5.1.5 1.4.5.2.5-.2.5-1.3.5-.8.5 0 .5.6.5-.1.5 1 .5-.4.5.2.5-.3.5-.9.5-.4.5-.2.5 1 .5.4.5-.1.5-.3.5-.1.5-.9.5-.8.5.4.5-.9.5-1.8.5-2.8.5-.3.5 1.4.5 1.4.5 1.6.5 1.2.5 1.1.5.3.5.7.5.1.5.3.5.9.5.4.5-1.2.5-.5.5-1.3.5.1.5-.1.5.2.5.6.5.2.5 0 .5-.4.5-.4.5.9.5.7.5-1.1.5-1.3.5-1.4.5-1.2.5-4.1.5-3.8.5-.3.5 2.9.5 4.1.5 2.9.5 1.3.5.4.5.3.5 0 .5.5.5.1.5 1.1.5-.8.5-.3.5.3.5.8.5-.5.5-.6.5.3.5.4.5.1.5.5.5.1.5-.3.5-1.8.5-.3.5.8.5.5.5-.3.5-1.2.5.1.5.9.5.1.5.4.5-.6.5.5.5-.1.5.6.5-.4.5-.4.5 0 .5-.5.5.2.5 0 .5 1.2.5-.1.5-.4.5-.4.5-.4.5 0 .5.1.5.5.5-.4.5-.4.5-1.2.5 1 .5-.1.5 1.1.5-.9.5.2.5.1.5 1 .5-.6.5.2.5-.6.5.3.5-.2.5 0 .5.2.5-.6.5.3.5.1.5.3.5-.6.5-.3.5.3.5 1.1.5.2.5.5.5-.7.5-.5.5-.5.5-.5.5.5.5-.6.5-1.7.5-3.4.5-1.8.5.7.5 2.5.5 1.8.5 1.8.5.8.5.1.5-1 .5.8.5-.7.5.7.5-.4.5.5.5 0 .5-.2.5-.6.5.3.5-.1"/>
<path fill="none" stroke="none" stroke-width="0" stroke-linejoin="round" d="M996.5 1034.7l1-1.1 3 2.5 3-2.2 2 1.3 3-.3 3 0 3-.5 3 .1 3 1.5 1.5-1.4 2.5-1.3 3 1.2 1.5-1.7 1-4.6.5-8.6.5-9.4.5-1.7.5 6 .5 7 .5 7.2 1 5.4 3 2.3 2.5-2.6 3 1.4 1.5-1.7 3 1.3 3 .5 3-1.8 3 .9 2.5 1.8 3-.7 1-1.6 3 .7 3-.6 3 1.2 2-1.2 3 1 3 .2.5-1.1 1 1.1 3 .3 3 1 1-1.8 3-1.5 1-6.9.5-1.4 1.5 6.5 1.5 4.2 2.5-1.6 3 1.4 1.5-1.1 3-.1 1.5-1.2 3 1 2-1 3-.8 1-8.6.5-16.4.5-32.3.5-38.6.5-12.7.5 19 .5 32.8.5 30.6.5 17.2.5 7.3 1.5 4.1 3 .2 2-1.3 3 1.8 3-.3 1-1.2 3-4.3 1-11.7.5-26.9.5-57.9.5-74.8.5-33.1.5 30.9.5 59.1.5 57 .5 35.7.5 15.8.5 6.6 2.5 1.6 3 1.2 3 2.4 1.5-2.6 3 .4 3-3.7 1.5-10.7.5-28.5.5-63.4.5-85.7.5-44.2.5 31.1.5 67 .5 65.3.5 40.4.5 18.7.5 6.7.5 4.7 3 2.7 3-.2 1.5-11.4.5-12.7.5-8.8 1 12.2.5 9.4.5 7.3 2-10.9.5-6.4 1 5.1.5 5.4.5 6.2 1 4.6 2 1.2 3 0 3 .9 1-2 3-1.3 1.5-4.7.5-14.2.5-28 .5-35.8.5-17.2.5 13.9.5 29.3.5 28.9.5 18.6.5 7.6 2 3.4 3 .3 3 .3 3 .8 2-1.7 3 .1 3 .8 3 .4 1-1 3 1.1 3-1.1 3-2.6 1-10.9.5-18.2.5-24.6.5-10.6.5 9.6.5 19.3.5 18.9.5 11.7.5 4.9 2.5 2 3 2.9 3-1.5 3 1.2 2-1.6 3 .8.5-1.1 3-6.2.5-11 .5-17.9.5-13 1 16.4.5 14.3.5 9.8.5 4.5 2.5 2.9 3 1.5 3-.2 3-1.7 3 1.4 2.5-3.4 2.5 3.1 3 .4 3-1.8 2.5 1.4 3 .9 3-.3 2.5-1.2 2 1.1 3-.3 1.5 1.1 2.5-7.2.5-4.7.5-4.7 1 5.1.5 5.4 1 4.5 3 1.7 2-1.1 3-.6 3-.5 3 .8 3-.8 3 2.7 1.5-2.3 3 3.5 1.5-2.3 2-1.6 3 .1 3 .9 2.5-2.1 2.5-5.8 1-4.1 1-4.8 1.5 5 1 4.5 1.5 4.4 1.5 1.7 3 1 3 .6 2-1.2 3 .7 3-1.3 3 2 3-2 2 2.2 2.5-2.2 3 .4 3 .7.5-1 3 1.3 2.5-8.8.5-8 .5-5.4 1 7.6.5 7.1.5 4.2 1.5 2.6 3 1.2 2.5-3.2 2.5-5 .5-6.3.5-11.9.5-17.3.5-19 .5-10.2 1 12.9.5 17.4.5 16.1.5 11.8.5 5.6 1 4.6 3 1 2.5 1.2 3-.3 2-7.2.5-6.8.5-12.2.5-16.9.5-22.4.5-21.5.5-12.5 1 17.3.5 21.2.5 20.7.5 17.5.5 11.2.5 5.7 1.5 5 2 1.1 3-6.4 1-5.2 1 5.5.5 4.3 2 1.8 3 2.5 3 .2 3-2 3 1.4 3 1.5 3-4.3 2.5 1.6 3-.8 1-5.9.5-1.4 1.5 6.2 1 2.7 3 .5 3-.6 3-.1 3 1.3 3-.3 1-1 3 1.1.5-1.4 3 .1 3 .4 3-2.6 3-4.6.5-7.1.5-15.8.5-23.2.5-24.8.5-14 .5 5.1.5 19.7.5 24.2.5 19.3.5 11.7.5 5.9 1.5 4.3 2 1.2 3-.7 3 1.4 3 .2 3-2.3 3 1.4 3 1.8 3-3.2 1-6.3 1.5 6.3 3 .9 3 2.1 3-.1 2-1 3 1.2 1-2 3-2 1-10 .5-8.6.5-4.7.5 4.4.5 8.3.5 7.2.5 4.7 3 1.1 3 .4 3-1.3 3 2.7 1.5-2.1 3 .9 3 .3 2.5-1.6 2 1.8 3 .3 3-1 3 .4 3 .3 3-1.8 3 3.2 3-1.1 3-.3 2-5.2 1-6.3 1 4.6 1 4.5 2.5 1.8 2-1.7 1.5-9.5.5-11 .5-8.2 1 8.6.5 8.7.5 7.1.5 4.1 1.5 2.2 3 1.5 1-2.1 2.5 1.1 2.5-1.6 3 0 2.5-5.9 2 4.1 3 3.7 2.5-1.7 3 1 3-1.6 1.5-6.7 1-4.1 1 7 1 4.2 3 2.4 1-1.1 3 .7 3-1.7 3 .8 3 .9 2-1.3 3 .5 3-.6.5-1.2 2 1.1 3 .3 3 0 3 .9 3-1.5 2-5.2.5-1.8 1.5 5 2 1.7 3 .9 2-.6" marker-mid="url(#mo)"/>
<path fill="none" stroke="#000" stroke-width="3.0" stroke-linejoin="round" d="M996.5 1035.1l.5.2.5-1.3.5 1.1.5-.3.5-.8.5.2.5-.4.5 2.7.5.2.5.3.5-1.8.5-.5.5-.3.5-.1.5.6.5.4.5.7.5-.4.5.2.5.3.5.3.5-.2.5-.9.5 0 .5 1.2.5 0 .5-.4.5-.5.5-.3.5 0 .5-.1.5.8.5.1.5-.1.5-1.7.5.5.5-.8.5.6.5-.4.5.8.5.6.5-.7.5-.3.5.2.5 1.2.5.4.5.1.5-.1.5-.5.5-.6.5-.3.5.4.5.4.5-.7.5-.2.5-1.2.5.8.5.1.5.4.5-.4.5-.8.5 1.1.5-1.1.5-.2.5-.4.5.1.5-4.7.5-8.6.5-9.4.5-1.7.5 6 .5 7 .5 7.2.5 2.5.5 2.9.5.4.5.5.5-1.4.5.9.5.6.5 1.3.5-.3.5-.1.5-.7.5-1 .5-.5.5 1 .5-.3.5.1.5-.9.5.9.5.6.5-.5.5-1 .5-.2.5 1.2.5 1.2.5.1.5-.7.5-.2.5-.3.5.6.5-.6.5.2.5-.4.5.6.5.1.5 1.3.5.5.5.6.5-2.3.5-.9.5-1 .5 1.3.5-1 .5.9.5.2.5.5.5-1 .5-1 .5.7.5.8.5 1.4.5-.1.5.1.5-1 .5 1 .5 0 .5.6.5-1.4.5-.5.5-1.1.5 1.3.5.4.5.3.5-1 .5-.1.5-.2.5-.2.5 0 .5 1.6.5.3.5-.5.5-1.8.5-.6.5.6.5 1 .5.7.5-.1.5-.4.5.1.5-1 .5-.3.5 0 .5.4.5 0 .5-.5.5.2.5.7.5.2.5.1.5 0 .5.5.5.9.5-1.4.5.1.5-1.1.5 1.1.5 0 .5.8.5.4.5-.3.5.2.5-.6.5-.2.5-.4.5-.1.5 1.1.5.1.5 1.4.5-1.1.5-.8.5-1 .5.4.5-.2.5.1.5-.6.5.7.5-1.9.5-2.3.5-4.6.5-1.4.5.8.5 2.6.5 3.1.5 2.4.5 1.3.5.5.5.3.5.1.5-.2.5-.9.5-.9.5.3.5-.8.5 1.2.5-.4.5 1.4.5-.3.5-.5.5-.3.5-.3.5.3.5-.1.5.2.5-.1.5-.4.5 0 .5-1 .5.3.5-.5.5 1.6.5.7.5-.4.5-.6.5-.7.5.4.5.1.5-.2.5-.4.5-.5.5 0 .5.7.5-.7.5.1.5-.2.5-.7.5-2.4.5-6.2.5-16.4.5-32.3.5-38.6.5-12.7.5 19 .5 32.8.5 30.6.5 17.2.5 7.3.5 1.6.5.9.5 1.6.5-.2.5.6.5-.9.5.7.5-.8.5.8.5-.3.5.7.5-1.4.5-.3.5.3.5 1 .5.7.5.3.5-.1.5-.4.5-.3.5-.1.5-.1.5-.1.5.2.5.1.5-.7.5-.5.5.6.5-.2.5-.8.5-1.6.5-.1.5-2.2.5-2.6.5-9.1.5-26.9.5-57.9.5-74.8.5-33.1.5 30.9.5 59.1.5 57 .5 35.7.5 15.8.5 6.6.5 1 .5 1.9.5-.3.5-.6.5-.4.5.3.5.7.5-.2.5.2.5.3.5-.1.5-.5.5.8.5.7.5.8.5.3.5.3.5-1.1.5-1.4.5-.1.5 1 .5.7.5.2.5-.7.5-.1.5-.7.5-.1.5-1.1.5-.8.5-.6.5-.5.5-.6.5-.8.5-2.5.5-7.4.5-28.5.5-63.4.5-85.7.5-44.2.5 31.1.5 67 .5 65.3.5 40.4.5 18.7.5 6.7.5 4.7.5.4.5.5.5.5.5.2.5 1 .5.1.5.7.5 0 .5-.7.5.4.5-.5.5-.1.5-1.1.5-1.8.5-8.5.5-12.7.5-8.8.5 2.7.5 9.5.5 9.4.5 7.3.5 2.2.5-.4.5-5.5.5-7.2.5-6.4.5 0 .5 5.1.5 5.4.5 6.2.5 3.4.5 1.2.5.5.5.2.5 1.1.5-.6.5.8.5-.2.5.3.5-1.1.5-.3.5.5.5.1.5.6.5-.1.5.8.5-.2.5-.3.5-1.7.5-.3.5.3.5.9.5 0 .5-.8.5-.5.5-1.2.5.3.5-1.1.5-3.9.5-14.2.5-28 .5-35.8.5-17.2.5 13.9.5 29.3.5 28.9.5 18.6.5 7.6.5 2.7.5.8.5.5.5-.6.5.7.5-.1.5 1.5.5-1.6.5.3.5-.5.5.9.5-.1.5 0 .5.4.5-.4.5-.5.5.3.5.9.5.2.5-.5.5-.5.5.4.5-.5.5-.8.5-.4.5 0 .5.3.5 0 .5.8.5-.2.5.3.5-1.1.5.8.5-1.2.5.3.5 0 .5.6.5.3.5-.6.5.4.5.4.5.2.5.3.5-.3.5-.3.5-.7.5.9.5.7.5.9.5-.6.5-.6.5-.2.5-.3.5.5.5-.1.5-.2.5-.5.5-.5.5 1.1.5 1.2.5-.1.5-1.2.5-2.8.5-.8.5-2.8.5-8.1.5-18.2.5-24.6.5-10.6.5 9.6.5 19.3.5 18.9.5 11.7.5 4.9.5.6.5.4.5 1 .5.3.5-.3.5.1.5.6.5.6.5.3.5 1 .5.3.5.2.5-.3.5 0 .5 0 .5-1.1.5-.3.5-.3.5 1.5.5-.4.5.2.5-.6.5.8.5-.2.5-.3.5-.7.5-.4.5.2.5-.1.5.3.5.8.5-.2.5-.2.5-1.1.5.4.5-.8.5-.5.5-.8.5-.5.5-4 .5-11 .5-17.9.5-13 .5 3.3.5 13.1.5 14.3.5 9.8.5 4.5.5 1.7.5.3.5.9.5.3.5-.3.5.5.5.9.5.5.5-.3.5-.7.5.6.5-.9.5.7.5-.6.5 1.3.5-.7.5 0 .5-.6.5.4.5-.3.5-.1.5-.7.5-.4.5.9.5.5.5.8.5 0 .5-.8.5 0 .5.3.5.9.5-1 .5-2.6.5-1 .5 1.7.5 1.4.5.4.5-.2.5-.2.5.2.5.1.5.7.5.1.5-.7.5 0 .5-.4.5.9.5 1.1.5-.2.5-1.7.5-1.5.5.5.5 1.7.5.7.5-.6.5-.9.5.1.5-.2.5 1 .5-.8.5 1 .5-.2.5.5.5 0 .5-.8.5-.3.5-.4.5.7.5.4.5-.1.5-.5.5-1 .5 0 .5.7.5-.1.5.8.5-.3.5.3.5-1.2.5-.1.5.5.5-.2.5.4.5.5.5 1 .5-.4.5.3.5.3.5-1.1.5-2.6.5-4.1.5-4.7.5-4.7.5 1.5.5 3.6.5 5.4.5 2.4.5 2.1.5.3.5-.1.5-.1.5.9.5.2.5.5.5-.6.5-.1.5.1.5-.5.5.8.5-1 .5.6.5-1.1.5-.2.5.3.5.7.5.5.5-.8.5.2.5-.8.5-.3.5-.3.5.3.5.2.5 0 .5.4.5.2.5.9.5.6.5.7.5-.9.5-.7.5-1.4.5-.1.5-.8.5.4.5.6.5 1.8.5.8.5-.8.5-.6.5-.9.5.9.5-.3.5.8.5.9.5.5.5.7.5-1.2.5-.6.5-.5.5.8.5-.2.5-.6.5-1.6.5.2.5.4.5.7.5-.2.5-1.2.5.2.5.7.5 1 .5-.1.5-1.1.5.6.5-.2.5.5.5-.6.5-1.1.5-.2.5-.7.5.8.5 0 .5-.9.5-2.7.5-3 .5-2.6.5-1.5.5-2.6.5-2.2.5.2.5 1.9.5 2.9.5 1.3.5 3.2.5.7.5 2.3.5 1.4.5 2.2.5.8.5-1.3.5.9.5-.6.5.8.5-.6.5.2.5.3.5-.7.5.2.5-.5.5.5.5.6.5.5.5.1.5-.5.5-.7.5-.1.5.7.5.2.5.4.5-.5.5-.3.5.2.5-.4.5.4.5.3.5 0 .5 0 .5-1.6.5.3.5-.7.5.6.5 0 .5.8.5 1 .5.4.5.3.5-.9.5-.2.5-.8.5-.8.5.1.5 1.2.5 1.2.5-.3.5 0 .5-.5.5 0 .5-1.5.5-.2.5.2.5 1.6.5.3.5-.4.5-1.3.5 0 .5-.3.5.3.5.5.5 1 .5.2.5-1 .5-1 .5.3.5 1.2.5 0 .5-.6.5-.6.5 1 .5-.1.5-.5.5-1 .5-2.3.5-4.9.5-8 .5-5.4.5 2.1.5 5.5.5 7.1.5 4.2.5 2.5.5.3.5-.2.5.5.5-.1.5.4.5-.2.5.4.5.2.5-.7.5.2.5-1.3.5-.2.5-1.2.5.5.5-.5.5-.2.5-2.3.5-2.5.5-6.3.5-11.9.5-17.3.5-19 .5-10.2.5 1.1.5 11.8.5 17.4.5 16.1.5 11.8.5 5.6.5 2.6.5 2 .5.5.5 1.9.5.6.5-.1.5-1.4.5-.5.5-.1.5.7.5.3.5.5.5-.2.5.2.5 1 .5.8.5-.4.5-.5.5-1.4.5-.3.5-1.7.5-1 .5-4.2.5-6.8.5-12.2.5-16.9.5-22.4.5-21.5.5-12.5.5 2.9.5 14.4.5 21.2.5 20.7.5 17.5.5 11.2.5 5.7.5 1.5.5 1.4.5 2.1.5 1.7.5.7.5-.6.5-.7.5.1.5.3.5 1 .5-1.7.5-1.7.5-4.4.5-3.3.5-1.9.5 2.4.5 3.1.5 4.3.5 2.3.5.8.5-.9.5-.4.5 1.2.5-.3.5.1.5-.4.5 1.5.5.4.5.1.5-.2.5.6.5-.3.5.4.5-.4.5.8.5-1.4.5.4.5-1.4.5-.2.5-.2.5.3.5.9.5-.7.5 1.2.5-.2.5-.1.5-.7.5.5.5.2.5.1.5.6.5.8.5-.2.5-1.3.5-.2.5-.7.5-1.3.5-.6.5.2.5 2.4.5.4.5 0 .5-1.4.5.1.5.1.5.2.5-.4.5.1.5-.9.5-2.6.5-3.3.5-1.4.5.3.5 3.6.5 2.3.5 3.4.5-.7.5.4.5-.4.5.5.5.3.5.2.5-.5.5-.5.5.1.5.8.5-.1.5-.5.5-.4.5-.4.5-.5.5.9.5.3.5.7.5-1.1.5.8.5.9.5.2.5-.4.5-1.2.5 1 .5.2.5-.1.5-.2.5-.3.5.6.5-.5.5-.5.5-.5.5.2.5.3.5-.2.5.7.5-.1.5.2.5-1.4.5.4.5.8.5.4.5.1.5-1.3.5-.3.5-.7.5.7.5.4.5-.8.5 1.5.5-.7.5 1.2.5-1.3.5.8.5-.1.5-2 .5-1.2.5.1.5.7.5-.4.5-2.2.5-.3.5-2.5.5-7.1.5-15.8.5-23.2.5-24.8.5-14 .5 5.1.5 19.7.5 24.2.5 19.3.5 11.7.5 5.9.5 2.5.5.9.5.9.5.5.5 1 .5-.1.5-.2.5.4.5 0 .5.5.5 0 .5-.6.5-1 .5-.3.5 0 .5 1.5.5.3.5.3.5-.4.5.5.5.9.5.1.5-.4.5-.7.5-.2.5 0 .5.1.5.3.5-.9.5-.8.5-1 .5.4.5 1.5.5 1.4.5-.3.5-1.4.5-.2.5.7.5.1.5.2.5-.2.5 1.3.5-.3.5.3.5-.5.5-.7.5-.8.5-1 .5-.5.5-3.1.5-3.2.5-.6.5 2.9.5 4 .5 2.2.5-.2.5-.6.5-.6.5.8.5-.7.5.3.5.1.5.6.5.1.5.5.5.5.5.5.5-.1.5.2.5-.4.5-.7.5.4.5-.4.5-.2.5-.2.5-.2.5.6.5.2.5.4.5-.2.5-.1.5.3.5-.8.5-1.2.5.2.5.9.5-.4.5-1.6.5-.5.5-.6.5-2.6.5-7.4.5-8.6.5-4.7.5 4.4.5 8.3.5 7.2.5 4.7.5 1.4.5 1.3.5-.4.5-1 .5-.6.5.4.5 1.1.5 1.1.5.1.5 0 .5-.8.5-1.1.5-.3.5.5.5.6.5-.8.5-.5.5-.8.5.8.5-.2.5.6.5.1.5.6.5.8.5-.7.5-1.2.5-.2.5 1.3.5 1.8.5-.3.5-.5.5-.6.5-.8.5-.6.5.2.5.4.5 1.2.5-1 .5.1.5-.4.5.4.5-.3.5-1.2.5-.1.5 1.3.5.9.5.6.5-1 .5.2.5-.2.5-.2.5-.6.5 0 .5 1.1.5.2.5.1.5.4.5-.3.5-.9.5-.5.5.6.5.6.5-.4.5-.4.5.3.5-.3.5.6.5-.8.5-.3.5-.3.5.3.5.8.5-.1.5 0 .5-.3.5-.2.5-.5.5-.7.5-.1.5.5.5.6.5.9.5.5.5.8.5.2.5-.4.5-.1.5 0 .5-.1.5-.7.5-.1.5.4.5.3.5-.4.5.2.5-.7.5-.2.5-.8.5-.6.5-3.6.5-3.6.5-2.7.5 1.8.5 2.8.5 2.9.5 1.6.5.7.5 0 .5.4.5 1 .5-.3.5.5.5-1.3.5-.1.5-.8.5.6.5-2.5.5-7.6.5-11 .5-8.2.5 1.7.5 6.9.5 8.7.5 7.1.5 4.1.5.9.5 1.5.5-.2.5.7.5-.7.5.1.5 1.4.5.2.5-.2.5-1.3.5-.8.5 0 .5.6.5-.1.5 1 .5-.4.5.2.5-.3.5-.9.5-.4.5-.2.5 1 .5.4.5-.1.5-.3.5-.1.5-.9.5-.8.5.4.5-.9.5-1.8.5-2.8.5-.3.5 1.4.5 1.4.5 1.6.5 1.2.5 1.1.5.3.5.7.5.1.5.3.5.9.5.4.5-1.2.5-.5.5-1.3.5.1.5-.1.5.2.5.6.5.2.5 0 .5-.4.5-.4.5.9.5.7.5-1.1.5-1.3.5-1.4.5-1.2.5-4.1.5-3.8.5-.3.5 2.9.5 4.1.5 2.9.5 1.3.5.4.5.3.5 0 .5.5.5.1.5 1.1.5-.8.5-.3.5.3.5.8.5-.5.5-.6.5.3.5.4.5.1.5.5.5.1.5-.3.5-1.8.5-.3.5.8.5.5.5-.3.5-1.2.5.1.5.9.5.1.5.4.5-.6.5.5.5-.1.5.6.5-.4.5-.4.5 0 .5-.5.5.2.5 0 .5 1.2.5-.1.5-.4.5-.4.5-.4.5 0 .5.1.5.5.5-.4.5-.4.5-1.2.5 1 .5-.1.5 1.1.5-.9.5.2.5.1.5 1 .5-.6.5.2.5-.6.5.3.5-.2.5 0 .5.2.5-.6.5.3.5.1.5.3.5-.6.5-.3.5.3.5 1.1.5.2.5.5.5-.7.5-.5.5-.5.5-.5.5.5.5-.6.5-1.7.5-3.4.5-1.8.5.7.5 2.5.5 1.8.5 1.8.5.8.5.1.5-1 .5.8.5-.7.5.7.5-.4.5.5.5 0 .5-.2.5-.6.5.3.5-.1" clip-path="url(#cb3)"/>
<path fill="none" stroke="#ff0000" stroke-width="2.0" stroke-linejoin="round" d="M996.5 1028l.5.2.5 0 .5.8.5.7.5-.2.5-.3.5-.3.5.3.5.1.5.4.5 0 .5-.5.5.1.5-.1.5 0 .5-.4.5-.6.5.2.5.4.5.7.5.3.5-.5.5 0 .5-.2.5-.6.5.7.5 0 .5.4.5.1.5-.8.5.1.5-1.4.5.2.5 0 .5-.7.5 0 .5.2.5.8.5.6.5.9.5 0 .5.1.5.1.5.2.5-.5.5-.4.5-.7.5-.2.5.7.5-.6.5.5.5.3.5.1.5.7.5-.4.5-.8.5-.6.5-.2.5.8.5.4.5.4.5-.5.5-.3.5-.4.5-1 .5-.9.5-2.3.5-4.1.5-2.8.5-.5.5 2.1.5 3.9.5 3.1.5 1.5.5 1.5.5.6.5.1.5.6.5-.4.5 0 .5-.5.5.2.5.1.5.6.5 0 .5-.2.5-.3.5-.7.5 0 .5-.1.5.7.5-.3.5-.3.5.3.5-.4.5-.1.5.8.5-.1.5-1 .5.2.5-.2.5 0 .5.9.5.8.5-.7.5-.4.5.3.5-.6.5.6.5.5.5-.1.5.6.5-.6.5-.5.5.7.5-.5.5.7.5-.1.5-.8.5-.1.5-.3.5 0 .5.1.5.3.5.4.5.2.5.3.5.1.5-.9.5-.7.5.4.5.1.5.5.5.8.5-1.1.5-1 .5.1.5-.8.5.8.5.3.5 0 .5 1.3.5.4.5.2.5.3.5-1.2.5-1 .5.3.5.1.5.2.5.4.5-.1.5-1.1.5.2.5.4.5-.1.5.7.5.4.5-.9.5.5.5.4.5.3.5.9.5-.7.5-.8.5-1 .5-.9.5-.1.5.6.5.9.5.1.5.6.5-.9.5-.7.5-.1.5-1 .5.5.5.2.5.2.5.5.5-.5.5-.1.5 0 .5.3.5-.2.5.2.5.4.5.2.5.4.5-1.1.5-1.7.5-1.6.5.1.5 1.5.5 1.9.5.3.5-.1.5-.6.5-1.1.5 1.1.5.3.5 0 .5.4.5-.7.5-.4.5-.2.5.4.5 0 .5.3.5.7.5-.4.5.9.5-.1.5-.2.5.4.5.6.5.5.5.4.5-.4.5-.8.5.3.5-.4.5.6.5.2.5.2.5.7.5-.9.5.4.5-.7.5-.8.5.3.5-.6.5-.7.5-.6.5-.4.5-.5.5.4.5-.4.5-2.7.5-9.5.5-19.5.5-21.5.5-7 .5 11.6.5 19.3.5 15.8.5 9.2.5 2.8.5 1 .5.6.5.1.5 1.2.5-.5.5-.1.5 1.1.5.2.5.9.5.5.5-.5.5-.2.5.5.5-.3.5 0 .5-.1.5-1.1.5-.9.5-1.1.5.7.5.7.5.7.5.7.5-.4.5-1 .5.8.5-.5.5-.7.5-.9.5-.3.5.1.5.5.5-.1.5-2.1.5-5.1.5-16.1.5-31.8.5-41.3.5-18.3.5 17.6.5 33.6.5 31.8.5 19.4.5 9.1.5 2.9.5.2.5.4.5.8.5-.3.5.5.5.4.5-1.1.5.5.5-.7.5-.5.5 0 .5-.3.5.5.5.2.5.5.5-.6.5.8.5 0 .5-.4.5.7.5-.5.5-.3.5.2.5 0 .5 0 .5 0 .5.3.5.2.5-.5.5.5.5-.5.5-1.1.5-.6.5-2.1.5-5.3.5-15.5.5-34.6.5-47.5.5-24.4.5 17.3.5 37 .5 36.9.5 22.9.5 10.1.5 3.5.5 1.6.5.4.5.6.5.3.5.3.5.3.5.2.5.2.5-.6.5.4.5-.1.5-.9.5.1.5-.2.5-2 .5-3.5.5-5.6.5-4.1.5 2.3.5 4.2.5 5 .5 2.8.5 1.7.5-.3.5-3.3.5-4.8.5-5.6.5-.6.5 3.2.5 4.7.5 4 .5 2.6.5.9.5.9.5-.6.5-.7.5-.2.5-.3.5-.2.5-.1.5 1 .5.4.5 1.2.5 0 .5-.6.5-.3.5-.5.5-.1.5-.2.5-1 .5-.6.5 1.5.5.4.5 0 .5-.2.5-.9.5-.7.5.5.5-.4.5-2.6.5-6.7.5-16.1.5-20.8.5-10.3.5 7.5.5 16.4.5 16.4.5 10.3.5 4.9.5 1.2.5 1.2.5 1.1.5.1.5.6.5 0 .5-.5.5 0 .5-.1.5-.7.5-.7.5.2.5.5.5-.1.5.5.5-.2.5-.6.5.1.5-.1.5-.9.5.2.5.2.5 1 .5 1.1.5-.1.5.2.5-.2.5.3.5.2.5-.1.5-1.2.5-.8.5-.1.5-.3.5 1.3.5-.6.5 0 .5.4.5-.5.5 1.4.5-.5.5-.4.5-.2.5-.6.5.4.5 0 .5.4.5-.5.5-.1.5.9.5.3.5.7.5-.1.5-1 .5-1 .5-.9.5.2.5.8.5.4.5.1.5-.3.5-1.1.5.2.5-1 .5-1.1.5-4.8.5-10.8.5-12.6.5-5.6.5 5.9.5 11.8.5 10 .5 5.2.5 2.9.5.1.5.6.5-.2.5.5.5.1.5.3.5.6.5-.3.5-.4.5-.1.5.1.5.3.5 0 .5-.1.5.5.5-.4.5.2.5 0 .5 0 .5-.4.5.2.5.9.5-.2.5-.1.5-.6.5-.8.5-.6.5-.4.5.2.5-.5.5.8.5 0 .5.9.5.1.5-.3.5.7.5-.7.5.4.5-1.1.5-3.4.5-5.7.5-9.8.5-6.6.5 2.4.5 6.5.5 7.8.5 5.1.5 2.1.5 1 .5-.1.5.7.5-.2.5.2.5.5.5.3.5.8.5 0 .5.1.5-.2.5.3.5.4.5.1.5 0 .5.1.5-1.1.5.2.5-.5.5-.1.5.5.5-.3.5-.1.5-.5.5.5.5.8.5-.1.5-.2.5 1.3.5-.3.5.5.5.4.5-2.6.5.2.5.1.5-.8.5 1.6.5-.9.5-.5.5.8.5-.3.5 0 .5.4.5-.7.5-.8.5.6.5.5.5.8.5.7.5-.5.5-.6.5-.6.5.6.5-.1.5.2.5.4.5-1.2.5 1 .5-.4.5-.3.5.6.5-1.1.5.2.5-.1.5.2.5.3.5-.5.5.8.5-.2.5-.4.5.7.5-.3.5.7.5.1.5.2.5-.2.5-.5.5.2.5-.4.5.3.5-.8.5-.7.5 0 .5-.4.5.5.5 1.1.5-.1.5.5.5-.3.5-1 .5-1.4.5-3.1.5-2 .5.6.5 1.5.5 1.8.5 1.7.5 1.1.5.4.5.7.5.8.5.5.5.2.5.1.5-.5.5-.5.5.3.5-.2.5.1.5-.2.5-.5.5-.1.5-.1.5.4.5.3.5.2.5.4.5-.9.5-.3.5 0 .5-.6.5 0 .5.5.5-.3.5-.4.5 1.2.5-.9.5 0 .5.1.5-.7.5.7.5-.3.5.2.5-.1.5-.6.5.8.5.1.5 0 .5.1.5-.6.5 0 .5-.1.5.8.5-.9.5-.9.5 0 .5-1.2.5 1 .5.6.5.3.5.9.5.6.5.6.5.3.5 0 .5-.1.5-.2.5-.7.5-.7.5-1 .5 0 .5-.7.5.6.5.1.5.1.5 1 .5-.4.5.3.5-1.3.5-.1.5.4.5-1.1.5.8.5-.8.5-1.1.5-1.1.5-1.6.5-1.2.5-1.4.5-.5.5 0 .5 1 .5 1.4.5 2.2.5 1 .5.8.5 1 .5.4.5 1.8.5.5.5-.2.5.4.5-1.5.5 0 .5.6.5-.5.5.3.5-.5.5-.3.5 0 .5.8.5.7.5-.2.5-.3.5.2.5.2.5.3.5.7.5-.8.5-.7.5.6.5 0 .5-.6.5-.1.5-1.8.5.2.5.9.5 1 .5 1.8.5-.6.5-.1.5-.3.5-.5.5.1.5.1.5-.2.5.3.5.2.5-.5.5-.4.5-.7.5-.3.5 0 .5.4.5.3.5.9.5.5.5.1.5-.7.5-.3.5 0 .5-.7.5 0 .5-.6.5-.9.5.4.5 0 .5.6.5-.1.5 0 .5.2.5-.5.5.8.5.1.5.4.5.2.5-.1.5.2.5-.3.5-.7.5-.1.5-.4.5-1.1.5-1.9.5-4.1.5-2.2.5.8.5 2.8.5 3 .5 1.6.5.9.5 1 .5.2.5.2.5.2.5-1.8.5-.8.5 0 .5.7.5.2.5.2.5.8.5-.3.5.9.5.6.5-1 .5-.8.5-.7.5-2 .5-4.2.5-6.1.5-10.5.5-10.5.5-4.4.5.3.5 7.9.5 9.4.5 7.3.5 6.1.5 3.2.5 2.5.5 1.6.5 1.1.5 1 .5-.4.5 0 .5-.1.5 0 .5 0 .5-.6.5.3.5-.3.5.2.5-.3.5-.6.5-.1.5.1.5-.1.5-.2.5-.3.5-1.2.5-.3.5-1.7.5-3.9.5-6.9.5-10.6.5-12.4.5-11.6.5-6.1.5 1.9.5 8.3.5 11.5.5 10.9.5 9.3.5 5.7.5 3.8.5 2.3.5.3.5.8.5.1.5.9.5 0 .5.6.5-.8.5-.6.5.5.5-1.2.5-.4.5-2.4.5-2.2.5-1.4.5 1.6.5 2.7.5 1.7.5 2.3.5 0 .5-.3.5-.4.5-1.2.5.6.5.2.5.2.5.3.5-.3.5-.1.5-.1.5 0 .5.4.5 0 .5-1 .5.7.5-.5.5-.1.5 2 .5-.2.5-.5.5.1.5-.8.5-.1.5 1.1.5.6.5-.4.5.1.5-.3.5-.6.5.2.5.3.5-.1.5-.4.5 0 .5-.5.5-.2.5.2.5.8.5-.2.5-.4.5.3.5-1.4.5 0 .5.6.5-.6.5.6.5.7.5-.2.5.1.5-.8.5-2.3.5-1 .5.4.5 2.1.5 1.8.5.6.5.5.5-.9.5-.7.5-.1.5.6.5-.6.5.4.5.7.5 0 .5.2.5.8.5-.6.5.1.5.6.5-.7.5.5.5-.5.5-.5.5 1 .5-.4.5.2.5.1.5-1.6.5-.3.5-.5.5.5.5 1.4.5.5.5-.1.5-.8.5-.7.5.1.5-.8.5 1 .5.5.5.8.5.5.5-.5.5-.5.5-1.4.5 0 .5-.4.5.2.5.7.5.8.5.3.5-.8.5 0 .5-.4.5.4.5 1 .5-.4.5.1.5-.7.5-.5.5.5.5-.5.5.4.5-.7.5-.7.5-.1.5-.9.5-.6.5-.6.5-4.3.5-8.3.5-12.7.5-14.2.5-9 .5 2.9.5 11.2.5 12.2.5 12.1.5 6.5.5 3.3.5 1.8.5.5.5.8.5.2.5.6.5 0 .5-.3.5 0 .5-.5.5-.5.5-.5.5-.4.5.3.5.3.5.6.5 1.7.5.4.5.2.5-.1.5-.6.5-.7.5.6.5.4.5.1.5 0 .5-.1.5-1 .5-.6.5.7.5-.1.5 0 .5.4.5-.3.5-.3.5.5.5-.4.5-.4.5.4.5.4.5.6.5.5.5-.9.5-.1.5.4.5-.8.5.7.5-.4.5-1.4.5.2.5-.4.5-.1.5.4.5.7.5-.4.5.6.5.2.5-.3.5.7.5-.7.5.4.5-.3.5-.5.5.3.5-.7.5.3.5 1.2.5-.1.5.3.5.9.5-1.1.5.2.5.4.5-.3.5 1.4.5-.4.5-.2.5-.6.5-1.1.5-.1.5-.8.5.2.5.4.5-.1.5.9.5-.4.5-.8.5-.6.5 0 .5.3.5-.3.5-.8.5-4.7.5-4.7.5-1.9.5 2.4.5 4.4.5 2.8.5 1.5.5.9.5-.4.5.8.5 1.1.5-.7.5 1 .5-.1.5-.1.5.3.5-.3.5.2.5.5.5.6.5.2.5-.7.5-.6.5-.5.5-.2.5.6.5.3.5.5.5.1.5-.1.5.1.5-.6.5 0 .5.6.5-.7.5.7.5.4.5.2.5.6.5-1 .5-.4.5-.7.5-.1.5.8.5.8.5.3.5-.8.5-.4.5-1.6.5.2.5.4.5.2.5.2.5-.9.5.2.5-.1.5.5.5-.1.5.6.5-.1.5-.4.5 0 .5-.9.5.2.5.4.5-.2.5 0 .5.2.5-.5.5 1.3.5.8.5-.9.5.4.5-.4.5-.2.5 1.5.5-.6.5-.9.5-.7.5-.5.5.3.5.6.5.4.5.1.5-.1.5-.1.5-.1.5-.5.5 1.1.5-.2.5.5.5 0 .5.1.5.8.5-.9.5.4.5-.6.5-1 .5.6.5.1.5-.5.5.5.5 0 .5-.4.5-.1.5.2.5-1.9.5-1.6.5-.5.5-.1.5 1 .5 1.2.5.5.5.1.5 1.2.5.4.5.1.5.2.5.2.5.2.5-.9.5.7.5-1.1.5-1.6.5-3.3.5-6.7.5-4.7.5.7.5 5 .5 5 .5 3.9.5 1.5.5-.1.5 0 .5-.2.5.2.5.5.5-.3.5.5.5-.1.5.6.5.3.5 0 .5.7.5-.7.5 0 .5.1.5-1.1.5.2.5-.1.5-.5.5.6.5-.2.5-.2.5.2.5-.4.5.3.5.7.5.9.5-.5.5-.3.5-1.4.5-1.2.5-.1.5-.5.5.7.5.1.5-.2.5.8.5 1.3.5 0 .5 1.3.5-.3.5-1.3.5.6.5-.3.5.2.5.4.5.5.5-.4.5.1.5.3.5-1 .5-.7.5-.9.5-.5.5.5.5 0 .5.4.5.7.5-1 .5.4.5-1 .5-2.6.5-1.9.5 0 .5.9.5 2.3.5 1.7.5.9.5.5.5-.4.5-.2.5 0 .5.6.5-.1.5 1.3.5 0 .5.1.5.2.5.1.5-.4.5-.4.5-.3.5-.5.5.4.5.4.5.2.5-.4.5-.1.5-.2.5-1 .5.7.5-.2.5-.3.5 1.1.5-.7.5-.4.5.1.5.5.5.5.5 1.1.5-.1.5-.7.5 0 .5.1.5.3.5-.3.5-1.3.5 0 .5-.6.5.6.5 1.1.5.8.5.7.5-.2.5-.2.5-1.1.5.5.5.3.5-.5.5-1.1.5-.4.5-.6.5.9.5.4.5-.1.5 0 .5-.9.5 1.2.5 0 .5.2.5.7.5-1 .5-.3.5-.1.5.5.5.4.5.4.5.8.5-.9.5-.2.5-1 .5-.3.5.2.5-.1.5 1.1.5-1 .5-.2.5-1 .5-1.9.5-.2.5.5.5.8.5.9.5.2.5.6.5.8.5.6.5 1.4.5-.7.5-1.1.5-.4.5-1.3.5.7.5.3.5.4.5.2.5-.8"/>
<path fill="none" stroke="#ff0000" stroke-width="6.0" stroke-linejoin="round" d="M996.5 1028l.5.2.5 0 .5.8.5.7.5-.2.5-.3.5-.3.5.3.5.1.5.4.5 0 .5-.5.5.1.5-.1.5 0 .5-.4.5-.6.5.2.5.4.5.7.5.3.5-.5.5 0 .5-.2.5-.6.5.7.5 0 .5.4.5.1.5-.8.5.1.5-1.4.5.2.5 0 .5-.7.5 0 .5.2.5.8.5.6.5.9.5 0 .5.1.5.1.5.2.5-.5.5-.4.5-.7.5-.2.5.7.5-.6.5.5.5.3.5.1.5.7.5-.4.5-.8.5-.6.5-.2.5.8.5.4.5.4.5-.5.5-.3.5-.4.5-1 .5-.9.5-2.3.5-4.1.5-2.8.5-.5.5 2.1.5 3.9.5 3.1.5 1.5.5 1.5.5.6.5.1.5.6.5-.4.5 0 .5-.5.5.2.5.1.5.6.5 0 .5-.2.5-.3.5-.7.5 0 .5-.1.5.7.5-.3.5-.3.5.3.5-.4.5-.1.5.8.5-.1.5-1 .5.2.5-.2.5 0 .5.9.5.8.5-.7.5-.4.5.3.5-.6.5.6.5.5.5-.1.5.6.5-.6.5-.5.5.7.5-.5.5.7.5-.1.5-.8.5-.1.5-.3.5 0 .5.1.5.3.5.4.5.2.5.3.5.1.5-.9.5-.7.5.4.5.1.5.5.5.8.5-1.1.5-1 .5.1.5-.8.5.8.5.3.5 0 .5 1.3.5.4.5.2.5.3.5-1.2.5-1 .5.3.5.1.5.2.5.4.5-.1.5-1.1.5.2.5.4.5-.1.5.7.5.4.5-.9.5.5.5.4.5.3.5.9.5-.7.5-.8.5-1 .5-.9.5-.1.5.6.5.9.5.1.5.6.5-.9.5-.7.5-.1.5-1 .5.5.5.2.5.2.5.5.5-.5.5-.1.5 0 .5.3.5-.2.5.2.5.4.5.2.5.4.5-1.1.5-1.7.5-1.6.5.1.5 1.5.5 1.9.5.3.5-.1.5-.6.5-1.1.5 1.1.5.3.5 0 .5.4.5-.7.5-.4.5-.2.5.4.5 0 .5.3.5.7.5-.4.5.9.5-.1.5-.2.5.4.5.6.5.5.5.4.5-.4.5-.8.5.3.5-.4.5.6.5.2.5.2.5.7.5-.9.5.4.5-.7.5-.8.5.3.5-.6.5-.7.5-.6.5-.4.5-.5.5.4.5-.4.5-2.7.5-9.5.5-19.5.5-21.5.5-7 .5 11.6.5 19.3.5 15.8.5 9.2.5 2.8.5 1 .5.6.5.1.5 1.2.5-.5.5-.1.5 1.1.5.2.5.9.5.5.5-.5.5-.2.5.5.5-.3.5 0 .5-.1.5-1.1.5-.9.5-1.1.5.7.5.7.5.7.5.7.5-.4.5-1 .5.8.5-.5.5-.7.5-.9.5-.3.5.1.5.5.5-.1.5-2.1.5-5.1.5-16.1.5-31.8.5-41.3.5-18.3.5 17.6.5 33.6.5 31.8.5 19.4.5 9.1.5 2.9.5.2.5.4.5.8.5-.3.5.5.5.4.5-1.1.5.5.5-.7.5-.5.5 0 .5-.3.5.5.5.2.5.5.5-.6.5.8.5 0 .5-.4.5.7.5-.5.5-.3.5.2.5 0 .5 0 .5 0 .5.3.5.2.5-.5.5.5.5-.5.5-1.1.5-.6.5-2.1.5-5.3.5-15.5.5-34.6.5-47.5.5-24.4.5 17.3.5 37 .5 36.9.5 22.9.5 10.1.5 3.5.5 1.6.5.4.5.6.5.3.5.3.5.3.5.2.5.2.5-.6.5.4.5-.1.5-.9.5.1.5-.2.5-2 .5-3.5.5-5.6.5-4.1.5 2.3.5 4.2.5 5 .5 2.8.5 1.7.5-.3.5-3.3.5-4.8.5-5.6.5-.6.5 3.2.5 4.7.5 4 .5 2.6.5.9.5.9.5-.6.5-.7.5-.2.5-.3.5-.2.5-.1.5 1 .5.4.5 1.2.5 0 .5-.6.5-.3.5-.5.5-.1.5-.2.5-1 .5-.6.5 1.5.5.4.5 0 .5-.2.5-.9.5-.7.5.5.5-.4.5-2.6.5-6.7.5-16.1.5-20.8.5-10.3.5 7.5.5 16.4.5 16.4.5 10.3.5 4.9.5 1.2.5 1.2.5 1.1.5.1.5.6.5 0 .5-.5.5 0 .5-.1.5-.7.5-.7.5.2.5.5.5-.1.5.5.5-.2.5-.6.5.1.5-.1.5-.9.5.2.5.2.5 1 .5 1.1.5-.1.5.2.5-.2.5.3.5.2.5-.1.5-1.2.5-.8.5-.1.5-.3.5 1.3.5-.6.5 0 .5.4.5-.5.5 1.4.5-.5.5-.4.5-.2.5-.6.5.4.5 0 .5.4.5-.5.5-.1.5.9.5.3.5.7.5-.1.5-1 .5-1 .5-.9.5.2.5.8.5.4.5.1.5-.3.5-1.1.5.2.5-1 .5-1.1.5-4.8.5-10.8.5-12.6.5-5.6.5 5.9.5 11.8.5 10 .5 5.2.5 2.9.5.1.5.6.5-.2.5.5.5.1.5.3.5.6.5-.3.5-.4.5-.1.5.1.5.3.5 0 .5-.1.5.5.5-.4.5.2.5 0 .5 0 .5-.4.5.2.5.9.5-.2.5-.1.5-.6.5-.8.5-.6.5-.4.5.2.5-.5.5.8.5 0 .5.9.5.1.5-.3.5.7.5-.7.5.4.5-1.1.5-3.4.5-5.7.5-9.8.5-6.6.5 2.4.5 6.5.5 7.8.5 5.1.5 2.1.5 1 .5-.1.5.7.5-.2.5.2.5.5.5.3.5.8.5 0 .5.1.5-.2.5.3.5.4.5.1.5 0 .5.1.5-1.1.5.2.5-.5.5-.1.5.5.5-.3.5-.1.5-.5.5.5.5.8.5-.1.5-.2.5 1.3.5-.3.5.5.5.4.5-2.6.5.2.5.1.5-.8.5 1.6.5-.9.5-.5.5.8.5-.3.5 0 .5.4.5-.7.5-.8.5.6.5.5.5.8.5.7.5-.5.5-.6.5-.6.5.6.5-.1.5.2.5.4.5-1.2.5 1 .5-.4.5-.3.5.6.5-1.1.5.2.5-.1.5.2.5.3.5-.5.5.8.5-.2.5-.4.5.7.5-.3.5.7.5.1.5.2.5-.2.5-.5.5.2.5-.4.5.3.5-.8.5-.7.5 0 .5-.4.5.5.5 1.1.5-.1.5.5.5-.3.5-1 .5-1.4.5-3.1.5-2 .5.6.5 1.5.5 1.8.5 1.7.5 1.1.5.4.5.7.5.8.5.5.5.2.5.1.5-.5.5-.5.5.3.5-.2.5.1.5-.2.5-.5.5-.1.5-.1.5.4.5.3.5.2.5.4.5-.9.5-.3.5 0 .5-.6.5 0 .5.5.5-.3.5-.4.5 1.2.5-.9.5 0 .5.1.5-.7.5.7.5-.3.5.2.5-.1.5-.6.5.8.5.1.5 0 .5.1.5-.6.5 0 .5-.1.5.8.5-.9.5-.9.5 0 .5-1.2.5 1 .5.6.5.3.5.9.5.6.5.6.5.3.5 0 .5-.1.5-.2.5-.7.5-.7.5-1 .5 0 .5-.7.5.6.5.1.5.1.5 1 .5-.4.5.3.5-1.3.5-.1.5.4.5-1.1.5.8.5-.8.5-1.1.5-1.1.5-1.6.5-1.2.5-1.4.5-.5.5 0 .5 1 .5 1.4.5 2.2.5 1 .5.8.5 1 .5.4.5 1.8.5.5.5-.2.5.4.5-1.5.5 0 .5.6.5-.5.5.3.5-.5.5-.3.5 0 .5.8.5.7.5-.2.5-.3.5.2.5.2.5.3.5.7.5-.8.5-.7.5.6.5 0 .5-.6.5-.1.5-1.8.5.2.5.9.5 1 .5 1.8.5-.6.5-.1.5-.3.5-.5.5.1.5.1.5-.2.5.3.5.2.5-.5.5-.4.5-.7.5-.3.5 0 .5.4.5.3.5.9.5.5.5.1.5-.7.5-.3.5 0 .5-.7.5 0 .5-.6.5-.9.5.4.5 0 .5.6.5-.1.5 0 .5.2.5-.5.5.8.5.1.5.4.5.2.5-.1.5.2.5-.3.5-.7.5-.1.5-.4.5-1.1.5-1.9.5-4.1.5-2.2.5.8.5 2.8.5 3 .5 1.6.5.9.5 1 .5.2.5.2.5.2.5-1.8.5-.8.5 0 .5.7.5.2.5.2.5.8.5-.3.5.9.5.6.5-1 .5-.8.5-.7.5-2 .5-4.2.5-6.1.5-10.5.5-10.5.5-4.4.5.3.5 7.9.5 9.4.5 7.3.5 6.1.5 3.2.5 2.5.5 1.6.5 1.1.5 1 .5-.4.5 0 .5-.1.5 0 .5 0 .5-.6.5.3.5-.3.5.2.5-.3.5-.6.5-.1.5.1.5-.1.5-.2.5-.3.5-1.2.5-.3.5-1.7.5-3.9.5-6.9.5-10.6.5-12.4.5-11.6.5-6.1.5 1.9.5 8.3.5 11.5.5 10.9.5 9.3.5 5.7.5 3.8.5 2.3.5.3.5.8.5.1.5.9.5 0 .5.6.5-.8.5-.6.5.5.5-1.2.5-.4.5-2.4.5-2.2.5-1.4.5 1.6.5 2.7.5 1.7.5 2.3.5 0 .5-.3.5-.4.5-1.2.5.6.5.2.5.2.5.3.5-.3.5-.1.5-.1.5 0 .5.4.5 0 .5-1 .5.7.5-.5.5-.1.5 2 .5-.2.5-.5.5.1.5-.8.5-.1.5 1.1.5.6.5-.4.5.1.5-.3.5-.6.5.2.5.3.5-.1.5-.4.5 0 .5-.5.5-.2.5.2.5.8.5-.2.5-.4.5.3.5-1.4.5 0 .5.6.5-.6.5.6.5.7.5-.2.5.1.5-.8.5-2.3.5-1 .5.4.5 2.1.5 1.8.5.6.5.5.5-.9.5-.7.5-.1.5.6.5-.6.5.4.5.7.5 0 .5.2.5.8.5-.6.5.1.5.6.5-.7.5.5.5-.5.5-.5.5 1 .5-.4.5.2.5.1.5-1.6.5-.3.5-.5.5.5.5 1.4.5.5.5-.1.5-.8.5-.7.5.1.5-.8.5 1 .5.5.5.8.5.5.5-.5.5-.5.5-1.4.5 0 .5-.4.5.2.5.7.5.8.5.3.5-.8.5 0 .5-.4.5.4.5 1 .5-.4.5.1.5-.7.5-.5.5.5.5-.5.5.4.5-.7.5-.7.5-.1.5-.9.5-.6.5-.6.5-4.3.5-8.3.5-12.7.5-14.2.5-9 .5 2.9.5 11.2.5 12.2.5 12.1.5 6.5.5 3.3.5 1.8.5.5.5.8.5.2.5.6.5 0 .5-.3.5 0 .5-.5.5-.5.5-.5.5-.4.5.3.5.3.5.6.5 1.7.5.4.5.2.5-.1.5-.6.5-.7.5.6.5.4.5.1.5 0 .5-.1.5-1 .5-.6.5.7.5-.1.5 0 .5.4.5-.3.5-.3.5.5.5-.4.5-.4.5.4.5.4.5.6.5.5.5-.9.5-.1.5.4.5-.8.5.7.5-.4.5-1.4.5.2.5-.4.5-.1.5.4.5.7.5-.4.5.6.5.2.5-.3.5.7.5-.7.5.4.5-.3.5-.5.5.3.5-.7.5.3.5 1.2.5-.1.5.3.5.9.5-1.1.5.2.5.4.5-.3.5 1.4.5-.4.5-.2.5-.6.5-1.1.5-.1.5-.8.5.2.5.4.5-.1.5.9.5-.4.5-.8.5-.6.5 0 .5.3.5-.3.5-.8.5-4.7.5-4.7.5-1.9.5 2.4.5 4.4.5 2.8.5 1.5.5.9.5-.4.5.8.5 1.1.5-.7.5 1 .5-.1.5-.1.5.3.5-.3.5.2.5.5.5.6.5.2.5-.7.5-.6.5-.5.5-.2.5.6.5.3.5.5.5.1.5-.1.5.1.5-.6.5 0 .5.6.5-.7.5.7.5.4.5.2.5.6.5-1 .5-.4.5-.7.5-.1.5.8.5.8.5.3.5-.8.5-.4.5-1.6.5.2.5.4.5.2.5.2.5-.9.5.2.5-.1.5.5.5-.1.5.6.5-.1.5-.4.5 0 .5-.9.5.2.5.4.5-.2.5 0 .5.2.5-.5.5 1.3.5.8.5-.9.5.4.5-.4.5-.2.5 1.5.5-.6.5-.9.5-.7.5-.5.5.3.5.6.5.4.5.1.5-.1.5-.1.5-.1.5-.5.5 1.1.5-.2.5.5.5 0 .5.1.5.8.5-.9.5.4.5-.6.5-1 .5.6.5.1.5-.5.5.5.5 0 .5-.4.5-.1.5.2.5-1.9.5-1.6.5-.5.5-.1.5 1 .5 1.2.5.5.5.1.5 1.2.5.4.5.1.5.2.5.2.5.2.5-.9.5.7.5-1.1.5-1.6.5-3.3.5-6.7.5-4.7.5.7.5 5 .5 5 .5 3.9.5 1.5.5-.1.5 0 .5-.2.5.2.5.5.5-.3.5.5.5-.1.5.6.5.3.5 0 .5.7.5-.7.5 0 .5.1.5-1.1.5.2.5-.1.5-.5.5.6.5-.2.5-.2.5.2.5-.4.5.3.5.7.5.9.5-.5.5-.3.5-1.4.5-1.2.5-.1.5-.5.5.7.5.1.5-.2.5.8.5 1.3.5 0 .5 1.3.5-.3.5-1.3.5.6.5-.3.5.2.5.4.5.5.5-.4.5.1.5.3.5-1 .5-.7.5-.9.5-.5.5.5.5 0 .5.4.5.7.5-1 .5.4.5-1 .5-2.6.5-1.9.5 0 .5.9.5 2.3.5 1.7.5.9.5.5.5-.4.5-.2.5 0 .5.6.5-.1.5 1.3.5 0 .5.1.5.2.5.1.5-.4.5-.4.5-.3.5-.5.5.4.5.4.5.2.5-.4.5-.1.5-.2.5-1 .5.7.5-.2.5-.3.5 1.1.5-.7.5-.4.5.1.5.5.5.5.5 1.1.5-.1.5-.7.5 0 .5.1.5.3.5-.3.5-1.3.5 0 .5-.6.5.6.5 1.1.5.8.5.7.5-.2.5-.2.5-1.1.5.5.5.3.5-.5.5-1.1.5-.4.5-.6.5.9.5.4.5-.1.5 0 .5-.9.5 1.2.5 0 .5.2.5.7.5-1 .5-.3.5-.1.5.5.5.4.5.4.5.8.5-.9.5-.2.5-1 .5-.3.5.2.5-.1.5 1.1.5-1 .5-.2.5-1 .5-1.9.5-.2.5.5.5.8.5.9.5.2.5.6.5.8.5.6.5 1.4.5-.7.5-1.1.5-.4.5-1.3.5.7.5.3.5.4.5.2.5-.8" clip-path="url(#rcb3)"/>
<path fill="none" stroke="none" stroke-width="0" stroke-linejoin="round" d="M996.5 1028l2 1.7 2-.5 2 0 2-.4 2 .7 2-.4 2 .5 2-2 2-.5 2 2.5 2 .4 2-1.8 2 .9 2-.4 2 .4 2-.8 1.5-4.2.5-4.1 1-3.3 1 6 1 4.6 2 2.8 2-.7 2 .5 2-1.1 2 .4 2 .2 2-1 2 .6 2 .8 2-.6 2 .8 1.5-1.2 2 .8 2-.3 2 .3 1.5-1.3 2 .4 2 1.9 1.5-1.9 2 1 1-1.2 2 1.2 2 .4 2-.3 1.5-2 2 2.2 2-2.7 2 1.4 2-.3 2 .6 2-4 1.5 3.5 2-1.5 1.5 1.4 2-.9 2 1.4 2 .2 2 1.9 1-1.2 2 .7 2 .4 1-1.5 2-1.6 2-.9 1-12.2.5-19.5.5-21.5.5-7 .5 11.6.5 19.3.5 15.8.5 9.2 1 3.8 2 1.4 2 2.1 2 .3 2-1.5 1-2 2 2.8 1-1.4 2-1.3 2 .2 1-7.2.5-16.1.5-31.8.5-41.3.5-18.3.5 17.6.5 33.6.5 31.8.5 19.4.5 9.1 1.5 3.5 2 1.4.5-1.1 2-.7 2 .9 2-.2 2 .1 2 .3 2-.3 1.5-3.8.5-5.3.5-15.5.5-34.6.5-47.5.5-24.4.5 17.3.5 37 .5 36.9.5 22.9.5 10.1 1 5.1 2 1.6 2 .1 2-.5 1.5-5.7.5-5.6.5-4.1 1 6.5.5 5 1 4.5 1-3.6.5-4.8.5-5.6 1.5 7.3.5 4 1.5 4.4 2-1.8 2 1.1 2 .3 2-1.8 2 1.3 1.5-1.8 2-9.2.5-16.1.5-20.8.5-10.3.5 7.5.5 16.4.5 16.4.5 10.3.5 4.9 1.5 3.5 2 .2 2-1.5 2 1.1 2-.8 2 .5 1 1 2 .5 2-2.2 2 .4 2 .8 1.5-1.2 2 .3 2 1.8 2-3 2 1.5 1-1.4 2-6.7.5-10.8.5-12.6.5-5.6.5 5.9.5 11.8.5 10 .5 5.2 1.5 3.6 2 .7 2-.2 2 .3 2 .3 2 .7 2-1.7 2-1.3 2 1.8 2 .1 1-4.5.5-5.7.5-9.8.5-6.6 1 8.9.5 7.8.5 5.1 1.5 3 2 1.2 1.5 1.1 2 .6 2-.9 2 .1 2-.4 2 1.8 2-2 2 1.1 1-1.4 2 .9 1-1.5 2 2.6 1.5-1.7 2 1.1.5-1.2 2 .9.5-1.1 2 .6 2-.3 2 1.2 2-.3 2-1.6 2 1.2 2-.9 1-4.5.5-2 1.5 3.9 2 3.9 2 1.6 1-1 2 0 2-.3 2 0 2-.9 2 1 2-1.5 2 .5 2 .3 2-.6 1.5-1 1-1.2 2 2.8 2 1.5 2-1.7 1.5-1.7 2 1.8 2-1.5 2-.7 1.5-3.8 1.5-3.1 2 4.6 2 3.2 1.5 2.1 1-1.1 2 .4 2 0 2 .4 2 .4 2-.7 1-1.9 2 3.9 2-1.5 2 .3 2-1.4 2 .4 2 .8 1.5-1 1.5-1.5 2 .9 2 .5 2 .6 2-.9 2-7.5.5-2.2 1 3.6 1 4.6 2 2.3 1.5-2.4 2 1.1 2 2 2-4.5.5-4.2.5-6.1.5-10.5.5-10.5.5-4.4 1 8.2.5 9.4.5 7.3.5 6.1 1 5.7 1.5 3.7 2-.5 2-.6 2-.8 2-.5 2-7.1.5-6.9.5-10.6.5-12.4.5-11.6.5-6.1 1 10.2.5 11.5.5 10.9.5 9.3.5 5.7.5 3.8 2 3.5 2 .7 2-1.7 1-4.6.5-1.4 1 4.3 1 4 2-1.9 2 1.3 2-.5 2 .1 2 1.2 2-1.3 1.5 1.3 2-.6 2-.2 2 .3 2-1.7 2 .6 2-.2 1-3.3 1.5 4.3 2-.5 2 .3 2 1.7 2-.6 2 .5 2-1.7 2 1.1 2-1.1 2 .8 2 .3.5-1.4 2 .5 2 .3 2 .6 1.5-1.1 2-.3 2-2.3 1-4.9.5-8.3.5-12.7.5-14.2.5-9 1 14.1.5 12.2.5 12.1.5 6.5 1 5.1 2 2.1 2-.8 1.5-1.4 2 2.9 2-.1 2 .4 2-1.7 2 1 2-.5 2 1 2-.1 2-1.9 2 .1 2 1.1 2 .1 2-1.2 1.5 1.4 2 .3 2 1.1 2-2 2-.3 2-.9 2-.8.5-4.7.5-4.7.5-1.9 1 6.8 1 4.3 2 2.4 2 .1 2 .7 2-.5 2 .2 2 .6 2-.7 2 1.9 2-2.2 2 1.1 1-2 2 1 2-.3 2 0 2-.3 2-.5 1.5 1.2 2 1.3 2-2.7 2 1.4 2-.8 2 1.4 2 .4 1-1.6 2 .7 2-.3 1.5-4 2 2.6 2 1.8 2-.3 2-5.3.5-6.7.5-4.7 1 5.7.5 5 .5 3.9 2 1.2 2 .9 2 .8 2 .1.5-1.1 2 .2 2-.6 2 1.4 2-3 2 .1 1.5 2.1 2 .3 2 .8 2-1 1.5-2.1 2 1.6.5-1 2-5.1 2 4.9 2 .8 2 1.8 2 .4 2-1.6 2 .6 1.5-1.3 2 1.3 1-1.1 2 2.2 2-.7 2-1.3 2 1.9 2-.8 2-.8 2 .3 2 .2 2-.1 2 .5 2 .1 1-1.3 2 .2 2-3.3 2 2.4 2 3.4 2-3.5 2 1.6.5-.8" marker-mid="url(#mr)"/>
<path fill="none" stroke="#ff00ff" stroke-width="1.3" stroke-linejoin="round" d="M1007.7 1081.9l1 0 1 0 1 0 1 0 1 0 1 0 1 0 1 0 1 0 1 0 1 0 1 0 1 0 1 0 1 0 1 0 1 0 1 0 1 0 1 0 1 0 1 0 1 0 1 0 1 0 1 0 1 0 1 0 1 0 1 0 1 0 1 0 1 0 1 0 1 0 1 0 1 0 1 0 1 0 1 0 1 0 1 0 1 0 1 0 1 0 1 0 1 0 1 0 1 0 1 0 1 0 1 0 1 0 1 0 1 0 1 0 1 0 1 0 1 0 1 0 1 0 1 0 1 0 1 0 1 0 1 0 1 0 1 0 1 0 1 0 1 0 1 0 1 0 1 0 1 0 1 0 1 0 1 0 1 0 1 0 1 0 1 0 1 0 1 0 1 0 1 0 1 0 1 0 1 0 1 0 1 0 1 0 1 0 1 0 1 0 1 0 1 0 1 0 1 0 1 0 1 0 1 0 1 0 1 0 1 0 1 0 1 0 1 0 1 0 1 0 1 0 1 0 1 0 1 0 1 0 1 0 1 0 1 0 1 0 1 0 1 0 1 0 1 0 1 0 1 0 1 0 1 0 1 0 1 0 1 0 1 0 1 0 1 0 1 0 1 0 1 0 1 0 1 0 1 0 1 0 1 0 1 0 1 0 1 0 1 0 1 0 1 0 1 0 1 0 1 0 1 0 1 0 1 0 1 0 1 0 1 0 1 0 1 0 1 0 1 0 1 0 1 0 1-.1 1-.2 1-.3 1-.4 1-.3 1-.2 1-.1 1-.1 1-.1 1-.2 1-.3 1-.4 1-.6 1-.5 1-.6 1-.4 1-.3 1-.2 1-.1 1 0 1-.1 1 0 1 0 1 0 1 0 1 0 1 .1 1 0 1 .1 1 .2 1 .4 1 .6 1 .9 1 1 1 .8 1 .6 1 .4 1 .2 1 .1 1 0 1 .1 1 0 1 0 1 0 1 0 1 0 1 0 1 0 1 0 1 0 1 0 1 0 1-.1 1 0 1-.1 1-.1 1-.1 1-.2 1-.2 1-.2 1-.2 1-.1 1-.1 1 0 1-.1 1 0 1 0 1 0 1 0 1 0 1 0 1 0 1 0 1 0 1 0 1 0 1 0 1 .1 1 0 1 .1 1 .1 1 .2 1 .2 1 .2 1 .2 1 .1 1 .1 1 .1 1 0 1 .1 1 0 1 0 1 0 1 0 1 0 1 0 1 0 1 0 1 0 1 .1 1 0 1 .2 1 .2 1 .3 1 .2 1 .1 1 0 1 .1 1 0 1 0 1-.1 1-.1 1-.2 1-.2 1-.3 1-.1 1-.1 1-.1 1 0 1 0 1 0 1 0 1 0 1 0 1 0 1 0 1 0 1 0 1 0 1 0 1 0 1 0 1-.1 1-.1 1-.1 1-.2 1-.3 1-.2 1-.1 1 0 1-.1 1 .1 1 0 1 .1 1 .3 1 .2 1 .2 1 .2 1 0 1 .1 1 0 1 0 1 0 1 0 1 0 1 0 1 0 1 0 1 0 1 0 1 0 1 0 1 0 1 0 1 0 1 0 1 0 1 0 1 0 1 0 1 0 1 0 1 0 1 0 1 0 1 0 1 0 1 0 1 0 1 0 1 0 1 0 1 0 1 0 1 0 1 0 1 0 1 0 1 0 1 0 1 0 1 0 1 0 1 0 1 0 1 0 1 0 1 0 1 0 1 0 1 0 1 0 1 0 1 0 1 0 1 0 1 0 1 0 1 0 1 0 1 0 1 0 1 0 1 0 1 0 1 0 1 0 1 0 1 0 1 0 1 0 1 0 1 0 1 0 1 0 1 0 1 0 1 0 1 0 1 0 1 0 1 0 1 0 1 0 1 0 1 0 1 0 1 0 1 0 1 0 1 0 1 0 1 0 1 0 1 0 1 0 1 0 1 0 1 0 1 0 1-.1 1-.1 1-.2 1-.2 1-.2 1-.1 1 0 1-.1 1 0 1 .1 1 .1 1 .1 1 .2 1 .2 1 .1 1 .1 1 .1 1 0 1 0 1 0 1 0 1 0 1 0 1 0 1 0 1 0 1 0 1 0 1 0 1 0 1 0 1 0 1 0 1 0 1 0 1 0 1 0 1 0 1 0 1 0 1 0 1-.1 1-.1 1-.1 1-.2 1-.1 1-.1 1 0 1 0 1 .1 1 .1 1 .1 1 .2 1 .1 1 .1 1 0 1 0 1 0 1 0 1 0 1 0 1 0 1 0 1 0 1 0 1 0 1 0 1 0 1 0 1 0 1 0 1 0 1 0 1 0 1 0 1 0 1 0 1 0 1 0 1 0 1 0 1 0 1 0 1 0 1 0 1 0 1 0 1 0 1 0 1 0 1 0 1 0 1 0 1 0 1 0 1 0 1 0 1 0 1 0 1 0 1 0 1 0 1 0 1 0 1 0 1 0 1 0 1 0 1 0 1 0 1 0 1 0 1 0 1 0 1 0 1 0 1 0 1 0 1 0 1 0 1 0 1 0 1 0 1 0 1 0 1 0 1 0 1 0 1 0 1 0 1 0 1 0 1 0 1 0 1 0 1 0 1 0 1 0 1-.1 1-.1 1-.1 1-.3 1-.2 1-.2 1-.1 1-.1 1 0 1 0 1 0 1 0 1 0 1 0 1 0 1 0 1 0 1 0 1 0 1 0 1 0 1 0 1 0 1 0 1 0 1 0 1 .1 1 .1 1 .2 1 .2 1 .3 1 .1 1 .1 1 .1 1 0 1 0 1 0 1 0 1 0 1 0 1 0 1 0 1 0 1 0 1 0 1 0 1 0 1 0 1 0 1 0 1 0 1 0 1 0 1 0 1 0 1 0 1 0 1 0 1 0 1 0 1 0 1 0 1 0 1 0 1 0 1 0 1 0 1 0 1 0 1 0 1 0 1 0 1 0 1 0 1 0 1 0 1 0 1 0 1 0 1 0 1 0 1 0 1 0 1-.1 1-.1 1-.1 1-.3 1-.3 1-.3 1-.1 1-.1 1 0 1 0 1 .2 1 .2 1 .3 1 .3 1 .2 1 .1 1 .1"/>
<path stroke="#0000ff" stroke-width="1.5" fill="none" d="M1007.7 1076.2v11.5M1033 1076.2v11.5M1067.4 1076.2v11.5M1103.3 1076.2v11.5M1118.9 1076.2v11.5M1126.5 1076.2v11.5M1130.1 1076.2v11.5M1143 1076.1v11.5M1164.6 1076.1v11.5M1175.9 1074.6v11.5M1177.5 1074.5v11.5M1182.4 1073.1v11.5M1186.2 1071.2v11.5M1199.6 1071v11.5M1213.4 1076.1v11.5M1214.6 1076.1v11.5M1220.5 1076.1v11.5M1223.2 1076.1v11.5M1236.1 1074.7v11.5M1261.6 1076.1v11.5M1266.8 1076.2v11.5M1278.2 1077.3v11.5M1290.3 1076.2v11.5M1312.5 1075.1v11.5M1314.2 1075.3v11.5M1316.5 1075.8v11.5M1319.7 1076.1v11.5M1323.2 1076.1v11.5M1334.1 1076.1v11.5M1347.6 1076.1v11.5M1350.4 1076.1v11.5M1353 1076.2v11.5M1355.6 1076.2v11.5M1358.4 1076.2v11.5M1364.9 1076.2v11.5M1386.6 1076.2v11.5M1389.8 1076.1v11.5M1392.9 1076.1v11.5M1396.2 1076.1v11.5M1403.7 1076.1v11.5M1406 1076.1v11.5M1410.3 1076.1v11.5M1412.4 1076.1v11.5M1417.8 1076.1v11.5M1425.4 1075.3v11.5M1429.8 1075.2v11.5M1435.2 1076v11.5M1437.3 1076.1v11.5M1454.7 1076.1v11.5M1461.1 1076.1v11.5M1468.8 1075.4v11.5M1470.9 1075.7v11.5M1483.8 1076.1v11.5M1501.2 1076.1v11.5M1504.3 1076.1v11.5M1513 1076.2v11.5M1522.8 1076.2v11.5M1526.1 1076.2v11.5M1531.3 1076.1v11.5M1536.7 1076.1v11.5M1540.1 1076.1v11.5M1586.5 1075.3v11.5M1588.6 1075.8v11.5M1601.1 1076.1v11.5M1618.8 1076.1v11.5M1622.8 1076.1v11.5M1631.8 1076.1v11.5M1641.6 1076.1v11.5M1652.4 1075.1v11.5M1654.6 1075.7v11.5M1657.4 1076.1v11.5"/>
<path fill="none" stroke="#0000ff" stroke-width="1.15" stroke-linejoin="round" d="M996.5 1179.2l.3 2.3.3-.7.3-2.9.3-10 .3 10.9.3-2 .3.8.3 4.7.3-1.4.3 3.2.3-3.7.3 10.8.3-13.4.3-1.2.3 10.2.3-8.9.3 4.4.3 4.4.3-5.5.3-1.4.3 6.7.3-3.3.3-4.5.3-3.3.3 4.2.3-6.4.3 4 .3-1 .3 6.8.3 2.3.3-6.8.3 1.4.3-3 .3-1.5.3 4.6.3 5 .3-.8.3.9.3-4.3.3-12.6.3 18.4.3 1.8.3-2.4.3-.4.3.7.3 7.6.3-11.4.3 6.1.3-3.7.3-.6.3-4.5.3-1.4.3-3.7.3 8.7.3-4.7.3-4.4.3 2 .3-2.1.3 14 .3-9.4.3 1.6.3-6.8.3.9.3 10.3.3-6.8.3 2.1.3 7.6.3 1.6.3-3.1.3-5.1.3-1.5.3-2.7.3 11.7.3-16.5.3 5.6.3-9.1.3 3 .3 8.3.3.5.3-.4.3-3.3.3-5.7.3 5.3.3.8.3 7.3.3 1.5.3-4.9.3-5 .3-1.8.3 6.3.3-2.9.3-8.2.3 15.9.3-6.9.3-1.8.3-2.8.3.3.3 8.7.3-9.6.3 5.2.3 2.9.3 6.1.3-2.4.3-6.7.3-2.1.3 6.5.3.7.3-7.3.3 5.1.3-3.6.3-7.2.3 3 .3 9.3.3 3.1.3-4.2.3-4.1.3-2.6.3 6 .3-1 .3-9.9.3 11.1.3-7.1.3 6.9.3-1.1.3.6.3 1.8.3-1.8.3-9.1.3-5.9.3 15.9.3-3.1.3-10.6.3-2.2.3 14.3.3 6.4.3-7.3.3-5.5.3 2.3.3-15.3.3 8.3.3 9.8.3-1 .3-15.2.3 16.7.3-3.5.3 2.3.3-6 .3.8.3-5.5.3 7.1.3 3 .3-9.5.3 6.6.3-4.2.3 8.5.3-.3.3-16.2.3 16.9.3 0 .3-7.7.3 1.5.3.2.3-5.2.3 5.3.3 8.3.3-5.2.3 5.1.3-2.7.3 1 .3-5.3.3 3.1.3 6.3.3-2.5.3-5.8.3-4.9.3-1.4.3 5.8.3 1.2.3-11.2.3 10.8.3 1.2.3.4.3-4 .3 14.6.3-6.8.3-10.6.3 3.7.3 7.9.3-1.3.3-1.3.3-.3.3-.5.3-1.2.3-2.6.3 7.9.3-16.3.3 10.1.3 9.9.3-10.6.3-1.9.3 15.9.3-4.5.3-5.8.3-2.3.3 2.3.3-.7.3.5.3-2.5.3 6.5.3-5.3.3-6.6.3 2.6.3 6.3.3-5.3.3-7.5.3 19.8.3-5.3.3-4.7.3-.1.3 4.9.3 4.8.3-10.2.3 5.2.3-5.3.3 5.1.3-7.4.3-3.7.3 9.6.3-.9.3 3.9.3-7 .3 10.5.3-6.7.3 6.9.3-9.2.3 9.5.3-8.5.3 1.8.3 4.1.3-13.9.3 3.5.3 14.4.3-17 .3 5.5.3 5 .3 4.1.3-9.6.3 3.2.3-6.5.3 4 .3 6.8.3-3.8.3-1.9.3 2.4.3-1.4.3.1.3-2.3.3-3.3.3 9 .3-9 .3 10.6.3 5.4.3 5.6.3-4.9.3-17 .3 6.6.3-5.4.3.5.3-5 .3 2.3.3 10.7.3-.4.3 2.6.3-.6.3-1.8.3-7.8.3 3.3.3 4.1.3 2.3.3-7.9.3-1.2.3.8.3 10.1.3-4.9.3-4.3.3-2.1.3 6 .3-10.5.3 7.5.3-1.7.3.2.3 3.6.3.8.3 13.6.3-14.8.3 2.8.3-7.4.3-4 .3 14.1.3 4.3.3-14.8.3 4.6.3 6.1.3-5.3.3-12.3.3 17.1.3-5.9.3 4.5.3-8.2.3 8.9.3 1.1.3-8.6.3 5.9.3-5.8.3.6.3-2.2.3 2.1.3-1 .3 8.8.3-7.3.3-4.5.3 12.5.3-4.2.3 2.5.3-5.4.3 3.8.3-3.6.3-4.1.3 5.2.3.2.3-.3.3 3.2.3-12.4.3 10.4.3-5 .3 2.5.3 3.8.3-1.7.3-3.4.3 11.5.3-8.4.3 4.5.3 1.6.3-8.3.3-4.2.3 5.6.3 3.6.3-2.7.3-7.1.3-2.4.3 3.6.3-.1.3 8.2.3-3.2.3 4.1.3-4.4.3 8.6.3-8.9.3 2.7.3-7 .3 6.3.3 3.3.3-1.5.3 2.2.3-9.4.3 5 .3 6.2.3-5.5.3-3.9.3-.6.3-1.5.3 3.7.3 6.4.3-4.3.3-1.9.3-4 .3-1.6.3 17.4.3-13.6.3 2.7.3-2.7.3 3.1.3-3 .3 2.4.3 6.4.3-11 .3 6 .3-3 .3 4.1.3-6.9.3 5.7.3-6.7.3-4.3.3 2.6.3 1.7.3-.9.3 2.4.3 8.6.3-11.2.3 8.1.3-1.5.3-3.7.3-1.2.3 6.8.3.4.3-3.2.3 1.1.3.7.3-6.5.3 6.6.3 1.1.3 7.4.3-14.8.3 2.1.3 4.7.3-3.4.3 1 .3 2.4.3-1.8.3 1.1.3 2.3.3-9.9.3 10.8.3-13.2.3 19.1.3-3.6.3-10.9.3 11.7.3-5.7.3 3 .3 1.7.3-2.3.3-1.5.3 3.1.3-4.1.3-.7.3-2.5.3-4.1.3 16.1.3-3.7.3-10.6.3 8.9.3-.7.3-11.4.3 6.8.3 3.6.3 8.7.3-2.9.3.9.3-4.6.3 9.1.3-16.4.3 8.7.3.2.3-17.2.3 14.3.3 6 .3 2 .3-2.5.3-10.3.3 2.9.3-2.3.3 8.4.3-10.2.3-.7.3-3.2.3 9 .3 1.2.3-5.3.3-1.4.3.9.3 4.4.3-18.6.3-1.2.3-7.8.3-8.1.3-1.8.3-3.3.3 1.2.3 13.6.3 7.2.3 3.1.3 4.5.3-5.2.3 6 .3-6.2.3-4.4.3 1.8.3-8.3.3 4.2.3 2.9.3 6.8.3-.3.3 6.3.3 8.2.3-1.8.3-8.2.3-2.3.3 4.8.3.3.3-5.3.3.9.3-1.4.3 2.3.3 5.2.3-4.1.3-15.6.3 4.3.3.6.3 3.6.3 10.9.3 2.3.3-2 .3 8.2.3-1 .3 13 .3-1.2.3 12.1.3-3.5.3-1.7.3-3.8.3-16 .3-2.1.3-.6.3-1.9.3 2 .3-5.4.3-2.6.3 4.6.3 3.4.3-5 .3 9.8.3-2.4.3 1 .3-.5.3-8.1.3 14.4.3-14 .3 5.5.3 1.5.3-2 .3-.5.3-4.9.3 2.1.3 2.5.3 5.7.3-9.1.3 6.9.3-1.2.3-1.6.3-3 .3 1.5.3-7.8.3 8.9.3 1.2.3-4.1.3 5 .3-.8.3-5.2.3 7.3.3-6.7.3 14.3.3-16.2.3.8.3.2.3 4.6.3 4.2.3-5 .3-2.2.3 11.6.3-4.4.3-6.6.3.9.3-6.9.3 7.7.3 7.6.3-13.9.3-9.1.3 15.4.3-12.1.3 18.2.3-13.9.3 3.6.3 2.8.3 6.7.3-3.8.3-21.9.3 11.7.3 9.2.3-11.3.3 8.8.3-2.8.3 7.9.3 1.5.3-32.2.3 28.9.3 1.1.3-6.1.3 1.2.3-2.6.3 4 .3 3.8.3 4.6.3-.1.3-10.4.3-6.7.3-1.1.3-31.6.3-4.6.3 8.5.3 17.4.3.3.3 17.7.3 5 .3 15 .3 7.3.3-2.1.3 1.7.3-12.9.3-3 .3-6.9.3-6.5.3 6.6.3 2.8.3-7.6.3 10 .3-4.3.3-3.8.3 1.6.3-2.5.3-2.3.3 8.5.3-.2.3-6.3.3 1.7.3.5.3 4.3.3 4.1.3-10.6.3 5 .3-1.3.3 2.7.3 4.7.3-11.1.3-5.5.3 9.1.3-7.1.3 15.6.3-11.3.3 2.1.3 1.9.3-.1.3-3.5.3 2.1.3 4.3.3-5.9.3 10.2.3-7.5.3-13.7.3 15.5.3-13.1.3 10.2.3 9.5.3-5.8.3-10.7.3.7.3 3.5.3 5.6.3-11.5.3 7.9.3-4.7.3-3 .3-1 .3 8.6.3-15.7.3 2.3.3 10.2.3 1.4.3-10.5.3 2.9.3.3.3 9.5.3-5 .3 10.8.3-2.8.3-2 .3 0 .3 1.5.3 1.8.3-4 .3 1.2.3 2.8.3-4.3.3 5.2.3-5.9.3-3.3.3 5.2.3 6.4.3-.7.3-15.2.3 9.1.3-3.7.3.3.3-.1.3.2.3-1.2.3 1.5.3 2.4.3-7.1.3-.1.3 1 .3.1.3 8.7.3-8 .3 5.1.3.5.3 3.3.3-3.2.3 5.3.3-5.1.3 2 .3 2.4.3-11.2.3 9 .3 5.4.3-6.7.3-2 .3 10.6.3-8.6.3 5.8.3-17.6.3 11.8.3-2.9.3 4 .3 4.1.3-6.7.3-.4.3-12.6.3 17.5.3 2.5.3-5.9.3-2.9.3 4 .3 3.5.3-1.8.3 7.1.3-12.4.3-3.5.3 9 .3 3.4.3-8.2.3 2.5.3-3.2.3-2.8.3 2.7.3-6.5.3 10.7.3.7.3 2.1.3-8.1.3.8.3-5.3.3 1 .3 11.4.3 9.2.3-18.9.3 3.3.3 6.5.3-8 .3 6.2.3-4.1.3 0 .3 5.7.3-5.3.3-5.2.3 10.4.3-3.8.3-2.9.3-1.5.3 6.6.3-6.4.3 3.9.3 4.2.3-5.5.3 5.7.3-11.8.3 10 .3-.5.3 6.5.3-9.4.3 4.4.3-5.1.3-4.4.3.7.3.9.3 7.2.3-11.9.3 8.1.3 4.2.3 8.9.3-8.3.3 2.7.3-12.8.3 3 .3 3.9.3 4.1.3-3.3.3-6.5.3 2.7.3-6.5.3 11.9.3-13.2.3 9.2.3 2.5.3-4.1.3-16.7.3 2.8.3-9.1.3-5.1.3 7 .3-5.2.3-3.6.3 8.2.3 14.4.3 2.3.3-10.8.3 4.2.3 4.8.3-.9.3 4.4.3-8 .3 5.5.3 3.1.3-12.2.3 6.8.3 12.2.3-8.1.3 3.6.3 5.8.3-7.5.3 2.2.3-5.6.3 10.8.3-5.1.3.6.3-10.7.3 16.7.3-1.3.3-7.5.3 9.6.3-18 .3 11.9.3-17.7.3 47.1.3-41.6.3 6.6.3 2.1.3 7.8.3 0 .3-2.2.3-3.7.3 11.3.3-13.5.3 4.8.3 7.2.3-14.8.3 2.5.3 9.4.3-3.2.3-8.9.3 6.4.3 9.5.3-11 .3 5.1.3-3.2.3-4.1.3 10.9.3-3.3.3.8.3-6.4.3 1.3.3 1.1.3 1.3.3-3.4.3-.6.3 8.9.3-11.7.3 3 .3.1.3-.9.3-3.7.3 2.5.3 7.8.3-5.8.3-1.5.3 11.6.3-14.8.3 11.6.3-2.9.3-8.4.3 4.4.3 0 .3 8.5.3-1.8.3-5.9.3-4.1.3-2.2.3 7.3.3-5.5.3 6.3.3-.2.3 2.5.3 2.7.3-4.1.3 1.9.3-3.1.3 6 .3 3 .3-.3.3-1.2.3-10.3.3-3.4.3 10.3.3 2.3.3-8.9.3 10.5.3-7.1.3-.8.3 1.9.3-8.1.3-1.4.3 6.1.3-3.9.3 5.4.3 0 .3-12.4.3 8.6.3 6.7.3-13.9.3 9.1.3-5.1.3-3.3.3 14.8.3-.2.3-7.4.3-.3.3 9.3.3-.7.3-5.8.3 4.5.3-3.8.3-2.3.3 4.5.3-5.3.3 4.8.3-4 .3-.7.3-.6.3 5 .3 2.6.3-2.8.3-6.3.3 7.1.3-7.5.3-1.1.3 4.1.3 4.9.3-.4.3-.9.3 3.8.3-2.1.3-5.6.3 5.4.3-5.5.3 3 .3 1.2.3-3.1.3-6.5.3 6.9.3-.5.3 1.3.3-1.9.3-3.3.3-2.3.3 10.9.3.5.3-2.1.3-2.2.3 10.1.3-6.7.3-3.5.3 4.5.3-4.2.3 3.4.3-2.3.3 1.3.3-2.4.3-2.8.3 4.8.3 3.2.3-9.7.3 1.9.3-2.5.3 9.1.3-5.3.3 5.1.3-8.5.3 7.3.3-7 .3.1.3 5.2.3-4 .3-1.1.3 7.3.3-4.7.3 6.4.3 6 .3-15.1.3.9.3-6.1.3 2 .3 8.9.3-1.4.3 0 .3.9.3-6 .3-4.5.3 13 .3-4.1.3 4.7.3-5.6.3 3.4.3-5.9.3 2.6.3-.7.3 2.2.3 4.8.3-3.8.3-17.6.3 13.2.3.3.3 4.1.3-3.5.3-3.9.3-.6.3 2.1.3-1.8.3 10.4.3-3.8.3-2.3.3 4.2.3 5.2.3-11 .3 1.2.3-1 .3-4.7.3 3.1.3-1.1.3 6.8.3-.4.3 2.2.3-8 .3 8.3.3-9.5.3 3.9.3 7.2.3-.1.3-.4.3 5 .3-4.8.3-6.3.3-.2.3-3 .3 6.1.3-6 .3.6.3-1.9.3-3.1.3 19.9.3-7.9.3-13.8.3 11.8.3-4.6.3-7.6.3 9.3.3 2.2.3 1.7.3 2.3.3-8.9.3 3.3.3 3.1.3-.6.3-.4.3-1.4.3 5.5.3-12 .3-1 .3 15.2.3-5.7.3 3.3.3-3.7.3-3.2.3-.3.3 2.9.3-2.8.3 2.1.3-.1.3 3.9.3-.5.3 3.8.3-10.8.3 3.5.3 4.4.3-2.8.3-13.3.3 13.9.3-2.1.3-2.2.3.1.3-1.3.3 9.1.3-2.3.3-2.1.3 4 .3-1.2.3-8.7.3-1.3.3.1.3 8.5.3-3.5.3 5.8.3-2.6.3-3.2.3-4.9.3 4.7.3 11.9.3-13.3.3-4.8.3 7.2.3 7.9.3-7.1.3-10.9.3 7.7.3 2.5.3 1.2.3 4.7.3 7.6.3-4.6.3-3.2.3-2.8.3-3.2.3 7 .3 3.5.3-1.5.3-4.3.3 4.6.3-4.1.3.9.3-.5.3 1.8.3-.9.3 5.6.3-4.5.3-.4.3 5.1.3-1.8.3 1.9.3-8.6.3 9.9.3-6.3.3-5.5.3 3.8.3-5.5.3.4.3 2.1.3 5.9.3-11.4.3 7.6.3-2.9.3 8.2.3-6.9.3 1.8.3 3.1.3-11.4.3 3.7.3-5.2.3 3.3.3 5.4.3-2.3.3 2.6.3-3.7.3-2.1.3 2.4.3-3.7.3-1.4.3-2.3.3 6.6.3 2.8.3-8 .3 3.3.3-8.4.3 4.9.3 5.9.3-6.4.3 8.5.3-4.4.3 3.4.3-4.3.3-4.2.3 6.6.3 3.5.3-6 .3 4.5.3-5.4.3 2 .3 7.3.3-5.9.3-4.7.3 7.5.3-2.5.3-2.6.3 5.9.3-16.8.3 16.4.3 6.7.3-7.2.3-10.3.3 15.1.3 5.1.3-9.2.3-7 .3 1.9.3 2.8.3 1.4.3 4.9.3-3 .3-12.8.3 8.9.3.9.3 9.5.3-11.7.3-3.7.3 5.1.3 2.6.3-9.8.3 13.4.3-5.5.3 4.6.3-.5.3-.8.3 4 .3 1.8.3-9.4.3 1.8.3 5.4.3-3.9.3-3.6.3 3.2.3-4.5.3 1.7.3-14.2.3 17.1.3 18.5.3-15.4.3-.4.3-2.5.3-4.3.3 5.9.3-2.1.3-.8.3 1.9.3-3.7.3 3.2.3 2.7.3 1.4.3-4.1.3 3.4.3-2.4.3-11.7.3 1.4.3 8.2.3-4.3.3 7.9.3-9 .3 4.4.3-.7.3-.8.3.8.3 2.9.3.4.3-3.4.3 3.3.3 1.9.3-2.9.3-2.4.3.2.3.7.3-.2.3 3.1.3 12.1.3-6.9.3-5 .3 3 .3-.3.3 3.2.3 1.2.3-11.4.3 15.3.3-14.6.3 4.3.3-3.9.3-4.2.3-.1.3 17.6.3-1.8.3-11.2.3.2.3 13.4.3-10.2.3 8.2.3 9.1.3-4.5.3 4.7.3-5.6.3-8.8.3 4.2.3-5.1.3 8.9.3-8.7.3 6.5.3-2.2.3 2.7.3 11.1.3 1.9.3 5.3.3 13.3.3-4.3.3-11 .3 5.7.3-20 .3.3.3-3.9.3-7.3.3-4.2.3 1.2.3-.4.3-3.8.3 9.3.3-7.2.3-.5.3 10.1.3-10.1.3-3.7.3 6.8.3 0 .3 0 .3 10 .3-13.1.3 9.1.3-1.9.3 2.6.3-7.4.3-1.4.3 1.1.3 4.2.3.9.3 3.2.3-16.3.3 13.8.3-3.4.3-1.8.3-5.4.3 6.6.3-10 .3 14.5.3-10 .3 3.9.3-.6.3 3.8.3-9.3.3 10.4.3-1.9.3 5.3.3-5.7.3-2.4.3-8.4.3 7.3.3 9.5.3-10 .3.1.3 2.1.3 4.4.3-12.4.3 17.3.3-5.8.3.7.3-3.8.3 9.7.3-11.2.3 5.8.3-3.2.3-6.9.3 5.2.3 3.7.3-4.1.3-.4.3 1.9.3-4.2.3-.8.3 5.5.3-5 .3 7 .3.3.3 3.1.3-1.3.3-5.9.3 3.3.3-7 .3 7.9.3-4.5.3 8.7.3-9.6.3 4.3.3-4.9.3 6.9.3.3.3-7.6.3 14 .3-7.3.3-17 .3 10.4.3-4 .3-1.1.3 8.8.3-9.2.3 11.4.3-9.7.3 6.3.3 9.8.3-9.8.3 1.4.3 6.1.3-7.2.3 3.8.3-6.2.3 1.8.3 2.1.3-.3.3-3.4.3 4.3.3 1.8.3.1.3-3.1.3-4.8.3 7.7.3.7.3-8.5.3-6.6.3 10.1.3 5.8.3-.9.3-9.5.3 12.2.3-10.6.3 8.6.3-6.8.3 6.6.3-2.5.3-3.7.3 4.6.3-6.3.3 1 .3.4.3-2.9.3 8.3.3.3.3-4.7.3-4.6.3 6.4.3-.8.3 1.7.3-3 .3-1 .3 7.7.3-9.5.3 1.8.3-7.4.3 6.6.3-.7.3.9.3 4.4.3-5.9.3 5 .3-3.8.3 0 .3-6.7.3 11 .3 1 .3-7.7.3 2 .3-5.7.3 6.4.3-3.9.3 7 .3-2.4.3 3.3.3-6.7.3-4.4.3 7.6.3-2.4.3 11.2.3-6.9.3 5.1.3-4.5.3-3.9.3-5.6.3 6 .3 4.2.3-3 .3.9.3.2.3-7.9.3 8 .3-10.2.3 8.6.3 6.7.3-15.8.3 8.4.3 2.7.3 3.2.3-4.6.3-3.8.3 7.7.3-1 .3-10.9.3 8.4.3-8.4.3-4.7.3 1.7.3 6.9.3-5.8.3 18.8.3-15.2.3 8.2.3 1.4.3 7.2.3-12.5.3 9.2.3-13 .3 5.1.3-1.5.3-3 .3 6.4.3 7.7.3 1 .3-2.9.3-12.6.3 1.6.3 6.9.3.1.3.1.3-3.8.3-3.2.3 6.6.3-2.1.3 6.7.3-9.9.3 7.2.3 2.3.3 3 .3 0 .3-14.5.3-.5.3 6.6.3-5.6.3-7.3.3 18.3.3-5 .3 2.9.3-4.1.3 4.9.3-4.1.3-.8.3 8.1.3-14.9.3 8 .3-10.2.3 14.7.3-8 .3-4.6.3-3.1.3 7.7.3 10.5.3-7.1.3-9.9.3-2.1.3 23.7.3-16.1.3-13.3.3 16.1.3 2 .3 5.2.3-8.3.3-2.5.3 6.8.3-7.4.3 5.6.3-1 .3 9.8.3-13.6.3-.2.3 4.6.3 1 .3-9.3.3 3.3.3 4.4.3-2.6.3 12.8.3-7.6.3 2.2.3-6.4.3.9.3.2.3 4.5.3-6.8.3 9.4.3-11.4.3 8.6.3-3.4.3-3.4.3 9.7.3-2.5.3-5.8.3-2.9.3 8.1.3-7.9.3 6.6.3-7.1.3 4.5.3-4.4.3 3.3.3 8.9.3.7.3-10.8.3.8.3-6.6.3 9.8.3 3.9.3-9.7.3-.2.3 6.3.3-4.4.3 3.6.3 6.5.3-6.2.3-.7.3 12.7.3-26.1.3-7.2.3-13.3.3-10.9.3 10.4.3-9.4.3 15.2.3 1.8.3 6.9.3.7.3 6.1.3 3.8.3 4 .3-15.1.3 11.3.3-2.1.3.5.3 3.7.3 3.1.3-.6.3 1.5.3 11.2.3-9.5.3 1.3.3-7.2.3 11.2.3-7.8.3 2 .3-3 .3 3.4.3-4.5.3-1.7.3-.2.3 4.8.3 1.5.3 3.5.3 4.5.3.9.3-12 .3-.2.3 7.3.3-7.5.3 9.3.3-.5.3-9.7.3 8.1.3 3.5.3-4.7.3-3.7.3.5.3 3.2.3-5.9.3 5.2.3-3.2.3-2.4.3-1.3.3 7.2.3-6.8.3 5 .3-10.6.3 6.5.3-1.2.3-2.8.3-2.4.3-7.6.3-4.7.3-5.9.3-8.2.3 9.1.3 7 .3 10.2.3 7.8.3 0 .3 1.1.3 3.3.3-5 .3 2.2.3-1.3.3 1.5.3-1.8.3-4.9.3 4.6.3-2.1.3 12.4.3-1.3.3-9.9.3-6 .3 8.9.3-7.4.3 13.3.3-5.8.3-2 .3 7.6.3 1.5.3-5.2.3 4.2.3-12.6.3 4.5.3-.4.3-3.5.3 11.8.3 7.1.3-17.8.3 3.6.3 8.1.3-6.7.3 1.4.3-3.7.3 5.4.3-6.4.3 8.5.3-1.1.3-.5.3-5.2.3 2.1.3 3 .3-6.1.3-.5.3-6.2.3 8.7.3 1.9.3 5.1.3-10.3.3-1.1.3 12.4.3-.7.3-10.6.3 3.1.3-6.2.3 8.3.3 6.7.3-2.5.3-8.8.3 6.4.3-4.6.3 5.7.3-4.2.3 5.5.3 3.2.3-4.7.3-.1.3-.3.3 2.2.3-6.5.3 1.2.3 0 .3 7.4.3-5.6.3 1.8.3-4.7.3-5 .3 5.3.3 3.4.3-4.3.3-1.5.3 1.3.3 4.1.3-.2.3-2.1.3-4.8.3 1.4.3 20.6.3-17.9.3 3.7.3-1.7.3-8.2.3 12.9.3-5.6.3-4.2.3 8.2.3-6.3.3 3.9.3-7.8.3 5.5.3 4.3.3-5 .3-4.5.3 2.8.3 7.2.3-11 .3.8.3 10.6.3-3.4.3-.6.3-1.8.3 4.4.3 1.9.3-1.6.3-10.4.3 11.3.3-11.3.3 16.3.3-10.3.3 5.3.3-1.2.3-4.7.3 9 .3-4.5.3 9.1.3-6.8.3-1.5.3 10.8.3-5.3.3-6.4.3-3.7.3 13 .3-3 .3.3.3-7.1.3-1.5.3-1.3.3 9.5.3-6.2.3 4 .3-13.6.3 15.3.3-8.2.3-9.8.3 6.8.3 8 .3 5.3.3-20.7.3 6.9.3 7 .3-8.1.3 3 .3-.5.3 5.1.3-7.7.3 4.9.3-2.3.3 4.8.3-1 .3 5.2.3-3.7.3 7.6.3-16.3.3 6.6.3 4.5.3-3.2.3-12.9.3 14.1.3-3.9.3 13.8.3-12.2.3 3.7.3-7.8.3 7.7.3-17 .3 8.5.3 3.3.3-6 .3 12.4.3-4.8.3 8 .3-15 .3 2.7.3 6.9.3-5.4.3 6.4.3-.9.3-6.8.3 4.2.3 1.9.3-1.6.3-2.1.3-2.1.3 1.2.3 5.9.3 5.9.3-16.7.3 2.1.3 4.3.3 8.2.3-10.6.3 15 .3 0 .3-22.2.3 14.7.3-.4.3-4.7.3-6.8.3 10 .3-3.1.3 7.4.3-3.1.3-7.3.3 14.1.3-.8.3-1.2.3-7.2.3 4.2.3-4.1.3-3.2.3-6.5.3 10.2.3-11.2.3 13.1.3-9.5.3 7.6.3-2.8.3-4 .3.6.3 2.4.3 10 .3-5.7.3-3 .3 5.6.3-9.6.3-1.5.3 3 .3 9 .3-6.6.3 2 .3-.4.3-2.8.3 7.9.3-2.4.3-7.9.3-1 .3 4.6.3-4.3.3 4.7.3 3.8.3-3 .3.7.3-3.3.3-1.5.3-1.3.3 11 .3-9.9.3 3.7.3 0 .3 1.4.3-4.3.3-6 .3 17.7.3-15.8.3 8 .3-8.2.3 8.7.3-8.7.3 13.6.3-6.2.3-9.7.3 16.3.3-17.9.3 7.6.3 7.3.3-7.3.3 8.4.3-5.8.3-3.1.3 9.1.3-5.8.3-2.6.3 7.2.3-6.1.3-5.7.3 3.1.3 16 .3-1.1.3-19 .3 11.7.3 1.9.3-7.1.3 4.8.3-8.3.3 3.5.3 6.4.3-6.1.3 0 .3-.7.3-5.8.3 1.1.3 2 .3 2 .3-4.5.3 13.1.3-18.5.3 3.1.3 1.6.3 5 .3-10.4.3 7.8.3-5.9.3.2.3 6.2.3 1.8.3 1.5.3-10.9.3 11.8.3.2.3-3.1.3 1.1.3-1.6.3-.2.3 5.3.3 4.7.3-8.9.3 3.3.3 3.2.3-19.9.3 23.4.3-6.4.3 5.8.3-8.1.3-2.5.3 3 .3 2.7.3-6.1.3 9 .3-3.1.3-6.6.3 7.8.3-3 .3.9.3-2.2.3-1.4.3-2.2.3 6.6.3-.2.3 2.1.3-5.9.3 6 .3 1.7.3-10.3.3 6.6.3 9.7.3-13.4.3 1.2.3 1 .3-2 .3 6.6.3-4.1.3.1.3-3.8.3 6.7.3-3.5.3-1.6.3.2.3 9.9.3-7.9.3 1.3.3 5.2.3-7.5.3 5.1.3-10.1.3 8.2.3-14.1.3 11.2.3-2.8.3-.8.3 9.1.3-1.4.3.7.3 3 .3-4.7.3.6.3-3.3.3 9.3.3.9.3-13.4.3 0 .3.9.3-.6.3 9.9.3-5.3.3 3.4.3-9 .3-.4.3 9.5.3-16.2.3 3.8.3-4.5.3 7.2.3 16.2.3-16.5.3 8.3.3 2.7.3-11.3.3-.4.3 5.1.3 1.5.3-11.1.3 4 .3 12 .3-12.3.3 6 .3 3.1.3-6.6.3.6.3-2.1.3.1.3-.2.3-5 .3 6.1.3 1.6.3 5.2.3-5.5.3-1 .3 12.4.3-9.1.3-.8.3-1.1.3 3.1.3-4.1.3 2 .3-1.4.3-1.7.3 4.3.3-4.8.3 14.7.3-13.8.3 14.3.3-7.1.3 3 .3 2.7.3-15.3.3 16.2.3-5.5.3-5 .3-1.2.3 5.4.3-9.5.3 16.9.3-9.6.3 4.7.3-3 .3-2.4.3.7.3-2.3.3 10.6.3-5.9.3 2.3.3-.5.3.9.3-1.1.3 4.2.3-8.9.3-1.7.3 4.1.3-.9.3 2.2.3 5.4.3-1.2.3-1.9.3-6.3.3 6.1.3-1.3.3 3.2.3-3.5.3-1.7.3 1.9.3-4.2.3-.8.3 5.3.3-1.3.3 4.7.3-4.1.3-6.4.3 11.7.3.9.3-13.3.3 1.9.3 7.6.3-4.3.3-8.1.3 12.2.3-4.8.3.8.3 4.3.3-8.9.3-.6.3 6.5.3 1.7.3-3.7.3 12.1.3-10.5.3 3 .3-9.1.3 2.7.3 6.2.3-9.1.3 0 .3 4.6.3-1.7.3-3.2.3-3.3.3 14.4.3-6.3.3 6.5.3-10.9.3 4.7.3-1 .3 1.5.3-7.9.3 13.3.3-7.4.3 2.4.3-5.7.3 12.4.3-14.9.3 16.1.3-11.2.3.4.3-1.6.3 9.6.3-10.7.3 0 .3-.6.3 6.8.3 0 .3-5.7.3 6 .3 4.8.3-4.1.3-1.6.3-7 .3 12 .3-4.3.3-9.6.3 3.5.3-9.6.3 16.2.3-15.7.3 12 .3 7.8.3-13.2.3 10.9.3-5.7.3-3.8.3 11.5.3-4.3.3-5 .3 5.2.3-5.9.3-1.2.3 2.3.3 6.8.3-12.6.3 1.3.3 10.5.3-11 .3 5.5.3-.9.3-5.2.3 2.8.3 2.7.3-.1.3 3.3.3-1.7.3 2.7.3-3.8.3-5.8.3 7.7.3-.9.3 2.2.3-4.7.3 0 .3-.1.3-6.7.3 9.5.3-5.3.3-.1.3 1.8.3 11.8.3-13.5.3 10.9.3-17.3.3 8.7.3 10.7.3-8.3.3 1 .3-4.5.3-6.6.3 11.8.3 2.1.3.9.3 4.3.3-9.7.3 2.8.3-12.9.3 8.4.3 2.1.3 5.4.3 3.2"/>
<text x="1015.3" y="989.6" font-family="'Liberation Sans',Arial,sans-serif" font-weight="bold" font-size="16.70" textLength="42.5" lengthAdjust="spacingAndGlyphs" fill="#000">(006)</text>
<text x="1084.3" y="915.3" font-family="'Liberation Sans',Arial,sans-serif" font-weight="bold" font-size="16.70" textLength="41.2" lengthAdjust="spacingAndGlyphs" fill="#000">(110)</text>
<text x="1176" y="922.1" font-family="'Liberation Sans',Arial,sans-serif" font-weight="bold" font-size="17.66" textLength="39.9" lengthAdjust="spacingAndGlyphs" fill="#000">(203)</text>
<text x="1215.9" y="959.4" font-family="'Liberation Sans',Arial,sans-serif" font-weight="bold" font-size="17.23" textLength="40.2" lengthAdjust="spacingAndGlyphs" fill="#000">(205)</text>
<text x="1375.1" y="946.2" font-family="'Liberation Sans',Arial,sans-serif" font-weight="bold" font-size="16.38" textLength="38.7" lengthAdjust="spacingAndGlyphs" fill="#000">(300)</text>
<text x="1412.6" y="921.9" font-family="'Liberation Sans',Arial,sans-serif" font-weight="bold" font-size="17.13" textLength="38.9" lengthAdjust="spacingAndGlyphs" fill="#000">(217)</text>
<text x="1480.1" y="932.1" font-family="'Liberation Sans',Arial,sans-serif" font-weight="bold" font-size="17.23" textLength="56.2" lengthAdjust="spacingAndGlyphs" fill="#000">(20 11)</text>
<text x="1531.2" y="984.3" font-family="'Liberation Sans',Arial,sans-serif" font-weight="bold" font-size="17.87" textLength="40.2" lengthAdjust="spacingAndGlyphs" fill="#000">(220)</text>
<text x="1596.6" y="981.6" font-family="'Liberation Sans',Arial,sans-serif" font-weight="bold" font-size="17.13" textLength="39.5" lengthAdjust="spacingAndGlyphs" fill="#000">(317)</text>
<text x="1138.6" y="790.9" font-family="'Liberation Sans',Arial,sans-serif" font-weight="bold" font-size="17.34" textLength="39.9" lengthAdjust="spacingAndGlyphs" fill="#000">(114)</text>
<text x="1114.1" y="816.1" font-family="'Liberation Sans',Arial,sans-serif" font-weight="bold" font-size="17.13" textLength="39.9" lengthAdjust="spacingAndGlyphs" fill="#000">(107)</text>
<text x="1000.9" y="731.1" font-family="'Liberation Sans',Arial,sans-serif" font-weight="bold" font-size="19.15" textLength="26.6" lengthAdjust="spacingAndGlyphs" fill="#000">(e)</text>
<text x="1000.9" y="761.5" font-family="'Liberation Sans',Arial,sans-serif" font-weight="bold" font-size="18.94" textLength="82.5" lengthAdjust="spacingAndGlyphs" fill="#000">(x=0.35)</text>
<text x="1209.4" y="761.2" font-family="'Liberation Sans',Arial,sans-serif" font-weight="bold" font-size="18.29" textLength="160.4" lengthAdjust="spacingAndGlyphs">Sr<tspan dy="8.2">1-x</tspan><tspan dy="-8.2">Ni</tspan><tspan dy="8.2">x</tspan><tspan dy="-8.2">Fe</tspan><tspan dy="8.2">12</tspan><tspan dy="-8.2">O</tspan><tspan dy="8.2">19</tspan></text>
<text x="936.5" y="1200" font-family="'Liberation Sans',Arial,sans-serif" font-weight="bold" font-size="16.90" textLength="41.1" lengthAdjust="spacingAndGlyphs" fill="#000">1000</text>
<text x="937.1" y="1135.3" font-family="'Liberation Sans',Arial,sans-serif" font-weight="bold" font-size="16.90" textLength="40.5" lengthAdjust="spacingAndGlyphs" fill="#000">2000</text>
<text x="937.2" y="1070.7" font-family="'Liberation Sans',Arial,sans-serif" font-weight="bold" font-size="16.90" textLength="40.3" lengthAdjust="spacingAndGlyphs" fill="#000">3000</text>
<text x="937.4" y="1006" font-family="'Liberation Sans',Arial,sans-serif" font-weight="bold" font-size="16.90" textLength="40.1" lengthAdjust="spacingAndGlyphs" fill="#000">4000</text>
<text x="937.1" y="941.3" font-family="'Liberation Sans',Arial,sans-serif" font-weight="bold" font-size="16.90" textLength="40.5" lengthAdjust="spacingAndGlyphs" fill="#000">5000</text>
<text x="937.1" y="876.6" font-family="'Liberation Sans',Arial,sans-serif" font-weight="bold" font-size="16.90" textLength="40.5" lengthAdjust="spacingAndGlyphs" fill="#000">6000</text>
<text x="936.9" y="811.9" font-family="'Liberation Sans',Arial,sans-serif" font-weight="bold" font-size="16.90" textLength="40.7" lengthAdjust="spacingAndGlyphs" fill="#000">7000</text>
<text x="937.1" y="747.2" font-family="'Liberation Sans',Arial,sans-serif" font-weight="bold" font-size="16.90" textLength="40.5" lengthAdjust="spacingAndGlyphs" fill="#000">8000</text>
<text x="985.1" y="1260" font-family="'Liberation Sans',Arial,sans-serif" font-weight="bold" font-size="19.58" textLength="21.9" lengthAdjust="spacingAndGlyphs" fill="#000">20</text>
<text x="1102.7" y="1260" font-family="'Liberation Sans',Arial,sans-serif" font-weight="bold" font-size="19.58" textLength="21.7" lengthAdjust="spacingAndGlyphs" fill="#000">30</text>
<text x="1220.3" y="1260" font-family="'Liberation Sans',Arial,sans-serif" font-weight="bold" font-size="19.58" textLength="21.5" lengthAdjust="spacingAndGlyphs" fill="#000">40</text>
<text x="1337.3" y="1260" font-family="'Liberation Sans',Arial,sans-serif" font-weight="bold" font-size="19.58" textLength="21.9" lengthAdjust="spacingAndGlyphs" fill="#000">50</text>
<text x="1454.7" y="1260" font-family="'Liberation Sans',Arial,sans-serif" font-weight="bold" font-size="19.58" textLength="21.9" lengthAdjust="spacingAndGlyphs" fill="#000">60</text>
<text x="1571.9" y="1260" font-family="'Liberation Sans',Arial,sans-serif" font-weight="bold" font-size="19.58" textLength="22.1" lengthAdjust="spacingAndGlyphs" fill="#000">70</text>
<text x="1689.5" y="1260" font-family="'Liberation Sans',Arial,sans-serif" font-weight="bold" font-size="19.58" textLength="21.9" lengthAdjust="spacingAndGlyphs" fill="#000">80</text>
<text x="1335.3" y="1302.2" font-family="'Liberation Sans',Arial,sans-serif" font-weight="bold" font-size="26.86" textLength="14.8" lengthAdjust="spacingAndGlyphs" fill="#000">2</text><text x="1349.8" y="1302" font-family="'Liberation Serif','Times New Roman',serif" font-weight="normal" font-size="23.83" textLength="15.3" lengthAdjust="spacingAndGlyphs" fill="#000">θ</text>
<text transform="translate(908.6,1073) rotate(-90)" font-family="'Liberation Sans',Arial,sans-serif" font-weight="bold" font-size="27.00" textLength="174.2" lengthAdjust="spacingAndGlyphs">Intensity (a.u)</text>
<rect x="1456.7" y="720.7" width="238.3" height="119.5" fill="#fff" stroke="#000" stroke-width="1.2"/>
<path stroke="#ff00ff" stroke-width="1.3" d="M1459.9 736.6H1514.7"/>
<path stroke="#0000ff" stroke-width="1.6" d="M1488.8 730.6v12"/>
<path stroke="#3a3aff" stroke-width="1.5" d="M1459.9 766.9H1514.7"/>
<path stroke="#ff3030" stroke-width="1.6" d="M1459.9 797.8H1514.7"/>
<ellipse cx="1486.3" cy="797.8" rx="1.6" ry="2.2" fill="#ff0000"/>
<path stroke="#222" stroke-width="1.4" d="M1459.9 826.8H1514.7"/>
<circle cx="1486.3" cy="826.8" r="1.8" fill="#fff" stroke="#222" stroke-width="0.9"/>
<text x="1522.2" y="743.6" font-family="'Liberation Sans',Arial,sans-serif" font-weight="normal" font-size="24.86" textLength="170.4" lengthAdjust="spacingAndGlyphs" fill="#000">Braggs position</text>
<text x="1523.7" y="774.2" font-family="'Liberation Sans',Arial,sans-serif" font-weight="normal" font-size="24.86" textLength="118.6" lengthAdjust="spacingAndGlyphs" fill="#000">Yobs- Ycal</text>
<text x="1523.7" y="804.2" font-family="'Liberation Sans',Arial,sans-serif" font-weight="normal" font-size="24.86" textLength="50.6" lengthAdjust="spacingAndGlyphs" fill="#000">Ycal</text>
<text x="1523.7" y="833.8" font-family="'Liberation Sans',Arial,sans-serif" font-weight="normal" font-size="24.86" textLength="56.3" lengthAdjust="spacingAndGlyphs" fill="#000">Yobs</text>
<path fill="none" stroke="#000" stroke-width="2.0" d="M993.5 1860.3H1002.5M998 1826.2H1002.5M993.5 1792.2H1002.5M998 1758.1H1002.5M993.5 1724.1H1002.5M998 1690H1002.5M993.5 1656H1002.5M998 1621.9H1002.5M993.5 1587.9H1002.5M998 1553.8H1002.5M993.5 1519.8H1002.5M998 1485.8H1002.5M993.5 1451.7H1002.5M998 1417.6H1002.5M993.5 1383.6H1002.5M998 1349.5H1002.5M1002.5 1867.2V1878.2M1061.1 1867.2V1873.2M1119.8 1867.2V1878.2M1178.4 1867.2V1873.2M1237 1867.2V1878.2M1295.6 1867.2V1873.2M1354.2 1867.2V1878.2M1412.9 1867.2V1873.2M1471.5 1867.2V1878.2M1530.1 1867.2V1873.2M1588.8 1867.2V1878.2M1647.4 1867.2V1873.2M1706 1867.2V1878.2M1002.5 1348.3V1359.3M1072.8 1348.3V1354.3M1143.2 1348.3V1359.3M1213.5 1348.3V1354.3M1283.9 1348.3V1359.3M1354.2 1348.3V1354.3M1424.6 1348.3V1359.3M1495 1348.3V1354.3M1565.3 1348.3V1359.3M1635.7 1348.3V1354.3M1706 1348.3V1359.3M1696 1348.3H1706M1701 1400.2H1706M1696 1452.1H1706M1701 1504H1706M1696 1555.9H1706M1701 1607.8H1706M1696 1659.6H1706M1701 1711.5H1706M1696 1763.4H1706M1701 1815.3H1706M1696 1867.2H1706"/>
<path fill="none" stroke="#000" stroke-width="2.5" stroke-linecap="square" d="M1002.5 1348.3H1706V1867.2H1002.5Z"/>
<clipPath id="cb4"><rect x="1002.5" y="1619.7" width="703.5" height="12"/></clipPath>
<clipPath id="rcb4"><rect x="1002.5" y="1608.5" width="703.5" height="16"/></clipPath>
<path fill="none" stroke="#000" stroke-width="1.1" stroke-linejoin="round" d="M1003 1622.8l.5.8.5.7.5-.8.5-.8.5-.6.5.8.5-.8.5.5.5 0 .5 1.6.5.1.5.1.5-1.5.5.9.5-1.2.5 1.3.5-1.3.5.5.5-.8.5-.2.5.6.5.3.5 1.1.5-1.1.5 0 .5-1.2.5 1.3.5-1 .5.2.5-.2.5.3.5.6.5 0 .5 1.3.5-.1.5-.5.5-.9.5-.6.5.8.5.9.5-.3.5-.7.5-.8.5.1.5.2.5.3.5 1.3.5-.1.5-.1.5-.8.5-.2.5-.1.5-.2.5.8.5-.4.5.6.5-.5.5.7.5-.3.5.5.5.4.5-.4.5-.4.5-.4.5-.7.5.4.5-1.1.5-2 .5-4.2.5-7 .5-5.4.5 1 .5 5.2.5 7.3.5 2.9.5 2.2.5-.6.5-.3.5-.2.5.8.5 1.5.5 1.7.5-.5.5.2.5-1.5.5.4.5-1.2.5-.4.5-.3.5.1.5.7.5.1.5 1.2.5.1.5.4.5 0 .5.2.5-.1.5-.6.5-.4.5.6.5.4.5.3.5-.2.5-.6.5 0 .5-1.1.5 1 .5-.2.5.8.5-.4.5 0 .5-.3.5.3.5.1.5-.3.5-.4.5-.9.5 1.3.5-.3.5.8.5.3.5 1.2.5 0 .5-.8.5-.5.5.8.5-.4.5-.5.5-.2.5.2.5.3.5-.3.5-.7.5-.8.5-1.6.5.4.5 1.1.5.8.5.7.5-.2.5.6.5-.7.5-.4.5-.4.5-.2.5 0 .5.7.5.5.5-.3.5.1.5-.8.5.3.5-.2.5.3.5.1.5-.1.5-.2.5-.3.5-.2.5.7.5.3.5 1 .5-.3.5-1.5.5-1.2.5.8.5 1.5.5 0 .5-1.3.5.6.5.8.5.7.5-.4.5.2.5.1.5-.9.5-.3.5-.3.5.5.5 0 .5-.1.5-1.4.5.3.5.5.5 1.3.5-1.1.5-1 .5-2.3.5-2.7.5-3.3.5.1.5 1.4.5 2.6.5 3 .5 2.3.5 1.1.5-.4.5-1.1.5.2.5.8.5-.3.5.2.5-1.9.5.7.5-.4.5.4.5-.6.5-.1.5 1.1.5.5.5.6.5-.8.5 1.1.5-.6.5.5.5-.6.5.1.5.8.5.8.5.1.5-1.1.5-1.7.5-.6.5 0 .5.5.5.3.5 0 .5.2.5-.7.5-.6.5.2.5 1 .5.1.5-.2.5-1.1.5-.5.5-2.8.5-3.1.5-11.7.5-23.9.5-32.8.5-15 .5 13.1.5 26.6.5 24.9.5 15.2.5 6.3.5 2.9.5 1.4.5 1.3.5-.1.5.3.5-1.1.5.4.5-.4.5 1.2.5.1.5-.3.5-.6.5-.1.5.1.5-.4.5-.7.5 1.5.5.2.5.9.5-2 .5-.6.5-.7.5.5.5.8.5-.6.5.2.5.1.5-.2.5-.3.5-1.8.5-.2.5-1.9.5-3.2.5-15.1.5-37.5.5-62.4.5-52.2.5 4.2.5 43.3.5 53.8.5 39.7.5 20.8.5 9.2.5 3 .5 1.4.5-.8.5-.3.5-.3.5-.8.5 1.2.5-.3.5.7.5-1 .5.9.5 1.2.5.1.5-.2.5-.7.5-.3.5-.1.5 0 .5-.2.5.4.5-.8.5.8.5-1.1.5.3.5-.5.5.7.5-.3.5.1.5.2.5 0 .5-.3.5-.9.5-.7.5-.8.5-3 .5-6.2.5-21.7.5-49.9.5-70.8.5-43.5.5 21.1.5 53.5.5 56.5.5 37.4.5 17.9.5 7 .5 1.6.5.8.5.7.5 1.2.5.7.5.4.5.3.5.1.5-.7.5.8.5.3.5-.4.5-.8.5-1.5.5-.5.5-4.1.5-7.6.5-10 .5-3.7.5 5.5.5 8 .5 7.5.5 3.7.5.7.5-1.5.5-4.9.5-6.6.5-2.4.5 2.2.5 5.4.5 4.4.5 1.9.5 1.8.5.1.5 1.3.5.3.5-.9.5.5.5.3.5-.1.5-.8.5-.5.5 1.1.5.4.5.2.5.1.5-.4.5-.3.5-.8.5-.4.5-1.2.5 1 .5.9.5 2 .5-1.4.5-.4.5-1.2.5 0 .5-1.5.5-6.1.5-16.6.5-30.4.5-28.1.5-.8.5 21.4.5 27.3.5 19.3.5 10.4.5 3.2.5 2 .5.7.5 1 .5.9.5-.2.5.2.5-1.4.5 1 .5-.5.5.7.5-.4.5 1 .5.1.5-.3.5-1.4.5.2.5-.2.5.4.5-.2.5.8.5-.1.5.4.5.5.5-.4.5.4.5.2.5.4.5-.3.5-1.8.5.5.5-.5.5.8.5-.6.5-.2.5-.4.5.1.5.1.5.1.5-.2.5.2.5.4.5-.6.5.1.5-.6.5.6.5-.8.5 0 .5.1.5.9.5-.3.5.9.5-.6.5 1 .5 0 .5-.2.5.1.5.6.5.3.5-.3.5-1.2.5.2.5-.5.5-.4.5 0 .5-.1.5-1.8.5-6 .5-14.3.5-19.3.5-11.7.5 7.3.5 15.7.5 14.6.5 8.3.5 3.5.5 3.1.5 1.8.5.4.5-.2.5-.2.5-.4.5.3.5-.5.5.8.5-.3.5-.4.5-.6.5.1.5.7.5.4.5.5.5-.3.5-.4.5-.7.5.1.5.5.5.8.5.3.5.6.5-.3.5-.3.5-.1.5-.4.5.2.5-1.1.5.2.5-.3.5.6.5.8.5 1.2.5.2.5-1.2.5-1.3.5-2.2.5-5.6.5-11.6.5-13.9.5-5.5.5 7.1.5 11.1.5 10.4.5 5.9.5 2.6.5.6.5-.4.5.8.5.8.5.7.5-.4.5-.6.5.3.5-.4.5.4.5-1.1.5.5.5 0 .5 1.3.5-1.2.5.8.5-1.1.5 1.6.5-.3.5.1.5-.2.5-.1.5.3.5-.3.5-.2.5.2.5-.4.5.6.5 0 .5-.4.5-1.1.5.7.5 2 .5.6.5-1.7.5-.9.5.4.5 1 .5 0 .5-.9.5.2.5 0 .5.6.5-.2.5.9.5 0 .5-.1.5-1.8.5.5.5.3.5.9.5-1.7.5-.7.5 0 .5 2.2.5.6.5.4.5-.7.5.4.5-1 .5-.8.5-1.3.5.5.5.2.5.6.5-.3.5.2.5-.5.5 1.6.5-.3.5 1.7.5-.3.5-.3.5-.8.5-.5.5-.2.5-.2.5-.4.5 1 .5-.8.5 0 .5 0 .5.3.5-.3.5-.3.5-.5.5.2.5-2 .5-1 .5-4.5.5-3.3.5-1.6.5 2.1.5 5.1.5 2.6.5 2.9.5-.1.5 1.5.5-.1.5-.8.5-.5.5-1.2.5.6.5-.4.5 2.1.5-.1.5.1.5-1.2.5-.3.5 0 .5.7.5-.3.5.2.5-1 .5.5.5.2.5.1.5-.2.5 0 .5 1 .5.8.5-.1.5-.9.5-1.3.5.4.5 1.2.5 1 .5.4.5-.9.5-.4.5 0 .5-.3.5.5.5-.6.5.6.5.6.5-.7.5-.3.5-1.9.5-.1.5 0 .5.8.5.5.5.4.5-.2.5-.9.5 0 .5.5.5.4.5-.5.5.7.5 1.1.5.9.5-.5.5-.5.5-.8.5 0 .5-.2.5 0 .5-.3.5 0 .5.7.5-.5.5 1.2.5-1 .5.2.5-.8.5-.1.5-.2.5-.9.5-1.7.5-1 .5-1.9.5-.5.5-1.7.5-1.5.5-1.1.5-.8.5 0 .5.1.5 1.5.5 1.2.5 2.2.5 2.2.5 2.5.5.5.5-.2.5.5.5 1.3.5 1.1.5-1.3.5-.8.5-.7.5.5.5.6.5.2.5.7.5-.1.5.3.5.3.5.1.5-.9.5.3.5 0 .5.9.5-.6.5-.9.5.1.5-.4.5.2.5.3.5.2.5.8.5-.2.5.9.5-1 .5-.8.5-.5.5.6.5-1.3.5-.3.5.5.5 2 .5.1.5-.4.5-.3.5-.1.5 0 .5 0 .5.2.5-.3.5.4.5.3.5.9.5-1.9.5-.4.5-.5.5.9.5.2.5-.7.5 1.2.5-.1.5.5.5.1.5 0 .5.4.5-1.4.5 0 .5.6.5 1.2.5-1 .5 0 .5.3.5 1 .5-.9.5-1.6.5-.9.5-.2.5.8.5.5.5-.5.5-2.6.5-4.3.5-6.2.5-2.7.5.6.5 5.3.5 4.6.5 3.4.5 1.9.5.1.5.3.5-.9.5.1.5 1 .5-.5.5.2.5-.7.5.5.5-.4.5-.1.5.2.5.3.5-.8.5.5.5-1.2.5-2.6.5-7.8.5-10.6.5-14 .5-13.6.5-8.7.5 2.6.5 10 .5 14.3.5 11.9.5 9.2.5 5.8.5 2.9.5 1.3.5-.3.5.5.5.5.5.3.5-.7.5 0 .5-.4.5.4.5 0 .5.5.5-1.1.5.7.5.2.5 2 .5.2.5-1.2.5-1.7.5-1.9.5-.6.5-3.3.5-6.5.5-10.7.5-15.7.5-18.3.5-16.4.5-7.5.5 4.4.5 12.9.5 17.1.5 16 .5 12.5.5 8.6.5 4.8.5 2.7.5 1.4.5.7.5-.1.5 0 .5-.1.5 0 .5.9.5-.7.5.5.5-1.5.5.5.5-.4.5-1.1.5-2.4.5-4.6.5-.8.5 1.2.5 3.9.5 2.7.5 1.7.5.7.5.9.5.4.5 0 .5-.7.5-.4.5-.7.5-.4.5.4.5-.2.5.8.5-.2.5.5.5-.6.5.6.5.6.5.4.5.6.5 1 .5-.8.5-.4.5-1.5.5 0 .5-.7.5.9.5.6.5 0 .5.2.5.5.5.2.5.2.5 0 .5-.3.5-1.4.5-.5.5.5.5 1 .5.6.5 0 .5-1 .5 0 .5 0 .5 0 .5-1.1.5 0 .5.6.5.9.5-1.2.5-.7.5-4.5.5-3.5.5-2.3.5 3.2.5 2.8.5 2.8.5 2 .5 1.8.5-.6.5.4.5-1.2.5.6.5-1.4.5.6.5-.1.5.8.5-.5.5.3.5.4.5.7.5.2.5-.5.5-.4.5-.4.5-.2.5.6.5 1.2.5.8.5-.5.5-1.2.5-1.4.5-.9.5.9.5.8.5.1.5-.6.5.9.5 1.2.5.3.5-1.1.5-.6.5-.9.5-.5.5.4.5.5.5.8.5.8.5.4.5.1.5-1.1.5-1 .5.7.5.5.5 1.2.5-1.3.5-1.2.5 0 .5-.9.5.7.5-.9.5 1.1.5.4.5.6.5-1.3.5 0 .5-1.5.5 1.1.5-1 .5-.2.5-1.7.5-3.2.5-5.9.5-11.8.5-17.9.5-20.5.5-11.6.5 3.9.5 16.8.5 19.2.5 15.6.5 8.9.5 4.6.5 2.5.5 1.1.5 1.3.5.8.5.3.5 0 .5-.6.5-.2.5-1.4.5 0 .5.1.5 2.6.5-.2.5.3.5-1.5.5-.1.5.2.5.2.5 0 .5-1.3.5 0 .5 0 .5 1.6.5-.1.5 1 .5-.5.5.9.5.1.5.9.5-.7.5-.8.5-1.5.5-.3.5.6.5.4.5 1.5.5-.1.5.5.5-1.2.5-.6.5.3.5.3.5 1.1.5-1.1.5-.3.5-.5.5.9.5-1 .5-.5.5-2.2.5-3.1.5-3.4.5.6.5 3 .5 4 .5 1.7.5 1.5.5-.3.5-1.3.5-.2.5-.2.5 1.4.5-.6.5 1.2.5-.4.5.7.5-.3.5.1.5-.2.5-.6.5-.4.5.6.5-.5.5-.3.5-1.1.5.6.5.8.5.1.5-.3.5-1.2.5.5.5 1.1.5.7.5-1.3.5-.5.5.2.5-1.3.5-.9.5-1.1.5-.1.5-2.6.5-6 .5-6.5.5-1.6.5 5.2.5 6.1.5 5.6.5 1.6.5 2.1.5.1.5.1.5.2.5.3.5 1.3.5-.7.5-.2.5-1.2.5.8.5-.4.5.3.5.1.5.6.5.2.5-.5.5-.1.5.2.5-.3.5-1.2.5.3.5-.4.5 2 .5-.5.5 2.2.5-.4.5.1.5-1.2.5-1.3.5-.1.5-.7.5.7.5-1.1.5-1 .5.4.5 1.1.5.9.5-.4.5-.4.5 0 .5.4.5.2.5.6.5-.7.5-.9.5-.7.5.3.5.4.5.1.5-.2.5 1.1.5.6.5.8.5-.8.5-.3.5.1.5.5.5-.2.5-1.1.5.4.5.1.5.9.5-.5.5 1 .5-.6.5-.5.5-1 .5.3.5 1.3.5-.4.5-.5.5-.8.5 0 .5-.8.5.5.5.9.5.7.5-.9.5-.7.5-.1.5.9.5-.2.5.7.5-1 .5-.4.5-1.2.5-.1.5 1 .5 1.2.5.8.5-.1.5-1.6.5.5.5-.8.5 1.8.5.6.5.5.5-.8.5-2.3.5-3.8.5-5.1.5-2.8.5 2.3.5 4.2.5 3.6.5 2.5.5.2.5-.5.5-.4.5.2.5 0 .5.4.5-.5.5.1.5-1.3.5-2.6.5-5.4.5-8.7.5-4.6.5 2.2.5 6.2.5 6.4.5 4.8.5 3.1.5 1.6.5.3.5-.1.5.4.5-.8.5-.5.5 0 .5.3.5-.2.5-.3.5.3.5.9.5-.5.5.4.5.7.5.8.5-1 .5-1.9.5-1.1.5.7.5-.2.5.8.5.9.5 1.5.5-.7.5-1.1.5-.9.5-.1.5.9.5-.5.5-1.2.5-3.2.5-3.4.5-1.6.5 1.3.5 2.6.5 1.4.5 1.8.5 1.7.5 2.4.5-1 .5-1 .5-.1.5 1.7.5 1.3.5-.8.5-.2.5-.9.5-.7.5-.7.5.4.5 1 .5.6.5-1 .5-.3.5-.3.5.2.5-.3.5-.3.5.6.5-.9.5-2.3.5-4.7.5-3.8.5-1.2.5 2.6.5 3.9.5 3.4.5 1.6.5 1.1.5.8.5 1 .5-1.1.5.1.5-.5.5-.4.5-.6.5 1.2.5.8.5.4.5-.3.5.4.5-.5.5-.7.5.2.5-.1.5.2.5 0 .5.1.5.1.5 0 .5.1.5-.5.5-.2.5.1.5 0 .5-.6.5.1.5.5.5.8.5-.5.5-.1.5 0 .5-.1.5-.1.5-.4.5.1.5-.8.5-1.6.5-4.2.5-3.4.5-1.1.5 3.1.5 3.2.5 3 .5 1.2.5.3.5.6.5-.2.5-.3.5 0 .5 1.3.5.3.5.2.5-1.2.5 0 .5-.4.5-.2.5 0 .5-.2.5-.6.5 0 .5.2.5 1.4.5.2.5-.7.5-.5.5-.3.5.1.5.1.5.7.5 0 .5 0 .5.3.5.3.5-.4.5-1 .5-.5.5-1.3.5-4.4.5-3.2.5-.1.5 4.2.5 3.2.5 2.1.5.4.5.5.5.3.5-.1.5.4.5.4.5.3.5-1.2.5 0 .5-1.1.5 1.1.5-.5.5 1.3.5-.6"/>
<path fill="none" stroke="none" stroke-width="0" stroke-linejoin="round" d="M1003 1622.8l3 .1 3 1.5.5-1.5 3-.6 3 .7.5-1.2 3 1.2 3-.8 3 0 3 .8 3 .5 3 .4 1.5-1.5 2-6.9.5-7 .5-5.4 1 6.2.5 7.3 1 5.1 1.5-1.1 1.5 4 1.5-1.8 2-1.5 3 2.6 3-.3 3-1.2 3 .9 2.5-1.2 3 3.3 1-1.3 3 .2 2-3.4 2.5 2.8 3-1.1 3 .5 3-.4 3 0 .5-1.2 3 2.4 3-.6 2.5-1.3 3-2.3 1-6 1.5 4.1 1 5.3 3 .3 1-1.7 3 1.1 3 1.3 3 .1 1-2.3 3 .3 3-.6 1.5-6.4.5-11.7.5-23.9.5-32.8.5-15 .5 13.1.5 26.6.5 24.9.5 15.2.5 6.3 1 4.3 1 1.2 3 .5 3-2 3-.7 3 .8 2-4.2 1-18.3.5-37.5.5-62.4.5-52.2.5 4.2.5 43.3.5 53.8.5 39.7.5 20.8.5 9.2 1 4.4 2-2.2 3 2.7 2.5-1.2 3-.9 3 .5 3-5.7.5-6.2.5-21.7.5-49.9.5-70.8.5-43.5.5 21.1.5 53.5.5 56.5.5 37.4.5 17.9.5 7 2 4.3 3 1.6 3-7 .5-7.6.5-10 .5-3.7.5 5.5.5 8 .5 7.5 1 4.4 1-6.4.5-6.6.5-2.4 1 7.6.5 4.4 2 5.1 3-.7 3 .9 2-2.7 3 .9 1.5-7.6.5-16.6.5-30.4.5-28.1 1 20.6.5 27.3.5 19.3.5 10.4 1 5.2 2 2.4 1-1.2 3 1.9 1-1.7 3 .9 3 1.5 1-2.1 3-.4 3 .7 1.5-1.1 3 .5 2.5 1.1 3-.3 3-8.8.5-14.3.5-19.3.5-11.7.5 7.3.5 15.7.5 14.6.5 8.3 1 6.6 2.5 1.4 3-.7 3 1 3 1.6 2-1.1 2-1 3 .3 1-7.8.5-11.6.5-13.9.5-5.5.5 7.1.5 11.1.5 10.4.5 5.9 1.5 2.8 2.5 1.3 3-.3 3 1.1 3-.4 3-1.1 3 1.1 3 .9 2.5-1.2 3-.7 2 2.5 2-2.7 3 .7 1 1.3 3-.4 3-.4 3-2.6 1-5.5 1-4.9 1 7.2 1 5.5 3-1.2 2 2.2 2-1.4 3 .3 3 1.6 1-2.2 3 1.7 3 .8 2.5-3 3 .6 3 3.1 2.5-2 3 1.1 3-2.8 1.5-4.6 2-4.8 3 4.2 1 4.7 3 1.9 1-1.5 2.5 1.9 3 .1 3-.7 2 1.1 2-1.4 3 1.6 3-.6 3-1 3 1 3-.4 3 2.1 2-3.6 2.5-6.1.5-6.2.5-2.7 1 5.9.5 4.6 1 5.3 3 .1 3-.3 3-11.6.5-10.6.5-14 .5-13.6.5-8.7 1 12.6.5 14.3.5 11.9.5 9.2.5 5.8 1 4.2 3 .3 3 .1 3-2.4 1.5-10.4.5-10.7.5-15.7.5-18.3.5-16.4.5-7.5.5 4.4.5 12.9.5 17.1.5 16 .5 12.5.5 8.6.5 4.8 1 4.1 3 1.4 1.5-1.7 2.5-8 1.5 4.3 1 4.4 3 .9 1-1.1 3 .7 3 2.4 2-2.6 3 2.4 2.5-2 2.5 1.1 2-1.1 3-4.9 1-5.8 1 6 1 4.8 1 1.2 2-1.6 3 1.5 3-.6 3-.5 3 1.2 3-1.6 3 3 1-2.1 3-.1 1.5-1.1 3-.7 2.5-5 .5-5.9.5-11.8.5-17.9.5-20.5.5-11.6 1 20.7.5 19.2.5 15.6.5 8.9.5 4.6 1.5 4.9 3-1.1 2 2.5 1.5-1.3 3-.9 1 1.5 3 1.7 1.5-2.6 2 2.4 1.5-1.3 3-.2 2.5-5.9.5-3.4 1.5 7.6 3 1.2 2 1.6 3-.7 2-1.3 3 .5 3-1.1 2-4.7.5-6 .5-6.5.5-1.6.5 5.2.5 6.1.5 5.6 2.5 4.1 3 .3 3 .3 2-1.4 2 1.4 1 1.8 2.5-3.2 1.5-1.4 3 1.6 3-1.1 3 2.3 3 .1.5-1.1 3 1.3 1-1.5 3-.1 3-.3 3-.1 1-1.3 2.5 1.3 3 1.8 1-6.1.5-5.1.5-2.8 1 6.5 1 6.1 3-.1 2-4.3.5-5.4.5-8.7.5-4.6 1 8.4.5 6.4.5 4.8 1 4.7 3-.7 3 .5 3-2.1 3 3 1.5-2.1 2.5-7.4.5-1.6 1.5 5.3 1.5 5.9 1.5-2.1 3 .4 3 0 3-1 1-7 1-5 1 6.5 1 5 2 1.8 2-1.4 2 2.1 3-.5 3-.2 3-.1 3 0 2.5-6.9 1-4.5 1 6.3 1 4.2 3 1.7 3-1.3 3 .8 2-1.3 3 1.2 3-7.3 1-3.3.5 4.2 1 5.3 2 1.1 3-1.2 2 1.3" marker-mid="url(#mo)"/>
<path fill="none" stroke="#000" stroke-width="3.0" stroke-linejoin="round" d="M1003 1623.2l.5.8.5.7.5-.8.5-.8.5-.6.5.8.5-.8.5.5.5 0 .5 1.6.5.1.5.1.5-1.5.5.9.5-1.2.5 1.3.5-1.3.5.5.5-.8.5-.2.5.6.5.3.5 1.1.5-1.1.5 0 .5-1.2.5 1.3.5-1 .5.2.5-.2.5.3.5.6.5 0 .5 1.3.5-.1.5-.5.5-.9.5-.6.5.8.5.9.5-.3.5-.7.5-.8.5.1.5.2.5.3.5 1.3.5-.1.5-.1.5-.8.5-.2.5-.1.5-.2.5.8.5-.4.5.6.5-.5.5.7.5-.3.5.5.5.4.5-.4.5-.4.5-.4.5-.7.5.4.5-1.1.5-2 .5-4.2.5-7 .5-5.4.5 1 .5 5.2.5 7.3.5 2.9.5 2.2.5-.6.5-.3.5-.2.5.8.5 1.5.5 1.7.5-.5.5.2.5-1.5.5.4.5-1.2.5-.4.5-.3.5.1.5.7.5.1.5 1.2.5.1.5.4.5 0 .5.2.5-.1.5-.6.5-.4.5.6.5.4.5.3.5-.2.5-.6.5 0 .5-1.1.5 1 .5-.2.5.8.5-.4.5 0 .5-.3.5.3.5.1.5-.3.5-.4.5-.9.5 1.3.5-.3.5.8.5.3.5 1.2.5 0 .5-.8.5-.5.5.8.5-.4.5-.5.5-.2.5.2.5.3.5-.3.5-.7.5-.8.5-1.6.5.4.5 1.1.5.8.5.7.5-.2.5.6.5-.7.5-.4.5-.4.5-.2.5 0 .5.7.5.5.5-.3.5.1.5-.8.5.3.5-.2.5.3.5.1.5-.1.5-.2.5-.3.5-.2.5.7.5.3.5 1 .5-.3.5-1.5.5-1.2.5.8.5 1.5.5 0 .5-1.3.5.6.5.8.5.7.5-.4.5.2.5.1.5-.9.5-.3.5-.3.5.5.5 0 .5-.1.5-1.4.5.3.5.5.5 1.3.5-1.1.5-1 .5-2.3.5-2.7.5-3.3.5.1.5 1.4.5 2.6.5 3 .5 2.3.5 1.1.5-.4.5-1.1.5.2.5.8.5-.3.5.2.5-1.9.5.7.5-.4.5.4.5-.6.5-.1.5 1.1.5.5.5.6.5-.8.5 1.1.5-.6.5.5.5-.6.5.1.5.8.5.8.5.1.5-1.1.5-1.7.5-.6.5 0 .5.5.5.3.5 0 .5.2.5-.7.5-.6.5.2.5 1 .5.1.5-.2.5-1.1.5-.5.5-2.8.5-3.1.5-11.7.5-23.9.5-32.8.5-15 .5 13.1.5 26.6.5 24.9.5 15.2.5 6.3.5 2.9.5 1.4.5 1.3.5-.1.5.3.5-1.1.5.4.5-.4.5 1.2.5.1.5-.3.5-.6.5-.1.5.1.5-.4.5-.7.5 1.5.5.2.5.9.5-2 .5-.6.5-.7.5.5.5.8.5-.6.5.2.5.1.5-.2.5-.3.5-1.8.5-.2.5-1.9.5-3.2.5-15.1.5-37.5.5-62.4.5-52.2.5 4.2.5 43.3.5 53.8.5 39.7.5 20.8.5 9.2.5 3 .5 1.4.5-.8.5-.3.5-.3.5-.8.5 1.2.5-.3.5.7.5-1 .5.9.5 1.2.5.1.5-.2.5-.7.5-.3.5-.1.5 0 .5-.2.5.4.5-.8.5.8.5-1.1.5.3.5-.5.5.7.5-.3.5.1.5.2.5 0 .5-.3.5-.9.5-.7.5-.8.5-3 .5-6.2.5-21.7.5-49.9.5-70.8.5-43.5.5 21.1.5 53.5.5 56.5.5 37.4.5 17.9.5 7 .5 1.6.5.8.5.7.5 1.2.5.7.5.4.5.3.5.1.5-.7.5.8.5.3.5-.4.5-.8.5-1.5.5-.5.5-4.1.5-7.6.5-10 .5-3.7.5 5.5.5 8 .5 7.5.5 3.7.5.7.5-1.5.5-4.9.5-6.6.5-2.4.5 2.2.5 5.4.5 4.4.5 1.9.5 1.8.5.1.5 1.3.5.3.5-.9.5.5.5.3.5-.1.5-.8.5-.5.5 1.1.5.4.5.2.5.1.5-.4.5-.3.5-.8.5-.4.5-1.2.5 1 .5.9.5 2 .5-1.4.5-.4.5-1.2.5 0 .5-1.5.5-6.1.5-16.6.5-30.4.5-28.1.5-.8.5 21.4.5 27.3.5 19.3.5 10.4.5 3.2.5 2 .5.7.5 1 .5.9.5-.2.5.2.5-1.4.5 1 .5-.5.5.7.5-.4.5 1 .5.1.5-.3.5-1.4.5.2.5-.2.5.4.5-.2.5.8.5-.1.5.4.5.5.5-.4.5.4.5.2.5.4.5-.3.5-1.8.5.5.5-.5.5.8.5-.6.5-.2.5-.4.5.1.5.1.5.1.5-.2.5.2.5.4.5-.6.5.1.5-.6.5.6.5-.8.5 0 .5.1.5.9.5-.3.5.9.5-.6.5 1 .5 0 .5-.2.5.1.5.6.5.3.5-.3.5-1.2.5.2.5-.5.5-.4.5 0 .5-.1.5-1.8.5-6 .5-14.3.5-19.3.5-11.7.5 7.3.5 15.7.5 14.6.5 8.3.5 3.5.5 3.1.5 1.8.5.4.5-.2.5-.2.5-.4.5.3.5-.5.5.8.5-.3.5-.4.5-.6.5.1.5.7.5.4.5.5.5-.3.5-.4.5-.7.5.1.5.5.5.8.5.3.5.6.5-.3.5-.3.5-.1.5-.4.5.2.5-1.1.5.2.5-.3.5.6.5.8.5 1.2.5.2.5-1.2.5-1.3.5-2.2.5-5.6.5-11.6.5-13.9.5-5.5.5 7.1.5 11.1.5 10.4.5 5.9.5 2.6.5.6.5-.4.5.8.5.8.5.7.5-.4.5-.6.5.3.5-.4.5.4.5-1.1.5.5.5 0 .5 1.3.5-1.2.5.8.5-1.1.5 1.6.5-.3.5.1.5-.2.5-.1.5.3.5-.3.5-.2.5.2.5-.4.5.6.5 0 .5-.4.5-1.1.5.7.5 2 .5.6.5-1.7.5-.9.5.4.5 1 .5 0 .5-.9.5.2.5 0 .5.6.5-.2.5.9.5 0 .5-.1.5-1.8.5.5.5.3.5.9.5-1.7.5-.7.5 0 .5 2.2.5.6.5.4.5-.7.5.4.5-1 .5-.8.5-1.3.5.5.5.2.5.6.5-.3.5.2.5-.5.5 1.6.5-.3.5 1.7.5-.3.5-.3.5-.8.5-.5.5-.2.5-.2.5-.4.5 1 .5-.8.5 0 .5 0 .5.3.5-.3.5-.3.5-.5.5.2.5-2 .5-1 .5-4.5.5-3.3.5-1.6.5 2.1.5 5.1.5 2.6.5 2.9.5-.1.5 1.5.5-.1.5-.8.5-.5.5-1.2.5.6.5-.4.5 2.1.5-.1.5.1.5-1.2.5-.3.5 0 .5.7.5-.3.5.2.5-1 .5.5.5.2.5.1.5-.2.5 0 .5 1 .5.8.5-.1.5-.9.5-1.3.5.4.5 1.2.5 1 .5.4.5-.9.5-.4.5 0 .5-.3.5.5.5-.6.5.6.5.6.5-.7.5-.3.5-1.9.5-.1.5 0 .5.8.5.5.5.4.5-.2.5-.9.5 0 .5.5.5.4.5-.5.5.7.5 1.1.5.9.5-.5.5-.5.5-.8.5 0 .5-.2.5 0 .5-.3.5 0 .5.7.5-.5.5 1.2.5-1 .5.2.5-.8.5-.1.5-.2.5-.9.5-1.7.5-1 .5-1.9.5-.5.5-1.7.5-1.5.5-1.1.5-.8.5 0 .5.1.5 1.5.5 1.2.5 2.2.5 2.2.5 2.5.5.5.5-.2.5.5.5 1.3.5 1.1.5-1.3.5-.8.5-.7.5.5.5.6.5.2.5.7.5-.1.5.3.5.3.5.1.5-.9.5.3.5 0 .5.9.5-.6.5-.9.5.1.5-.4.5.2.5.3.5.2.5.8.5-.2.5.9.5-1 .5-.8.5-.5.5.6.5-1.3.5-.3.5.5.5 2 .5.1.5-.4.5-.3.5-.1.5 0 .5 0 .5.2.5-.3.5.4.5.3.5.9.5-1.9.5-.4.5-.5.5.9.5.2.5-.7.5 1.2.5-.1.5.5.5.1.5 0 .5.4.5-1.4.5 0 .5.6.5 1.2.5-1 .5 0 .5.3.5 1 .5-.9.5-1.6.5-.9.5-.2.5.8.5.5.5-.5.5-2.6.5-4.3.5-6.2.5-2.7.5.6.5 5.3.5 4.6.5 3.4.5 1.9.5.1.5.3.5-.9.5.1.5 1 .5-.5.5.2.5-.7.5.5.5-.4.5-.1.5.2.5.3.5-.8.5.5.5-1.2.5-2.6.5-7.8.5-10.6.5-14 .5-13.6.5-8.7.5 2.6.5 10 .5 14.3.5 11.9.5 9.2.5 5.8.5 2.9.5 1.3.5-.3.5.5.5.5.5.3.5-.7.5 0 .5-.4.5.4.5 0 .5.5.5-1.1.5.7.5.2.5 2 .5.2.5-1.2.5-1.7.5-1.9.5-.6.5-3.3.5-6.5.5-10.7.5-15.7.5-18.3.5-16.4.5-7.5.5 4.4.5 12.9.5 17.1.5 16 .5 12.5.5 8.6.5 4.8.5 2.7.5 1.4.5.7.5-.1.5 0 .5-.1.5 0 .5.9.5-.7.5.5.5-1.5.5.5.5-.4.5-1.1.5-2.4.5-4.6.5-.8.5 1.2.5 3.9.5 2.7.5 1.7.5.7.5.9.5.4.5 0 .5-.7.5-.4.5-.7.5-.4.5.4.5-.2.5.8.5-.2.5.5.5-.6.5.6.5.6.5.4.5.6.5 1 .5-.8.5-.4.5-1.5.5 0 .5-.7.5.9.5.6.5 0 .5.2.5.5.5.2.5.2.5 0 .5-.3.5-1.4.5-.5.5.5.5 1 .5.6.5 0 .5-1 .5 0 .5 0 .5 0 .5-1.1.5 0 .5.6.5.9.5-1.2.5-.7.5-4.5.5-3.5.5-2.3.5 3.2.5 2.8.5 2.8.5 2 .5 1.8.5-.6.5.4.5-1.2.5.6.5-1.4.5.6.5-.1.5.8.5-.5.5.3.5.4.5.7.5.2.5-.5.5-.4.5-.4.5-.2.5.6.5 1.2.5.8.5-.5.5-1.2.5-1.4.5-.9.5.9.5.8.5.1.5-.6.5.9.5 1.2.5.3.5-1.1.5-.6.5-.9.5-.5.5.4.5.5.5.8.5.8.5.4.5.1.5-1.1.5-1 .5.7.5.5.5 1.2.5-1.3.5-1.2.5 0 .5-.9.5.7.5-.9.5 1.1.5.4.5.6.5-1.3.5 0 .5-1.5.5 1.1.5-1 .5-.2.5-1.7.5-3.2.5-5.9.5-11.8.5-17.9.5-20.5.5-11.6.5 3.9.5 16.8.5 19.2.5 15.6.5 8.9.5 4.6.5 2.5.5 1.1.5 1.3.5.8.5.3.5 0 .5-.6.5-.2.5-1.4.5 0 .5.1.5 2.6.5-.2.5.3.5-1.5.5-.1.5.2.5.2.5 0 .5-1.3.5 0 .5 0 .5 1.6.5-.1.5 1 .5-.5.5.9.5.1.5.9.5-.7.5-.8.5-1.5.5-.3.5.6.5.4.5 1.5.5-.1.5.5.5-1.2.5-.6.5.3.5.3.5 1.1.5-1.1.5-.3.5-.5.5.9.5-1 .5-.5.5-2.2.5-3.1.5-3.4.5.6.5 3 .5 4 .5 1.7.5 1.5.5-.3.5-1.3.5-.2.5-.2.5 1.4.5-.6.5 1.2.5-.4.5.7.5-.3.5.1.5-.2.5-.6.5-.4.5.6.5-.5.5-.3.5-1.1.5.6.5.8.5.1.5-.3.5-1.2.5.5.5 1.1.5.7.5-1.3.5-.5.5.2.5-1.3.5-.9.5-1.1.5-.1.5-2.6.5-6 .5-6.5.5-1.6.5 5.2.5 6.1.5 5.6.5 1.6.5 2.1.5.1.5.1.5.2.5.3.5 1.3.5-.7.5-.2.5-1.2.5.8.5-.4.5.3.5.1.5.6.5.2.5-.5.5-.1.5.2.5-.3.5-1.2.5.3.5-.4.5 2 .5-.5.5 2.2.5-.4.5.1.5-1.2.5-1.3.5-.1.5-.7.5.7.5-1.1.5-1 .5.4.5 1.1.5.9.5-.4.5-.4.5 0 .5.4.5.2.5.6.5-.7.5-.9.5-.7.5.3.5.4.5.1.5-.2.5 1.1.5.6.5.8.5-.8.5-.3.5.1.5.5.5-.2.5-1.1.5.4.5.1.5.9.5-.5.5 1 .5-.6.5-.5.5-1 .5.3.5 1.3.5-.4.5-.5.5-.8.5 0 .5-.8.5.5.5.9.5.7.5-.9.5-.7.5-.1.5.9.5-.2.5.7.5-1 .5-.4.5-1.2.5-.1.5 1 .5 1.2.5.8.5-.1.5-1.6.5.5.5-.8.5 1.8.5.6.5.5.5-.8.5-2.3.5-3.8.5-5.1.5-2.8.5 2.3.5 4.2.5 3.6.5 2.5.5.2.5-.5.5-.4.5.2.5 0 .5.4.5-.5.5.1.5-1.3.5-2.6.5-5.4.5-8.7.5-4.6.5 2.2.5 6.2.5 6.4.5 4.8.5 3.1.5 1.6.5.3.5-.1.5.4.5-.8.5-.5.5 0 .5.3.5-.2.5-.3.5.3.5.9.5-.5.5.4.5.7.5.8.5-1 .5-1.9.5-1.1.5.7.5-.2.5.8.5.9.5 1.5.5-.7.5-1.1.5-.9.5-.1.5.9.5-.5.5-1.2.5-3.2.5-3.4.5-1.6.5 1.3.5 2.6.5 1.4.5 1.8.5 1.7.5 2.4.5-1 .5-1 .5-.1.5 1.7.5 1.3.5-.8.5-.2.5-.9.5-.7.5-.7.5.4.5 1 .5.6.5-1 .5-.3.5-.3.5.2.5-.3.5-.3.5.6.5-.9.5-2.3.5-4.7.5-3.8.5-1.2.5 2.6.5 3.9.5 3.4.5 1.6.5 1.1.5.8.5 1 .5-1.1.5.1.5-.5.5-.4.5-.6.5 1.2.5.8.5.4.5-.3.5.4.5-.5.5-.7.5.2.5-.1.5.2.5 0 .5.1.5.1.5 0 .5.1.5-.5.5-.2.5.1.5 0 .5-.6.5.1.5.5.5.8.5-.5.5-.1.5 0 .5-.1.5-.1.5-.4.5.1.5-.8.5-1.6.5-4.2.5-3.4.5-1.1.5 3.1.5 3.2.5 3 .5 1.2.5.3.5.6.5-.2.5-.3.5 0 .5 1.3.5.3.5.2.5-1.2.5 0 .5-.4.5-.2.5 0 .5-.2.5-.6.5 0 .5.2.5 1.4.5.2.5-.7.5-.5.5-.3.5.1.5.1.5.7.5 0 .5 0 .5.3.5.3.5-.4.5-1 .5-.5.5-1.3.5-4.4.5-3.2.5-.1.5 4.2.5 3.2.5 2.1.5.4.5.5.5.3.5-.1.5.4.5.4.5.3.5-1.2.5 0 .5-1.1.5 1.1.5-.5.5 1.3.5-.6" clip-path="url(#cb4)"/>
<path fill="none" stroke="#ff0000" stroke-width="2.0" stroke-linejoin="round" d="M1003 1616.7l.5.4.5.1.5-.1.5.3.5-.7.5.4.5-.2.5.1.5-.2.5.1.5-.3.5-.1.5.1.5-.5.5.4.5 0 .5.3.5-.2.5.3.5.7.5-.1.5-.1.5-.5.5-1.3.5.2.5.5.5-.1.5 1.3.5.6.5.1.5-.2.5-.3.5-.2.5-.7.5-.1.5-.5.5-1.1.5 0 .5.9.5-.4.5 1 .5.1.5-.2.5.6.5 0 .5-.2.5-.3.5-.3.5-.1.5.8.5 0 .5.1.5-.3.5-.1.5-.3.5-.1.5-.3.5-.5.5.6.5-.4.5.8.5.6.5-1.1.5-.2.5-.6.5-.8.5.4.5 0 .5-2.6.5-4 .5-3.4.5.9.5 2.9.5 4.3.5 3.5.5.5.5.7.5.2.5-1 .5.3.5.4.5-1.1.5.4.5-.1.5-.6.5 1.1.5-.2.5.8.5.5.5-.9.5.2.5-1.2.5.1.5.5.5-.6.5.2.5-.2.5-.2.5.1.5.6.5.3.5-.6.5 1 .5-1.2.5-.6.5.3.5-.8.5.8.5-.4.5.3.5.8.5.1.5 1.1.5.3.5-1.2.5.5.5-.3.5-.1.5.5.5-.9.5-.7.5-.3.5.2.5.1.5.4.5-.7.5-.4.5-.2.5.1.5.6.5.1.5.4.5-.3.5 0 .5.6.5-.1.5-.1.5.3.5-.1.5.3.5-.2.5.2.5-.3.5-.2.5.5.5-.2.5.2.5.5.5.1.5-.2.5.1.5-.7.5.4.5.1.5 0 .5-.1.5-.1.5.2.5-.6.5 0 .5-.3.5-.8.5-.1.5.4.5.1.5 1.1.5-.1.5-.4.5-.9.5.1.5 0 .5 0 .5 1.6.5-.2.5.2.5 1 .5-.6.5-.9.5.4.5-.6.5 0 .5-.4.5.6.5-.9.5-.3.5 1.3.5-.6.5.5.5-.6.5-1.1.5-.4.5-.3.5.9.5.4.5-.2.5-.3.5.1.5.5.5.2.5 1.2.5 0 .5.1.5.1.5-.5.5-.3.5-.4.5 0 .5-.1.5.1.5-.5.5-.7.5.6.5.2.5.8.5.6.5-.2.5.6.5-.7.5.1.5.5.5 0 .5.6.5-.2.5-1 .5-.9.5-.2.5 0 .5.6.5.2.5-.2.5-.5.5-.3.5-.2.5.7.5-.5.5.3.5-.7.5-1.1.5-1.4.5-8.5.5-18.3.5-23.7.5-11.3.5 9.3.5 19 .5 17.6.5 10.7.5 4.7.5 2 .5 1 .5.7.5-.2.5-.4.5-.3.5-.4.5.4.5-.1.5.9.5.1.5-.1.5.2.5.2.5.4.5.1.5 0 .5-.9.5-.3.5-.4.5-.3.5-.1.5-.7.5.6.5.3.5.2.5.9.5-.2.5-.3.5-.4.5-.6.5-1.1.5-3.5.5-10.3.5-26.4.5-43.5.5-36 .5 3.3.5 30.7.5 37.3.5 27 .5 13.5.5 6 .5 1.9.5 1.8.5.2.5 0 .5.4.5 0 .5.1.5.6.5.1.5-1 .5.1.5-.7.5.8.5.3.5.3.5.8.5-.6.5 0 .5-.3.5-1.4.5 0 .5.7.5.1.5.2.5-.1.5-.6.5 0 .5.5.5-.2.5-.4.5.2.5-1.2.5-1 .5-.7.5-2.6.5-3.5.5-15.6.5-34.7.5-49.4.5-31 .5 15.6.5 38 .5 39.5.5 26.7.5 12 .5 4.1.5 1.3.5-.4.5.6.5 1.4.5.5.5.8.5-.1.5 0 .5.5.5.3.5.9.5-.8.5-.1.5-1.2.5-1.3.5-1.9.5-5.3.5-4.9.5-2 .5 2.7.5 5.1.5 3.8.5 2.7.5.6.5-1 .5-2.2.5-4.4.5-2.2.5 1.4.5 3 .5 3.6.5 2 .5.7.5-.2.5-.4.5.8.5.2.5.6.5.3.5-.9.5-.1.5-.5.5-.3.5.8.5-.5.5.3.5.2.5-.2.5.7.5-.5.5-.1.5.1.5-.8.5.4.5-.3.5-.5.5.1.5.2.5-.9.5-3.6.5-11.7.5-21.5.5-19.2.5-2.7.5 13.9.5 19 .5 13.7.5 8.3.5 2.8.5 1.1.5.8.5.5.5.2.5.3.5.2.5 0 .5.2.5-.3.5.4.5.2.5-.9.5-.3.5.3.5-.3.5 1.9.5.6.5-.4.5-.1.5-1.1.5-.1.5.1.5.3.5 0 .5-.4.5-.5.5-.2.5-.1.5.1.5-.2.5 0 .5-.9.5-.3.5.1.5.3.5.6.5.2.5.5.5-.2.5.8.5.3.5-.5.5-.1.5.1.5.7.5.3.5.5.5-1.2.5-.1.5.1.5-.5.5.5.5-.4.5-.3.5-.1.5-.5.5.5.5-.3.5.1.5.7.5-.2.5.8.5-.3.5-.8.5-1 .5-2.8.5-4.1.5-10.8.5-14.3.5-6.6.5 4.9.5 11.6.5 11.5.5 7.1.5 2.3.5 1.2.5.3.5-.1.5.7.5.2.5.6.5-.2.5.5.5-.4.5-.6.5.5.5-.5.5.2.5.6.5-.5.5.6.5-.3.5 0 .5-.7.5-.7.5.3.5-.6.5.8.5 1 .5 1 .5.7.5.3.5-.5.5-1.6.5-.7.5-.6.5.1.5.4.5-.3.5-.1.5-.1.5.2.5-.4.5-1.6.5-4.1.5-8 .5-9.2.5-3.1.5 4.9.5 8.2.5 7.1.5 4 .5 2.1.5.3.5.7.5.5.5-.3.5.7.5-.3.5.4.5.1.5-.6.5-.1.5-.6.5.3.5.4.5-.1.5.3.5-1.1.5-.3.5 1.1.5-.6.5.8.5-.3.5-.7.5.1.5-.1.5-.6.5-.2.5.3.5-.1.5 1.7.5-.4.5-.1.5-.5.5-.6.5.4.5-.1.5.8.5-.1.5.6.5.7.5-.3.5-.4.5-1.4.5-.5.5.4.5.2.5.5.5.3.5-.1.5 1.1.5-.1.5-.2.5-.7.5-1.3.5.7.5.1.5-.2.5.8.5.3.5.4.5.2.5-1 .5-.1.5-.7.5.1.5-.1.5.2.5.1.5.2.5.3.5-1 .5-.2.5.4.5.1.5.8.5-.1.5-.2.5.6.5-1 .5.6.5-.4.5-.8.5.2.5-.8.5.1.5-.2.5.3.5 1.2.5.3.5-.9.5-2.5.5-2.3.5-.7.5 1.9.5 1.4.5 1 .5 1.4.5.3.5.8.5.3.5.1.5.3.5-.3.5-.5.5-.9.5 0 .5.2.5.3.5-1 .5-.8.5.5.5.5.5.4.5.6.5-.6.5-.8.5.8.5-1 .5.1.5.2.5-.2.5.7.5 0 .5 0 .5-.2.5-1 .5.1.5 1.2.5.3.5 1.4.5.1.5-.8.5.1.5-.2.5.3.5-.4.5-.1.5-.9.5.2.5.3.5-.1.5.1.5-.3.5.5.5.3.5.9.5-.5.5 0 .5-.2.5-1.5.5.4.5-.7.5-.1.5.8.5-.4.5.8.5-.2.5.3.5.7.5-.6.5-.3.5 0 .5-.3.5-.3.5.6.5.4.5.4.5 1 .5.4.5-.5.5-.6.5-1.4.5-.5.5-1.1.5-.7.5 0 .5-1.6.5-1.4.5-1.3.5-.9.5 1 .5 1.3.5 1.5.5.8.5.7.5.9.5 1 .5.4.5.4.5-.4.5-.5.5.2.5-.3.5.7.5-.6.5.1.5 0 .5-.7.5.8.5.2.5 0 .5.3.5.4.5-.4.5.6.5.3.5-.1.5.6.5.1.5-.5.5.3.5-.6.5-.3.5.5.5-.4.5-.1.5-.6.5-.7.5 0 .5.5.5.7.5-.2.5.2.5.3.5-.2.5.7.5.2.5.2.5.5.5.6.5-.8.5-.1.5-.7.5-.2.5.2.5-.4.5-.1.5-.4.5 1 .5-.7.5.7.5.1.5-1.2.5 1 .5-.4.5-.2.5.5.5-.8.5.6.5-.3.5-.4.5-.4.5-.6.5.9.5.5.5 1.4.5-.1.5-.5.5-.1.5-.9.5.1.5-.3.5-1.6.5-2 .5-3.1.5-1.9.5 1 .5 1.5.5 2.3.5 1.8.5 1.1.5 1.1.5.5.5 0 .5-.9.5.5.5.3.5-.1.5.4.5.4.5-.3.5-.9.5.6.5-.7.5-.5.5-.4.5-1.9.5-2.1.5-3.3.5-6.3.5-9.3.5-10.7.5-7.3.5 1.4.5 6.9.5 10.9.5 9.6.5 6.2.5 4 .5.8.5.6.5-.3.5.3.5-.4.5 1 .5.6.5-.6.5.9.5-.9.5-.2.5.7.5-.5.5-.1.5 0 .5 0 .5 0 .5 0 .5-1.4.5-.3.5-.8.5-2.1.5-3.3.5-7.4.5-10.7.5-12.7.5-11.2.5-5.9.5 2.5.5 9.4.5 12.4.5 11.6.5 9.4.5 5.4.5 3 .5 2.1.5.5.5.3.5-.4.5-.5.5-.6.5.5.5-.9.5 1.2.5.1.5.1.5 1.5.5-.8.5-.8.5-1.3.5-1.5.5-.3.5 1 .5.9.5.8.5.4.5.9.5.1.5.5.5.1.5-.3.5 0 .5-.9.5.2.5.1.5 0 .5.9.5-.7.5-.1.5.3.5-.7.5.1.5.2.5-.8.5.1.5.7.5.8.5.7.5.7.5-.8.5-.4.5-.1.5-.2.5.5.5-.8.5-.2.5-.1.5-.5.5 0 .5-.8.5-.4.5.6.5.7.5 1.2.5.1.5-.2.5-.8.5-.7.5.8.5-.2.5.2.5.5.5-.1.5 0 .5-.6.5-1.2.5-2.1.5-.9.5-.1.5.9.5 1.2.5.6.5 1.9.5 1.4.5.8.5.1.5-.5.5-.8.5-.5.5-.2.5.2.5.5.5.2.5 1.4.5-.4.5-.4.5.2.5-1.2.5 0 .5-.5.5-.2.5-.1.5.2.5.1.5 0 .5.3.5-.2.5.3.5-.7.5.1.5-.1.5-.3.5.4.5-.1.5.1.5.1.5-.4.5-.2.5-.8.5-.1.5.4.5.3.5 1.3.5-.2.5-.3.5-.6.5-.1.5-.2.5.3.5.7.5.6.5 1 .5.1.5-.1.5-.3.5-.7.5-.8.5.2.5-.8.5-.2.5.5.5-.3.5-.8.5.3.5-.1.5-2.3.5-4.3.5-8.8.5-13.8.5-13.5.5-7 .5 2.6.5 11.3.5 12.2.5 10.4.5 7 .5 3.2.5 2.3.5 1.2.5-.3.5-.9.5.6.5.4.5.6.5.5.5-.5.5-.2.5.1.5 1 .5 1 .5.2.5-.1.5-.1.5-.5.5-.3.5.1.5-.4.5-.6.5.1.5-.4.5 0 .5.7.5.2.5-.5.5-.2.5-.8.5-.2.5.5.5.6.5.3.5 0 .5-.1.5-.6.5 0 .5 0 .5-.4.5.3.5-.5.5-.1.5.1.5-.2.5 1 .5.5.5.3.5.8.5-1 .5-1.3.5-.5.5-1.4.5.5.5.9.5 1 .5.7.5 0 .5-.4.5-.7.5-.1.5.5.5.5.5.3.5.2.5-.5.5-.1.5.3.5-.3.5.7.5.4.5-.3.5.4.5-.4.5-.3.5.2.5.3.5 0 .5 0 .5.3.5-.2.5.5.5-.4.5-.1.5-1.1.5-.7.5-.2.5-.8.5.5.5-.7.5-.5.5-3 .5-3.8.5-4.9.5-.6.5 4.8.5 2.9.5 4.9.5 2.4.5 0 .5.6.5-.7.5-.3.5.5.5.7.5-.7.5.2.5-.1.5-1 .5 1.2.5 0 .5.1.5.5.5 0 .5.1.5-.6.5-.2.5-.5.5 0 .5.2.5-.1.5-.1.5-1 .5.1.5.6.5.9.5.1.5-.5.5-.7.5-.8.5-.2.5 1 .5.5.5.1.5-.4.5 0 .5.1.5.2.5 1.3.5-.8.5-.1.5-.2.5-.1.5.2.5-.8.5-.2.5.2.5.5.5.4.5.2.5-.6.5-.3.5-.4.5.6.5-.1.5-.6.5.5.5.4.5 0 .5.3.5-.4.5-.7.5.4.5.1.5.4.5 0 .5.2.5-.2.5.1.5-.4.5-.6.5.7.5-.3.5.3.5.6.5-.6.5.6.5.2.5-1 .5.6.5-.6.5-.3.5 0 .5-1.1.5.3.5.6.5 1.6.5 1.8.5.6.5-.2.5-.7.5-.8.5-.7.5-.6.5-.2.5-.1.5-.3.5-.9.5-1.7.5-.5.5-.9.5 1.6.5 2.1.5.4.5.9.5.5.5-.2.5-.6.5-.1.5-.9.5.7.5-.4.5-.1.5-.5.5-2.4.5-3.9.5-5.8.5-3.8.5 1.7.5 4.7.5 4.9.5 3.4.5 1.2.5.9.5 0 .5 0 .5-.2.5-.1.5.6.5 0 .5.7.5-.3.5.2.5 0 .5-.7.5-.5.5-.9.5 0 .5-.7.5.6.5.7.5.4.5.9.5.3.5-.6.5-.4.5.3.5-.4.5.6.5 0 .5-.1.5.6.5-.6.5.5.5-.6.5-2.9.5 0 .5-1.1.5 1.4.5 1.9.5-1.1.5.6.5-.7.5 0 .5.7.5 1 .5-.6.5.6.5.8.5-1.3.5 0 .5-.1.5-.5.5.8.5-.3.5-.4.5.1.5.1.5 1.3.5.2.5-.5.5-.6.5-1 .5-1 .5.1.5-1.6.5-1.9.5-.1.5.6.5 2 .5 1.5.5 1.5.5.3.5 0 .5.3.5.1.5.2.5 0 .5.5.5-1.4.5 0 .5-.2.5-.7.5.8.5.4.5.3.5.2.5.3.5-1.5.5 0 .5.3.5-.7.5 1.1.5-.2.5-.9.5.8.5-.2.5.6.5.6.5-.7.5.3.5-.1.5.1.5.3.5-.9.5.4.5.2.5.2.5.2.5-.1.5-.8.5-.9.5.1.5-1.3.5.5.5 1.2.5.9.5.7.5.3.5-.5.5-.7.5-.8.5-.3.5.3.5.3.5 1.2.5-.2.5-.4.5-.2.5-.8.5.9.5.9.5-.5.5.5.5-.2.5-.9.5.2.5-.1.5 0 .5.6.5.1.5.1.5-.5.5-.1.5.3.5-.1.5.3.5-.1.5-.4.5-.3.5-1.1.5-.8.5-.2.5-.9.5.7.5 1.3.5 0 .5.7.5.4.5-.6.5.6.5.4.5-.1.5.5.5-.1.5-.2.5-1.1.5.1.5-.6.5-.2.5.8.5-.2"/>
<path fill="none" stroke="#ff0000" stroke-width="6.0" stroke-linejoin="round" d="M1003 1616.7l.5.4.5.1.5-.1.5.3.5-.7.5.4.5-.2.5.1.5-.2.5.1.5-.3.5-.1.5.1.5-.5.5.4.5 0 .5.3.5-.2.5.3.5.7.5-.1.5-.1.5-.5.5-1.3.5.2.5.5.5-.1.5 1.3.5.6.5.1.5-.2.5-.3.5-.2.5-.7.5-.1.5-.5.5-1.1.5 0 .5.9.5-.4.5 1 .5.1.5-.2.5.6.5 0 .5-.2.5-.3.5-.3.5-.1.5.8.5 0 .5.1.5-.3.5-.1.5-.3.5-.1.5-.3.5-.5.5.6.5-.4.5.8.5.6.5-1.1.5-.2.5-.6.5-.8.5.4.5 0 .5-2.6.5-4 .5-3.4.5.9.5 2.9.5 4.3.5 3.5.5.5.5.7.5.2.5-1 .5.3.5.4.5-1.1.5.4.5-.1.5-.6.5 1.1.5-.2.5.8.5.5.5-.9.5.2.5-1.2.5.1.5.5.5-.6.5.2.5-.2.5-.2.5.1.5.6.5.3.5-.6.5 1 .5-1.2.5-.6.5.3.5-.8.5.8.5-.4.5.3.5.8.5.1.5 1.1.5.3.5-1.2.5.5.5-.3.5-.1.5.5.5-.9.5-.7.5-.3.5.2.5.1.5.4.5-.7.5-.4.5-.2.5.1.5.6.5.1.5.4.5-.3.5 0 .5.6.5-.1.5-.1.5.3.5-.1.5.3.5-.2.5.2.5-.3.5-.2.5.5.5-.2.5.2.5.5.5.1.5-.2.5.1.5-.7.5.4.5.1.5 0 .5-.1.5-.1.5.2.5-.6.5 0 .5-.3.5-.8.5-.1.5.4.5.1.5 1.1.5-.1.5-.4.5-.9.5.1.5 0 .5 0 .5 1.6.5-.2.5.2.5 1 .5-.6.5-.9.5.4.5-.6.5 0 .5-.4.5.6.5-.9.5-.3.5 1.3.5-.6.5.5.5-.6.5-1.1.5-.4.5-.3.5.9.5.4.5-.2.5-.3.5.1.5.5.5.2.5 1.2.5 0 .5.1.5.1.5-.5.5-.3.5-.4.5 0 .5-.1.5.1.5-.5.5-.7.5.6.5.2.5.8.5.6.5-.2.5.6.5-.7.5.1.5.5.5 0 .5.6.5-.2.5-1 .5-.9.5-.2.5 0 .5.6.5.2.5-.2.5-.5.5-.3.5-.2.5.7.5-.5.5.3.5-.7.5-1.1.5-1.4.5-8.5.5-18.3.5-23.7.5-11.3.5 9.3.5 19 .5 17.6.5 10.7.5 4.7.5 2 .5 1 .5.7.5-.2.5-.4.5-.3.5-.4.5.4.5-.1.5.9.5.1.5-.1.5.2.5.2.5.4.5.1.5 0 .5-.9.5-.3.5-.4.5-.3.5-.1.5-.7.5.6.5.3.5.2.5.9.5-.2.5-.3.5-.4.5-.6.5-1.1.5-3.5.5-10.3.5-26.4.5-43.5.5-36 .5 3.3.5 30.7.5 37.3.5 27 .5 13.5.5 6 .5 1.9.5 1.8.5.2.5 0 .5.4.5 0 .5.1.5.6.5.1.5-1 .5.1.5-.7.5.8.5.3.5.3.5.8.5-.6.5 0 .5-.3.5-1.4.5 0 .5.7.5.1.5.2.5-.1.5-.6.5 0 .5.5.5-.2.5-.4.5.2.5-1.2.5-1 .5-.7.5-2.6.5-3.5.5-15.6.5-34.7.5-49.4.5-31 .5 15.6.5 38 .5 39.5.5 26.7.5 12 .5 4.1.5 1.3.5-.4.5.6.5 1.4.5.5.5.8.5-.1.5 0 .5.5.5.3.5.9.5-.8.5-.1.5-1.2.5-1.3.5-1.9.5-5.3.5-4.9.5-2 .5 2.7.5 5.1.5 3.8.5 2.7.5.6.5-1 .5-2.2.5-4.4.5-2.2.5 1.4.5 3 .5 3.6.5 2 .5.7.5-.2.5-.4.5.8.5.2.5.6.5.3.5-.9.5-.1.5-.5.5-.3.5.8.5-.5.5.3.5.2.5-.2.5.7.5-.5.5-.1.5.1.5-.8.5.4.5-.3.5-.5.5.1.5.2.5-.9.5-3.6.5-11.7.5-21.5.5-19.2.5-2.7.5 13.9.5 19 .5 13.7.5 8.3.5 2.8.5 1.1.5.8.5.5.5.2.5.3.5.2.5 0 .5.2.5-.3.5.4.5.2.5-.9.5-.3.5.3.5-.3.5 1.9.5.6.5-.4.5-.1.5-1.1.5-.1.5.1.5.3.5 0 .5-.4.5-.5.5-.2.5-.1.5.1.5-.2.5 0 .5-.9.5-.3.5.1.5.3.5.6.5.2.5.5.5-.2.5.8.5.3.5-.5.5-.1.5.1.5.7.5.3.5.5.5-1.2.5-.1.5.1.5-.5.5.5.5-.4.5-.3.5-.1.5-.5.5.5.5-.3.5.1.5.7.5-.2.5.8.5-.3.5-.8.5-1 .5-2.8.5-4.1.5-10.8.5-14.3.5-6.6.5 4.9.5 11.6.5 11.5.5 7.1.5 2.3.5 1.2.5.3.5-.1.5.7.5.2.5.6.5-.2.5.5.5-.4.5-.6.5.5.5-.5.5.2.5.6.5-.5.5.6.5-.3.5 0 .5-.7.5-.7.5.3.5-.6.5.8.5 1 .5 1 .5.7.5.3.5-.5.5-1.6.5-.7.5-.6.5.1.5.4.5-.3.5-.1.5-.1.5.2.5-.4.5-1.6.5-4.1.5-8 .5-9.2.5-3.1.5 4.9.5 8.2.5 7.1.5 4 .5 2.1.5.3.5.7.5.5.5-.3.5.7.5-.3.5.4.5.1.5-.6.5-.1.5-.6.5.3.5.4.5-.1.5.3.5-1.1.5-.3.5 1.1.5-.6.5.8.5-.3.5-.7.5.1.5-.1.5-.6.5-.2.5.3.5-.1.5 1.7.5-.4.5-.1.5-.5.5-.6.5.4.5-.1.5.8.5-.1.5.6.5.7.5-.3.5-.4.5-1.4.5-.5.5.4.5.2.5.5.5.3.5-.1.5 1.1.5-.1.5-.2.5-.7.5-1.3.5.7.5.1.5-.2.5.8.5.3.5.4.5.2.5-1 .5-.1.5-.7.5.1.5-.1.5.2.5.1.5.2.5.3.5-1 .5-.2.5.4.5.1.5.8.5-.1.5-.2.5.6.5-1 .5.6.5-.4.5-.8.5.2.5-.8.5.1.5-.2.5.3.5 1.2.5.3.5-.9.5-2.5.5-2.3.5-.7.5 1.9.5 1.4.5 1 .5 1.4.5.3.5.8.5.3.5.1.5.3.5-.3.5-.5.5-.9.5 0 .5.2.5.3.5-1 .5-.8.5.5.5.5.5.4.5.6.5-.6.5-.8.5.8.5-1 .5.1.5.2.5-.2.5.7.5 0 .5 0 .5-.2.5-1 .5.1.5 1.2.5.3.5 1.4.5.1.5-.8.5.1.5-.2.5.3.5-.4.5-.1.5-.9.5.2.5.3.5-.1.5.1.5-.3.5.5.5.3.5.9.5-.5.5 0 .5-.2.5-1.5.5.4.5-.7.5-.1.5.8.5-.4.5.8.5-.2.5.3.5.7.5-.6.5-.3.5 0 .5-.3.5-.3.5.6.5.4.5.4.5 1 .5.4.5-.5.5-.6.5-1.4.5-.5.5-1.1.5-.7.5 0 .5-1.6.5-1.4.5-1.3.5-.9.5 1 .5 1.3.5 1.5.5.8.5.7.5.9.5 1 .5.4.5.4.5-.4.5-.5.5.2.5-.3.5.7.5-.6.5.1.5 0 .5-.7.5.8.5.2.5 0 .5.3.5.4.5-.4.5.6.5.3.5-.1.5.6.5.1.5-.5.5.3.5-.6.5-.3.5.5.5-.4.5-.1.5-.6.5-.7.5 0 .5.5.5.7.5-.2.5.2.5.3.5-.2.5.7.5.2.5.2.5.5.5.6.5-.8.5-.1.5-.7.5-.2.5.2.5-.4.5-.1.5-.4.5 1 .5-.7.5.7.5.1.5-1.2.5 1 .5-.4.5-.2.5.5.5-.8.5.6.5-.3.5-.4.5-.4.5-.6.5.9.5.5.5 1.4.5-.1.5-.5.5-.1.5-.9.5.1.5-.3.5-1.6.5-2 .5-3.1.5-1.9.5 1 .5 1.5.5 2.3.5 1.8.5 1.1.5 1.1.5.5.5 0 .5-.9.5.5.5.3.5-.1.5.4.5.4.5-.3.5-.9.5.6.5-.7.5-.5.5-.4.5-1.9.5-2.1.5-3.3.5-6.3.5-9.3.5-10.7.5-7.3.5 1.4.5 6.9.5 10.9.5 9.6.5 6.2.5 4 .5.8.5.6.5-.3.5.3.5-.4.5 1 .5.6.5-.6.5.9.5-.9.5-.2.5.7.5-.5.5-.1.5 0 .5 0 .5 0 .5 0 .5-1.4.5-.3.5-.8.5-2.1.5-3.3.5-7.4.5-10.7.5-12.7.5-11.2.5-5.9.5 2.5.5 9.4.5 12.4.5 11.6.5 9.4.5 5.4.5 3 .5 2.1.5.5.5.3.5-.4.5-.5.5-.6.5.5.5-.9.5 1.2.5.1.5.1.5 1.5.5-.8.5-.8.5-1.3.5-1.5.5-.3.5 1 .5.9.5.8.5.4.5.9.5.1.5.5.5.1.5-.3.5 0 .5-.9.5.2.5.1.5 0 .5.9.5-.7.5-.1.5.3.5-.7.5.1.5.2.5-.8.5.1.5.7.5.8.5.7.5.7.5-.8.5-.4.5-.1.5-.2.5.5.5-.8.5-.2.5-.1.5-.5.5 0 .5-.8.5-.4.5.6.5.7.5 1.2.5.1.5-.2.5-.8.5-.7.5.8.5-.2.5.2.5.5.5-.1.5 0 .5-.6.5-1.2.5-2.1.5-.9.5-.1.5.9.5 1.2.5.6.5 1.9.5 1.4.5.8.5.1.5-.5.5-.8.5-.5.5-.2.5.2.5.5.5.2.5 1.4.5-.4.5-.4.5.2.5-1.2.5 0 .5-.5.5-.2.5-.1.5.2.5.1.5 0 .5.3.5-.2.5.3.5-.7.5.1.5-.1.5-.3.5.4.5-.1.5.1.5.1.5-.4.5-.2.5-.8.5-.1.5.4.5.3.5 1.3.5-.2.5-.3.5-.6.5-.1.5-.2.5.3.5.7.5.6.5 1 .5.1.5-.1.5-.3.5-.7.5-.8.5.2.5-.8.5-.2.5.5.5-.3.5-.8.5.3.5-.1.5-2.3.5-4.3.5-8.8.5-13.8.5-13.5.5-7 .5 2.6.5 11.3.5 12.2.5 10.4.5 7 .5 3.2.5 2.3.5 1.2.5-.3.5-.9.5.6.5.4.5.6.5.5.5-.5.5-.2.5.1.5 1 .5 1 .5.2.5-.1.5-.1.5-.5.5-.3.5.1.5-.4.5-.6.5.1.5-.4.5 0 .5.7.5.2.5-.5.5-.2.5-.8.5-.2.5.5.5.6.5.3.5 0 .5-.1.5-.6.5 0 .5 0 .5-.4.5.3.5-.5.5-.1.5.1.5-.2.5 1 .5.5.5.3.5.8.5-1 .5-1.3.5-.5.5-1.4.5.5.5.9.5 1 .5.7.5 0 .5-.4.5-.7.5-.1.5.5.5.5.5.3.5.2.5-.5.5-.1.5.3.5-.3.5.7.5.4.5-.3.5.4.5-.4.5-.3.5.2.5.3.5 0 .5 0 .5.3.5-.2.5.5.5-.4.5-.1.5-1.1.5-.7.5-.2.5-.8.5.5.5-.7.5-.5.5-3 .5-3.8.5-4.9.5-.6.5 4.8.5 2.9.5 4.9.5 2.4.5 0 .5.6.5-.7.5-.3.5.5.5.7.5-.7.5.2.5-.1.5-1 .5 1.2.5 0 .5.1.5.5.5 0 .5.1.5-.6.5-.2.5-.5.5 0 .5.2.5-.1.5-.1.5-1 .5.1.5.6.5.9.5.1.5-.5.5-.7.5-.8.5-.2.5 1 .5.5.5.1.5-.4.5 0 .5.1.5.2.5 1.3.5-.8.5-.1.5-.2.5-.1.5.2.5-.8.5-.2.5.2.5.5.5.4.5.2.5-.6.5-.3.5-.4.5.6.5-.1.5-.6.5.5.5.4.5 0 .5.3.5-.4.5-.7.5.4.5.1.5.4.5 0 .5.2.5-.2.5.1.5-.4.5-.6.5.7.5-.3.5.3.5.6.5-.6.5.6.5.2.5-1 .5.6.5-.6.5-.3.5 0 .5-1.1.5.3.5.6.5 1.6.5 1.8.5.6.5-.2.5-.7.5-.8.5-.7.5-.6.5-.2.5-.1.5-.3.5-.9.5-1.7.5-.5.5-.9.5 1.6.5 2.1.5.4.5.9.5.5.5-.2.5-.6.5-.1.5-.9.5.7.5-.4.5-.1.5-.5.5-2.4.5-3.9.5-5.8.5-3.8.5 1.7.5 4.7.5 4.9.5 3.4.5 1.2.5.9.5 0 .5 0 .5-.2.5-.1.5.6.5 0 .5.7.5-.3.5.2.5 0 .5-.7.5-.5.5-.9.5 0 .5-.7.5.6.5.7.5.4.5.9.5.3.5-.6.5-.4.5.3.5-.4.5.6.5 0 .5-.1.5.6.5-.6.5.5.5-.6.5-2.9.5 0 .5-1.1.5 1.4.5 1.9.5-1.1.5.6.5-.7.5 0 .5.7.5 1 .5-.6.5.6.5.8.5-1.3.5 0 .5-.1.5-.5.5.8.5-.3.5-.4.5.1.5.1.5 1.3.5.2.5-.5.5-.6.5-1 .5-1 .5.1.5-1.6.5-1.9.5-.1.5.6.5 2 .5 1.5.5 1.5.5.3.5 0 .5.3.5.1.5.2.5 0 .5.5.5-1.4.5 0 .5-.2.5-.7.5.8.5.4.5.3.5.2.5.3.5-1.5.5 0 .5.3.5-.7.5 1.1.5-.2.5-.9.5.8.5-.2.5.6.5.6.5-.7.5.3.5-.1.5.1.5.3.5-.9.5.4.5.2.5.2.5.2.5-.1.5-.8.5-.9.5.1.5-1.3.5.5.5 1.2.5.9.5.7.5.3.5-.5.5-.7.5-.8.5-.3.5.3.5.3.5 1.2.5-.2.5-.4.5-.2.5-.8.5.9.5.9.5-.5.5.5.5-.2.5-.9.5.2.5-.1.5 0 .5.6.5.1.5.1.5-.5.5-.1.5.3.5-.1.5.3.5-.1.5-.4.5-.3.5-1.1.5-.8.5-.2.5-.9.5.7.5 1.3.5 0 .5.7.5.4.5-.6.5.6.5.4.5-.1.5.5.5-.1.5-.2.5-1.1.5.1.5-.6.5-.2.5.8.5-.2" clip-path="url(#rcb4)"/>
<path fill="none" stroke="none" stroke-width="0" stroke-linejoin="round" d="M1003 1616.7l2 .7 2-.4 2-.5 2 0 2 1.1 2-2 2 1.9 2 .2 2-1.5.5-1.1 2 1.5 2 .5 2-.9 2 .6 2-.8 2 .5 2-1.3 2-3 .5-4 .5-3.4 1 3.8.5 4.3 1 4 2 .2 2-.4 2 1.1 2-1.4 2 .2 2 .3 2-.5 1.5-1.1 2 1.5 2 .3 2 .6 1.5-1.9 2 0 2 .1 2 .2 2 .7 2 .2 2-.2 2 .6 2-.1 2 0 2-1.7 2 1.5 1.5-1.4 2 1.7 2 .4 1.5-1.1 2-.7 2 .9 2-2.4 2 .8 2 2 2-.3 2-.8 1.5-1.1 2 2.2 2-.2 2 .9 1.5-2.1 2 .6 2-.3 2-2 1-9.9.5-18.3.5-23.7.5-11.3.5 9.3.5 19 .5 17.6.5 10.7.5 4.7 1.5 3.7 2-1.3 2 1.3 2 .7 2-1.1 2-1.5 2 2 2-1.5 1-4.6.5-10.3.5-26.4.5-43.5.5-36 1 34 .5 37.3.5 27 .5 13.5.5 6 1 3.7 2 .6 2-.2 2 .5 2 .5 1-1.7 2 1 2-.2 2-1.6 1.5-4.3.5-3.5.5-15.6.5-34.7.5-49.4.5-31 .5 15.6.5 38 .5 39.5.5 26.7.5 12 .5 4.1 2 2.9 2 1.2 2 .9 2-4.5.5-5.3.5-4.9.5-2 1 7.8.5 3.8 2 .1.5-4.4.5-2.2 1 4.4.5 3.6 2 2.1 2 1.9 2-1.8 2 .8 2-.1 2-.6 2-1.1.5-3.6.5-11.7.5-21.5.5-19.2.5-2.7.5 13.9.5 19 .5 13.7.5 8.3 1 3.9 2 1.8 2 .1 2-.6 2 2.5 2-1.7 2 0 2-.7 2-1.4 2 1.2 2 1.4 2 .2 2-.5 2-.3 2-.4 2 .3 2-1.3 1-6.9.5-10.8.5-14.3.5-6.6.5 4.9.5 11.6.5 11.5.5 7.1 1.5 3.8 2 1.4 2-.7 2 .8 2-.2 1-1.4 2 1.5 2 1.5 1.5-2.9 2 .1 2-1.9.5-4.1.5-8 .5-9.2.5-3.1.5 4.9.5 8.2.5 7.1.5 4 2 3.6 2 .5 2-1.2 2 .9 1-1.4 2 1 2-1.3 2 1.7 2-1.6 2 1 2 .6 1-1.9 2 1.4 2 .7 1-2 2 1.4 2-.1 2-.8 2 .8 1-1.2 2 1.2 2 0 1-1.2 2-.7 2 .9 1-4.8 2 3.6 2 2.8 2-.4 2-.4 1-1.8 2 2 1-1.4 2 .1 2 .5 1-1.2 2 3 2-.8 2-1.1 2 .5 2 1.4 2-2.2 2 .4 2 .5 2-.2 2 .4 2 1.3 2-3.6 2-3.7 1-2.2 1.5 3.8 2 3.4 2-.1 2 0 2 .2 2 .9 2 .4 2 .5 2-.8 2-1.4 1.5 1 2 1 2 1.5 2-1.8 2-.7 2 1.1.5-1.2 2 .9 2-.9 1-1 2 2.7 1.5-1.5 2-3.8 1-5 1.5 4.8 1.5 4 2 .1 2 1 1-1.2 2-1 1-4 1-9.6.5-9.3.5-10.7.5-7.3 1 8.3.5 10.9.5 9.6.5 6.2.5 4 1.5 1.1 2 1.5 2-.8 2 .1 2-1.4 2-6.5.5-7.4.5-10.7.5-12.7.5-11.2.5-5.9 1 11.9.5 12.4.5 11.6.5 9.4.5 5.4 1 5.1 2-.1 2 .2 2 .9 1.5-3.6 2 2.4 2 1.9 2-1.1 2 1.2 2-1.2 2-.4 2 2.9 2-1.5 2-.6 2-1.7 2 2.6 1.5-1.7 2 1.3 2-1.9 1.5-3.1 2 4.6 2 1.8 1.5-1.5 2 2.3 2-1.8 2-.8 2 .6 2-.5 2-.1 2-.4 2-.2 2 .2 2 .7 2 1.6 1.5-1.8 2-.3 1-1.1 2-6.4.5-8.8.5-13.8.5-13.5.5-7 1 13.9.5 12.2.5 10.4.5 7 1 5.5 2 .6 2 1 2 1.9 2-.5 2-1.2 2 .4 2-1.3 2 1.2 2-.7 2-.6 2 .8 2 .6 1.5-3.2 2 3.1 2-1.2 2 1.5 2-.6 2 1.2 2-.2 2 .1 2-1.1 1.5-1.7 2-3.7.5-3.8.5-4.9 1 4.2 1 7.8 1 2.4 2 .1 2 .1 2 .3 2 0 2-.5 1.5-1.2 2 1.7 2-2.2 2 1.2 2 1.6 2-1.2 2-.6 2 .5 2-.2 2 .3 2-.4 2 .7 2-1.1 2 1.3 2-.8 2-.3.5-1.1 2 4.3 2-1.1 2-1.6 2-3.4 2 3.2 2 .6 2-.7 2-6.9.5-5.8.5-3.8 1 6.4.5 4.9 1 4.6 2 .7 2 1.2 2-.8 1-1.4 2 .6 2 1 2 .1 2-.1 2-3 .5-1.1 1.5 2.2 2 .6 2 1.8 2-1.9 2 .2 2 1.1 1.5-2.6 2-3.5 1.5 4.1 2 2.1 2 .8.5-1.4 2-.1 2 1.2 1-1.5 2 .5 2 .3 2 .1 2-.1 2 .5 1-1.7 1-1.2 2 3.3 2-1.7 2 1.5 2-1.6 1.5 1.3 2-.4 2 .6 2-.2 2-.3 2-2.4 2 1.1 2 1.1 2 .7 1-1.3 2 .1.5-.2" marker-mid="url(#mr)"/>
<path fill="none" stroke="#ff00ff" stroke-width="1.3" stroke-linejoin="round" d="M1014.2 1673.5l1 0 1 0 1 0 1 0 1 0 1 0 1 0 1 0 1 0 1 0 1 0 1 0 1 0 1 0 1 0 1 0 1 0 1 0 1 0 1 0 1 0 1 0 1 0 1 0 1 0 1 0 1 0 1 0 1 0 1 0 1 0 1 0 1 0 1 0 1 0 1 0 1 0 1 0 1 0 1 0 1 0 1 0 1 0 1 0 1 0 1 0 1 0 1 0 1 0 1 0 1 0 1 0 1 0 1 0 1 0 1 0 1 0 1 0 1 0 1 0 1 0 1 0 1 0 1 0 1 0 1 0 1 0 1 0 1 0 1 0 1 0 1 0 1 0 1 0 1 0 1 0 1 0 1 0 1 0 1 0 1 0 1 0 1 0 1 0 1 0 1 0 1 0 1 0 1 0 1 0 1 0 1 0 1 0 1 0 1 0 1 0 1 0 1 0 1 0 1 0 1 0 1 0 1 0 1 0 1 0 1 0 1 0 1 0 1 0 1 0 1 0 1 0 1 0 1 0 1 0 1 0 1 0 1 0 1 0 1 0 1 0 1 0 1 0 1 0 1 0 1 0 1 0 1 0 1 0 1 0 1 0 1 0 1 0 1 0 1 0 1 0 1 0 1 0 1 0 1 0 1 0 1 0 1 0 1 0 1 0 1 0 1 0 1 0 1 0 1 0 1 0 1 0 1 0 1 0 1 0 1 0 1 0 1 0 1 0 1 0 1 0 1 0 1-.1 1-.2 1-.4 1-.4 1-.3 1-.1 1-.1 1-.1 1-.1 1-.2 1-.4 1-.4 1-.6 1-.5 1-.6 1-.4 1-.3 1-.1 1-.1 1-.1 1 0 1 0 1 0 1 0 1 0 1 0 1 .1 1 0 1 .2 1 .2 1 .4 1 .7 1 .9 1 1 1 .8 1 .5 1 .3 1 .2 1 .1 1 .1 1 0 1 0 1 0 1 0 1 0 1 0 1 0 1 0 1 0 1 0 1 0 1 0 1-.1 1 0 1-.1 1-.1 1-.2 1-.2 1-.2 1-.2 1-.1 1-.1 1-.1 1 0 1-.1 1 0 1 0 1 0 1 0 1 0 1 0 1 0 1 0 1 0 1 0 1 0 1 0 1 .1 1 0 1 .1 1 .2 1 .1 1 .2 1 .2 1 .2 1 .2 1 .1 1 0 1 .1 1 0 1 0 1 0 1 0 1 0 1 0 1 0 1 0 1 0 1 0 1 .1 1 .1 1 .2 1 .2 1 .2 1 .2 1 .1 1 .1 1 0 1 0 1-.1 1 0 1-.2 1-.2 1-.2 1-.2 1-.2 1 0 1-.1 1 0 1 0 1 0 1 0 1 0 1 0 1 0 1 0 1 0 1 0 1 0 1 0 1 0 1 0 1-.1 1-.1 1-.2 1-.2 1-.3 1-.1 1-.1 1-.1 1 0 1 .1 1 .1 1 .1 1 .3 1 .2 1 .2 1 .1 1 .1 1 0 1 0 1 0 1 0 1 0 1 0 1 0 1 0 1 0 1 0 1 0 1 0 1 0 1 0 1 0 1 0 1 0 1 0 1 0 1 0 1 0 1 0 1 0 1 0 1 0 1 0 1 0 1 0 1 0 1 0 1 0 1 0 1 0 1 0 1 0 1 0 1 0 1 0 1 0 1 0 1 0 1 0 1 0 1 0 1 0 1 0 1 0 1 0 1 0 1 0 1 0 1 0 1 0 1 0 1 0 1 0 1 0 1 0 1 0 1 0 1 0 1 0 1 0 1 0 1 0 1 0 1 0 1 0 1 0 1 0 1 0 1 0 1 0 1 0 1 0 1 0 1 0 1 0 1 0 1 0 1 0 1 0 1 0 1 0 1 0 1 0 1 0 1 0 1 0 1 0 1 0 1 0 1 0 1 0 1 0 1 0 1 0 1 0 1 0 1 0 1-.1 1 0 1-.2 1-.2 1-.2 1-.1 1-.1 1-.1 1 0 1 .1 1 0 1 .1 1 .2 1 .2 1 .2 1 .1 1 .1 1 0 1 0 1 0 1 0 1 0 1 0 1 0 1 0 1 0 1 0 1 0 1 0 1 0 1 0 1 0 1 0 1 0 1 0 1 0 1 0 1 0 1 0 1 0 1 0 1-.1 1 0 1-.1 1-.2 1-.1 1-.2 1 0 1 0 1 0 1 .1 1 .2 1 .1 1 .2 1 0 1 .1 1 0 1 0 1 0 1 0 1 0 1 0 1 0 1 0 1 0 1 0 1 0 1 0 1 0 1 0 1 0 1 0 1 0 1 0 1 0 1 0 1 0 1 0 1 0 1 0 1 0 1 0 1 0 1 0 1 0 1 0 1 0 1 0 1 0 1 0 1 0 1 0 1 0 1 0 1 0 1 0 1 0 1 0 1 0 1 0 1 0 1 0 1 0 1 0 1 0 1 0 1 0 1 0 1 0 1 0 1 0 1 0 1 0 1 0 1 0 1 0 1 0 1 0 1 0 1 0 1 0 1 0 1 0 1 0 1 0 1 0 1 0 1 0 1 0 1 0 1 0 1 0 1 0 1 0 1 0 1 0 1 0 1 0 1-.1 1 0 1-.2 1-.2 1-.2 1-.3 1-.1 1 0 1-.1 1 0 1 0 1 0 1 0 1 0 1 0 1 0 1 0 1 0 1 0 1 0 1 0 1 0 1 0 1 0 1 0 1 0 1 .1 1 .1 1 .1 1 .2 1 .3 1 .2 1 .1 1 .1 1 0 1 0 1 0 1 0 1 0 1 0 1 0 1 0 1 0 1 0 1 0 1 0 1 0 1 0 1 0 1 0 1 0 1 0 1 0 1 0 1 0 1 0 1 0 1 0 1 0 1 0 1 0 1 0 1 0 1 0 1 0 1 0 1 0 1 0 1 0 1 0 1 0 1 0 1 0 1 0 1 0 1 0 1 0 1 0 1 0 1 0 1 0 1 0 1 0 1-.1 1 0 1-.2 1-.2 1-.4 1-.2 1-.2 1-.1 1 0 1 0 1 .2 1 .2 1 .3 1 .3 1 .2 1 .1 1 .1"/>
<path stroke="#0000ff" stroke-width="1.5" fill="none" d="M1014.2 1667.8v11.5M1039.4 1667.8v11.5M1073.8 1667.8v11.5M1109.7 1667.8v11.5M1125.3 1667.8v11.5M1132.9 1667.8v11.5M1136.4 1667.8v11.5M1149.3 1667.7v11.5M1170.9 1667.7v11.5M1182.1 1666.2v11.5M1183.8 1666.1v11.5M1188.7 1664.7v11.5M1192.4 1662.8v11.5M1205.8 1662.6v11.5M1219.6 1667.7v11.5M1220.8 1667.7v11.5M1226.7 1667.7v11.5M1229.4 1667.7v11.5M1242.3 1666.3v11.5M1267.7 1667.7v11.5M1273 1667.8v11.5M1284.4 1668.9v11.5M1296.4 1667.8v11.5M1318.6 1666.7v11.5M1320.2 1666.9v11.5M1322.6 1667.4v11.5M1325.8 1667.7v11.5M1329.3 1667.7v11.5M1340.2 1667.7v11.5M1353.7 1667.7v11.5M1356.5 1667.7v11.5M1359.1 1667.8v11.5M1361.6 1667.8v11.5M1364.5 1667.8v11.5M1370.9 1667.8v11.5M1392.6 1667.8v11.5M1395.8 1667.7v11.5M1398.9 1667.7v11.5M1402.2 1667.7v11.5M1409.7 1667.7v11.5M1411.9 1667.7v11.5M1416.3 1667.7v11.5M1418.4 1667.7v11.5M1423.8 1667.7v11.5M1431.4 1666.9v11.5M1435.7 1666.8v11.5M1441.1 1667.6v11.5M1443.2 1667.7v11.5M1460.6 1667.7v11.5M1467 1667.7v11.5M1474.7 1667v11.5M1476.8 1667.3v11.5M1489.7 1667.7v11.5M1507 1667.7v11.5M1510.2 1667.7v11.5M1518.9 1667.8v11.5M1528.6 1667.8v11.5M1531.9 1667.8v11.5M1537.2 1667.7v11.5M1542.6 1667.7v11.5M1546 1667.7v11.5M1592.3 1666.9v11.5M1594.4 1667.4v11.5M1606.8 1667.7v11.5M1624.5 1667.7v11.5M1628.5 1667.7v11.5M1637.5 1667.7v11.5M1647.3 1667.7v11.5M1658 1666.7v11.5M1660.3 1667.3v11.5M1663.1 1667.7v11.5"/>
<path fill="none" stroke="#0000ff" stroke-width="1.15" stroke-linejoin="round" d="M1003 1773.7l.3-6 .3-1.2.3 8.7.3.8.3 1.6.3-8.1.3 4.9.3 5.1.3-5.3.3-1 .3 12.7.3-17.7.3 3.9.3-1.5.3 2.7.3 17.6.3-19.8.3 3.6.3-1.2.3-1 .3 7.7.3-6.2.3 7.3.3 1.8.3-8.9.3 9.2.3-12.6.3 7.4.3 3.3.3-10 .3 4.6.3 2.5.3.5.3-1.2.3 7.8.3-10 .3 6.9.3 4.6.3-13.2.3.8.3-2.8.3 8.4.3 3.6.3-15.4.3 4.1.3 1.8.3 14 .3-12.5.3 3.7.3-7.7.3 10.2.3-9.6.3 5.2.3-4.7.3 5.1.3-.3.3 2.2.3 0 .3 7.8.3-12.2.3 10 .3-5 .3-2.2.3 2.1.3-.5.3 3 .3-.3.3-.9.3-1.7.3-8.7.3 11.9.3 1.2.3-3.3.3-.3.3-5.6.3 5.5.3 2.7.3-10.5.3 1.7.3-1 .3 10.9.3-8 .3-6.5.3 9.2.3 5.3.3-7.3.3-1.2.3 3.1.3 7.3.3-9.3.3 0 .3 3.6.3-5.8.3-4.4.3 9 .3-2.5.3 2.9.3-.7.3 1.7.3-8.2.3 6.6.3-5.9.3 6.1.3-3.9.3 10.2.3-12.4.3-7 .3 11.5.3-2.7.3-2.2.3 5.6.3 7 .3-8.8.3-2.5.3 9.6.3-1 .3-5.8.3-2.8.3 5.6.3-7 .3.1.3-.9.3 6.3.3 4.5.3-6.9.3 7.8.3-18 .3 8.9.3-8.4.3 12 .3 1.4.3-14.5.3 4.5.3 3.5.3-7.5.3 2.6.3-.9.3 4.8.3-3.9.3-2 .3 1.6.3 2.7.3.7.3-1.6.3 6.8.3-7.4.3 2 .3 2.4.3-4.5.3 8 .3-2.5.3-.4.3-8 .3 3.8.3 3.3.3 7.8.3-12.7.3.1.3-3.7.3-.5.3 12.3.3-4.9.3 2.8.3 2.5.3-5.5.3 1 .3-5.5.3 1.8.3 4.4.3 4.4.3-1.7.3-8.3.3-.7.3 7 .3-.6.3.2.3-1.1.3 5.2.3-4.2.3 5.8.3-3.7.3-2.3.3-5.2.3 7.3.3 3.3.3-3.1.3-4.8.3-3.9.3 7.3.3 9.6.3-13.6.3 2.7.3 3.1.3 9.7.3-14.5.3 4.8.3 1.2.3-6.8.3 7.5.3-6.7.3 5.7.3 2.3.3-2 .3-5.8.3 9 .3 0 .3-2.5.3 2.8.3-5.9.3-1.5.3 2.8.3 3.4.3 2.3.3-7.9.3 4.5.3-.1.3-3.3.3-7.2.3 1.6.3 12.4.3-11.3.3-1.3.3 1 .3 5.5.3 7.6.3-4.3.3-4.2.3.8.3 3.7.3-1.6.3-8.3.3 20.7.3-8.2.3-9.5.3 3.9.3 3.2.3.9.3-4.2.3 2 .3 8.2.3-10.5.3 6.2.3-3.5.3-6.5.3 8.3.3-1.1.3 3.3.3 2 .3-2.1.3-3.3.3 1.2.3 1.8.3-7.5.3-1.2.3 8.5.3-9.1.3 3.6.3 9.8.3-4.5.3 1.7.3-6.4.3 5.6.3-9.8.3-.1.3 2.9.3-2.5.3 9 .3-6.5.3-4.8.3 9.6.3-1 .3 2 .3-11.1.3 1.6.3-6.8.3 14.3.3-4.3.3-2.2.3 8.5.3-9.9.3 1.2.3-1.9.3-.1.3 4.4.3-.7.3-.8.3-3 .3-1.2.3 3.6.3 2.3.3-3.9.3 1.9.3.7.3-2.8.3-2.5.3 6.2.3 8 .3-5 .3-2.9.3-2.5.3 1.1.3 8.1.3-10.2.3 13.5.3-8.1.3 1.1.3-3.3.3 6.4.3-.5.3-7.5.3 12.2.3-7.5.3-8.1.3 9.5.3-1.1.3-.6.3 3.5.3 1 .3-10.4.3 4.5.3.7.3.6.3-8.5.3 9.5.3-.7.3 8.8.3-12.9.3 1.8.3 4.3.3-2.5.3 4.1.3 1.8.3-10 .3 4.9.3 2.6.3-6.6.3 14.3.3-9 .3-.1.3-7.8.3 3.8.3-17.6.3 23.3.3-6.8.3 4 .3.9.3-1.1.3-2.5.3 5.3.3-9.1.3-3.6.3 1.9.3 10.5.3 2.9.3-10.3.3.4.3 4.6.3-8.5.3 4.1.3-4.5.3 6.7.3-14.1.3 6.6.3-1 .3 8.2.3 2.6.3-1.9.3 10 .3-9.3.3-4.9.3 2.2.3 5.2.3-.9.3 8.2.3-9.2.3-5.5.3-.8.3 9.3.3-17.2.3 15.2.3 2.3.3-5.9.3 3.5.3 5.2.3.8.3-.6.3-1.9.3-5.7.3-4.7.3-4.1.3 18.5.3-3.6.3-10.8.3 11.3.3-7.2.3-.8.3-3.4.3 15.4.3-16.8.3.8.3 8.9.3.5.3-1.4.3-7.3.3 4.2.3-2.9.3 1.7.3 10.7.3-7.5.3 2.5.3-8.3.3 1.8.3 4.5.3 3.9.3-6.5.3 7.9.3 4.2.3-20.7.3 8 .3 2.9.3-5.5.3 10.6.3-7.2.3 3.1.3-11.7.3 12.5.3-6.7.3 3.5.3-3.1.3-6.1.3 6.4.3-5.7.3 4.8.3 6.4.3-.7.3-14.4.3 14.3.3-5.9.3-1.3.3 5.9.3.6.3-6.3.3 7.4.3-4.7.3 10.3.3-17.3.3 6.3.3-.1.3-2.9.3-3 .3 12.4.3-4.5.3-8.1.3 3.9.3.6.3 3.7.3-6.2.3 12 .3-6.2.3 7.1.3-4.3.3-3.6.3.4.3 2.8.3-1.5.3.2.3 2.2.3 2.1.3-11.3.3-3.7.3 1.5.3 6.3.3-12.9.3-13.9.3.1.3-4.8.3-11.6.3 3 .3 11.1.3 8 .3 4.4.3 19.4.3-2.4.3-7 .3 2.8.3-11.5.3 8 .3-7.1.3-3.2.3-2.2.3 17.6.3-5.7.3-.2.3 10.3.3-4 .3 3.5.3-2.6.3 4.6.3-7.7.3 3.8.3 2 .3-5.5.3-.8.3 2.4.3-10.9.3 3.8.3-3 .3 2.2.3-2.1.3 18.7.3 2.2.3-4.4.3.7.3 2.7.3 2.2.3 6.7.3 8.5.3-6.6.3 4.9.3-3 .3-16.7.3-.2.3-7.4.3-1.3.3 9 .3-8.1.3 18.8.3-13.7.3-2.9.3 2.5.3 1.1.3 1.2.3.2.3-.3.3 3.7.3.5.3-5.6.3 1.4.3-5.7.3.9.3.7.3 9 .3-9.8.3 4.6.3-.4.3 3.3.3-6.5.3 1.3.3 7.3.3-3.9.3-4 .3 8.5.3-4.9.3-3 .3 6.7.3 4.3.3-10.3.3-3 .3-6.4.3 20.2.3-11.7.3 1.5.3-3 .3 2.7.3-3.2.3 12.4.3-3.3.3-5.6.3-3.5.3 8.3.3-7.2.3 9.8.3-5 .3-1.7.3-5.3.3 7.6.3-7.3.3 11.8.3-14.9.3 8 .3 13.3.3-16.4.3 8.4.3 1.2.3-3.5.3-2.4.3 5.6.3.4.3-7.9.3 10.2.3-1.3.3-10.8.3 10.6.3-2.9.3-1.7.3-3.8.3-2.6.3 8.2.3-9.6.3 4.3.3-6.4.3 5.8.3 3.7.3-8.8.3 6.9.3-7.1.3-14.7.3-10.5.3.4.3 3.7.3 1.8.3 20.3.3 7.5.3 14 .3-.1.3 10.7.3-5.6.3-3.7.3-13.7.3-.6.3-10.4.3 8.8.3 0 .3-6.1.3 6.2.3-7 .3 8.4.3-6.3.3 2.1.3 9.8.3-5.2.3 4.7.3-2.1.3-5.3.3 7.7.3-6.2.3-1.4.3-1.8.3-3.7.3 8.3.3-4.7.3 4 .3-2.6.3 3.6.3-5.7.3 3.7.3 3.7.3 1.4.3-6.2.3-8.7.3 25.5.3-10.3.3-8.7.3 9.6.3-3.6.3-6.8.3 4.9.3-6.6.3 3.9.3.3.3 1.9.3 5.7.3-12.2.3-7.7.3 17.6.3-5 .3 5.1.3-1.2.3 2.5.3-18.1.3 15.9.3-8.3.3-2.9.3 9.1.3-2.2.3-12.2.3 4.2.3 10.8.3-12.3.3 9.7.3 2 .3-2.4.3-.5.3 6.7.3-4.1.3-2.6.3 8 .3-10.3.3 4.9.3 4.8.3-8.6.3 13.9.3-5.1.3-2 .3-4.7.3 5.9.3-2.6.3 3.1.3-4.4.3 3.9.3-8.2.3-.4.3 3.7.3-5.7.3 8.2.3 1.4.3-8.2.3 7 .3-2.3.3-.6.3 9.5.3-8 .3 1.2.3-3 .3-2.7.3 4.9.3.8.3-.9.3 6.3.3-6.2.3.6.3 8.4.3-7.3.3 2.8.3-.7.3-5.2.3 8 .3-5.1.3-.6.3-.5.3 1.4.3 2.1.3-14.1.3 16.7.3-16 .3 4.1.3 9.1.3-3.9.3 3.7.3-9.2.3 5.6.3 2.4.3-6.8.3.5.3 4.1.3 1.6.3-14.5.3 10.2.3 3.2.3 5.3.3-12.2.3 5.9.3-6.2.3.8.3 2.2.3 10.7.3-5.4.3 2.1.3-4.8.3 12.2.3-12 .3 3.6.3-10.5.3 3 .3 7.3.3 7.3.3-1.5.3-14.4.3 4.4.3-.3.3 13.3.3-15.9.3 4.9.3 5 .3 2.2.3-14 .3 15.5.3-20 .3 11.6.3-3.3.3-4.6.3 5.1.3-.4.3-3.6.3 2.9.3 1.3.3 2 .3-24 .3 20.9.3 2.9.3 4.6.3.2.3-14.1.3 5.6.3 4.2.3 2.2.3 4.8.3-9.8.3-4.5.3 6.6.3 1.3.3-4.3.3-1.5.3 7.5.3-9.2.3 3.4.3 4.1.3.8.3-1.7.3-5 .3-12.9.3 12.3.3 6 .3-2.1.3-1.8.3-11 .3-2 .3-12 .3-.2.3 10.1.3-8.7.3 6.2.3 14.1.3 2.2.3-9.9.3 14.6.3-11 .3-.6.3 6.6.3-3.5.3-.1.3 4.9.3-.9.3-16.1.3 15.7.3 3.5.3-1.9.3-.1.3 2.6.3.3.3-1.4.3.2.3-4.3.3 5.7.3-3.8.3 7.8.3-6.6.3.6.3-4.5.3 4.8.3 4 .3-8 .3 11.2.3-5.5.3-2.8.3 6.1.3-2.1.3-11.1.3 14.2.3-1.9.3-3.5.3-15 .3-3.3.3 9.6.3 12.4.3.6.3-3.9.3-1.1.3-24.1.3 24.3.3-4.4.3 3.6.3-4.2.3 9 .3-5.2.3 3.4.3-1.9.3-3.1.3-4.1.3.7.3 1.7.3 5.1.3 9.1.3-8 .3-2.7.3 5.4.3-9.6.3 6.7.3 0 .3-12.1.3 12.1.3-4.2.3 2.7.3-2.5.3 3.7.3-4.1.3 7.7.3.5.3-9.6.3 6.2.3-2.6.3 7 .3-14.6.3 8.9.3-1.7.3-6 .3 11.9.3-3.7.3-7.5.3 10 .3.4.3-12.3.3 6.3.3 0 .3.3.3.3.3-1.7.3-6.2.3 9 .3-6.8.3 3.6.3 5.6.3 6.7.3-2.3.3-10.1.3 2.6.3 7.6.3-3.9.3 1.5.3-8.6.3 6.6.3.6.3 3.7.3 2 .3-11.9.3 10 .3-7.8.3 1.5.3 6.6.3-6 .3 1.7.3 5.6.3 3 .3-7.3.3-7.8.3 5.5.3-4.1.3 1 .3 3.5.3-3.3.3 1.5.3-.6.3-.6.3-8.5.3 8.2.3 0 .3 17.2.3-12 .3-2.6.3-4.5.3 5.5.3-9.5.3 10.1.3-6.2.3.5.3 8.6.3-5.4.3-.7.3-5 .3 12.4.3-18.3.3 14.9.3-.8.3 1 .3-5 .3-2.2.3 13.8.3-6.7.3 2.3.3-12.2.3 12.7.3 2.3.3-3.5.3-12.3.3 2.3.3-7.6.3 13.7.3 3.6.3-3.2.3-3.5.3-2.7.3 8.7.3-9 .3 14.4.3-6.6.3 4.5.3-6.6.3-1.9.3 3.8.3-6.4.3 2.9.3.3.3-3.9.3 7.1.3-8.3.3-4.2.3 7.7.3.7.3-.9.3 1.4.3.7.3.8.3-.9.3-.6.3-7.7.3 10.6.3 2.7.3-7.5.3-1.8.3 8.4.3-7.6.3 4.1.3 1.5.3 2.9.3 9.3.3-16 .3-15 .3 16.6.3-4.1.3 6.9.3-1.4.3 2.3.3-4.8.3 4.5.3-6.9.3 6.2.3-8.9.3 1 .3 3.8.3 3.5.3-13.5.3 10.2.3 3.2.3 4.5.3-12.8.3 15 .3-10.8.3 4.2.3 5.1.3-11.3.3-5.4.3 15.2.3-13 .3 7.8.3-4.8.3 13.5.3-7.5.3 6.9.3-6 .3-5.3.3 7 .3-9.2.3 2.3.3 7.1.3-.9.3-8.4.3 3.8.3-.3.3-5.2.3 11.8.3-12 .3 5.6.3.3.3.7.3-16.1.3 16.1.3-3.8.3 9.7.3-14.2.3 12 .3-1.9.3-6.9.3 5.1.3 2.4.3-9.5.3-2.3.3 7.1.3 4.8.3-1.4.3-1.2.3-3.3.3.8.3 7 .3-1.5.3 5.4.3-5.1.3-2.6.3-2.7.3 2 .3 7.6.3-10.1.3 1 .3 3.1.3 1.1.3 4 .3-7.4.3 11.8.3-10.6.3 1.1.3.2.3 5.2.3-2.2.3-3.7.3-6.4.3-1.3.3 8 .3-.1.3-2.1.3 1.7.3-4.6.3 4.8.3 5.2.3-4 .3-1.8.3.4.3 4.1.3-7.5.3 1.1.3-1.8.3-4.7.3 14.8.3-3 .3-7.3.3 12.9.3-12.6.3 5.5.3-5.8.3 10.8.3-3.9.3 1.1.3-.2.3 8.4.3-22 .3 9.2.3 2.3.3 2.3.3-2.7.3.6.3 4.6.3.6.3-7.4.3 9.2.3-5.7.3 1.1.3 9.6.3-2.3.3-17 .3 13.2.3 1.3.3-2.7.3-4.4.3 10.6.3-9.6.3 2.4.3-3.6.3 2.5.3-6.8.3 12.6.3-9.3.3 3.1.3-2.5.3 9.4.3 3 .3-8.1.3-1.9.3-.4.3-6.6.3-.2.3 2.1.3 3 .3-4.1.3 1.8.3.9.3 3.1.3-2.5.3-4.3.3 2.7.3-6.2.3 12.4.3-2 .3-1.2.3-10.5.3 6.7.3 3.3.3-3.8.3 5.6.3-11.2.3 9.9.3 3.1.3-8 .3 0 .3-2.9.3 7.9.3-3.4.3 1.1.3-3 .3 5.9.3-2.1.3-1 .3-1.3.3 3.8.3-3.8.3-1.1.3.9.3 0 .3-3.6.3 15 .3-.6.3-15.7.3 4.5.3-1.4.3 11.9.3-10.3.3 4.8.3-6.1.3 2.7.3 5.6.3 6.5.3-9.4.3 6.1.3 1.1.3-1.3.3-.8.3-9.8.3 8.9.3-4 .3-10.5.3 12.3.3-2.6.3-4.1.3 7 .3-7.5.3 1.5.3-.5.3 9.6.3-9.2.3 11.2.3-2.7.3.3.3-5.5.3 0 .3.5.3 2.9.3-2.4.3 2.5.3-9.5.3 10.9.3 2 .3-3.8.3-.5.3-1.1.3-4.9.3-2.7.3 4.2.3 1.1.3-2 .3 3 .3-5.2.3 2.6.3-4.3.3-.8.3 12.7.3-5.4.3-2.4.3-4 .3 7.2.3 6.8.3-12.5.3 1.7.3 3.7.3-6.6.3-4.9.3 13.1.3-5.1.3 5.7.3-.4.3-3.8.3-7.7.3 12.9.3-3.6.3-1.3.3-.5.3 0 .3 2.1.3-7.9.3 6.6.3-5.3.3.9.3 3.7.3-2 .3 3.1.3-.8.3-2.5.3 6.3.3-.9.3-4 .3-2.2.3 11 .3-14 .3 9.8.3-6 .3 7.4.3-4.5.3 10.2.3-5.5.3-2.4.3-4.7.3 11.5.3-2.2.3-6.5.3 3.4.3-2 .3 16.9.3-1.3.3-7.6.3 5.2.3-7.3.3-.3.3 1 .3 6.1.3-1.7.3 11 .3 4.5.3-3.3.3 4 .3 7.9.3-11.1.3-9.4.3-5.2.3-6.4.3-2.1.3 2.4.3-7.1.3 3.9.3 3.4.3-3.9.3-11.4.3 16.7.3-11.3.3 2.6.3 5.2.3 6.4.3-5.8.3-2.8.3-2.7.3-1 .3-2.1.3 8.6.3-4.4.3 1.2.3-7.6.3 7.4.3-9 .3 10.3.3 6.8.3-13.3.3-.8.3 12 .3-8.7.3 8.3.3-12.6.3 7.9.3 3.1.3-2.7.3-6.6.3-8.5.3 12.4.3-2.7.3 4.2.3 7.7.3-15.7.3 6 .3 5.1.3 6.3.3-9.1.3 5.6.3-10 .3 4.6.3-.6.3 3 .3-3.1.3-.4.3 5.5.3-4.9.3-.8.3 2.5.3-1.4.3 6 .3-1.8.3-7.4.3 4.3.3-8.2.3 3.6.3 4.5.3 6 .3-4.3.3 2.9.3-8.5.3 9.6.3-3.3.3-4.6.3.3.3 1.1.3-5.9.3 0 .3 3.6.3 5 .3-1.8.3 8.8.3-3.3.3-6.1.3 7.5.3-7.2.3.7.3 3 .3 9.1.3-12.7.3 9.7.3-10.4.3 6.8.3 1 .3-2.2.3.4.3-5.1.3-5.9.3 7.8.3-.1.3 8.3.3-7.9.3 1.2.3.8.3-5.9.3 4.2.3 4.4.3-6.1.3-5 .3 5.7.3 5 .3-5.3.3-1.5.3 6.1.3-11.5.3 7.1.3-.2.3-4.1.3 3.1.3 5.2.3-.8.3-3.5.3 4.2.3-2.6.3-8.7.3 10.5.3-5.2.3 1 .3.2.3 6.4.3-9 .3 4.8.3-3.1.3-2.9.3-5 .3 10.8.3-6.1.3.6.3 1.5.3-2.5.3-5 .3 15.3.3-4.6.3.1.3-2.7.3-1.7.3 1.3.3 1 .3.9.3 5.8.3-12.8.3-1.9.3 4.3.3 4.7.3-2.1.3-9.7.3 11.7.3 4.1.3-8.5.3 5 .3-2.9.3-3.9.3 8.7.3-5.9.3-6.5.3 11 .3-14.5.3 19.3.3-20.5.3 7.1.3-5.9.3 11.8.3 3.1.3-12.9.3 8.8.3-7.6.3-3 .3 9.6.3 5 .3-5.6.3.5.3 4.3.3-2.8.3 2.7.3 0 .3-2.3.3.4.3.7.3-3.7.3-.9.3-1.7.3 7.2.3-6.3.3 7.8.3.7.3-5.9.3.2.3 7.2.3-6.3.3 7.9.3-14.7.3-9.5.3 16 .3.3.3-2.4.3-5.5.3 7.1.3-2 .3 4.1.3-1.6.3-4.7.3 1.5.3 5.7.3-4.8.3-2.8.3 1.4.3 10.5.3 2 .3-7.5.3.6.3-.7.3-1.5.3-11.5.3 20.8.3-11.9.3 2.8.3.6.3-6.7.3-2.9.3 9.8.3-1.6.3 1.5.3 5.3.3-12.8.3 1.2.3 5.2.3 3.5.3.6.3-9.8.3 2.8.3-1.4.3-2.1.3 6.8.3-7.9.3 9.3.3-6.9.3 13.2.3-11.6.3 6.9.3.8.3-7.4.3 4.5.3-.5.3-5.4.3 2.8.3 11.7.3-8.3.3.9.3-20.6.3 9.4.3 11.9.3-3.8.3-4.7.3 2.2.3.7.3-6.2.3 13 .3-13.9.3 19.8.3-18.7.3 5 .3 7.5.3-1.6.3 3.4.3-7.8.3-6 .3 14.3.3-8.2.3 4.8.3 5.3.3 1.6.3-18.1.3 12.8.3-9 .3 3.6.3-1.2.3 12.7.3-6.7.3-5.1.3 9.1.3-9 .3 11.3.3-9.3.3 5.1.3 3.6.3-10.7.3 9.1.3-1.4.3-1 .3-7.3.3 6.4.3-4 .3 5.2.3-11.7.3 8.5.3-3.3.3-2.2.3 12.3.3-11.5.3 2.9.3 4.6.3-7.1.3 10 .3-10.2.3-.8.3 1.3.3-1.5.3 5.8.3-10.3.3-16 .3-4.1.3-14.8.3 6.5.3 2.6.3 5.9.3 16.7.3.2.3 1.6.3-8 .3 7.1.3 2.9.3-11.4.3 15.3.3-3.8.3 2.2.3-4 .3-3.3.3 8.4.3 1.1.3 1.4.3 11.2.3-10.7.3 10.9.3-11.9.3 7.2.3-7.8.3 1.3.3 10.5.3-5.2.3-9.7.3 10.9.3 1.2.3-3 .3-5.5.3 2.3.3 3.4.3-1.7.3-.7.3-5.4.3 14.2.3-4.5.3-8.7.3-2.6.3 11.5.3-5 .3-9.5.3 11.1.3.3.3-5.3.3 0 .3 8.3.3-9.2.3-1.2.3-3.6.3 10.5.3 6.6.3-6.7.3-8.3.3 6.7.3.1.3-11.1.3-.2.3-8 .3 6.9.3-20.4.3 2 .3 11.3.3 12.1.3-1.1.3 8.9.3-1.8.3 5.6.3-6 .3-2.5.3-.6.3 1.7.3 4.1.3 2.7.3-7.2.3 9.3.3-8.3.3 7.7.3-8.6.3 2.5.3 4 .3-4 .3 15.8.3-12.8.3 2 .3-9.1.3 3 .3 7.8.3-1.3.3-3.2.3-.2.3-5.2.3 4.4.3-4 .3-3 .3 4.9.3 9.2.3-9.1.3 3.1.3-6.8.3 3.3.3 6.8.3-4.5.3-2.8.3 7.9.3-5.7.3 3.6.3 6.2.3 1.1.3-16.4.3 6.9.3-6.3.3 4.9.3 2.3.3-4.4.3 9.1.3-6.5.3-7.8.3 8.2.3-6.2.3 3.8.3-1.7.3 3.7.3-8.7.3 6 .3 3.2.3-4.4.3-4.5.3 12.5.3-5.3.3-5 .3-8.9.3 12.9.3 4.9.3-8.8.3 3.5.3 8.7.3-7.3.3 1.3.3-1.1.3 6.7.3-16.5.3 9.9.3.2.3 2.5.3-4.2.3-10.2.3 6.1.3 4.8.3 7.1.3-11.5.3 11.8.3-8.3.3 4.6.3-.9.3-6 .3 5.2.3-3.7.3 8.9.3-.1.3-4.7.3-.6.3.1.3 5.2.3-4.9.3-7.1.3 7.4.3 13.8.3-20.3.3 8.6.3-3.4.3 5.6.3-.5.3-7.4.3 5.3.3-9.1.3 7.2.3-9.1.3 12.5.3-7.7.3 4.6.3-5.5.3 6.8.3-3.4.3-3.4.3 5.6.3-1.9.3-3.4.3.8.3 4.1.3-6 .3 6.4.3-.2.3-4.1.3 3.9.3-6.8.3 5.7.3-3.3.3 6.4.3-.4.3 7.5.3-13 .3 5.9.3-5.2.3 4.9.3 6.5.3-3.9.3-4.9.3-.2.3-5.5.3-1.7.3 7.5.3-3.6.3 6.4.3-4.8.3 6.4.3-7.3.3-.2.3 11.6.3-11.4.3 3.2.3.9.3 1.2.3-12.9.3 12.8.3-7.1.3-3.2.3 11.3.3-9.2.3 9 .3 2.9.3-7.1.3.4.3-7.7.3 5 .3 12.2.3-6.6.3.5.3.3.3-1 .3.8.3.9.3-11 .3-.1.3 4.6.3 4.6.3-9.6.3 9.8.3-7.9.3 13.5.3-4.3.3 7 .3-5.3.3-13.2.3 6.9.3 2.4.3 0 .3-7.6.3-2.1.3 2.5.3 2.8.3 1 .3-2.2.3.4.3 1.6.3 4.1.3-7.1.3 3.9.3 3.6.3-7.4.3 1.7.3-5.3.3 5.9.3.3.3 3.5.3-3 .3-5.9.3 6.8.3-6 .3 2.3.3.6.3 12.7.3-3.2.3-14.1.3 9.1.3 3.3.3-1 .3-4.2.3.5.3-.8.3 0 .3-.9.3-3.3.3 9 .3-6.2.3 12.6.3-8.5.3.4.3 4.6.3-3.3.3-1.5.3-6.4.3.1.3-.6.3 11.6.3-7.1.3 2.7.3 1.2.3-5.2.3 3.8.3-2.2.3-2.5.3 3 .3-3.4.3 4.5.3 0 .3 1.4.3 6.9.3-8.1.3 6.4.3-.7.3-8.2.3-1.2.3 1 .3 6 .3-2.5.3 1.3.3.8.3-.2.3 4 .3-14.6.3 7.7.3-5.6.3 12.4.3-5.6.3.6.3-12.3.3 12 .3 2.4.3-4.5.3 2.6.3-.4.3-6.3.3 6.7.3-1.6.3-2.8.3 10.3.3-2.4.3-3.8.3-1.2.3 6.7.3-9.3.3 6.2.3 3.7.3-12.9.3 6 .3-6.9.3 20.6.3-15.2.3 3 .3 5.5.3-10.8.3 5.6.3-6.5.3 12.8.3-9.6.3 2.6.3-2.7.3 9.6.3-8.5.3-3.5.3-2.5.3 5.3.3-7.8.3 5.6.3-2.6.3 1 .3-4.9.3 1.3.3-1.6.3 4.5.3 7.2.3-3.5.3.5.3 4.6.3-17 .3 16.2.3-11.1.3 17.5.3-12.4.3 4 .3-15.8.3 8.8.3 4.4.3 4.2.3-7.3.3-7.7.3 7.2.3 1.4.3 7.4.3-9.5.3 11.4.3-5.3.3-.3.3 1.7.3 2.6.3-3 .3-3.6.3-.1.3 1.9.3.2.3-3.2.3 4.6.3-1.9.3 1.1.3-1.2.3-7.1.3 4.6.3 2.6.3-2.2.3 2.4.3 2.1.3 7 .3-3.2.3-9.7.3 2.6.3-.8.3-1.2.3-.8.3 2.1.3 3.3.3 3.8.3 4.6.3-5 .3-8.7.3 1.4.3 4.9.3.4.3 1.3.3-12.9.3 10.6.3-4.1.3 5.9.3-7.9.3 5.7.3-5.6.3 8.9.3-6.4.3 10.3.3-17.1.3 1.1.3 12.6.3-4.3.3-1 .3-2.8.3 4.4.3.6.3-3.2.3 3.6.3 6.5.3-7.9.3 5 .3-8.5.3-.5.3-1.5.3-1.7.3 1.8.3 1 .3 5 .3-9.3.3 13.8.3-14.1.3 10.9.3-1.2.3-.2.3-2.9.3 4.5.3-13 .3 18.7.3-5.3.3.6.3-2.6.3-5 .3 3.5.3-4.8.3 5.6.3 6 .3-13.1.3 12.9.3-5.2.3-.6.3 4.4.3-4.5.3.2.3 1.5.3-3.7.3 3 .3-6.6.3 7.6.3 8.3.3-6.9.3.9.3.3.3-7.8.3 3 .3 2.7.3-.6.3-4 .3 2.2.3.9.3 1.8.3-9.1.3 10.7.3-.6.3-4.6.3-7.7.3 9.4.3-6.3.3 10.5.3-8.7.3 9.7.3 5.5.3-5 .3-3.9.3-5 .3 3.4.3.3.3-4.3.3-7.6.3 10.4.3 4 .3-2 .3-2 .3-2.5.3 3.8.3 4.9.3-19.6.3 21.2.3-9.5.3.6.3-.2.3-5.1.3 11.5.3-14.6.3 11.2.3-11.7.3 13.7.3-8.7.3 7.3.3.4.3 2.8.3-6.4.3 3.1.3 1.3.3-7.4.3 1.7.3 12.3.3-20.5.3 17.3.3-7.2.3-2.4.3-5.2.3 7.8.3 4.1.3-4.8.3 8.2.3-11.3.3 1.6.3 1.8.3-2.6.3 2.9.3-4 .3-2.2.3.2.3 8.1.3 1.7.3-8.1.3 9.8.3-4.9.3-.5.3-4 .3 4.4.3-1.9.3-2.1.3 7.4.3-.5.3-3 .3 5 .3-.5.3-1.3.3-2.2.3-4.6.3 3.6.3 3.5.3-3 .3.1.3.9.3 3 .3-8.7.3 7.7.3 3.7.3-14.4.3 1.2.3 5.8.3 6.5.3-.2.3-3 .3-.3.3-2.7.3.4.3 4.8.3-10.5.3 2.7.3 4.3.3 5 .3-11.5.3 2.8.3 2.2.3 1.8.3 5.2.3-4.7.3-6.7.3-2.4.3-1.3.3-1.2.3 5.3.3 11 .3-8.3.3-3.1.3 2.8.3-1.9.3 9.5.3-5.5.3-5.6.3 4.8.3 1.1.3-5.8.3-1.9.3 5.2.3-11.5.3 5.4.3 7.6.3 1 .3 4.3.3-5.7.3-1.6.3-2.5.3-.2.3 6.1.3-2.5.3 2.7.3-7.3.3 6.7.3-10.2.3-1.6.3 12.6.3-1.2.3 1.2.3-6.7.3 5.4.3-2.2.3-6.8.3 8.2.3-9.4.3 8.3.3 1.2.3-6.6.3 8 .3-8.2.3-.4.3 8.4.3-3 .3-6.6.3 21.1.3-11.6.3-.4.3-2.7.3-2.9.3 2.8.3-.5"/>
<text x="1022.9" y="1592" font-family="'Liberation Sans',Arial,sans-serif" font-weight="bold" font-size="15.43" textLength="39.8" lengthAdjust="spacingAndGlyphs" fill="#000">(006)</text>
<text x="1091" y="1526.2" font-family="'Liberation Sans',Arial,sans-serif" font-weight="bold" font-size="16.70" textLength="40.0" lengthAdjust="spacingAndGlyphs" fill="#000">(110)</text>
<text x="1182.4" y="1526.2" font-family="'Liberation Sans',Arial,sans-serif" font-weight="bold" font-size="16.70" textLength="40.2" lengthAdjust="spacingAndGlyphs" fill="#000">(203)</text>
<text x="1223.8" y="1561.2" font-family="'Liberation Sans',Arial,sans-serif" font-weight="bold" font-size="16.81" textLength="39.0" lengthAdjust="spacingAndGlyphs" fill="#000">(205)</text>
<text x="1380.1" y="1558.2" font-family="'Liberation Sans',Arial,sans-serif" font-weight="bold" font-size="16.70" textLength="39.4" lengthAdjust="spacingAndGlyphs" fill="#000">(300)</text>
<text x="1417.4" y="1531.5" font-family="'Liberation Sans',Arial,sans-serif" font-weight="bold" font-size="15.85" textLength="40.4" lengthAdjust="spacingAndGlyphs" fill="#000">(217)</text>
<text x="1487" y="1541.7" font-family="'Liberation Sans',Arial,sans-serif" font-weight="bold" font-size="17.02" textLength="55.0" lengthAdjust="spacingAndGlyphs" fill="#000">(20 11)</text>
<text x="1537.3" y="1593.7" font-family="'Liberation Sans',Arial,sans-serif" font-weight="bold" font-size="15.85" textLength="40.6" lengthAdjust="spacingAndGlyphs" fill="#000">(220)</text>
<text x="1601.4" y="1589.8" font-family="'Liberation Sans',Arial,sans-serif" font-weight="bold" font-size="16.70" textLength="40.5" lengthAdjust="spacingAndGlyphs" fill="#000">(317)</text>
<text x="1143.3" y="1414.5" font-family="'Liberation Sans',Arial,sans-serif" font-weight="bold" font-size="15.21" textLength="41.3" lengthAdjust="spacingAndGlyphs" fill="#000">(114)</text>
<text x="1120.3" y="1441.5" font-family="'Liberation Sans',Arial,sans-serif" font-weight="bold" font-size="16.81" textLength="38.9" lengthAdjust="spacingAndGlyphs" fill="#000">(107)</text>
<text x="1007.9" y="1371.3" font-family="'Liberation Sans',Arial,sans-serif" font-weight="bold" font-size="19.47" textLength="23.2" lengthAdjust="spacingAndGlyphs" fill="#000">(f)</text>
<text x="1007.9" y="1401.5" font-family="'Liberation Sans',Arial,sans-serif" font-weight="bold" font-size="18.94" textLength="82.1" lengthAdjust="spacingAndGlyphs" fill="#000">(x=0.50)</text>
<text x="1216.2" y="1401.7" font-family="'Liberation Sans',Arial,sans-serif" font-weight="bold" font-size="19.29" textLength="159.1" lengthAdjust="spacingAndGlyphs">Sr<tspan dy="7.6">1-x</tspan><tspan dy="-7.6">Ni</tspan><tspan dy="7.6">x</tspan><tspan dy="-7.6">Fe</tspan><tspan dy="7.6">12</tspan><tspan dy="-7.6">O</tspan><tspan dy="7.6">19</tspan></text>
<text x="973.3" y="1865.8" font-family="'Liberation Sans',Arial,sans-serif" font-weight="bold" font-size="17.46" textLength="10.5" lengthAdjust="spacingAndGlyphs" fill="#000">0</text>
<text x="942.6" y="1797.7" font-family="'Liberation Sans',Arial,sans-serif" font-weight="bold" font-size="17.46" textLength="41.3" lengthAdjust="spacingAndGlyphs" fill="#000">1000</text>
<text x="943.2" y="1729.6" font-family="'Liberation Sans',Arial,sans-serif" font-weight="bold" font-size="17.46" textLength="40.7" lengthAdjust="spacingAndGlyphs" fill="#000">2000</text>
<text x="943.3" y="1661.5" font-family="'Liberation Sans',Arial,sans-serif" font-weight="bold" font-size="17.46" textLength="40.5" lengthAdjust="spacingAndGlyphs" fill="#000">3000</text>
<text x="943.5" y="1593.4" font-family="'Liberation Sans',Arial,sans-serif" font-weight="bold" font-size="17.46" textLength="40.3" lengthAdjust="spacingAndGlyphs" fill="#000">4000</text>
<text x="943.2" y="1525.3" font-family="'Liberation Sans',Arial,sans-serif" font-weight="bold" font-size="17.46" textLength="40.7" lengthAdjust="spacingAndGlyphs" fill="#000">5000</text>
<text x="943.2" y="1457.2" font-family="'Liberation Sans',Arial,sans-serif" font-weight="bold" font-size="17.46" textLength="40.7" lengthAdjust="spacingAndGlyphs" fill="#000">6000</text>
<text x="943" y="1389.1" font-family="'Liberation Sans',Arial,sans-serif" font-weight="bold" font-size="17.46" textLength="40.9" lengthAdjust="spacingAndGlyphs" fill="#000">7000</text>
<text x="991.8" y="1899.3" font-family="'Liberation Sans',Arial,sans-serif" font-weight="bold" font-size="19.86" textLength="21.6" lengthAdjust="spacingAndGlyphs" fill="#000">20</text>
<text x="1109.2" y="1899.3" font-family="'Liberation Sans',Arial,sans-serif" font-weight="bold" font-size="19.86" textLength="21.4" lengthAdjust="spacingAndGlyphs" fill="#000">30</text>
<text x="1226.7" y="1899.3" font-family="'Liberation Sans',Arial,sans-serif" font-weight="bold" font-size="19.86" textLength="21.2" lengthAdjust="spacingAndGlyphs" fill="#000">40</text>
<text x="1343.5" y="1899.3" font-family="'Liberation Sans',Arial,sans-serif" font-weight="bold" font-size="19.86" textLength="21.6" lengthAdjust="spacingAndGlyphs" fill="#000">50</text>
<text x="1460.8" y="1899.3" font-family="'Liberation Sans',Arial,sans-serif" font-weight="bold" font-size="19.86" textLength="21.6" lengthAdjust="spacingAndGlyphs" fill="#000">60</text>
<text x="1577.8" y="1899.3" font-family="'Liberation Sans',Arial,sans-serif" font-weight="bold" font-size="19.86" textLength="21.8" lengthAdjust="spacingAndGlyphs" fill="#000">70</text>
<text x="1695.3" y="1899.3" font-family="'Liberation Sans',Arial,sans-serif" font-weight="bold" font-size="19.86" textLength="21.6" lengthAdjust="spacingAndGlyphs" fill="#000">80</text>
<text x="1340.6" y="1943.2" font-family="'Liberation Sans',Arial,sans-serif" font-weight="bold" font-size="26.86" textLength="14.8" lengthAdjust="spacingAndGlyphs" fill="#000">2</text><text x="1355.1" y="1943" font-family="'Liberation Serif','Times New Roman',serif" font-weight="normal" font-size="23.83" textLength="15.3" lengthAdjust="spacingAndGlyphs" fill="#000">θ</text>
<text transform="translate(914.6,1713) rotate(-90)" font-family="'Liberation Sans',Arial,sans-serif" font-weight="bold" font-size="27.00" textLength="175.3" lengthAdjust="spacingAndGlyphs">Intensity (a.u)</text>
<rect x="1463.5" y="1361.1" width="237.9" height="120.4" fill="#fff" stroke="#000" stroke-width="1.2"/>
<path stroke="#ff00ff" stroke-width="1.3" d="M1466.5 1376.7H1521.5"/>
<path stroke="#0000ff" stroke-width="1.6" d="M1495.5 1370.7v12"/>
<path stroke="#3a3aff" stroke-width="1.5" d="M1466.5 1406.2H1521.5"/>
<path stroke="#ff3030" stroke-width="1.6" d="M1466.5 1437H1521.5"/>
<ellipse cx="1493" cy="1437" rx="1.6" ry="2.2" fill="#ff0000"/>
<path stroke="#222" stroke-width="1.4" d="M1466.5 1468H1521.5"/>
<circle cx="1493" cy="1468" r="1.8" fill="#fff" stroke="#222" stroke-width="0.9"/>
<text x="1527.7" y="1384.6" font-family="'Liberation Sans',Arial,sans-serif" font-weight="normal" font-size="24.86" textLength="170.4" lengthAdjust="spacingAndGlyphs" fill="#000">Braggs position</text>
<text x="1529.2" y="1413.8" font-family="'Liberation Sans',Arial,sans-serif" font-weight="normal" font-size="24.86" textLength="118.6" lengthAdjust="spacingAndGlyphs" fill="#000">Yobs- Ycal</text>
<text x="1529.2" y="1444.5" font-family="'Liberation Sans',Arial,sans-serif" font-weight="normal" font-size="24.86" textLength="50.6" lengthAdjust="spacingAndGlyphs" fill="#000">Ycal</text>
<text x="1529.2" y="1474.6" font-family="'Liberation Sans',Arial,sans-serif" font-weight="normal" font-size="24.86" textLength="56.3" lengthAdjust="spacingAndGlyphs" fill="#000">Yobs</text>
</svg>
</body></html>
